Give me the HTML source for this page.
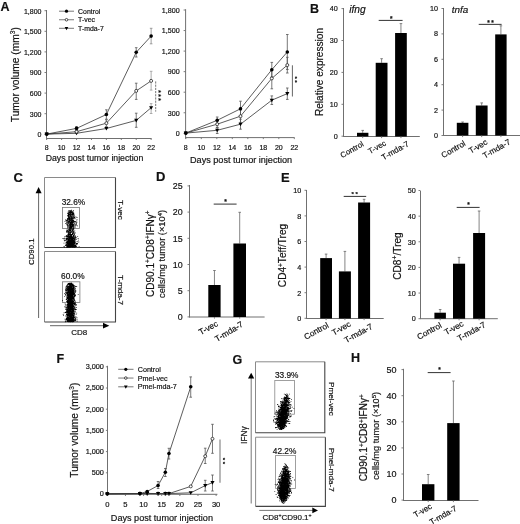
<!DOCTYPE html>
<html><head><meta charset="utf-8"><title>Figure</title>
<style>
html,body{margin:0;padding:0;background:#fff;}
svg{display:block;}
text{font-family:"Liberation Sans", Arial, Helvetica, sans-serif;fill:#111;stroke:#111;stroke-width:0.18px;}
</style></head>
<body>
<svg width="520" height="524" viewBox="0 0 520 524">
<rect width="520" height="524" fill="#fff"/>
<text x="0.50" y="11.30" font-size="12.5" font-weight="bold" fill="#000">A</text>
<line x1="46.50" y1="10.00" x2="46.50" y2="139.50" stroke="#707070" stroke-width="1.0"/>
<line x1="46.00" y1="138.50" x2="151.60" y2="138.50" stroke="#707070" stroke-width="1.0"/>
<line x1="44.50" y1="134.30" x2="46.50" y2="134.30" stroke="#707070" stroke-width="0.9"/>
<text x="41.50" y="137.17" font-size="7.0" text-anchor="end">0</text>
<line x1="44.50" y1="113.70" x2="46.50" y2="113.70" stroke="#707070" stroke-width="0.9"/>
<text x="41.50" y="116.57" font-size="7.0" text-anchor="end">300</text>
<line x1="44.50" y1="93.10" x2="46.50" y2="93.10" stroke="#707070" stroke-width="0.9"/>
<text x="41.50" y="95.97" font-size="7.0" text-anchor="end">600</text>
<line x1="44.50" y1="72.50" x2="46.50" y2="72.50" stroke="#707070" stroke-width="0.9"/>
<text x="41.50" y="75.37" font-size="7.0" text-anchor="end">900</text>
<line x1="44.50" y1="51.90" x2="46.50" y2="51.90" stroke="#707070" stroke-width="0.9"/>
<text x="41.50" y="54.77" font-size="7.0" text-anchor="end">1,200</text>
<line x1="44.50" y1="31.30" x2="46.50" y2="31.30" stroke="#707070" stroke-width="0.9"/>
<text x="41.50" y="34.17" font-size="7.0" text-anchor="end">1,500</text>
<line x1="44.50" y1="10.70" x2="46.50" y2="10.70" stroke="#707070" stroke-width="0.9"/>
<text x="41.50" y="13.57" font-size="7.0" text-anchor="end">1,800</text>
<line x1="46.70" y1="138.50" x2="46.70" y2="140.00" stroke="#707070" stroke-width="0.9"/>
<text x="46.70" y="150.30" font-size="6.9" text-anchor="middle">8</text>
<line x1="61.62" y1="138.50" x2="61.62" y2="140.00" stroke="#707070" stroke-width="0.9"/>
<text x="61.62" y="150.30" font-size="6.9" text-anchor="middle">10</text>
<line x1="76.54" y1="138.50" x2="76.54" y2="140.00" stroke="#707070" stroke-width="0.9"/>
<text x="76.54" y="150.30" font-size="6.9" text-anchor="middle">12</text>
<line x1="91.46" y1="138.50" x2="91.46" y2="140.00" stroke="#707070" stroke-width="0.9"/>
<text x="91.46" y="150.30" font-size="6.9" text-anchor="middle">14</text>
<line x1="106.38" y1="138.50" x2="106.38" y2="140.00" stroke="#707070" stroke-width="0.9"/>
<text x="106.38" y="150.30" font-size="6.9" text-anchor="middle">16</text>
<line x1="121.30" y1="138.50" x2="121.30" y2="140.00" stroke="#707070" stroke-width="0.9"/>
<text x="121.30" y="150.30" font-size="6.9" text-anchor="middle">18</text>
<line x1="136.22" y1="138.50" x2="136.22" y2="140.00" stroke="#707070" stroke-width="0.9"/>
<text x="136.22" y="150.30" font-size="6.9" text-anchor="middle">20</text>
<line x1="151.14" y1="138.50" x2="151.14" y2="140.00" stroke="#707070" stroke-width="0.9"/>
<text x="151.14" y="150.30" font-size="6.9" text-anchor="middle">22</text>
<text x="94.50" y="161.20" font-size="8.7" text-anchor="middle">Days post tumor injection</text>
<text transform="translate(18.70,74.70) rotate(-90)" font-size="10.2" text-anchor="middle">Tumor volume (mm<tspan dy="-3.8" font-size="6.6">3</tspan><tspan dy="3.8">)</tspan></text>
<line x1="59.00" y1="11.20" x2="74.00" y2="11.20" stroke="#555" stroke-width="0.8"/>
<circle cx="66.50" cy="11.20" r="1.6" fill="#000"/>
<text x="78.10" y="13.80" font-size="6.9">Control</text>
<line x1="59.00" y1="19.75" x2="74.00" y2="19.75" stroke="#555" stroke-width="0.8"/>
<circle cx="66.50" cy="19.75" r="1.3" fill="#fff" stroke="#222" stroke-width="0.8"/>
<text x="78.10" y="22.35" font-size="6.9">T-vec</text>
<line x1="59.00" y1="28.30" x2="74.00" y2="28.30" stroke="#555" stroke-width="0.8"/>
<path d="M64.66,26.92 L68.34,26.92 L66.50,30.14 Z" fill="#000"/>
<text x="78.10" y="30.90" font-size="6.9">T-mda-7</text>
<line x1="136.22" y1="47.70" x2="136.22" y2="57.00" stroke="#555" stroke-width="0.8"/>
<line x1="134.92" y1="47.70" x2="137.52" y2="47.70" stroke="#555" stroke-width="0.8"/>
<line x1="134.92" y1="57.00" x2="137.52" y2="57.00" stroke="#555" stroke-width="0.8"/>
<line x1="151.14" y1="28.30" x2="151.14" y2="43.80" stroke="#888" stroke-width="0.8"/>
<line x1="149.84" y1="28.30" x2="152.44" y2="28.30" stroke="#888" stroke-width="0.8"/>
<line x1="149.84" y1="43.80" x2="152.44" y2="43.80" stroke="#888" stroke-width="0.8"/>
<line x1="106.38" y1="109.80" x2="106.38" y2="119.20" stroke="#555" stroke-width="0.8"/>
<line x1="105.08" y1="109.80" x2="107.68" y2="109.80" stroke="#555" stroke-width="0.8"/>
<line x1="105.08" y1="119.20" x2="107.68" y2="119.20" stroke="#555" stroke-width="0.8"/>
<line x1="76.54" y1="126.60" x2="76.54" y2="130.20" stroke="#555" stroke-width="0.8"/>
<line x1="75.24" y1="126.60" x2="77.84" y2="126.60" stroke="#555" stroke-width="0.8"/>
<line x1="75.24" y1="130.20" x2="77.84" y2="130.20" stroke="#555" stroke-width="0.8"/>
<line x1="136.22" y1="83.20" x2="136.22" y2="99.40" stroke="#555" stroke-width="0.8"/>
<line x1="134.92" y1="83.20" x2="137.52" y2="83.20" stroke="#555" stroke-width="0.8"/>
<line x1="134.92" y1="99.40" x2="137.52" y2="99.40" stroke="#555" stroke-width="0.8"/>
<line x1="151.14" y1="71.30" x2="151.14" y2="90.10" stroke="#999" stroke-width="0.8"/>
<line x1="149.84" y1="71.30" x2="152.44" y2="71.30" stroke="#999" stroke-width="0.8"/>
<line x1="149.84" y1="90.10" x2="152.44" y2="90.10" stroke="#999" stroke-width="0.8"/>
<line x1="106.38" y1="119.80" x2="106.38" y2="126.60" stroke="#555" stroke-width="0.8"/>
<line x1="105.08" y1="119.80" x2="107.68" y2="119.80" stroke="#555" stroke-width="0.8"/>
<line x1="105.08" y1="126.60" x2="107.68" y2="126.60" stroke="#555" stroke-width="0.8"/>
<line x1="136.22" y1="113.20" x2="136.22" y2="127.30" stroke="#555" stroke-width="0.8"/>
<line x1="134.92" y1="113.20" x2="137.52" y2="113.20" stroke="#555" stroke-width="0.8"/>
<line x1="134.92" y1="127.30" x2="137.52" y2="127.30" stroke="#555" stroke-width="0.8"/>
<line x1="151.14" y1="103.60" x2="151.14" y2="113.50" stroke="#999" stroke-width="0.8"/>
<line x1="149.84" y1="103.60" x2="152.44" y2="103.60" stroke="#999" stroke-width="0.8"/>
<line x1="149.84" y1="113.50" x2="152.44" y2="113.50" stroke="#999" stroke-width="0.8"/>
<polyline points="46.70,134.10 76.54,128.40 106.38,114.50 136.22,52.30 151.14,36.10" fill="none" stroke="#333" stroke-width="0.8"/>
<polyline points="46.70,134.10 76.54,131.70 106.38,123.20 136.22,90.90 151.14,80.90" fill="none" stroke="#333" stroke-width="0.8"/>
<polyline points="46.70,134.10 76.54,133.30 106.38,128.50 136.22,120.40 151.14,107.70" fill="none" stroke="#333" stroke-width="0.8"/>
<path d="M44.63,132.55 L48.77,132.55 L46.70,136.17 Z" fill="#000"/>
<path d="M74.47,131.75 L78.61,131.75 L76.54,135.37 Z" fill="#000"/>
<path d="M104.31,126.95 L108.45,126.95 L106.38,130.57 Z" fill="#000"/>
<path d="M134.15,118.85 L138.29,118.85 L136.22,122.47 Z" fill="#000"/>
<path d="M149.07,106.15 L153.21,106.15 L151.14,109.77 Z" fill="#000"/>
<circle cx="46.70" cy="134.10" r="1.5" fill="#fff" stroke="#222" stroke-width="0.8"/>
<circle cx="76.54" cy="131.70" r="1.5" fill="#fff" stroke="#222" stroke-width="0.8"/>
<circle cx="106.38" cy="123.20" r="1.5" fill="#fff" stroke="#222" stroke-width="0.8"/>
<circle cx="136.22" cy="90.90" r="1.5" fill="#fff" stroke="#222" stroke-width="0.8"/>
<circle cx="151.14" cy="80.90" r="1.5" fill="#fff" stroke="#222" stroke-width="0.8"/>
<circle cx="46.70" cy="134.10" r="1.8" fill="#000"/>
<circle cx="76.54" cy="128.40" r="1.8" fill="#000"/>
<circle cx="106.38" cy="114.50" r="1.8" fill="#000"/>
<circle cx="136.22" cy="52.30" r="1.8" fill="#000"/>
<circle cx="151.14" cy="36.10" r="1.8" fill="#000"/>
<line x1="155.70" y1="81.40" x2="155.70" y2="111.60" stroke="#777" stroke-width="1.0" stroke-dasharray="2.2,1"/>
<text transform="translate(156.34,96.22) rotate(90)" font-size="6.3" text-anchor="middle" fill="#000" font-weight="bold" letter-spacing="1.55">***</text>
<line x1="185.60" y1="9.20" x2="185.60" y2="138.60" stroke="#707070" stroke-width="1.0"/>
<line x1="185.10" y1="137.60" x2="294.60" y2="137.60" stroke="#707070" stroke-width="1.0"/>
<line x1="183.60" y1="133.30" x2="185.60" y2="133.30" stroke="#707070" stroke-width="0.9"/>
<text x="179.60" y="136.14" font-size="7.1" text-anchor="end">0</text>
<line x1="183.60" y1="112.75" x2="185.60" y2="112.75" stroke="#707070" stroke-width="0.9"/>
<text x="179.60" y="115.59" font-size="7.1" text-anchor="end">300</text>
<line x1="183.60" y1="92.20" x2="185.60" y2="92.20" stroke="#707070" stroke-width="0.9"/>
<text x="179.60" y="95.04" font-size="7.1" text-anchor="end">600</text>
<line x1="183.60" y1="71.65" x2="185.60" y2="71.65" stroke="#707070" stroke-width="0.9"/>
<text x="179.60" y="74.49" font-size="7.1" text-anchor="end">900</text>
<line x1="183.60" y1="51.10" x2="185.60" y2="51.10" stroke="#707070" stroke-width="0.9"/>
<text x="179.60" y="53.94" font-size="7.1" text-anchor="end">1,200</text>
<line x1="183.60" y1="30.55" x2="185.60" y2="30.55" stroke="#707070" stroke-width="0.9"/>
<text x="179.60" y="33.39" font-size="7.1" text-anchor="end">1,500</text>
<line x1="183.60" y1="10.00" x2="185.60" y2="10.00" stroke="#707070" stroke-width="0.9"/>
<text x="179.60" y="12.84" font-size="7.1" text-anchor="end">1,800</text>
<line x1="185.80" y1="137.60" x2="185.80" y2="139.10" stroke="#707070" stroke-width="0.9"/>
<text x="185.80" y="149.60" font-size="7.0" text-anchor="middle">8</text>
<line x1="201.30" y1="137.60" x2="201.30" y2="139.10" stroke="#707070" stroke-width="0.9"/>
<text x="201.30" y="149.60" font-size="7.0" text-anchor="middle">10</text>
<line x1="216.80" y1="137.60" x2="216.80" y2="139.10" stroke="#707070" stroke-width="0.9"/>
<text x="216.80" y="149.60" font-size="7.0" text-anchor="middle">12</text>
<line x1="232.30" y1="137.60" x2="232.30" y2="139.10" stroke="#707070" stroke-width="0.9"/>
<text x="232.30" y="149.60" font-size="7.0" text-anchor="middle">14</text>
<line x1="247.80" y1="137.60" x2="247.80" y2="139.10" stroke="#707070" stroke-width="0.9"/>
<text x="247.80" y="149.60" font-size="7.0" text-anchor="middle">16</text>
<line x1="263.30" y1="137.60" x2="263.30" y2="139.10" stroke="#707070" stroke-width="0.9"/>
<text x="263.30" y="149.60" font-size="7.0" text-anchor="middle">18</text>
<line x1="278.80" y1="137.60" x2="278.80" y2="139.10" stroke="#707070" stroke-width="0.9"/>
<text x="278.80" y="149.60" font-size="7.0" text-anchor="middle">20</text>
<line x1="294.30" y1="137.60" x2="294.30" y2="139.10" stroke="#707070" stroke-width="0.9"/>
<text x="294.30" y="149.60" font-size="7.0" text-anchor="middle">22</text>
<text x="241.10" y="163.30" font-size="9.1" text-anchor="middle">Days post tumor injection</text>
<line x1="287.30" y1="34.50" x2="287.30" y2="69.50" stroke="#555" stroke-width="0.8"/>
<line x1="286.00" y1="34.50" x2="288.60" y2="34.50" stroke="#555" stroke-width="0.8"/>
<line x1="286.00" y1="69.50" x2="288.60" y2="69.50" stroke="#555" stroke-width="0.8"/>
<line x1="271.80" y1="62.40" x2="271.80" y2="77.00" stroke="#555" stroke-width="0.8"/>
<line x1="270.50" y1="62.40" x2="273.10" y2="62.40" stroke="#555" stroke-width="0.8"/>
<line x1="270.50" y1="77.00" x2="273.10" y2="77.00" stroke="#555" stroke-width="0.8"/>
<line x1="240.50" y1="101.20" x2="240.50" y2="116.40" stroke="#555" stroke-width="0.8"/>
<line x1="239.20" y1="101.20" x2="241.80" y2="101.20" stroke="#555" stroke-width="0.8"/>
<line x1="239.20" y1="116.40" x2="241.80" y2="116.40" stroke="#555" stroke-width="0.8"/>
<line x1="217.20" y1="117.00" x2="217.20" y2="123.60" stroke="#555" stroke-width="0.8"/>
<line x1="215.90" y1="117.00" x2="218.50" y2="117.00" stroke="#555" stroke-width="0.8"/>
<line x1="215.90" y1="123.60" x2="218.50" y2="123.60" stroke="#555" stroke-width="0.8"/>
<line x1="287.30" y1="57.30" x2="287.30" y2="73.00" stroke="#555" stroke-width="0.8"/>
<line x1="286.00" y1="57.30" x2="288.60" y2="57.30" stroke="#555" stroke-width="0.8"/>
<line x1="286.00" y1="73.00" x2="288.60" y2="73.00" stroke="#555" stroke-width="0.8"/>
<line x1="271.80" y1="70.00" x2="271.80" y2="88.80" stroke="#555" stroke-width="0.8"/>
<line x1="270.50" y1="70.00" x2="273.10" y2="70.00" stroke="#555" stroke-width="0.8"/>
<line x1="270.50" y1="88.80" x2="273.10" y2="88.80" stroke="#555" stroke-width="0.8"/>
<line x1="240.50" y1="110.00" x2="240.50" y2="122.40" stroke="#555" stroke-width="0.8"/>
<line x1="239.20" y1="110.00" x2="241.80" y2="110.00" stroke="#555" stroke-width="0.8"/>
<line x1="239.20" y1="122.40" x2="241.80" y2="122.40" stroke="#555" stroke-width="0.8"/>
<line x1="217.20" y1="121.00" x2="217.20" y2="127.40" stroke="#555" stroke-width="0.8"/>
<line x1="215.90" y1="121.00" x2="218.50" y2="121.00" stroke="#555" stroke-width="0.8"/>
<line x1="215.90" y1="127.40" x2="218.50" y2="127.40" stroke="#555" stroke-width="0.8"/>
<line x1="287.30" y1="88.00" x2="287.30" y2="99.40" stroke="#555" stroke-width="0.8"/>
<line x1="286.00" y1="88.00" x2="288.60" y2="88.00" stroke="#555" stroke-width="0.8"/>
<line x1="286.00" y1="99.40" x2="288.60" y2="99.40" stroke="#555" stroke-width="0.8"/>
<line x1="271.80" y1="95.90" x2="271.80" y2="104.50" stroke="#555" stroke-width="0.8"/>
<line x1="270.50" y1="95.90" x2="273.10" y2="95.90" stroke="#555" stroke-width="0.8"/>
<line x1="270.50" y1="104.50" x2="273.10" y2="104.50" stroke="#555" stroke-width="0.8"/>
<line x1="240.50" y1="119.20" x2="240.50" y2="129.20" stroke="#555" stroke-width="0.8"/>
<line x1="239.20" y1="119.20" x2="241.80" y2="119.20" stroke="#555" stroke-width="0.8"/>
<line x1="239.20" y1="129.20" x2="241.80" y2="129.20" stroke="#555" stroke-width="0.8"/>
<line x1="217.20" y1="127.60" x2="217.20" y2="133.50" stroke="#555" stroke-width="0.8"/>
<line x1="215.90" y1="127.60" x2="218.50" y2="127.60" stroke="#555" stroke-width="0.8"/>
<line x1="215.90" y1="133.50" x2="218.50" y2="133.50" stroke="#555" stroke-width="0.8"/>
<polyline points="185.80,133.10 217.20,120.30 240.50,108.80 271.80,69.70 287.30,52.00" fill="none" stroke="#333" stroke-width="0.8"/>
<polyline points="185.80,133.10 217.20,124.20 240.50,116.20 271.80,78.40 287.30,65.10" fill="none" stroke="#333" stroke-width="0.8"/>
<polyline points="185.80,133.10 217.20,130.30 240.50,124.20 271.80,100.20 287.30,93.60" fill="none" stroke="#333" stroke-width="0.8"/>
<path d="M183.73,131.55 L187.87,131.55 L185.80,135.17 Z" fill="#000"/>
<path d="M215.13,128.75 L219.27,128.75 L217.20,132.37 Z" fill="#000"/>
<path d="M238.43,122.65 L242.57,122.65 L240.50,126.27 Z" fill="#000"/>
<path d="M269.73,98.65 L273.87,98.65 L271.80,102.27 Z" fill="#000"/>
<path d="M285.23,92.05 L289.37,92.05 L287.30,95.67 Z" fill="#000"/>
<circle cx="185.80" cy="133.10" r="1.5" fill="#fff" stroke="#222" stroke-width="0.8"/>
<circle cx="217.20" cy="124.20" r="1.5" fill="#fff" stroke="#222" stroke-width="0.8"/>
<circle cx="240.50" cy="116.20" r="1.5" fill="#fff" stroke="#222" stroke-width="0.8"/>
<circle cx="271.80" cy="78.40" r="1.5" fill="#fff" stroke="#222" stroke-width="0.8"/>
<circle cx="287.30" cy="65.10" r="1.5" fill="#fff" stroke="#222" stroke-width="0.8"/>
<circle cx="185.80" cy="133.10" r="1.8" fill="#000"/>
<circle cx="217.20" cy="120.30" r="1.8" fill="#000"/>
<circle cx="240.50" cy="108.80" r="1.8" fill="#000"/>
<circle cx="271.80" cy="69.70" r="1.8" fill="#000"/>
<circle cx="287.30" cy="52.00" r="1.8" fill="#000"/>
<line x1="292.40" y1="65.30" x2="292.40" y2="96.50" stroke="#555" stroke-width="0.9"/>
<text transform="translate(292.99,80.23) rotate(90)" font-size="6.0" text-anchor="middle" fill="#000" font-weight="bold" letter-spacing="1.47">**</text>
<text x="310.00" y="12.60" font-size="12.5" font-weight="bold" fill="#000">B</text>
<line x1="343.50" y1="8.00" x2="343.50" y2="136.60" stroke="#707070" stroke-width="1.0"/>
<line x1="343.00" y1="136.50" x2="419.80" y2="136.50" stroke="#707070" stroke-width="1.0"/>
<line x1="341.50" y1="136.20" x2="343.50" y2="136.20" stroke="#707070" stroke-width="0.9"/>
<text x="337.70" y="138.86" font-size="7.2" text-anchor="end">0</text>
<line x1="341.50" y1="104.30" x2="343.50" y2="104.30" stroke="#707070" stroke-width="0.9"/>
<text x="337.70" y="106.96" font-size="7.2" text-anchor="end">10</text>
<line x1="341.50" y1="72.40" x2="343.50" y2="72.40" stroke="#707070" stroke-width="0.9"/>
<text x="337.70" y="75.06" font-size="7.2" text-anchor="end">20</text>
<line x1="341.50" y1="40.50" x2="343.50" y2="40.50" stroke="#707070" stroke-width="0.9"/>
<text x="337.70" y="43.16" font-size="7.2" text-anchor="end">30</text>
<line x1="341.50" y1="8.60" x2="343.50" y2="8.60" stroke="#707070" stroke-width="0.9"/>
<text x="337.70" y="11.26" font-size="7.2" text-anchor="end">40</text>
<text transform="translate(323.00,72.00) rotate(-90)" font-size="10.1" text-anchor="middle">Relative expression</text>
<text x="349.20" y="13.20" font-size="10.2" font-style="italic">ifng</text>
<line x1="362.70" y1="132.80" x2="362.70" y2="130.40" stroke="#666" stroke-width="0.8"/>
<line x1="361.40" y1="130.40" x2="364.00" y2="130.40" stroke="#666" stroke-width="0.8"/>
<rect x="357.00" y="132.80" width="11.40" height="3.70" fill="#000"/>
<line x1="362.70" y1="136.50" x2="362.70" y2="138.10" stroke="#707070" stroke-width="0.9"/>
<line x1="381.60" y1="62.80" x2="381.60" y2="58.70" stroke="#666" stroke-width="0.8"/>
<line x1="380.30" y1="58.70" x2="382.90" y2="58.70" stroke="#666" stroke-width="0.8"/>
<rect x="375.70" y="62.80" width="11.80" height="73.70" fill="#000"/>
<line x1="381.60" y1="136.50" x2="381.60" y2="138.10" stroke="#707070" stroke-width="0.9"/>
<line x1="400.95" y1="33.00" x2="400.95" y2="23.60" stroke="#666" stroke-width="0.8"/>
<line x1="399.65" y1="23.60" x2="402.25" y2="23.60" stroke="#666" stroke-width="0.8"/>
<rect x="395.10" y="33.00" width="11.70" height="103.50" fill="#000"/>
<line x1="400.95" y1="136.50" x2="400.95" y2="138.10" stroke="#707070" stroke-width="0.9"/>
<line x1="378.70" y1="20.40" x2="402.60" y2="20.40" stroke="#333" stroke-width="1.0"/>
<text x="391.20" y="20.61" font-size="6.4" text-anchor="middle" fill="#000" font-weight="bold">*</text>
<text transform="translate(364.30,145.50) rotate(-30)" font-size="7.9" text-anchor="end">Control</text>
<text transform="translate(386.70,144.70) rotate(-30)" font-size="7.9" text-anchor="end">T-vec</text>
<text transform="translate(409.60,145.40) rotate(-30)" font-size="8.1" text-anchor="end">T-mda-7</text>
<line x1="443.50" y1="8.00" x2="443.50" y2="135.90" stroke="#707070" stroke-width="1.0"/>
<line x1="443.00" y1="135.50" x2="520.00" y2="135.50" stroke="#707070" stroke-width="1.0"/>
<line x1="441.50" y1="135.50" x2="443.50" y2="135.50" stroke="#707070" stroke-width="0.9"/>
<text x="437.90" y="137.95" font-size="7.2" text-anchor="end">0</text>
<line x1="441.50" y1="110.10" x2="443.50" y2="110.10" stroke="#707070" stroke-width="0.9"/>
<text x="437.90" y="112.55" font-size="7.2" text-anchor="end">2</text>
<line x1="441.50" y1="84.70" x2="443.50" y2="84.70" stroke="#707070" stroke-width="0.9"/>
<text x="437.90" y="87.15" font-size="7.2" text-anchor="end">4</text>
<line x1="441.50" y1="59.30" x2="443.50" y2="59.30" stroke="#707070" stroke-width="0.9"/>
<text x="437.90" y="61.75" font-size="7.2" text-anchor="end">6</text>
<line x1="441.50" y1="33.90" x2="443.50" y2="33.90" stroke="#707070" stroke-width="0.9"/>
<text x="437.90" y="36.35" font-size="7.2" text-anchor="end">8</text>
<line x1="441.50" y1="8.50" x2="443.50" y2="8.50" stroke="#707070" stroke-width="0.9"/>
<text x="437.90" y="10.95" font-size="7.2" text-anchor="end">10</text>
<text x="451.70" y="12.70" font-size="9.9" font-style="italic">tnfa</text>
<line x1="462.60" y1="122.80" x2="462.60" y2="122.00" stroke="#666" stroke-width="0.8"/>
<line x1="461.30" y1="122.00" x2="463.90" y2="122.00" stroke="#666" stroke-width="0.8"/>
<rect x="456.80" y="122.80" width="11.60" height="12.70" fill="#000"/>
<line x1="462.60" y1="135.50" x2="462.60" y2="137.10" stroke="#707070" stroke-width="0.9"/>
<line x1="481.70" y1="105.50" x2="481.70" y2="102.90" stroke="#666" stroke-width="0.8"/>
<line x1="480.40" y1="102.90" x2="483.00" y2="102.90" stroke="#666" stroke-width="0.8"/>
<rect x="475.80" y="105.50" width="11.80" height="30.00" fill="#000"/>
<line x1="481.70" y1="135.50" x2="481.70" y2="137.10" stroke="#707070" stroke-width="0.9"/>
<line x1="500.90" y1="34.40" x2="500.90" y2="25.80" stroke="#666" stroke-width="0.8"/>
<line x1="499.60" y1="25.80" x2="502.20" y2="25.80" stroke="#666" stroke-width="0.8"/>
<rect x="495.20" y="34.40" width="11.40" height="101.10" fill="#000"/>
<line x1="500.90" y1="135.50" x2="500.90" y2="137.10" stroke="#707070" stroke-width="0.9"/>
<line x1="478.70" y1="24.40" x2="501.60" y2="24.40" stroke="#444" stroke-width="1.1"/>
<text x="491.36" y="24.81" font-size="6.4" text-anchor="middle" fill="#000" font-weight="bold" letter-spacing="1.61">**</text>
<text transform="translate(466.20,145.00) rotate(-30)" font-size="8.2" text-anchor="end">Control</text>
<text transform="translate(488.10,143.80) rotate(-30)" font-size="8.2" text-anchor="end">T-vec</text>
<text transform="translate(511.10,143.50) rotate(-30)" font-size="8.2" text-anchor="end">T-mda-7</text>
<text x="13.60" y="182.00" font-size="13" font-weight="bold" fill="#000">C</text>
<path d="M44.5,247.5 L44.5,177.5 L115.5,177.5" fill="none" stroke="#8a8a8a" stroke-width="1"/>
<path d="M115.5,177.5 L115.5,247.5 L44.5,247.5" fill="none" stroke="#444" stroke-width="1.1"/>
<path d="M44.5,322.0 L44.5,251.5 L115.5,251.5" fill="none" stroke="#8a8a8a" stroke-width="1"/>
<path d="M115.5,251.5 L115.5,322.0 L44.5,322.0" fill="none" stroke="#444" stroke-width="1.1"/>
<rect x="62.5" y="207.5" width="17.0" height="21.0" fill="none" stroke="#777" stroke-width="0.8"/>
<rect x="62.5" y="281.8" width="17.4" height="20.6" fill="none" stroke="#777" stroke-width="0.8"/>
<text x="73.40" y="205.10" font-size="8.3" text-anchor="middle" fill="#222">32.6%</text>
<text x="72.80" y="279.20" font-size="8.3" text-anchor="middle" fill="#222">60.0%</text>
<path d="M74.3 237.3h0.8v0.8h-0.8zM72.0 246.1h0.8v0.8h-0.8zM69.2 217.9h0.8v0.8h-0.8zM69.3 246.1h0.8v0.8h-0.8zM71.3 225.9h0.8v0.8h-0.8zM71.2 234.2h0.8v0.8h-0.8zM76.9 243.8h0.8v0.8h-0.8zM73.9 233.3h0.8v0.8h-0.8zM67.6 238.2h0.8v0.8h-0.8zM71.0 212.0h0.8v0.8h-0.8zM67.2 242.4h0.8v0.8h-0.8zM66.4 237.9h0.8v0.8h-0.8zM71.9 227.0h0.8v0.8h-0.8zM72.1 243.1h0.8v0.8h-0.8zM68.2 225.5h0.8v0.8h-0.8zM74.3 235.6h0.8v0.8h-0.8zM68.2 217.4h0.8v0.8h-0.8zM67.8 232.8h0.8v0.8h-0.8zM72.0 220.5h0.8v0.8h-0.8zM70.9 223.4h0.8v0.8h-0.8zM70.2 242.3h0.8v0.8h-0.8zM70.3 224.3h0.8v0.8h-0.8zM71.1 236.6h0.8v0.8h-0.8zM70.3 246.7h0.8v0.8h-0.8zM70.2 246.3h0.8v0.8h-0.8zM65.7 241.8h0.8v0.8h-0.8zM67.2 238.0h0.8v0.8h-0.8zM71.8 224.1h0.8v0.8h-0.8zM68.9 218.6h0.8v0.8h-0.8zM72.1 246.5h0.8v0.8h-0.8zM73.7 237.4h0.8v0.8h-0.8zM69.7 216.6h0.8v0.8h-0.8zM71.4 239.8h0.8v0.8h-0.8zM76.0 242.9h0.8v0.8h-0.8zM72.5 239.5h0.8v0.8h-0.8zM75.4 245.5h0.8v0.8h-0.8zM73.4 212.7h0.8v0.8h-0.8zM72.6 237.7h0.8v0.8h-0.8zM70.2 235.8h0.8v0.8h-0.8zM68.7 213.9h0.8v0.8h-0.8zM67.8 240.1h0.8v0.8h-0.8zM71.9 244.3h0.8v0.8h-0.8zM71.9 239.1h0.8v0.8h-0.8zM70.1 223.3h0.8v0.8h-0.8zM72.9 244.1h0.8v0.8h-0.8zM69.1 237.3h0.8v0.8h-0.8zM73.4 237.3h0.8v0.8h-0.8zM70.8 242.4h0.8v0.8h-0.8zM70.5 218.0h0.8v0.8h-0.8zM70.6 243.7h0.8v0.8h-0.8zM70.4 241.0h0.8v0.8h-0.8zM77.1 243.1h0.8v0.8h-0.8zM66.7 220.0h0.8v0.8h-0.8zM71.1 243.3h0.8v0.8h-0.8zM73.4 220.0h0.8v0.8h-0.8zM72.0 214.9h0.8v0.8h-0.8zM69.9 244.4h0.8v0.8h-0.8zM75.2 244.5h0.8v0.8h-0.8zM67.9 244.8h0.8v0.8h-0.8zM67.4 236.2h0.8v0.8h-0.8zM71.7 224.0h0.8v0.8h-0.8zM68.1 210.4h0.8v0.8h-0.8zM64.5 240.2h0.8v0.8h-0.8zM72.9 241.7h0.8v0.8h-0.8zM72.6 244.0h0.8v0.8h-0.8zM72.0 224.4h0.8v0.8h-0.8zM69.4 221.1h0.8v0.8h-0.8zM71.1 240.1h0.8v0.8h-0.8zM68.1 243.4h0.8v0.8h-0.8zM75.2 246.3h0.8v0.8h-0.8zM72.5 218.1h0.8v0.8h-0.8zM72.3 236.5h0.8v0.8h-0.8zM65.6 245.1h0.8v0.8h-0.8zM72.1 234.2h0.8v0.8h-0.8zM74.5 239.0h0.8v0.8h-0.8zM72.6 211.8h0.8v0.8h-0.8zM72.7 240.8h0.8v0.8h-0.8zM70.6 245.5h0.8v0.8h-0.8zM69.8 243.8h0.8v0.8h-0.8zM72.2 244.9h0.8v0.8h-0.8zM71.6 240.5h0.8v0.8h-0.8zM71.0 222.5h0.8v0.8h-0.8zM69.8 242.7h0.8v0.8h-0.8zM74.4 220.9h0.8v0.8h-0.8zM67.6 243.9h0.8v0.8h-0.8zM70.4 213.9h0.8v0.8h-0.8zM69.1 243.8h0.8v0.8h-0.8zM73.0 218.8h0.8v0.8h-0.8zM73.2 230.7h0.8v0.8h-0.8zM73.0 226.2h0.8v0.8h-0.8zM72.6 241.2h0.8v0.8h-0.8zM67.2 219.4h0.8v0.8h-0.8zM74.6 232.3h0.8v0.8h-0.8zM71.0 210.3h0.8v0.8h-0.8zM70.2 223.4h0.8v0.8h-0.8zM70.4 234.1h0.8v0.8h-0.8zM69.7 216.1h0.8v0.8h-0.8zM71.8 240.0h0.8v0.8h-0.8zM70.9 231.1h0.8v0.8h-0.8zM69.7 241.8h0.8v0.8h-0.8zM64.0 240.4h0.8v0.8h-0.8zM70.3 234.7h0.8v0.8h-0.8zM71.9 244.6h0.8v0.8h-0.8zM72.0 239.9h0.8v0.8h-0.8zM70.3 243.5h0.8v0.8h-0.8zM71.2 227.8h0.8v0.8h-0.8zM73.3 238.1h0.8v0.8h-0.8zM69.4 220.2h0.8v0.8h-0.8zM74.5 246.9h0.8v0.8h-0.8zM66.1 222.4h0.8v0.8h-0.8zM67.6 223.1h0.8v0.8h-0.8zM68.5 214.5h0.8v0.8h-0.8zM65.0 223.2h0.8v0.8h-0.8zM68.1 242.6h0.8v0.8h-0.8zM73.9 241.3h0.8v0.8h-0.8zM73.4 217.2h0.8v0.8h-0.8zM70.5 230.8h0.8v0.8h-0.8zM74.0 234.1h0.8v0.8h-0.8zM71.3 240.6h0.8v0.8h-0.8zM69.3 235.7h0.8v0.8h-0.8zM71.3 239.0h0.8v0.8h-0.8zM70.3 244.1h0.8v0.8h-0.8zM72.6 241.9h0.8v0.8h-0.8zM67.3 229.8h0.8v0.8h-0.8zM72.7 235.4h0.8v0.8h-0.8zM69.3 230.0h0.8v0.8h-0.8zM72.4 216.3h0.8v0.8h-0.8zM66.9 220.5h0.8v0.8h-0.8zM69.5 224.5h0.8v0.8h-0.8zM70.6 226.1h0.8v0.8h-0.8zM72.3 226.0h0.8v0.8h-0.8zM67.5 238.8h0.8v0.8h-0.8zM75.0 246.5h0.8v0.8h-0.8zM71.9 242.8h0.8v0.8h-0.8zM69.3 243.1h0.8v0.8h-0.8zM73.8 242.5h0.8v0.8h-0.8zM70.9 239.2h0.8v0.8h-0.8zM73.7 245.5h0.8v0.8h-0.8zM76.7 241.1h0.8v0.8h-0.8zM72.5 237.0h0.8v0.8h-0.8zM69.3 214.7h0.8v0.8h-0.8zM69.5 236.7h0.8v0.8h-0.8zM71.8 221.0h0.8v0.8h-0.8zM71.2 217.4h0.8v0.8h-0.8zM68.5 237.2h0.8v0.8h-0.8zM68.9 243.0h0.8v0.8h-0.8zM71.9 225.1h0.8v0.8h-0.8zM76.7 242.7h0.8v0.8h-0.8zM63.9 237.7h0.8v0.8h-0.8zM72.3 218.1h0.8v0.8h-0.8zM70.1 246.4h0.8v0.8h-0.8zM71.9 232.7h0.8v0.8h-0.8zM72.3 225.1h0.8v0.8h-0.8zM70.8 244.2h0.8v0.8h-0.8zM68.1 217.0h0.8v0.8h-0.8zM67.0 242.0h0.8v0.8h-0.8zM66.1 219.8h0.8v0.8h-0.8zM72.8 232.1h0.8v0.8h-0.8zM70.0 221.9h0.8v0.8h-0.8zM69.2 244.1h0.8v0.8h-0.8zM69.7 231.9h0.8v0.8h-0.8zM67.2 246.5h0.8v0.8h-0.8zM71.4 239.8h0.8v0.8h-0.8zM74.1 241.2h0.8v0.8h-0.8zM73.5 237.6h0.8v0.8h-0.8zM67.1 225.8h0.8v0.8h-0.8zM73.1 232.3h0.8v0.8h-0.8zM68.7 245.9h0.8v0.8h-0.8zM66.1 220.4h0.8v0.8h-0.8zM67.5 246.8h0.8v0.8h-0.8zM68.1 242.5h0.8v0.8h-0.8zM70.2 229.3h0.8v0.8h-0.8zM68.0 240.1h0.8v0.8h-0.8zM67.2 231.1h0.8v0.8h-0.8zM69.7 231.2h0.8v0.8h-0.8zM75.4 237.1h0.8v0.8h-0.8zM69.1 211.3h0.8v0.8h-0.8zM71.7 236.9h0.8v0.8h-0.8zM70.9 246.5h0.8v0.8h-0.8zM76.2 224.6h0.8v0.8h-0.8zM65.7 242.3h0.8v0.8h-0.8zM72.9 235.2h0.8v0.8h-0.8zM67.5 220.8h0.8v0.8h-0.8zM69.1 245.3h0.8v0.8h-0.8zM70.2 211.3h0.8v0.8h-0.8zM77.2 225.5h0.8v0.8h-0.8zM68.7 247.0h0.8v0.8h-0.8zM66.3 223.4h0.8v0.8h-0.8zM74.0 244.2h0.8v0.8h-0.8zM68.5 239.4h0.8v0.8h-0.8zM70.0 243.4h0.8v0.8h-0.8zM70.6 239.9h0.8v0.8h-0.8zM70.4 229.6h0.8v0.8h-0.8zM70.2 242.5h0.8v0.8h-0.8zM70.9 211.9h0.8v0.8h-0.8zM71.3 235.4h0.8v0.8h-0.8zM72.0 230.4h0.8v0.8h-0.8zM69.5 236.4h0.8v0.8h-0.8zM68.8 217.1h0.8v0.8h-0.8zM68.1 221.4h0.8v0.8h-0.8zM72.2 238.5h0.8v0.8h-0.8zM70.2 231.7h0.8v0.8h-0.8zM72.1 243.1h0.8v0.8h-0.8zM72.0 239.4h0.8v0.8h-0.8zM75.0 244.5h0.8v0.8h-0.8zM71.2 242.0h0.8v0.8h-0.8zM72.6 239.3h0.8v0.8h-0.8zM67.8 224.7h0.8v0.8h-0.8zM67.8 243.0h0.8v0.8h-0.8zM69.8 222.8h0.8v0.8h-0.8zM67.8 214.6h0.8v0.8h-0.8zM72.4 246.3h0.8v0.8h-0.8zM67.2 238.0h0.8v0.8h-0.8zM70.8 242.8h0.8v0.8h-0.8zM64.3 237.7h0.8v0.8h-0.8zM67.8 239.5h0.8v0.8h-0.8zM69.7 212.3h0.8v0.8h-0.8zM69.9 219.8h0.8v0.8h-0.8zM66.0 240.8h0.8v0.8h-0.8zM70.9 238.6h0.8v0.8h-0.8zM72.9 218.5h0.8v0.8h-0.8zM72.3 246.1h0.8v0.8h-0.8zM69.0 218.3h0.8v0.8h-0.8zM69.1 237.3h0.8v0.8h-0.8zM67.7 217.9h0.8v0.8h-0.8zM72.3 241.7h0.8v0.8h-0.8zM73.6 224.1h0.8v0.8h-0.8zM69.3 217.4h0.8v0.8h-0.8zM67.0 213.0h0.8v0.8h-0.8zM71.0 219.2h0.8v0.8h-0.8zM72.2 220.0h0.8v0.8h-0.8zM63.6 237.9h0.8v0.8h-0.8zM70.8 235.5h0.8v0.8h-0.8zM76.3 246.2h0.8v0.8h-0.8zM72.8 246.2h0.8v0.8h-0.8zM72.1 243.2h0.8v0.8h-0.8zM71.7 240.8h0.8v0.8h-0.8zM73.4 244.2h0.8v0.8h-0.8zM68.2 245.9h0.8v0.8h-0.8zM68.8 211.7h0.8v0.8h-0.8zM71.4 216.7h0.8v0.8h-0.8zM68.9 229.4h0.8v0.8h-0.8zM71.0 215.5h0.8v0.8h-0.8zM65.7 239.3h0.8v0.8h-0.8zM72.1 223.3h0.8v0.8h-0.8zM72.3 223.5h0.8v0.8h-0.8zM70.5 224.7h0.8v0.8h-0.8zM70.8 215.7h0.8v0.8h-0.8zM74.9 242.2h0.8v0.8h-0.8zM67.8 240.3h0.8v0.8h-0.8zM68.3 239.4h0.8v0.8h-0.8zM68.2 212.4h0.8v0.8h-0.8zM69.4 234.6h0.8v0.8h-0.8zM68.0 241.0h0.8v0.8h-0.8zM70.6 218.4h0.8v0.8h-0.8zM68.9 231.5h0.8v0.8h-0.8zM67.8 211.5h0.8v0.8h-0.8zM67.1 214.9h0.8v0.8h-0.8zM73.3 221.1h0.8v0.8h-0.8zM70.1 233.7h0.8v0.8h-0.8zM69.9 236.0h0.8v0.8h-0.8zM70.7 244.9h0.8v0.8h-0.8zM70.2 226.2h0.8v0.8h-0.8zM71.7 211.6h0.8v0.8h-0.8zM72.1 243.8h0.8v0.8h-0.8zM69.2 213.9h0.8v0.8h-0.8zM68.7 215.5h0.8v0.8h-0.8zM67.8 246.3h0.8v0.8h-0.8zM67.4 242.4h0.8v0.8h-0.8zM73.2 227.5h0.8v0.8h-0.8zM68.4 217.3h0.8v0.8h-0.8zM66.1 231.6h0.8v0.8h-0.8zM68.6 227.6h0.8v0.8h-0.8zM68.6 244.7h0.8v0.8h-0.8zM71.0 234.0h0.8v0.8h-0.8zM68.5 214.9h0.8v0.8h-0.8zM72.0 245.7h0.8v0.8h-0.8zM71.7 239.7h0.8v0.8h-0.8zM73.4 216.6h0.8v0.8h-0.8zM75.5 216.5h0.8v0.8h-0.8zM77.3 236.0h0.8v0.8h-0.8zM73.4 215.4h0.8v0.8h-0.8zM67.6 239.9h0.8v0.8h-0.8zM69.6 239.6h0.8v0.8h-0.8zM70.8 212.2h0.8v0.8h-0.8zM76.0 243.4h0.8v0.8h-0.8zM72.4 243.0h0.8v0.8h-0.8zM73.8 245.5h0.8v0.8h-0.8zM70.2 240.7h0.8v0.8h-0.8zM72.2 241.2h0.8v0.8h-0.8zM72.3 218.7h0.8v0.8h-0.8zM69.5 211.7h0.8v0.8h-0.8zM72.0 214.1h0.8v0.8h-0.8zM73.4 246.4h0.8v0.8h-0.8zM70.2 240.2h0.8v0.8h-0.8zM73.3 246.0h0.8v0.8h-0.8zM73.6 228.4h0.8v0.8h-0.8zM70.8 242.4h0.8v0.8h-0.8zM70.4 214.1h0.8v0.8h-0.8zM69.8 218.8h0.8v0.8h-0.8zM69.1 224.1h0.8v0.8h-0.8zM71.1 238.2h0.8v0.8h-0.8zM69.6 238.4h0.8v0.8h-0.8zM69.8 237.0h0.8v0.8h-0.8zM68.6 234.3h0.8v0.8h-0.8zM66.7 238.8h0.8v0.8h-0.8zM68.2 246.4h0.8v0.8h-0.8zM71.2 235.8h0.8v0.8h-0.8zM67.6 244.0h0.8v0.8h-0.8zM69.1 213.6h0.8v0.8h-0.8zM73.7 231.5h0.8v0.8h-0.8zM73.6 238.4h0.8v0.8h-0.8zM68.8 239.7h0.8v0.8h-0.8zM71.8 222.8h0.8v0.8h-0.8zM68.9 232.6h0.8v0.8h-0.8zM74.9 246.0h0.8v0.8h-0.8zM69.1 240.3h0.8v0.8h-0.8zM70.9 238.9h0.8v0.8h-0.8zM73.3 214.1h0.8v0.8h-0.8zM68.7 213.4h0.8v0.8h-0.8zM73.5 220.9h0.8v0.8h-0.8zM68.6 217.6h0.8v0.8h-0.8zM71.3 246.7h0.8v0.8h-0.8zM69.9 209.9h0.8v0.8h-0.8zM70.1 229.9h0.8v0.8h-0.8zM70.7 213.7h0.8v0.8h-0.8zM70.5 240.1h0.8v0.8h-0.8zM68.4 213.1h0.8v0.8h-0.8zM72.2 214.2h0.8v0.8h-0.8zM72.0 214.8h0.8v0.8h-0.8zM73.3 223.9h0.8v0.8h-0.8zM74.2 238.8h0.8v0.8h-0.8zM67.2 243.4h0.8v0.8h-0.8zM73.3 223.6h0.8v0.8h-0.8zM73.3 224.4h0.8v0.8h-0.8zM69.3 243.8h0.8v0.8h-0.8zM73.3 242.2h0.8v0.8h-0.8zM74.0 217.1h0.8v0.8h-0.8zM69.2 243.4h0.8v0.8h-0.8zM67.1 243.9h0.8v0.8h-0.8zM69.7 219.4h0.8v0.8h-0.8zM77.9 239.8h0.8v0.8h-0.8zM71.1 220.2h0.8v0.8h-0.8zM67.7 222.4h0.8v0.8h-0.8zM69.9 236.9h0.8v0.8h-0.8zM68.1 237.6h0.8v0.8h-0.8zM69.5 236.4h0.8v0.8h-0.8zM70.9 238.0h0.8v0.8h-0.8zM64.6 221.0h0.8v0.8h-0.8zM71.6 242.9h0.8v0.8h-0.8zM73.5 224.2h0.8v0.8h-0.8zM70.1 245.4h0.8v0.8h-0.8zM69.6 237.4h0.8v0.8h-0.8zM72.7 225.5h0.8v0.8h-0.8zM67.5 219.2h0.8v0.8h-0.8zM67.5 236.6h0.8v0.8h-0.8zM67.4 230.8h0.8v0.8h-0.8zM70.2 239.8h0.8v0.8h-0.8zM71.5 237.0h0.8v0.8h-0.8zM70.2 212.5h0.8v0.8h-0.8zM72.1 243.9h0.8v0.8h-0.8zM72.1 213.3h0.8v0.8h-0.8zM71.9 243.8h0.8v0.8h-0.8zM68.5 243.5h0.8v0.8h-0.8zM70.0 245.6h0.8v0.8h-0.8zM73.9 240.6h0.8v0.8h-0.8zM68.0 218.6h0.8v0.8h-0.8zM69.8 235.2h0.8v0.8h-0.8zM69.4 235.1h0.8v0.8h-0.8zM70.2 239.9h0.8v0.8h-0.8zM68.1 231.2h0.8v0.8h-0.8zM67.1 240.8h0.8v0.8h-0.8zM76.4 220.6h0.8v0.8h-0.8zM72.1 228.7h0.8v0.8h-0.8zM68.8 238.0h0.8v0.8h-0.8zM70.2 234.5h0.8v0.8h-0.8zM72.1 216.9h0.8v0.8h-0.8zM69.8 246.4h0.8v0.8h-0.8zM72.3 241.2h0.8v0.8h-0.8zM69.1 243.9h0.8v0.8h-0.8zM69.5 229.1h0.8v0.8h-0.8zM70.4 246.0h0.8v0.8h-0.8zM69.5 243.5h0.8v0.8h-0.8zM64.3 246.6h0.8v0.8h-0.8zM70.6 220.3h0.8v0.8h-0.8zM71.1 236.4h0.8v0.8h-0.8zM71.3 231.5h0.8v0.8h-0.8zM68.1 239.6h0.8v0.8h-0.8zM71.2 222.8h0.8v0.8h-0.8zM71.0 215.9h0.8v0.8h-0.8zM66.2 236.4h0.8v0.8h-0.8zM64.9 240.1h0.8v0.8h-0.8zM71.3 231.4h0.8v0.8h-0.8zM68.2 246.8h0.8v0.8h-0.8zM72.4 233.1h0.8v0.8h-0.8zM75.0 225.3h0.8v0.8h-0.8zM69.1 243.6h0.8v0.8h-0.8zM68.8 236.1h0.8v0.8h-0.8zM70.4 223.9h0.8v0.8h-0.8zM71.9 224.6h0.8v0.8h-0.8zM67.7 246.1h0.8v0.8h-0.8zM73.9 246.3h0.8v0.8h-0.8zM73.2 240.2h0.8v0.8h-0.8zM71.9 224.2h0.8v0.8h-0.8zM69.2 241.6h0.8v0.8h-0.8zM72.6 221.2h0.8v0.8h-0.8zM72.2 226.5h0.8v0.8h-0.8zM67.5 238.0h0.8v0.8h-0.8zM74.7 232.7h0.8v0.8h-0.8zM69.7 228.5h0.8v0.8h-0.8zM71.6 246.5h0.8v0.8h-0.8zM69.3 219.0h0.8v0.8h-0.8zM71.7 239.6h0.8v0.8h-0.8zM72.6 212.6h0.8v0.8h-0.8zM68.7 215.4h0.8v0.8h-0.8zM66.7 220.8h0.8v0.8h-0.8zM69.5 246.9h0.8v0.8h-0.8zM67.3 241.9h0.8v0.8h-0.8zM68.7 244.6h0.8v0.8h-0.8zM70.1 213.2h0.8v0.8h-0.8zM70.5 241.0h0.8v0.8h-0.8zM73.3 235.1h0.8v0.8h-0.8zM68.1 233.8h0.8v0.8h-0.8zM71.6 241.5h0.8v0.8h-0.8zM69.3 225.8h0.8v0.8h-0.8zM74.0 237.4h0.8v0.8h-0.8zM76.1 223.3h0.8v0.8h-0.8zM70.9 232.0h0.8v0.8h-0.8zM75.0 237.8h0.8v0.8h-0.8zM69.3 218.5h0.8v0.8h-0.8zM66.9 224.1h0.8v0.8h-0.8zM67.6 234.1h0.8v0.8h-0.8zM66.7 236.3h0.8v0.8h-0.8zM68.2 243.3h0.8v0.8h-0.8zM70.0 240.2h0.8v0.8h-0.8zM73.6 238.5h0.8v0.8h-0.8zM72.5 244.6h0.8v0.8h-0.8zM71.6 220.3h0.8v0.8h-0.8zM69.5 216.0h0.8v0.8h-0.8zM68.8 232.1h0.8v0.8h-0.8zM70.6 217.6h0.8v0.8h-0.8zM71.0 238.3h0.8v0.8h-0.8zM71.3 238.7h0.8v0.8h-0.8zM71.4 217.3h0.8v0.8h-0.8zM70.3 241.7h0.8v0.8h-0.8zM65.6 238.3h0.8v0.8h-0.8zM67.9 234.2h0.8v0.8h-0.8zM68.5 245.5h0.8v0.8h-0.8zM75.1 244.4h0.8v0.8h-0.8zM69.5 221.4h0.8v0.8h-0.8zM72.1 218.9h0.8v0.8h-0.8zM74.5 245.5h0.8v0.8h-0.8zM71.3 218.4h0.8v0.8h-0.8zM69.6 242.5h0.8v0.8h-0.8zM69.8 226.0h0.8v0.8h-0.8zM68.2 229.4h0.8v0.8h-0.8zM71.4 238.3h0.8v0.8h-0.8zM73.6 245.7h0.8v0.8h-0.8zM71.0 209.8h0.8v0.8h-0.8zM72.4 218.7h0.8v0.8h-0.8zM72.5 241.7h0.8v0.8h-0.8zM74.5 232.2h0.8v0.8h-0.8zM69.1 224.7h0.8v0.8h-0.8zM71.1 246.3h0.8v0.8h-0.8zM72.0 223.5h0.8v0.8h-0.8zM73.9 241.6h0.8v0.8h-0.8zM64.3 246.4h0.8v0.8h-0.8zM69.3 242.6h0.8v0.8h-0.8zM70.1 241.5h0.8v0.8h-0.8zM68.0 241.8h0.8v0.8h-0.8zM72.9 243.4h0.8v0.8h-0.8zM70.9 223.8h0.8v0.8h-0.8zM69.6 239.8h0.8v0.8h-0.8zM66.4 243.4h0.8v0.8h-0.8zM67.2 245.0h0.8v0.8h-0.8zM68.1 245.3h0.8v0.8h-0.8zM71.8 245.3h0.8v0.8h-0.8zM67.8 215.7h0.8v0.8h-0.8zM66.1 230.8h0.8v0.8h-0.8zM67.0 235.7h0.8v0.8h-0.8zM69.1 245.0h0.8v0.8h-0.8zM73.9 234.0h0.8v0.8h-0.8zM76.0 223.5h0.8v0.8h-0.8zM69.5 211.5h0.8v0.8h-0.8zM72.5 224.7h0.8v0.8h-0.8zM74.3 242.9h0.8v0.8h-0.8zM72.6 211.5h0.8v0.8h-0.8zM70.3 218.8h0.8v0.8h-0.8zM67.6 225.9h0.8v0.8h-0.8zM69.4 237.8h0.8v0.8h-0.8zM66.6 229.6h0.8v0.8h-0.8zM71.3 244.9h0.8v0.8h-0.8zM72.3 220.7h0.8v0.8h-0.8zM65.7 238.4h0.8v0.8h-0.8zM70.5 242.9h0.8v0.8h-0.8zM71.4 245.7h0.8v0.8h-0.8zM73.9 244.7h0.8v0.8h-0.8zM73.8 217.5h0.8v0.8h-0.8zM72.7 243.1h0.8v0.8h-0.8zM68.9 240.8h0.8v0.8h-0.8zM69.5 234.1h0.8v0.8h-0.8zM72.6 211.8h0.8v0.8h-0.8zM69.1 218.9h0.8v0.8h-0.8zM70.5 242.3h0.8v0.8h-0.8zM73.8 215.0h0.8v0.8h-0.8zM70.7 226.0h0.8v0.8h-0.8zM67.4 223.0h0.8v0.8h-0.8zM69.9 242.3h0.8v0.8h-0.8zM71.5 229.3h0.8v0.8h-0.8zM70.0 215.2h0.8v0.8h-0.8zM72.6 230.3h0.8v0.8h-0.8zM73.0 226.8h0.8v0.8h-0.8zM69.0 241.7h0.8v0.8h-0.8zM69.3 226.4h0.8v0.8h-0.8zM70.4 241.2h0.8v0.8h-0.8zM67.5 237.9h0.8v0.8h-0.8zM71.6 245.0h0.8v0.8h-0.8zM70.2 242.0h0.8v0.8h-0.8zM72.0 233.2h0.8v0.8h-0.8zM69.1 236.6h0.8v0.8h-0.8zM68.4 236.2h0.8v0.8h-0.8zM75.4 244.7h0.8v0.8h-0.8zM68.4 217.6h0.8v0.8h-0.8zM69.0 234.3h0.8v0.8h-0.8zM68.7 237.9h0.8v0.8h-0.8zM69.7 234.9h0.8v0.8h-0.8zM68.3 239.2h0.8v0.8h-0.8zM70.5 237.0h0.8v0.8h-0.8zM68.8 233.6h0.8v0.8h-0.8zM69.6 241.1h0.8v0.8h-0.8zM71.1 227.0h0.8v0.8h-0.8zM72.5 239.4h0.8v0.8h-0.8zM71.9 241.9h0.8v0.8h-0.8zM68.8 217.3h0.8v0.8h-0.8zM71.2 226.8h0.8v0.8h-0.8zM70.3 246.0h0.8v0.8h-0.8zM70.4 246.4h0.8v0.8h-0.8zM66.2 246.9h0.8v0.8h-0.8zM71.7 212.8h0.8v0.8h-0.8zM70.3 243.8h0.8v0.8h-0.8zM75.1 245.8h0.8v0.8h-0.8zM72.3 245.2h0.8v0.8h-0.8zM67.7 241.6h0.8v0.8h-0.8zM67.1 240.8h0.8v0.8h-0.8zM73.6 241.7h0.8v0.8h-0.8zM68.4 238.7h0.8v0.8h-0.8zM72.4 243.1h0.8v0.8h-0.8zM69.8 237.1h0.8v0.8h-0.8zM75.3 221.6h0.8v0.8h-0.8zM70.6 215.6h0.8v0.8h-0.8zM74.6 245.3h0.8v0.8h-0.8zM74.1 242.4h0.8v0.8h-0.8zM69.4 219.3h0.8v0.8h-0.8zM69.8 243.7h0.8v0.8h-0.8zM73.6 225.3h0.8v0.8h-0.8zM70.7 240.0h0.8v0.8h-0.8zM68.6 229.0h0.8v0.8h-0.8zM73.3 221.0h0.8v0.8h-0.8zM76.6 219.3h0.8v0.8h-0.8zM70.4 214.4h0.8v0.8h-0.8zM73.4 214.6h0.8v0.8h-0.8zM70.1 214.3h0.8v0.8h-0.8zM73.5 215.3h0.8v0.8h-0.8zM70.1 244.0h0.8v0.8h-0.8zM74.1 237.5h0.8v0.8h-0.8zM71.9 217.2h0.8v0.8h-0.8zM70.2 237.6h0.8v0.8h-0.8zM71.4 238.0h0.8v0.8h-0.8zM69.3 236.9h0.8v0.8h-0.8zM68.0 220.7h0.8v0.8h-0.8zM68.1 234.8h0.8v0.8h-0.8zM70.6 244.6h0.8v0.8h-0.8zM68.2 231.4h0.8v0.8h-0.8zM71.8 237.1h0.8v0.8h-0.8zM72.2 245.7h0.8v0.8h-0.8zM71.7 221.9h0.8v0.8h-0.8zM69.5 241.8h0.8v0.8h-0.8zM70.8 236.6h0.8v0.8h-0.8zM70.7 243.1h0.8v0.8h-0.8zM73.0 229.3h0.8v0.8h-0.8zM68.7 238.0h0.8v0.8h-0.8zM69.6 230.1h0.8v0.8h-0.8zM70.2 244.6h0.8v0.8h-0.8zM70.5 245.5h0.8v0.8h-0.8zM68.9 239.9h0.8v0.8h-0.8zM69.2 246.7h0.8v0.8h-0.8zM73.5 242.0h0.8v0.8h-0.8zM69.2 243.9h0.8v0.8h-0.8zM73.2 245.1h0.8v0.8h-0.8zM75.1 223.9h0.8v0.8h-0.8zM74.2 246.8h0.8v0.8h-0.8zM66.7 231.9h0.8v0.8h-0.8zM72.7 237.0h0.8v0.8h-0.8zM71.8 219.5h0.8v0.8h-0.8zM72.3 243.7h0.8v0.8h-0.8zM67.2 227.5h0.8v0.8h-0.8zM72.8 241.1h0.8v0.8h-0.8zM68.2 221.2h0.8v0.8h-0.8zM73.0 228.5h0.8v0.8h-0.8zM72.6 231.4h0.8v0.8h-0.8zM76.4 222.1h0.8v0.8h-0.8zM69.7 212.4h0.8v0.8h-0.8zM66.9 242.7h0.8v0.8h-0.8zM73.5 246.1h0.8v0.8h-0.8zM72.6 221.6h0.8v0.8h-0.8zM69.8 218.7h0.8v0.8h-0.8zM73.1 228.2h0.8v0.8h-0.8zM72.1 215.0h0.8v0.8h-0.8zM67.5 240.3h0.8v0.8h-0.8zM69.7 230.1h0.8v0.8h-0.8zM69.7 238.5h0.8v0.8h-0.8zM70.5 245.3h0.8v0.8h-0.8zM71.3 244.5h0.8v0.8h-0.8zM69.0 245.6h0.8v0.8h-0.8zM70.3 245.8h0.8v0.8h-0.8zM72.3 239.1h0.8v0.8h-0.8zM70.5 237.1h0.8v0.8h-0.8zM70.0 212.6h0.8v0.8h-0.8zM69.9 216.0h0.8v0.8h-0.8zM70.5 237.6h0.8v0.8h-0.8zM65.8 244.4h0.8v0.8h-0.8zM70.9 234.7h0.8v0.8h-0.8zM68.9 210.0h0.8v0.8h-0.8zM70.9 221.0h0.8v0.8h-0.8zM67.0 242.5h0.8v0.8h-0.8zM72.9 218.5h0.8v0.8h-0.8zM71.2 220.4h0.8v0.8h-0.8zM67.6 224.6h0.8v0.8h-0.8zM71.4 239.5h0.8v0.8h-0.8zM68.8 244.0h0.8v0.8h-0.8zM74.8 221.3h0.8v0.8h-0.8zM72.1 239.3h0.8v0.8h-0.8zM68.7 237.8h0.8v0.8h-0.8zM71.1 235.3h0.8v0.8h-0.8zM70.7 238.9h0.8v0.8h-0.8zM73.9 243.6h0.8v0.8h-0.8zM71.5 221.2h0.8v0.8h-0.8zM72.0 237.0h0.8v0.8h-0.8zM68.1 215.7h0.8v0.8h-0.8zM72.8 237.4h0.8v0.8h-0.8zM76.3 243.1h0.8v0.8h-0.8zM72.5 247.0h0.8v0.8h-0.8zM70.6 236.3h0.8v0.8h-0.8zM70.9 225.1h0.8v0.8h-0.8zM68.3 238.8h0.8v0.8h-0.8zM70.8 230.4h0.8v0.8h-0.8zM68.1 216.6h0.8v0.8h-0.8zM70.9 237.6h0.8v0.8h-0.8zM69.8 243.3h0.8v0.8h-0.8zM68.7 245.0h0.8v0.8h-0.8zM72.3 246.6h0.8v0.8h-0.8zM67.4 230.0h0.8v0.8h-0.8zM70.5 222.8h0.8v0.8h-0.8zM67.6 216.4h0.8v0.8h-0.8zM74.7 234.9h0.8v0.8h-0.8zM76.0 243.4h0.8v0.8h-0.8zM72.5 222.0h0.8v0.8h-0.8zM75.8 244.2h0.8v0.8h-0.8zM72.4 241.6h0.8v0.8h-0.8zM71.9 220.4h0.8v0.8h-0.8zM69.7 239.9h0.8v0.8h-0.8zM68.5 243.7h0.8v0.8h-0.8zM71.2 245.8h0.8v0.8h-0.8zM69.4 218.7h0.8v0.8h-0.8zM69.7 243.7h0.8v0.8h-0.8zM72.7 242.8h0.8v0.8h-0.8zM70.3 222.5h0.8v0.8h-0.8zM67.2 225.0h0.8v0.8h-0.8zM70.3 246.2h0.8v0.8h-0.8zM68.9 229.5h0.8v0.8h-0.8zM69.9 224.7h0.8v0.8h-0.8zM68.0 241.7h0.8v0.8h-0.8zM73.5 217.4h0.8v0.8h-0.8zM75.3 236.6h0.8v0.8h-0.8zM68.2 229.2h0.8v0.8h-0.8zM72.5 238.1h0.8v0.8h-0.8zM72.4 239.3h0.8v0.8h-0.8zM68.0 240.1h0.8v0.8h-0.8zM70.7 234.7h0.8v0.8h-0.8zM74.5 244.9h0.8v0.8h-0.8zM73.0 244.0h0.8v0.8h-0.8zM75.0 245.8h0.8v0.8h-0.8zM67.9 235.3h0.8v0.8h-0.8zM68.9 241.9h0.8v0.8h-0.8zM71.1 234.6h0.8v0.8h-0.8zM71.3 224.2h0.8v0.8h-0.8zM70.9 240.4h0.8v0.8h-0.8zM69.8 246.0h0.8v0.8h-0.8zM69.7 243.4h0.8v0.8h-0.8zM69.2 224.5h0.8v0.8h-0.8zM71.6 221.7h0.8v0.8h-0.8zM63.6 242.8h0.8v0.8h-0.8zM74.9 241.4h0.8v0.8h-0.8zM69.4 244.5h0.8v0.8h-0.8zM67.2 218.0h0.8v0.8h-0.8zM72.2 244.5h0.8v0.8h-0.8zM67.3 234.7h0.8v0.8h-0.8zM71.4 223.9h0.8v0.8h-0.8zM69.6 227.9h0.8v0.8h-0.8zM72.3 246.9h0.8v0.8h-0.8zM72.8 246.2h0.8v0.8h-0.8zM73.4 215.0h0.8v0.8h-0.8zM69.4 226.1h0.8v0.8h-0.8zM70.0 241.7h0.8v0.8h-0.8zM70.4 212.4h0.8v0.8h-0.8zM67.7 212.5h0.8v0.8h-0.8zM71.6 213.0h0.8v0.8h-0.8zM71.1 244.6h0.8v0.8h-0.8zM67.7 227.2h0.8v0.8h-0.8zM73.0 226.3h0.8v0.8h-0.8zM74.3 243.2h0.8v0.8h-0.8zM67.7 226.3h0.8v0.8h-0.8zM72.2 242.1h0.8v0.8h-0.8zM72.8 230.2h0.8v0.8h-0.8zM72.3 225.2h0.8v0.8h-0.8zM68.3 231.6h0.8v0.8h-0.8zM67.3 218.9h0.8v0.8h-0.8zM70.3 214.6h0.8v0.8h-0.8zM69.4 244.7h0.8v0.8h-0.8zM70.7 244.6h0.8v0.8h-0.8zM70.3 235.9h0.8v0.8h-0.8zM72.1 241.1h0.8v0.8h-0.8zM69.3 244.5h0.8v0.8h-0.8zM70.0 231.9h0.8v0.8h-0.8zM78.4 241.6h0.8v0.8h-0.8zM70.4 242.4h0.8v0.8h-0.8zM72.1 214.7h0.8v0.8h-0.8zM71.3 217.6h0.8v0.8h-0.8zM71.3 242.3h0.8v0.8h-0.8zM68.4 241.4h0.8v0.8h-0.8zM71.8 219.7h0.8v0.8h-0.8zM70.6 243.8h0.8v0.8h-0.8zM72.8 243.3h0.8v0.8h-0.8zM74.6 227.2h0.8v0.8h-0.8zM70.7 227.7h0.8v0.8h-0.8zM72.3 216.3h0.8v0.8h-0.8zM68.1 235.3h0.8v0.8h-0.8zM70.8 216.3h0.8v0.8h-0.8zM74.7 238.1h0.8v0.8h-0.8zM70.6 239.8h0.8v0.8h-0.8zM69.1 238.9h0.8v0.8h-0.8zM70.9 214.4h0.8v0.8h-0.8zM70.2 239.7h0.8v0.8h-0.8zM70.1 242.4h0.8v0.8h-0.8zM69.7 217.8h0.8v0.8h-0.8zM75.9 239.2h0.8v0.8h-0.8zM68.4 243.7h0.8v0.8h-0.8zM69.6 220.1h0.8v0.8h-0.8zM69.2 245.4h0.8v0.8h-0.8zM73.9 246.5h0.8v0.8h-0.8zM70.0 241.6h0.8v0.8h-0.8zM74.1 244.7h0.8v0.8h-0.8zM70.9 223.9h0.8v0.8h-0.8zM70.6 240.6h0.8v0.8h-0.8zM66.9 245.7h0.8v0.8h-0.8zM72.8 213.0h0.8v0.8h-0.8zM72.1 243.7h0.8v0.8h-0.8zM71.4 222.1h0.8v0.8h-0.8zM70.4 243.3h0.8v0.8h-0.8zM69.6 240.2h0.8v0.8h-0.8zM67.4 243.3h0.8v0.8h-0.8zM72.3 232.7h0.8v0.8h-0.8zM71.1 235.5h0.8v0.8h-0.8zM69.8 245.6h0.8v0.8h-0.8zM69.1 214.4h0.8v0.8h-0.8zM70.9 218.4h0.8v0.8h-0.8zM70.5 246.5h0.8v0.8h-0.8zM75.0 245.4h0.8v0.8h-0.8zM72.5 218.0h0.8v0.8h-0.8zM69.2 246.5h0.8v0.8h-0.8zM68.1 223.5h0.8v0.8h-0.8zM70.1 245.0h0.8v0.8h-0.8zM68.3 245.3h0.8v0.8h-0.8zM70.5 211.7h0.8v0.8h-0.8zM71.0 210.7h0.8v0.8h-0.8zM71.7 226.8h0.8v0.8h-0.8zM71.8 245.8h0.8v0.8h-0.8zM70.2 243.1h0.8v0.8h-0.8zM71.6 231.6h0.8v0.8h-0.8zM68.4 244.4h0.8v0.8h-0.8zM70.3 225.7h0.8v0.8h-0.8zM72.0 228.2h0.8v0.8h-0.8zM71.3 219.9h0.8v0.8h-0.8zM67.4 246.3h0.8v0.8h-0.8zM67.7 243.4h0.8v0.8h-0.8zM66.7 235.9h0.8v0.8h-0.8zM74.5 223.5h0.8v0.8h-0.8zM66.7 246.4h0.8v0.8h-0.8zM70.1 232.4h0.8v0.8h-0.8zM74.8 220.9h0.8v0.8h-0.8zM72.8 234.3h0.8v0.8h-0.8zM74.2 241.7h0.8v0.8h-0.8zM69.4 242.7h0.8v0.8h-0.8zM72.2 216.3h0.8v0.8h-0.8zM78.7 246.0h0.8v0.8h-0.8zM70.6 240.8h0.8v0.8h-0.8zM71.3 213.9h0.8v0.8h-0.8zM69.9 244.0h0.8v0.8h-0.8zM70.7 246.5h0.8v0.8h-0.8zM71.7 244.0h0.8v0.8h-0.8zM72.5 210.7h0.8v0.8h-0.8zM68.4 236.3h0.8v0.8h-0.8zM67.0 239.0h0.8v0.8h-0.8zM70.8 245.0h0.8v0.8h-0.8zM71.2 237.1h0.8v0.8h-0.8zM73.5 214.7h0.8v0.8h-0.8zM72.6 245.8h0.8v0.8h-0.8zM69.1 246.1h0.8v0.8h-0.8zM72.0 236.7h0.8v0.8h-0.8zM72.7 213.4h0.8v0.8h-0.8zM71.5 244.0h0.8v0.8h-0.8zM69.9 242.2h0.8v0.8h-0.8zM72.5 246.5h0.8v0.8h-0.8zM69.8 210.4h0.8v0.8h-0.8zM66.2 234.9h0.8v0.8h-0.8zM73.4 224.5h0.8v0.8h-0.8zM67.7 216.2h0.8v0.8h-0.8zM69.9 242.0h0.8v0.8h-0.8zM69.7 227.8h0.8v0.8h-0.8zM69.8 212.6h0.8v0.8h-0.8zM69.9 217.4h0.8v0.8h-0.8zM67.0 243.4h0.8v0.8h-0.8zM72.1 239.4h0.8v0.8h-0.8zM70.6 221.1h0.8v0.8h-0.8zM70.8 241.3h0.8v0.8h-0.8zM73.1 217.3h0.8v0.8h-0.8zM73.6 240.8h0.8v0.8h-0.8zM74.2 240.4h0.8v0.8h-0.8zM73.0 210.2h0.8v0.8h-0.8zM71.8 237.3h0.8v0.8h-0.8zM66.7 241.9h0.8v0.8h-0.8zM71.3 242.5h0.8v0.8h-0.8zM70.8 241.4h0.8v0.8h-0.8zM70.9 244.9h0.8v0.8h-0.8zM69.2 242.5h0.8v0.8h-0.8zM68.4 245.6h0.8v0.8h-0.8zM72.1 233.7h0.8v0.8h-0.8zM72.3 212.4h0.8v0.8h-0.8zM68.0 219.5h0.8v0.8h-0.8zM71.7 224.7h0.8v0.8h-0.8zM70.1 212.8h0.8v0.8h-0.8zM69.7 216.2h0.8v0.8h-0.8zM72.4 237.5h0.8v0.8h-0.8zM70.4 222.9h0.8v0.8h-0.8zM69.3 224.6h0.8v0.8h-0.8zM70.9 242.2h0.8v0.8h-0.8zM65.5 244.3h0.8v0.8h-0.8zM69.2 244.5h0.8v0.8h-0.8zM69.4 230.3h0.8v0.8h-0.8zM67.1 241.5h0.8v0.8h-0.8zM71.2 244.3h0.8v0.8h-0.8zM71.2 218.2h0.8v0.8h-0.8zM69.2 220.4h0.8v0.8h-0.8zM70.3 240.3h0.8v0.8h-0.8zM72.0 223.5h0.8v0.8h-0.8zM73.0 220.0h0.8v0.8h-0.8zM68.8 230.0h0.8v0.8h-0.8zM70.9 211.2h0.8v0.8h-0.8zM72.8 235.0h0.8v0.8h-0.8zM70.4 213.1h0.8v0.8h-0.8zM68.8 222.5h0.8v0.8h-0.8zM68.8 221.2h0.8v0.8h-0.8zM69.7 227.0h0.8v0.8h-0.8zM68.1 217.0h0.8v0.8h-0.8zM75.3 236.2h0.8v0.8h-0.8zM69.2 241.1h0.8v0.8h-0.8zM71.1 227.6h0.8v0.8h-0.8zM71.1 245.7h0.8v0.8h-0.8zM72.3 244.4h0.8v0.8h-0.8zM69.6 225.6h0.8v0.8h-0.8zM67.8 212.6h0.8v0.8h-0.8zM74.9 242.7h0.8v0.8h-0.8zM70.3 222.3h0.8v0.8h-0.8zM70.6 227.1h0.8v0.8h-0.8zM71.2 238.8h0.8v0.8h-0.8zM73.9 247.0h0.8v0.8h-0.8zM72.1 225.3h0.8v0.8h-0.8zM73.3 236.1h0.8v0.8h-0.8zM72.8 239.8h0.8v0.8h-0.8zM71.0 241.0h0.8v0.8h-0.8zM71.1 220.9h0.8v0.8h-0.8zM68.7 239.2h0.8v0.8h-0.8zM65.6 238.1h0.8v0.8h-0.8zM70.0 240.5h0.8v0.8h-0.8zM68.0 216.5h0.8v0.8h-0.8zM76.6 217.1h0.8v0.8h-0.8zM74.7 246.6h0.8v0.8h-0.8zM73.7 243.7h0.8v0.8h-0.8zM69.2 243.8h0.8v0.8h-0.8zM76.0 245.8h0.8v0.8h-0.8zM66.2 246.3h0.8v0.8h-0.8zM67.8 232.1h0.8v0.8h-0.8zM68.6 242.4h0.8v0.8h-0.8zM68.2 240.1h0.8v0.8h-0.8zM71.0 238.4h0.8v0.8h-0.8zM71.2 240.9h0.8v0.8h-0.8zM74.4 226.4h0.8v0.8h-0.8zM73.2 244.5h0.8v0.8h-0.8zM72.9 233.1h0.8v0.8h-0.8zM71.6 218.0h0.8v0.8h-0.8zM70.1 210.8h0.8v0.8h-0.8zM68.9 240.1h0.8v0.8h-0.8zM67.1 221.9h0.8v0.8h-0.8zM68.4 246.2h0.8v0.8h-0.8zM69.6 220.1h0.8v0.8h-0.8zM72.0 226.2h0.8v0.8h-0.8zM66.3 246.7h0.8v0.8h-0.8zM67.1 237.5h0.8v0.8h-0.8zM71.2 245.6h0.8v0.8h-0.8zM67.9 242.9h0.8v0.8h-0.8zM71.3 216.7h0.8v0.8h-0.8zM69.5 221.1h0.8v0.8h-0.8zM68.7 231.6h0.8v0.8h-0.8zM67.2 244.8h0.8v0.8h-0.8zM70.1 227.3h0.8v0.8h-0.8zM68.7 235.9h0.8v0.8h-0.8zM69.0 236.5h0.8v0.8h-0.8zM69.0 226.7h0.8v0.8h-0.8zM71.1 243.0h0.8v0.8h-0.8zM70.7 213.5h0.8v0.8h-0.8zM66.6 221.6h0.8v0.8h-0.8zM70.2 243.8h0.8v0.8h-0.8zM71.7 239.6h0.8v0.8h-0.8zM73.2 237.3h0.8v0.8h-0.8zM71.8 230.2h0.8v0.8h-0.8zM71.0 217.2h0.8v0.8h-0.8zM67.8 235.7h0.8v0.8h-0.8zM68.6 246.8h0.8v0.8h-0.8zM73.0 239.2h0.8v0.8h-0.8zM68.8 238.8h0.8v0.8h-0.8zM73.3 246.8h0.8v0.8h-0.8zM74.0 244.9h0.8v0.8h-0.8zM67.9 247.0h0.8v0.8h-0.8zM71.8 246.2h0.8v0.8h-0.8zM70.4 240.7h0.8v0.8h-0.8zM74.7 225.6h0.8v0.8h-0.8zM72.8 239.9h0.8v0.8h-0.8zM69.3 228.3h0.8v0.8h-0.8zM71.7 243.5h0.8v0.8h-0.8zM68.4 217.6h0.8v0.8h-0.8zM70.1 235.9h0.8v0.8h-0.8zM71.2 244.1h0.8v0.8h-0.8zM70.8 235.6h0.8v0.8h-0.8zM71.4 239.3h0.8v0.8h-0.8zM68.5 215.8h0.8v0.8h-0.8zM66.4 224.5h0.8v0.8h-0.8zM69.7 246.2h0.8v0.8h-0.8zM68.3 240.5h0.8v0.8h-0.8zM68.9 229.8h0.8v0.8h-0.8zM76.0 237.4h0.8v0.8h-0.8zM73.7 242.8h0.8v0.8h-0.8zM70.2 243.1h0.8v0.8h-0.8zM66.9 243.8h0.8v0.8h-0.8zM67.6 224.8h0.8v0.8h-0.8zM71.3 222.2h0.8v0.8h-0.8zM73.4 240.1h0.8v0.8h-0.8zM69.9 237.7h0.8v0.8h-0.8zM71.0 238.5h0.8v0.8h-0.8zM71.1 221.1h0.8v0.8h-0.8zM72.6 226.3h0.8v0.8h-0.8zM65.8 242.4h0.8v0.8h-0.8zM70.6 229.2h0.8v0.8h-0.8zM71.7 242.5h0.8v0.8h-0.8zM72.3 213.1h0.8v0.8h-0.8zM71.7 246.1h0.8v0.8h-0.8zM68.0 220.8h0.8v0.8h-0.8zM69.1 236.4h0.8v0.8h-0.8zM66.7 245.6h0.8v0.8h-0.8zM70.9 222.9h0.8v0.8h-0.8zM70.9 221.7h0.8v0.8h-0.8zM72.0 246.7h0.8v0.8h-0.8zM68.1 245.3h0.8v0.8h-0.8zM67.7 237.8h0.8v0.8h-0.8zM73.6 213.9h0.8v0.8h-0.8zM71.1 239.4h0.8v0.8h-0.8zM74.4 222.8h0.8v0.8h-0.8zM71.5 221.0h0.8v0.8h-0.8zM66.9 245.8h0.8v0.8h-0.8zM72.7 239.7h0.8v0.8h-0.8zM73.2 235.2h0.8v0.8h-0.8zM69.5 213.9h0.8v0.8h-0.8zM66.4 230.4h0.8v0.8h-0.8zM72.4 244.5h0.8v0.8h-0.8zM70.1 225.5h0.8v0.8h-0.8zM71.0 226.6h0.8v0.8h-0.8zM63.7 239.4h0.8v0.8h-0.8zM71.5 222.9h0.8v0.8h-0.8zM63.5 238.3h0.8v0.8h-0.8zM68.4 242.7h0.8v0.8h-0.8zM72.3 224.6h0.8v0.8h-0.8zM66.1 236.3h0.8v0.8h-0.8zM65.8 238.8h0.8v0.8h-0.8zM69.4 229.6h0.8v0.8h-0.8zM74.2 221.5h0.8v0.8h-0.8zM74.2 216.5h0.8v0.8h-0.8zM69.1 238.5h0.8v0.8h-0.8zM73.2 245.9h0.8v0.8h-0.8zM71.3 211.4h0.8v0.8h-0.8zM71.3 244.5h0.8v0.8h-0.8zM71.6 246.3h0.8v0.8h-0.8zM68.8 238.0h0.8v0.8h-0.8zM72.7 246.4h0.8v0.8h-0.8zM73.4 241.4h0.8v0.8h-0.8zM77.7 238.1h0.8v0.8h-0.8zM72.6 236.0h0.8v0.8h-0.8zM64.6 236.1h0.8v0.8h-0.8zM67.5 241.0h0.8v0.8h-0.8zM71.2 222.0h0.8v0.8h-0.8zM70.8 241.6h0.8v0.8h-0.8zM65.9 236.8h0.8v0.8h-0.8zM70.3 240.8h0.8v0.8h-0.8zM69.7 245.9h0.8v0.8h-0.8zM70.4 222.0h0.8v0.8h-0.8zM70.0 232.9h0.8v0.8h-0.8zM72.4 224.0h0.8v0.8h-0.8zM73.4 213.4h0.8v0.8h-0.8zM72.4 239.7h0.8v0.8h-0.8zM67.8 239.9h0.8v0.8h-0.8zM68.4 247.0h0.8v0.8h-0.8zM68.9 239.3h0.8v0.8h-0.8zM70.2 232.3h0.8v0.8h-0.8zM69.5 245.2h0.8v0.8h-0.8zM69.7 211.2h0.8v0.8h-0.8zM68.4 225.5h0.8v0.8h-0.8zM73.1 242.4h0.8v0.8h-0.8zM72.6 218.6h0.8v0.8h-0.8zM72.1 229.5h0.8v0.8h-0.8zM70.4 244.2h0.8v0.8h-0.8zM71.2 228.0h0.8v0.8h-0.8zM68.4 222.4h0.8v0.8h-0.8zM68.0 245.0h0.8v0.8h-0.8zM69.3 214.7h0.8v0.8h-0.8zM72.2 244.4h0.8v0.8h-0.8zM70.1 226.1h0.8v0.8h-0.8zM67.8 220.7h0.8v0.8h-0.8zM70.8 236.7h0.8v0.8h-0.8zM71.6 236.6h0.8v0.8h-0.8zM71.1 246.4h0.8v0.8h-0.8zM68.9 242.4h0.8v0.8h-0.8zM70.6 235.8h0.8v0.8h-0.8zM69.5 238.4h0.8v0.8h-0.8zM69.7 226.3h0.8v0.8h-0.8zM70.4 246.7h0.8v0.8h-0.8zM71.8 231.5h0.8v0.8h-0.8zM75.4 244.9h0.8v0.8h-0.8zM74.7 240.4h0.8v0.8h-0.8zM72.3 245.5h0.8v0.8h-0.8zM69.5 228.8h0.8v0.8h-0.8zM69.6 233.8h0.8v0.8h-0.8zM69.7 230.2h0.8v0.8h-0.8zM73.6 243.8h0.8v0.8h-0.8zM63.5 246.2h0.8v0.8h-0.8zM71.3 243.8h0.8v0.8h-0.8zM65.8 235.5h0.8v0.8h-0.8zM70.6 243.9h0.8v0.8h-0.8zM74.1 241.9h0.8v0.8h-0.8zM68.3 237.5h0.8v0.8h-0.8zM65.1 219.6h0.8v0.8h-0.8zM73.4 222.2h0.8v0.8h-0.8zM74.6 241.4h0.8v0.8h-0.8zM71.7 220.3h0.8v0.8h-0.8zM73.9 238.4h0.8v0.8h-0.8zM68.6 243.4h0.8v0.8h-0.8zM73.7 240.4h0.8v0.8h-0.8zM75.1 239.5h0.8v0.8h-0.8zM71.9 223.1h0.8v0.8h-0.8zM71.2 216.8h0.8v0.8h-0.8zM72.8 212.3h0.8v0.8h-0.8zM72.6 213.1h0.8v0.8h-0.8zM68.8 221.9h0.8v0.8h-0.8zM74.2 238.4h0.8v0.8h-0.8zM72.0 234.3h0.8v0.8h-0.8zM70.9 220.6h0.8v0.8h-0.8zM73.2 225.5h0.8v0.8h-0.8zM72.7 235.9h0.8v0.8h-0.8zM72.6 243.3h0.8v0.8h-0.8zM69.3 240.4h0.8v0.8h-0.8zM72.0 212.7h0.8v0.8h-0.8zM67.8 236.5h0.8v0.8h-0.8zM70.2 219.7h0.8v0.8h-0.8zM66.2 244.3h0.8v0.8h-0.8zM66.2 244.9h0.8v0.8h-0.8zM71.8 238.3h0.8v0.8h-0.8zM70.4 242.1h0.8v0.8h-0.8zM70.9 241.1h0.8v0.8h-0.8zM72.2 243.6h0.8v0.8h-0.8zM71.2 224.2h0.8v0.8h-0.8zM68.5 221.8h0.8v0.8h-0.8zM70.8 242.3h0.8v0.8h-0.8zM70.5 246.3h0.8v0.8h-0.8zM69.3 221.8h0.8v0.8h-0.8zM70.3 238.6h0.8v0.8h-0.8zM69.7 238.1h0.8v0.8h-0.8zM69.0 230.5h0.8v0.8h-0.8zM69.8 242.3h0.8v0.8h-0.8zM71.1 217.3h0.8v0.8h-0.8zM74.4 230.4h0.8v0.8h-0.8zM68.5 234.7h0.8v0.8h-0.8zM72.0 246.2h0.8v0.8h-0.8zM66.9 241.0h0.8v0.8h-0.8zM74.8 241.6h0.8v0.8h-0.8zM69.8 247.0h0.8v0.8h-0.8zM70.8 221.6h0.8v0.8h-0.8zM74.0 239.3h0.8v0.8h-0.8zM72.7 216.2h0.8v0.8h-0.8zM67.0 218.7h0.8v0.8h-0.8zM72.1 241.3h0.8v0.8h-0.8zM70.1 243.8h0.8v0.8h-0.8zM72.3 240.0h0.8v0.8h-0.8zM71.0 238.8h0.8v0.8h-0.8zM72.6 243.1h0.8v0.8h-0.8zM71.4 246.2h0.8v0.8h-0.8zM70.3 245.7h0.8v0.8h-0.8zM73.7 243.5h0.8v0.8h-0.8zM66.9 234.7h0.8v0.8h-0.8zM69.5 242.7h0.8v0.8h-0.8zM68.3 222.0h0.8v0.8h-0.8zM70.3 245.3h0.8v0.8h-0.8zM69.5 224.3h0.8v0.8h-0.8zM70.3 246.7h0.8v0.8h-0.8zM69.4 225.4h0.8v0.8h-0.8zM69.4 223.5h0.8v0.8h-0.8zM67.0 227.4h0.8v0.8h-0.8zM70.4 236.6h0.8v0.8h-0.8zM71.2 220.4h0.8v0.8h-0.8zM69.1 223.4h0.8v0.8h-0.8zM68.9 244.9h0.8v0.8h-0.8zM69.0 245.8h0.8v0.8h-0.8zM74.6 218.4h0.8v0.8h-0.8zM70.8 235.1h0.8v0.8h-0.8zM71.1 234.0h0.8v0.8h-0.8zM69.9 243.8h0.8v0.8h-0.8zM69.4 240.5h0.8v0.8h-0.8zM68.4 233.2h0.8v0.8h-0.8zM74.7 243.1h0.8v0.8h-0.8zM66.2 239.4h0.8v0.8h-0.8zM71.2 220.8h0.8v0.8h-0.8zM70.6 243.2h0.8v0.8h-0.8zM69.9 236.0h0.8v0.8h-0.8zM66.6 244.9h0.8v0.8h-0.8zM67.4 240.6h0.8v0.8h-0.8zM72.9 218.2h0.8v0.8h-0.8zM68.8 242.5h0.8v0.8h-0.8zM72.9 238.9h0.8v0.8h-0.8zM72.4 238.0h0.8v0.8h-0.8zM71.6 234.0h0.8v0.8h-0.8zM72.6 240.6h0.8v0.8h-0.8zM67.9 214.0h0.8v0.8h-0.8zM69.4 237.1h0.8v0.8h-0.8zM72.4 245.8h0.8v0.8h-0.8zM67.6 220.6h0.8v0.8h-0.8zM74.5 217.6h0.8v0.8h-0.8zM69.1 233.4h0.8v0.8h-0.8zM70.4 237.5h0.8v0.8h-0.8zM68.2 230.8h0.8v0.8h-0.8zM71.4 236.6h0.8v0.8h-0.8zM68.7 240.8h0.8v0.8h-0.8zM70.0 243.2h0.8v0.8h-0.8zM68.1 213.3h0.8v0.8h-0.8zM72.7 231.2h0.8v0.8h-0.8zM66.4 239.7h0.8v0.8h-0.8zM71.1 211.5h0.8v0.8h-0.8zM71.3 246.1h0.8v0.8h-0.8zM71.8 240.1h0.8v0.8h-0.8zM68.0 236.6h0.8v0.8h-0.8zM72.8 235.4h0.8v0.8h-0.8zM72.9 218.0h0.8v0.8h-0.8zM70.8 214.1h0.8v0.8h-0.8zM71.5 240.9h0.8v0.8h-0.8zM70.2 245.6h0.8v0.8h-0.8zM72.3 243.2h0.8v0.8h-0.8zM68.9 211.6h0.8v0.8h-0.8zM71.5 212.6h0.8v0.8h-0.8zM71.6 237.3h0.8v0.8h-0.8zM67.0 238.7h0.8v0.8h-0.8zM63.8 239.4h0.8v0.8h-0.8zM70.3 244.7h0.8v0.8h-0.8zM70.2 245.1h0.8v0.8h-0.8zM73.8 246.8h0.8v0.8h-0.8zM70.5 227.2h0.8v0.8h-0.8zM69.3 236.1h0.8v0.8h-0.8zM67.1 246.9h0.8v0.8h-0.8zM70.4 241.3h0.8v0.8h-0.8zM69.2 213.7h0.8v0.8h-0.8zM67.8 245.4h0.8v0.8h-0.8zM70.3 239.6h0.8v0.8h-0.8zM73.0 220.1h0.8v0.8h-0.8zM70.5 228.2h0.8v0.8h-0.8zM67.9 238.8h0.8v0.8h-0.8zM71.5 240.4h0.8v0.8h-0.8zM67.9 233.4h0.8v0.8h-0.8zM66.5 242.2h0.8v0.8h-0.8zM71.9 237.8h0.8v0.8h-0.8zM69.2 246.5h0.8v0.8h-0.8zM73.5 244.3h0.8v0.8h-0.8zM71.3 218.1h0.8v0.8h-0.8zM68.7 216.0h0.8v0.8h-0.8zM71.2 244.3h0.8v0.8h-0.8zM74.0 239.4h0.8v0.8h-0.8zM70.2 246.6h0.8v0.8h-0.8zM68.0 234.9h0.8v0.8h-0.8zM69.0 219.4h0.8v0.8h-0.8zM68.8 212.5h0.8v0.8h-0.8zM67.6 242.7h0.8v0.8h-0.8zM67.7 215.0h0.8v0.8h-0.8zM71.7 240.2h0.8v0.8h-0.8zM73.5 238.5h0.8v0.8h-0.8zM69.7 242.1h0.8v0.8h-0.8zM72.7 246.0h0.8v0.8h-0.8zM72.5 222.1h0.8v0.8h-0.8zM74.6 236.5h0.8v0.8h-0.8zM70.2 242.4h0.8v0.8h-0.8zM69.7 220.5h0.8v0.8h-0.8zM71.4 215.4h0.8v0.8h-0.8zM70.8 217.6h0.8v0.8h-0.8zM71.4 245.8h0.8v0.8h-0.8zM74.0 243.1h0.8v0.8h-0.8zM69.5 220.4h0.8v0.8h-0.8zM70.7 211.2h0.8v0.8h-0.8zM68.1 240.1h0.8v0.8h-0.8zM70.0 226.5h0.8v0.8h-0.8zM68.9 221.7h0.8v0.8h-0.8zM68.7 220.4h0.8v0.8h-0.8zM70.0 236.2h0.8v0.8h-0.8zM69.4 227.8h0.8v0.8h-0.8zM71.6 245.9h0.8v0.8h-0.8zM72.7 238.5h0.8v0.8h-0.8zM66.8 245.2h0.8v0.8h-0.8zM73.3 245.6h0.8v0.8h-0.8zM64.9 245.2h0.8v0.8h-0.8zM71.2 237.0h0.8v0.8h-0.8zM72.5 238.9h0.8v0.8h-0.8zM69.0 237.9h0.8v0.8h-0.8zM69.9 211.5h0.8v0.8h-0.8zM68.6 246.0h0.8v0.8h-0.8zM72.7 218.2h0.8v0.8h-0.8zM62.4 238.3h0.8v0.8h-0.8zM68.1 241.0h0.8v0.8h-0.8zM65.6 243.0h0.8v0.8h-0.8zM71.1 238.0h0.8v0.8h-0.8zM74.0 240.1h0.8v0.8h-0.8zM73.7 243.8h0.8v0.8h-0.8zM72.4 240.2h0.8v0.8h-0.8zM71.3 240.7h0.8v0.8h-0.8zM68.7 244.3h0.8v0.8h-0.8zM73.0 214.5h0.8v0.8h-0.8zM72.2 237.5h0.8v0.8h-0.8zM68.8 211.9h0.8v0.8h-0.8zM67.5 218.2h0.8v0.8h-0.8zM69.1 212.0h0.8v0.8h-0.8z" fill="#000"/>
<path d="M69.6 294.4h0.8v0.8h-0.8zM71.6 295.8h0.8v0.8h-0.8zM65.4 315.4h0.8v0.8h-0.8zM71.0 287.6h0.8v0.8h-0.8zM69.7 307.5h0.8v0.8h-0.8zM65.3 312.3h0.8v0.8h-0.8zM71.7 291.4h0.8v0.8h-0.8zM68.3 286.0h0.8v0.8h-0.8zM71.8 294.9h0.8v0.8h-0.8zM73.2 309.7h0.8v0.8h-0.8zM67.5 306.1h0.8v0.8h-0.8zM67.7 289.9h0.8v0.8h-0.8zM70.1 301.1h0.8v0.8h-0.8zM66.3 310.1h0.8v0.8h-0.8zM71.7 300.7h0.8v0.8h-0.8zM70.6 308.8h0.8v0.8h-0.8zM72.3 320.5h0.8v0.8h-0.8zM66.2 310.6h0.8v0.8h-0.8zM70.6 299.5h0.8v0.8h-0.8zM71.1 291.4h0.8v0.8h-0.8zM66.4 297.7h0.8v0.8h-0.8zM72.1 304.1h0.8v0.8h-0.8zM67.1 318.0h0.8v0.8h-0.8zM70.6 314.0h0.8v0.8h-0.8zM67.4 296.6h0.8v0.8h-0.8zM71.9 319.1h0.8v0.8h-0.8zM73.8 302.5h0.8v0.8h-0.8zM70.3 311.0h0.8v0.8h-0.8zM70.2 288.2h0.8v0.8h-0.8zM72.8 288.1h0.8v0.8h-0.8zM69.3 292.0h0.8v0.8h-0.8zM70.3 317.8h0.8v0.8h-0.8zM72.0 310.5h0.8v0.8h-0.8zM71.1 316.6h0.8v0.8h-0.8zM73.7 309.2h0.8v0.8h-0.8zM72.8 300.1h0.8v0.8h-0.8zM74.4 304.3h0.8v0.8h-0.8zM70.2 307.2h0.8v0.8h-0.8zM72.7 317.0h0.8v0.8h-0.8zM68.5 301.3h0.8v0.8h-0.8zM72.3 318.0h0.8v0.8h-0.8zM74.1 308.0h0.8v0.8h-0.8zM75.5 315.9h0.8v0.8h-0.8zM67.6 303.6h0.8v0.8h-0.8zM69.9 311.0h0.8v0.8h-0.8zM71.8 297.4h0.8v0.8h-0.8zM68.4 304.5h0.8v0.8h-0.8zM71.5 292.6h0.8v0.8h-0.8zM71.4 287.9h0.8v0.8h-0.8zM69.4 285.3h0.8v0.8h-0.8zM69.2 311.3h0.8v0.8h-0.8zM68.4 302.0h0.8v0.8h-0.8zM71.0 318.2h0.8v0.8h-0.8zM73.2 316.1h0.8v0.8h-0.8zM71.0 299.2h0.8v0.8h-0.8zM76.6 320.7h0.8v0.8h-0.8zM67.1 307.2h0.8v0.8h-0.8zM69.1 313.7h0.8v0.8h-0.8zM71.8 300.1h0.8v0.8h-0.8zM68.0 291.8h0.8v0.8h-0.8zM71.0 290.8h0.8v0.8h-0.8zM72.0 291.2h0.8v0.8h-0.8zM70.8 307.6h0.8v0.8h-0.8zM69.9 288.4h0.8v0.8h-0.8zM71.6 284.3h0.8v0.8h-0.8zM71.3 316.0h0.8v0.8h-0.8zM71.8 287.9h0.8v0.8h-0.8zM71.5 301.8h0.8v0.8h-0.8zM68.9 303.2h0.8v0.8h-0.8zM67.9 308.3h0.8v0.8h-0.8zM69.5 303.8h0.8v0.8h-0.8zM70.7 319.5h0.8v0.8h-0.8zM69.9 313.1h0.8v0.8h-0.8zM72.4 306.5h0.8v0.8h-0.8zM70.9 308.2h0.8v0.8h-0.8zM72.5 303.9h0.8v0.8h-0.8zM70.6 320.4h0.8v0.8h-0.8zM68.8 293.0h0.8v0.8h-0.8zM72.2 310.9h0.8v0.8h-0.8zM71.4 305.8h0.8v0.8h-0.8zM68.7 285.5h0.8v0.8h-0.8zM69.5 295.7h0.8v0.8h-0.8zM76.6 319.2h0.8v0.8h-0.8zM62.8 314.3h0.8v0.8h-0.8zM71.7 283.8h0.8v0.8h-0.8zM70.4 295.8h0.8v0.8h-0.8zM70.0 283.5h0.8v0.8h-0.8zM69.6 315.8h0.8v0.8h-0.8zM69.2 288.3h0.8v0.8h-0.8zM75.0 286.1h0.8v0.8h-0.8zM69.2 320.9h0.8v0.8h-0.8zM69.6 301.6h0.8v0.8h-0.8zM72.0 296.6h0.8v0.8h-0.8zM71.0 285.8h0.8v0.8h-0.8zM69.9 299.4h0.8v0.8h-0.8zM69.7 298.5h0.8v0.8h-0.8zM67.4 304.6h0.8v0.8h-0.8zM71.4 283.3h0.8v0.8h-0.8zM68.0 289.8h0.8v0.8h-0.8zM65.1 292.3h0.8v0.8h-0.8zM72.5 301.4h0.8v0.8h-0.8zM71.9 296.0h0.8v0.8h-0.8zM71.0 308.0h0.8v0.8h-0.8zM69.1 295.3h0.8v0.8h-0.8zM72.9 318.6h0.8v0.8h-0.8zM67.7 320.3h0.8v0.8h-0.8zM65.7 286.2h0.8v0.8h-0.8zM70.5 292.3h0.8v0.8h-0.8zM72.0 306.1h0.8v0.8h-0.8zM71.6 313.8h0.8v0.8h-0.8zM74.4 286.4h0.8v0.8h-0.8zM71.9 291.3h0.8v0.8h-0.8zM69.7 302.0h0.8v0.8h-0.8zM69.8 310.1h0.8v0.8h-0.8zM72.2 318.4h0.8v0.8h-0.8zM70.0 317.2h0.8v0.8h-0.8zM69.9 314.7h0.8v0.8h-0.8zM66.6 285.9h0.8v0.8h-0.8zM69.5 320.8h0.8v0.8h-0.8zM67.3 308.1h0.8v0.8h-0.8zM70.6 287.3h0.8v0.8h-0.8zM70.5 294.1h0.8v0.8h-0.8zM71.8 308.3h0.8v0.8h-0.8zM74.1 299.2h0.8v0.8h-0.8zM69.8 301.6h0.8v0.8h-0.8zM73.4 315.0h0.8v0.8h-0.8zM67.6 315.7h0.8v0.8h-0.8zM70.5 305.5h0.8v0.8h-0.8zM72.3 314.6h0.8v0.8h-0.8zM74.5 300.0h0.8v0.8h-0.8zM67.6 320.7h0.8v0.8h-0.8zM69.6 307.7h0.8v0.8h-0.8zM70.5 320.5h0.8v0.8h-0.8zM69.9 285.6h0.8v0.8h-0.8zM68.0 317.7h0.8v0.8h-0.8zM66.6 305.9h0.8v0.8h-0.8zM67.4 311.8h0.8v0.8h-0.8zM70.0 291.6h0.8v0.8h-0.8zM67.2 305.5h0.8v0.8h-0.8zM74.0 295.5h0.8v0.8h-0.8zM72.7 288.1h0.8v0.8h-0.8zM67.8 282.9h0.8v0.8h-0.8zM69.0 318.5h0.8v0.8h-0.8zM73.2 310.2h0.8v0.8h-0.8zM73.3 292.1h0.8v0.8h-0.8zM72.6 294.2h0.8v0.8h-0.8zM67.0 302.3h0.8v0.8h-0.8zM69.3 315.5h0.8v0.8h-0.8zM72.8 288.6h0.8v0.8h-0.8zM70.4 320.5h0.8v0.8h-0.8zM69.1 319.7h0.8v0.8h-0.8zM71.3 293.7h0.8v0.8h-0.8zM72.4 309.0h0.8v0.8h-0.8zM70.5 298.2h0.8v0.8h-0.8zM70.7 311.2h0.8v0.8h-0.8zM72.4 287.4h0.8v0.8h-0.8zM68.9 302.5h0.8v0.8h-0.8zM68.2 307.1h0.8v0.8h-0.8zM71.9 308.5h0.8v0.8h-0.8zM67.5 311.0h0.8v0.8h-0.8zM71.3 318.0h0.8v0.8h-0.8zM68.6 293.6h0.8v0.8h-0.8zM71.9 290.1h0.8v0.8h-0.8zM67.6 299.4h0.8v0.8h-0.8zM72.7 306.3h0.8v0.8h-0.8zM70.8 320.2h0.8v0.8h-0.8zM69.5 311.7h0.8v0.8h-0.8zM68.2 312.7h0.8v0.8h-0.8zM69.8 320.6h0.8v0.8h-0.8zM68.2 294.6h0.8v0.8h-0.8zM67.6 294.3h0.8v0.8h-0.8zM72.5 300.7h0.8v0.8h-0.8zM71.5 295.7h0.8v0.8h-0.8zM72.9 309.4h0.8v0.8h-0.8zM67.0 320.0h0.8v0.8h-0.8zM66.0 290.1h0.8v0.8h-0.8zM66.7 304.4h0.8v0.8h-0.8zM71.6 310.4h0.8v0.8h-0.8zM72.0 303.4h0.8v0.8h-0.8zM65.9 318.7h0.8v0.8h-0.8zM72.5 312.6h0.8v0.8h-0.8zM69.1 317.7h0.8v0.8h-0.8zM67.6 288.4h0.8v0.8h-0.8zM70.0 291.8h0.8v0.8h-0.8zM71.3 286.5h0.8v0.8h-0.8zM69.6 315.9h0.8v0.8h-0.8zM69.7 320.3h0.8v0.8h-0.8zM68.8 283.9h0.8v0.8h-0.8zM66.9 314.5h0.8v0.8h-0.8zM69.3 312.3h0.8v0.8h-0.8zM66.4 318.5h0.8v0.8h-0.8zM71.4 294.7h0.8v0.8h-0.8zM68.2 311.8h0.8v0.8h-0.8zM73.0 293.4h0.8v0.8h-0.8zM66.8 286.9h0.8v0.8h-0.8zM73.3 312.9h0.8v0.8h-0.8zM68.4 285.5h0.8v0.8h-0.8zM68.1 311.3h0.8v0.8h-0.8zM70.8 295.2h0.8v0.8h-0.8zM72.1 303.2h0.8v0.8h-0.8zM70.0 318.0h0.8v0.8h-0.8zM69.4 293.7h0.8v0.8h-0.8zM74.5 302.4h0.8v0.8h-0.8zM71.3 298.0h0.8v0.8h-0.8zM67.6 291.5h0.8v0.8h-0.8zM69.6 302.6h0.8v0.8h-0.8zM73.7 291.2h0.8v0.8h-0.8zM70.9 314.8h0.8v0.8h-0.8zM72.0 308.1h0.8v0.8h-0.8zM74.6 295.2h0.8v0.8h-0.8zM68.7 320.6h0.8v0.8h-0.8zM71.0 297.7h0.8v0.8h-0.8zM68.6 310.2h0.8v0.8h-0.8zM70.1 312.5h0.8v0.8h-0.8zM71.3 294.5h0.8v0.8h-0.8zM68.2 283.7h0.8v0.8h-0.8zM70.4 318.0h0.8v0.8h-0.8zM70.4 320.1h0.8v0.8h-0.8zM72.4 290.7h0.8v0.8h-0.8zM68.9 290.1h0.8v0.8h-0.8zM67.3 301.1h0.8v0.8h-0.8zM71.0 307.4h0.8v0.8h-0.8zM67.5 321.2h0.8v0.8h-0.8zM70.5 320.3h0.8v0.8h-0.8zM71.4 321.1h0.8v0.8h-0.8zM68.2 293.7h0.8v0.8h-0.8zM69.9 307.5h0.8v0.8h-0.8zM67.9 301.2h0.8v0.8h-0.8zM64.0 293.2h0.8v0.8h-0.8zM67.1 286.5h0.8v0.8h-0.8zM65.7 290.7h0.8v0.8h-0.8zM70.2 298.2h0.8v0.8h-0.8zM67.9 287.4h0.8v0.8h-0.8zM69.8 290.0h0.8v0.8h-0.8zM70.0 285.6h0.8v0.8h-0.8zM72.5 308.4h0.8v0.8h-0.8zM69.3 303.4h0.8v0.8h-0.8zM69.2 293.7h0.8v0.8h-0.8zM71.2 304.7h0.8v0.8h-0.8zM73.7 300.7h0.8v0.8h-0.8zM69.9 309.7h0.8v0.8h-0.8zM70.9 319.3h0.8v0.8h-0.8zM69.7 298.0h0.8v0.8h-0.8zM68.5 309.2h0.8v0.8h-0.8zM66.8 292.7h0.8v0.8h-0.8zM69.9 319.6h0.8v0.8h-0.8zM69.5 308.2h0.8v0.8h-0.8zM69.6 290.3h0.8v0.8h-0.8zM74.4 294.2h0.8v0.8h-0.8zM69.4 290.3h0.8v0.8h-0.8zM70.8 291.1h0.8v0.8h-0.8zM69.4 296.2h0.8v0.8h-0.8zM72.8 315.7h0.8v0.8h-0.8zM69.5 302.0h0.8v0.8h-0.8zM74.2 295.0h0.8v0.8h-0.8zM69.5 300.5h0.8v0.8h-0.8zM71.8 294.6h0.8v0.8h-0.8zM72.4 312.5h0.8v0.8h-0.8zM69.6 286.2h0.8v0.8h-0.8zM72.0 295.5h0.8v0.8h-0.8zM70.3 296.8h0.8v0.8h-0.8zM68.5 291.2h0.8v0.8h-0.8zM68.6 312.7h0.8v0.8h-0.8zM70.8 291.1h0.8v0.8h-0.8zM74.0 295.9h0.8v0.8h-0.8zM69.1 286.1h0.8v0.8h-0.8zM71.4 313.3h0.8v0.8h-0.8zM68.4 298.4h0.8v0.8h-0.8zM70.7 309.6h0.8v0.8h-0.8zM67.3 292.6h0.8v0.8h-0.8zM68.8 284.4h0.8v0.8h-0.8zM70.1 296.8h0.8v0.8h-0.8zM68.4 314.1h0.8v0.8h-0.8zM69.5 316.2h0.8v0.8h-0.8zM72.3 297.8h0.8v0.8h-0.8zM69.8 316.5h0.8v0.8h-0.8zM68.6 285.8h0.8v0.8h-0.8zM67.4 304.5h0.8v0.8h-0.8zM69.0 294.2h0.8v0.8h-0.8zM72.7 301.3h0.8v0.8h-0.8zM70.0 292.8h0.8v0.8h-0.8zM69.8 318.1h0.8v0.8h-0.8zM71.7 296.0h0.8v0.8h-0.8zM72.0 319.8h0.8v0.8h-0.8zM72.2 288.3h0.8v0.8h-0.8zM69.3 301.0h0.8v0.8h-0.8zM68.1 301.5h0.8v0.8h-0.8zM66.4 311.6h0.8v0.8h-0.8zM68.6 297.7h0.8v0.8h-0.8zM69.3 303.4h0.8v0.8h-0.8zM71.6 286.7h0.8v0.8h-0.8zM70.8 296.3h0.8v0.8h-0.8zM68.8 312.2h0.8v0.8h-0.8zM71.9 288.1h0.8v0.8h-0.8zM67.4 302.2h0.8v0.8h-0.8zM67.9 293.4h0.8v0.8h-0.8zM67.6 290.5h0.8v0.8h-0.8zM67.8 288.8h0.8v0.8h-0.8zM69.5 315.4h0.8v0.8h-0.8zM68.2 310.8h0.8v0.8h-0.8zM68.5 299.0h0.8v0.8h-0.8zM73.1 299.5h0.8v0.8h-0.8zM66.8 312.3h0.8v0.8h-0.8zM67.8 307.6h0.8v0.8h-0.8zM69.5 318.8h0.8v0.8h-0.8zM71.1 318.9h0.8v0.8h-0.8zM71.2 303.0h0.8v0.8h-0.8zM69.5 309.7h0.8v0.8h-0.8zM69.3 305.4h0.8v0.8h-0.8zM69.5 296.3h0.8v0.8h-0.8zM71.8 301.9h0.8v0.8h-0.8zM68.0 312.1h0.8v0.8h-0.8zM64.9 305.7h0.8v0.8h-0.8zM70.5 308.7h0.8v0.8h-0.8zM67.5 303.2h0.8v0.8h-0.8zM69.9 320.0h0.8v0.8h-0.8zM73.3 314.0h0.8v0.8h-0.8zM70.3 289.1h0.8v0.8h-0.8zM74.3 315.4h0.8v0.8h-0.8zM66.4 318.8h0.8v0.8h-0.8zM70.6 315.4h0.8v0.8h-0.8zM71.0 297.6h0.8v0.8h-0.8zM71.9 298.5h0.8v0.8h-0.8zM68.6 293.7h0.8v0.8h-0.8zM70.4 286.1h0.8v0.8h-0.8zM70.4 302.6h0.8v0.8h-0.8zM70.3 316.6h0.8v0.8h-0.8zM67.0 313.8h0.8v0.8h-0.8zM66.3 309.9h0.8v0.8h-0.8zM71.3 316.5h0.8v0.8h-0.8zM70.9 309.7h0.8v0.8h-0.8zM70.2 292.9h0.8v0.8h-0.8zM71.6 315.0h0.8v0.8h-0.8zM72.5 298.5h0.8v0.8h-0.8zM67.4 317.9h0.8v0.8h-0.8zM71.8 296.9h0.8v0.8h-0.8zM73.2 287.6h0.8v0.8h-0.8zM72.5 312.4h0.8v0.8h-0.8zM71.4 288.2h0.8v0.8h-0.8zM71.7 317.3h0.8v0.8h-0.8zM67.0 300.3h0.8v0.8h-0.8zM69.0 314.2h0.8v0.8h-0.8zM72.2 285.9h0.8v0.8h-0.8zM73.5 305.3h0.8v0.8h-0.8zM71.2 310.4h0.8v0.8h-0.8zM69.2 289.1h0.8v0.8h-0.8zM69.9 307.8h0.8v0.8h-0.8zM72.0 289.6h0.8v0.8h-0.8zM74.6 296.0h0.8v0.8h-0.8zM71.9 298.4h0.8v0.8h-0.8zM69.1 308.2h0.8v0.8h-0.8zM71.5 289.1h0.8v0.8h-0.8zM71.1 291.3h0.8v0.8h-0.8zM75.7 314.2h0.8v0.8h-0.8zM71.6 311.9h0.8v0.8h-0.8zM70.3 301.9h0.8v0.8h-0.8zM70.1 295.2h0.8v0.8h-0.8zM67.5 311.0h0.8v0.8h-0.8zM67.9 302.4h0.8v0.8h-0.8zM69.2 296.3h0.8v0.8h-0.8zM68.4 317.4h0.8v0.8h-0.8zM70.6 292.0h0.8v0.8h-0.8zM70.5 315.0h0.8v0.8h-0.8zM72.4 308.2h0.8v0.8h-0.8zM73.7 309.2h0.8v0.8h-0.8zM70.6 310.6h0.8v0.8h-0.8zM69.8 313.0h0.8v0.8h-0.8zM66.0 317.6h0.8v0.8h-0.8zM71.1 318.9h0.8v0.8h-0.8zM71.7 294.1h0.8v0.8h-0.8zM68.6 290.5h0.8v0.8h-0.8zM69.3 318.1h0.8v0.8h-0.8zM68.7 292.1h0.8v0.8h-0.8zM72.5 292.8h0.8v0.8h-0.8zM71.6 315.1h0.8v0.8h-0.8zM73.0 320.4h0.8v0.8h-0.8zM67.5 316.4h0.8v0.8h-0.8zM76.1 304.3h0.8v0.8h-0.8zM68.4 298.8h0.8v0.8h-0.8zM67.8 321.1h0.8v0.8h-0.8zM70.7 312.6h0.8v0.8h-0.8zM69.0 308.6h0.8v0.8h-0.8zM72.6 283.7h0.8v0.8h-0.8zM69.3 291.7h0.8v0.8h-0.8zM69.1 283.8h0.8v0.8h-0.8zM72.4 318.5h0.8v0.8h-0.8zM72.8 293.4h0.8v0.8h-0.8zM68.4 290.8h0.8v0.8h-0.8zM69.2 306.8h0.8v0.8h-0.8zM69.4 292.1h0.8v0.8h-0.8zM69.9 305.5h0.8v0.8h-0.8zM74.1 319.9h0.8v0.8h-0.8zM73.1 317.1h0.8v0.8h-0.8zM72.5 293.7h0.8v0.8h-0.8zM73.1 318.8h0.8v0.8h-0.8zM70.2 299.8h0.8v0.8h-0.8zM72.1 304.6h0.8v0.8h-0.8zM70.0 296.9h0.8v0.8h-0.8zM68.4 321.5h0.8v0.8h-0.8zM73.8 296.2h0.8v0.8h-0.8zM66.2 312.6h0.8v0.8h-0.8zM70.2 308.3h0.8v0.8h-0.8zM68.9 310.9h0.8v0.8h-0.8zM66.7 288.1h0.8v0.8h-0.8zM69.3 305.1h0.8v0.8h-0.8zM70.3 321.4h0.8v0.8h-0.8zM71.2 306.1h0.8v0.8h-0.8zM68.4 291.8h0.8v0.8h-0.8zM71.7 285.9h0.8v0.8h-0.8zM70.8 297.1h0.8v0.8h-0.8zM72.0 312.9h0.8v0.8h-0.8zM66.9 284.6h0.8v0.8h-0.8zM69.2 285.8h0.8v0.8h-0.8zM68.8 309.7h0.8v0.8h-0.8zM71.4 317.7h0.8v0.8h-0.8zM68.5 301.3h0.8v0.8h-0.8zM69.0 308.4h0.8v0.8h-0.8zM67.7 294.2h0.8v0.8h-0.8zM67.6 294.8h0.8v0.8h-0.8zM68.1 302.7h0.8v0.8h-0.8zM72.2 292.7h0.8v0.8h-0.8zM67.8 301.9h0.8v0.8h-0.8zM65.0 289.9h0.8v0.8h-0.8zM70.8 319.1h0.8v0.8h-0.8zM69.1 309.3h0.8v0.8h-0.8zM71.2 287.7h0.8v0.8h-0.8zM71.2 291.7h0.8v0.8h-0.8zM69.4 315.9h0.8v0.8h-0.8zM69.2 298.7h0.8v0.8h-0.8zM68.9 294.3h0.8v0.8h-0.8zM70.0 284.5h0.8v0.8h-0.8zM68.4 310.3h0.8v0.8h-0.8zM70.5 306.4h0.8v0.8h-0.8zM73.2 316.3h0.8v0.8h-0.8zM68.7 290.7h0.8v0.8h-0.8zM68.7 313.2h0.8v0.8h-0.8zM68.6 315.8h0.8v0.8h-0.8zM71.5 315.7h0.8v0.8h-0.8zM71.6 313.0h0.8v0.8h-0.8zM73.3 301.4h0.8v0.8h-0.8zM71.5 285.7h0.8v0.8h-0.8zM70.4 309.2h0.8v0.8h-0.8zM70.8 284.6h0.8v0.8h-0.8zM67.4 287.3h0.8v0.8h-0.8zM71.4 300.2h0.8v0.8h-0.8zM70.5 288.7h0.8v0.8h-0.8zM74.7 301.8h0.8v0.8h-0.8zM73.2 316.6h0.8v0.8h-0.8zM68.4 290.9h0.8v0.8h-0.8zM68.8 314.8h0.8v0.8h-0.8zM72.1 321.4h0.8v0.8h-0.8zM66.3 285.2h0.8v0.8h-0.8zM68.1 300.7h0.8v0.8h-0.8zM71.0 311.6h0.8v0.8h-0.8zM71.6 312.4h0.8v0.8h-0.8zM70.5 295.1h0.8v0.8h-0.8zM72.8 315.2h0.8v0.8h-0.8zM69.6 298.7h0.8v0.8h-0.8zM70.3 292.0h0.8v0.8h-0.8zM69.7 304.4h0.8v0.8h-0.8zM67.7 308.0h0.8v0.8h-0.8zM70.2 316.2h0.8v0.8h-0.8zM68.9 309.9h0.8v0.8h-0.8zM70.3 287.2h0.8v0.8h-0.8zM64.3 306.5h0.8v0.8h-0.8zM70.4 297.6h0.8v0.8h-0.8zM68.9 311.5h0.8v0.8h-0.8zM68.9 285.6h0.8v0.8h-0.8zM70.2 309.7h0.8v0.8h-0.8zM69.1 314.6h0.8v0.8h-0.8zM71.8 285.4h0.8v0.8h-0.8zM71.9 284.0h0.8v0.8h-0.8zM72.1 318.0h0.8v0.8h-0.8zM72.3 318.1h0.8v0.8h-0.8zM70.9 291.0h0.8v0.8h-0.8zM70.2 319.0h0.8v0.8h-0.8zM67.3 300.1h0.8v0.8h-0.8zM69.3 304.4h0.8v0.8h-0.8zM72.8 302.5h0.8v0.8h-0.8zM71.8 297.3h0.8v0.8h-0.8zM69.0 317.7h0.8v0.8h-0.8zM70.4 307.9h0.8v0.8h-0.8zM72.5 319.3h0.8v0.8h-0.8zM69.8 308.3h0.8v0.8h-0.8zM73.8 319.1h0.8v0.8h-0.8zM68.5 304.2h0.8v0.8h-0.8zM71.9 302.7h0.8v0.8h-0.8zM71.7 306.4h0.8v0.8h-0.8zM70.2 283.2h0.8v0.8h-0.8zM70.8 313.7h0.8v0.8h-0.8zM71.3 289.5h0.8v0.8h-0.8zM64.9 319.7h0.8v0.8h-0.8zM71.0 285.6h0.8v0.8h-0.8zM72.7 311.6h0.8v0.8h-0.8zM71.0 313.8h0.8v0.8h-0.8zM72.7 305.3h0.8v0.8h-0.8zM67.7 287.7h0.8v0.8h-0.8zM70.0 315.3h0.8v0.8h-0.8zM70.9 296.7h0.8v0.8h-0.8zM69.6 295.4h0.8v0.8h-0.8zM72.8 311.0h0.8v0.8h-0.8zM71.2 320.6h0.8v0.8h-0.8zM69.1 287.7h0.8v0.8h-0.8zM72.0 301.2h0.8v0.8h-0.8zM72.0 310.3h0.8v0.8h-0.8zM69.2 295.0h0.8v0.8h-0.8zM71.6 319.1h0.8v0.8h-0.8zM71.0 307.6h0.8v0.8h-0.8zM70.8 286.9h0.8v0.8h-0.8zM67.5 290.1h0.8v0.8h-0.8zM72.8 289.6h0.8v0.8h-0.8zM71.6 302.0h0.8v0.8h-0.8zM70.1 318.6h0.8v0.8h-0.8zM70.8 288.4h0.8v0.8h-0.8zM70.8 290.0h0.8v0.8h-0.8zM69.5 292.4h0.8v0.8h-0.8zM68.9 306.5h0.8v0.8h-0.8zM70.4 301.0h0.8v0.8h-0.8zM68.9 300.5h0.8v0.8h-0.8zM69.1 289.7h0.8v0.8h-0.8zM67.5 315.7h0.8v0.8h-0.8zM69.5 302.9h0.8v0.8h-0.8zM72.4 317.1h0.8v0.8h-0.8zM70.4 284.9h0.8v0.8h-0.8zM70.3 302.0h0.8v0.8h-0.8zM69.5 298.6h0.8v0.8h-0.8zM69.2 316.3h0.8v0.8h-0.8zM66.8 311.0h0.8v0.8h-0.8zM73.8 304.5h0.8v0.8h-0.8zM68.6 290.4h0.8v0.8h-0.8zM66.8 310.6h0.8v0.8h-0.8zM71.0 318.1h0.8v0.8h-0.8zM70.7 314.0h0.8v0.8h-0.8zM68.9 320.5h0.8v0.8h-0.8zM66.9 307.2h0.8v0.8h-0.8zM67.2 296.4h0.8v0.8h-0.8zM73.5 292.8h0.8v0.8h-0.8zM69.9 314.8h0.8v0.8h-0.8zM68.6 315.3h0.8v0.8h-0.8zM74.3 308.8h0.8v0.8h-0.8zM68.9 314.2h0.8v0.8h-0.8zM68.1 303.1h0.8v0.8h-0.8zM71.4 316.6h0.8v0.8h-0.8zM71.0 311.1h0.8v0.8h-0.8zM73.5 293.6h0.8v0.8h-0.8zM66.7 307.0h0.8v0.8h-0.8zM70.8 309.6h0.8v0.8h-0.8zM66.5 292.0h0.8v0.8h-0.8zM71.2 319.4h0.8v0.8h-0.8zM68.6 315.1h0.8v0.8h-0.8zM69.1 289.7h0.8v0.8h-0.8zM68.6 292.7h0.8v0.8h-0.8zM70.9 282.7h0.8v0.8h-0.8zM73.8 319.6h0.8v0.8h-0.8zM69.9 290.9h0.8v0.8h-0.8zM69.5 316.0h0.8v0.8h-0.8zM69.0 304.1h0.8v0.8h-0.8zM71.2 286.1h0.8v0.8h-0.8zM67.9 292.4h0.8v0.8h-0.8zM77.8 294.2h0.8v0.8h-0.8zM69.6 313.6h0.8v0.8h-0.8zM73.9 298.5h0.8v0.8h-0.8zM70.4 289.6h0.8v0.8h-0.8zM66.9 319.8h0.8v0.8h-0.8zM66.7 304.2h0.8v0.8h-0.8zM69.2 286.5h0.8v0.8h-0.8zM68.4 320.6h0.8v0.8h-0.8zM69.6 310.4h0.8v0.8h-0.8zM67.6 301.4h0.8v0.8h-0.8zM75.0 289.7h0.8v0.8h-0.8zM74.9 311.0h0.8v0.8h-0.8zM66.3 287.8h0.8v0.8h-0.8zM71.2 319.6h0.8v0.8h-0.8zM72.8 313.2h0.8v0.8h-0.8zM69.4 311.8h0.8v0.8h-0.8zM69.6 313.8h0.8v0.8h-0.8zM72.6 317.1h0.8v0.8h-0.8zM71.3 302.5h0.8v0.8h-0.8zM67.3 315.3h0.8v0.8h-0.8zM72.6 288.3h0.8v0.8h-0.8zM69.0 311.3h0.8v0.8h-0.8zM74.3 313.1h0.8v0.8h-0.8zM68.0 292.4h0.8v0.8h-0.8zM65.3 288.4h0.8v0.8h-0.8zM70.3 318.8h0.8v0.8h-0.8zM72.9 318.0h0.8v0.8h-0.8zM71.1 288.3h0.8v0.8h-0.8zM70.4 307.1h0.8v0.8h-0.8zM68.1 291.2h0.8v0.8h-0.8zM72.0 292.1h0.8v0.8h-0.8zM65.8 319.2h0.8v0.8h-0.8zM71.9 309.9h0.8v0.8h-0.8zM67.3 313.4h0.8v0.8h-0.8zM68.8 295.2h0.8v0.8h-0.8zM67.0 314.0h0.8v0.8h-0.8zM68.0 310.1h0.8v0.8h-0.8zM73.3 297.7h0.8v0.8h-0.8zM67.4 303.5h0.8v0.8h-0.8zM70.5 293.9h0.8v0.8h-0.8zM68.2 307.3h0.8v0.8h-0.8zM72.2 291.4h0.8v0.8h-0.8zM67.0 301.7h0.8v0.8h-0.8zM70.0 316.8h0.8v0.8h-0.8zM72.1 309.7h0.8v0.8h-0.8zM75.1 307.6h0.8v0.8h-0.8zM67.5 288.4h0.8v0.8h-0.8zM68.0 315.6h0.8v0.8h-0.8zM69.9 308.2h0.8v0.8h-0.8zM73.4 319.9h0.8v0.8h-0.8zM67.6 319.4h0.8v0.8h-0.8zM71.9 319.3h0.8v0.8h-0.8zM68.6 305.0h0.8v0.8h-0.8zM67.6 313.8h0.8v0.8h-0.8zM66.6 288.0h0.8v0.8h-0.8zM70.2 285.6h0.8v0.8h-0.8zM72.2 314.4h0.8v0.8h-0.8zM69.8 310.3h0.8v0.8h-0.8zM65.0 319.8h0.8v0.8h-0.8zM68.8 296.1h0.8v0.8h-0.8zM72.2 303.5h0.8v0.8h-0.8zM72.0 314.4h0.8v0.8h-0.8zM70.6 307.8h0.8v0.8h-0.8zM73.4 316.5h0.8v0.8h-0.8zM67.2 299.6h0.8v0.8h-0.8zM67.1 316.4h0.8v0.8h-0.8zM75.5 317.0h0.8v0.8h-0.8zM71.5 318.4h0.8v0.8h-0.8zM69.5 299.7h0.8v0.8h-0.8zM68.8 318.5h0.8v0.8h-0.8zM64.3 296.2h0.8v0.8h-0.8zM71.9 307.3h0.8v0.8h-0.8zM65.1 320.9h0.8v0.8h-0.8zM65.5 309.2h0.8v0.8h-0.8zM69.9 307.2h0.8v0.8h-0.8zM73.3 298.3h0.8v0.8h-0.8zM69.1 304.2h0.8v0.8h-0.8zM70.8 303.3h0.8v0.8h-0.8zM69.0 310.4h0.8v0.8h-0.8zM70.9 305.2h0.8v0.8h-0.8zM66.3 296.6h0.8v0.8h-0.8zM74.5 291.6h0.8v0.8h-0.8zM67.7 321.1h0.8v0.8h-0.8zM71.3 308.2h0.8v0.8h-0.8zM65.6 290.9h0.8v0.8h-0.8zM73.9 297.4h0.8v0.8h-0.8zM71.0 309.4h0.8v0.8h-0.8zM74.4 293.5h0.8v0.8h-0.8zM68.4 318.1h0.8v0.8h-0.8zM72.3 305.2h0.8v0.8h-0.8zM69.6 310.6h0.8v0.8h-0.8zM69.9 309.9h0.8v0.8h-0.8zM72.8 290.4h0.8v0.8h-0.8zM67.8 319.3h0.8v0.8h-0.8zM71.7 316.4h0.8v0.8h-0.8zM74.1 289.8h0.8v0.8h-0.8zM74.0 306.3h0.8v0.8h-0.8zM72.4 304.7h0.8v0.8h-0.8zM70.8 296.3h0.8v0.8h-0.8zM67.9 298.8h0.8v0.8h-0.8zM73.2 294.3h0.8v0.8h-0.8zM68.5 308.7h0.8v0.8h-0.8zM72.7 300.9h0.8v0.8h-0.8zM69.3 287.9h0.8v0.8h-0.8zM70.1 293.0h0.8v0.8h-0.8zM70.0 290.0h0.8v0.8h-0.8zM71.4 308.6h0.8v0.8h-0.8zM69.1 305.7h0.8v0.8h-0.8zM70.4 299.5h0.8v0.8h-0.8zM68.9 305.5h0.8v0.8h-0.8zM71.3 308.6h0.8v0.8h-0.8zM70.7 292.6h0.8v0.8h-0.8zM70.9 286.1h0.8v0.8h-0.8zM68.0 320.3h0.8v0.8h-0.8zM70.7 291.4h0.8v0.8h-0.8zM70.1 293.6h0.8v0.8h-0.8zM71.4 311.4h0.8v0.8h-0.8zM70.1 321.1h0.8v0.8h-0.8zM68.0 288.9h0.8v0.8h-0.8zM71.7 299.9h0.8v0.8h-0.8zM68.5 316.8h0.8v0.8h-0.8zM70.6 287.3h0.8v0.8h-0.8zM65.5 293.9h0.8v0.8h-0.8zM71.2 308.0h0.8v0.8h-0.8zM71.5 315.9h0.8v0.8h-0.8zM68.1 288.0h0.8v0.8h-0.8zM71.3 300.4h0.8v0.8h-0.8zM69.2 307.2h0.8v0.8h-0.8zM73.2 305.5h0.8v0.8h-0.8zM71.5 305.0h0.8v0.8h-0.8zM67.1 321.3h0.8v0.8h-0.8zM69.5 321.0h0.8v0.8h-0.8zM66.2 292.3h0.8v0.8h-0.8zM69.3 294.1h0.8v0.8h-0.8zM71.3 299.8h0.8v0.8h-0.8zM71.8 287.9h0.8v0.8h-0.8zM69.8 289.8h0.8v0.8h-0.8zM69.5 306.2h0.8v0.8h-0.8zM70.4 321.1h0.8v0.8h-0.8zM68.7 295.6h0.8v0.8h-0.8zM70.7 291.9h0.8v0.8h-0.8zM72.6 308.1h0.8v0.8h-0.8zM70.5 295.8h0.8v0.8h-0.8zM71.2 283.8h0.8v0.8h-0.8zM68.4 287.6h0.8v0.8h-0.8zM68.9 317.5h0.8v0.8h-0.8zM70.8 288.2h0.8v0.8h-0.8zM74.7 309.1h0.8v0.8h-0.8zM72.3 300.5h0.8v0.8h-0.8zM74.0 313.8h0.8v0.8h-0.8zM70.2 304.0h0.8v0.8h-0.8zM72.8 293.2h0.8v0.8h-0.8zM66.4 292.4h0.8v0.8h-0.8zM71.2 293.3h0.8v0.8h-0.8zM65.6 293.3h0.8v0.8h-0.8zM72.8 294.0h0.8v0.8h-0.8zM71.2 295.9h0.8v0.8h-0.8zM72.8 307.4h0.8v0.8h-0.8zM71.0 304.7h0.8v0.8h-0.8zM69.0 286.6h0.8v0.8h-0.8zM68.5 300.6h0.8v0.8h-0.8zM70.5 319.3h0.8v0.8h-0.8zM73.6 319.6h0.8v0.8h-0.8zM71.5 296.7h0.8v0.8h-0.8zM69.0 290.1h0.8v0.8h-0.8zM68.9 295.6h0.8v0.8h-0.8zM68.6 289.2h0.8v0.8h-0.8zM69.7 294.3h0.8v0.8h-0.8zM69.9 319.1h0.8v0.8h-0.8zM69.0 317.5h0.8v0.8h-0.8zM70.2 301.8h0.8v0.8h-0.8zM66.6 305.6h0.8v0.8h-0.8zM73.7 311.3h0.8v0.8h-0.8zM70.7 311.3h0.8v0.8h-0.8zM73.6 311.0h0.8v0.8h-0.8zM70.8 312.6h0.8v0.8h-0.8zM69.7 307.2h0.8v0.8h-0.8zM70.3 289.2h0.8v0.8h-0.8zM70.7 310.8h0.8v0.8h-0.8zM68.7 310.1h0.8v0.8h-0.8zM69.3 290.4h0.8v0.8h-0.8zM74.3 291.7h0.8v0.8h-0.8zM72.3 308.9h0.8v0.8h-0.8zM69.0 299.2h0.8v0.8h-0.8zM71.4 315.2h0.8v0.8h-0.8zM68.4 295.0h0.8v0.8h-0.8zM73.4 310.0h0.8v0.8h-0.8zM67.9 308.1h0.8v0.8h-0.8zM72.0 288.3h0.8v0.8h-0.8zM70.3 295.0h0.8v0.8h-0.8zM70.3 298.0h0.8v0.8h-0.8zM68.4 296.0h0.8v0.8h-0.8zM69.6 287.5h0.8v0.8h-0.8zM68.5 293.3h0.8v0.8h-0.8zM68.3 305.1h0.8v0.8h-0.8zM71.2 293.0h0.8v0.8h-0.8zM75.9 308.9h0.8v0.8h-0.8zM69.4 300.4h0.8v0.8h-0.8zM72.4 302.0h0.8v0.8h-0.8zM70.2 292.2h0.8v0.8h-0.8zM68.5 314.4h0.8v0.8h-0.8zM73.0 287.0h0.8v0.8h-0.8zM71.6 319.7h0.8v0.8h-0.8zM72.8 307.1h0.8v0.8h-0.8zM70.4 319.7h0.8v0.8h-0.8zM70.5 305.6h0.8v0.8h-0.8zM68.4 297.9h0.8v0.8h-0.8zM69.6 298.6h0.8v0.8h-0.8zM74.1 319.2h0.8v0.8h-0.8zM65.1 304.5h0.8v0.8h-0.8zM71.1 299.6h0.8v0.8h-0.8zM73.3 290.2h0.8v0.8h-0.8zM71.9 290.0h0.8v0.8h-0.8zM72.2 300.4h0.8v0.8h-0.8zM69.6 301.8h0.8v0.8h-0.8zM72.8 315.0h0.8v0.8h-0.8zM72.6 288.8h0.8v0.8h-0.8zM70.1 301.9h0.8v0.8h-0.8zM73.7 289.2h0.8v0.8h-0.8zM69.2 294.1h0.8v0.8h-0.8zM64.7 303.4h0.8v0.8h-0.8zM70.2 317.5h0.8v0.8h-0.8zM70.0 289.2h0.8v0.8h-0.8zM68.4 290.9h0.8v0.8h-0.8zM69.2 311.5h0.8v0.8h-0.8zM69.0 304.7h0.8v0.8h-0.8zM66.4 287.4h0.8v0.8h-0.8zM73.0 310.6h0.8v0.8h-0.8zM70.2 320.2h0.8v0.8h-0.8zM76.3 312.7h0.8v0.8h-0.8zM70.1 321.4h0.8v0.8h-0.8zM71.1 312.8h0.8v0.8h-0.8zM66.9 297.0h0.8v0.8h-0.8zM72.5 314.9h0.8v0.8h-0.8zM67.8 306.3h0.8v0.8h-0.8zM71.3 287.5h0.8v0.8h-0.8zM72.3 298.3h0.8v0.8h-0.8zM72.0 319.8h0.8v0.8h-0.8zM68.3 309.6h0.8v0.8h-0.8zM68.5 298.6h0.8v0.8h-0.8zM71.9 311.6h0.8v0.8h-0.8zM72.9 310.6h0.8v0.8h-0.8zM73.3 290.3h0.8v0.8h-0.8zM70.2 302.2h0.8v0.8h-0.8zM70.0 315.1h0.8v0.8h-0.8zM73.9 288.6h0.8v0.8h-0.8zM68.9 305.5h0.8v0.8h-0.8zM71.8 288.7h0.8v0.8h-0.8zM69.5 294.9h0.8v0.8h-0.8zM67.0 313.7h0.8v0.8h-0.8zM67.8 298.2h0.8v0.8h-0.8zM71.2 315.6h0.8v0.8h-0.8zM70.7 312.2h0.8v0.8h-0.8zM71.3 308.9h0.8v0.8h-0.8zM69.4 289.9h0.8v0.8h-0.8zM69.1 301.8h0.8v0.8h-0.8zM70.8 317.5h0.8v0.8h-0.8zM69.8 308.7h0.8v0.8h-0.8zM66.8 286.6h0.8v0.8h-0.8zM69.2 303.7h0.8v0.8h-0.8zM74.0 302.4h0.8v0.8h-0.8zM68.5 303.2h0.8v0.8h-0.8zM71.4 300.4h0.8v0.8h-0.8zM70.0 315.3h0.8v0.8h-0.8zM71.8 304.9h0.8v0.8h-0.8zM68.2 316.9h0.8v0.8h-0.8zM67.2 320.0h0.8v0.8h-0.8zM71.2 318.1h0.8v0.8h-0.8zM68.6 313.8h0.8v0.8h-0.8zM70.0 284.4h0.8v0.8h-0.8zM69.7 282.7h0.8v0.8h-0.8zM72.2 290.8h0.8v0.8h-0.8zM70.7 304.3h0.8v0.8h-0.8zM70.5 295.9h0.8v0.8h-0.8zM68.1 289.2h0.8v0.8h-0.8zM66.5 319.1h0.8v0.8h-0.8zM68.3 301.0h0.8v0.8h-0.8zM71.9 291.9h0.8v0.8h-0.8zM71.7 304.1h0.8v0.8h-0.8zM71.5 320.9h0.8v0.8h-0.8zM69.2 312.1h0.8v0.8h-0.8zM67.8 319.1h0.8v0.8h-0.8zM72.5 288.5h0.8v0.8h-0.8zM70.6 312.8h0.8v0.8h-0.8zM71.3 297.4h0.8v0.8h-0.8zM68.1 298.2h0.8v0.8h-0.8zM68.7 302.0h0.8v0.8h-0.8zM71.6 302.2h0.8v0.8h-0.8zM71.8 314.6h0.8v0.8h-0.8zM68.0 295.7h0.8v0.8h-0.8zM70.8 302.2h0.8v0.8h-0.8zM67.6 301.1h0.8v0.8h-0.8zM72.9 308.4h0.8v0.8h-0.8zM71.6 305.9h0.8v0.8h-0.8zM74.6 285.7h0.8v0.8h-0.8zM73.6 316.7h0.8v0.8h-0.8zM68.7 309.1h0.8v0.8h-0.8zM70.5 290.0h0.8v0.8h-0.8zM69.1 303.5h0.8v0.8h-0.8zM70.4 318.3h0.8v0.8h-0.8zM71.9 317.7h0.8v0.8h-0.8zM70.1 299.9h0.8v0.8h-0.8zM70.3 293.5h0.8v0.8h-0.8zM67.0 320.0h0.8v0.8h-0.8zM71.4 312.6h0.8v0.8h-0.8zM70.1 309.9h0.8v0.8h-0.8zM71.5 300.1h0.8v0.8h-0.8zM72.5 317.1h0.8v0.8h-0.8zM70.2 291.6h0.8v0.8h-0.8zM71.7 315.8h0.8v0.8h-0.8zM68.8 314.9h0.8v0.8h-0.8zM72.2 304.5h0.8v0.8h-0.8zM70.1 298.4h0.8v0.8h-0.8zM68.8 310.8h0.8v0.8h-0.8zM69.6 299.3h0.8v0.8h-0.8zM67.0 300.3h0.8v0.8h-0.8zM68.7 294.7h0.8v0.8h-0.8zM69.2 314.3h0.8v0.8h-0.8zM70.2 290.1h0.8v0.8h-0.8zM70.0 303.5h0.8v0.8h-0.8zM68.7 301.4h0.8v0.8h-0.8zM69.7 321.1h0.8v0.8h-0.8zM65.7 288.3h0.8v0.8h-0.8zM70.3 306.2h0.8v0.8h-0.8zM71.3 292.8h0.8v0.8h-0.8zM71.9 319.9h0.8v0.8h-0.8zM72.4 288.9h0.8v0.8h-0.8zM69.6 318.8h0.8v0.8h-0.8zM69.9 309.2h0.8v0.8h-0.8zM69.1 291.6h0.8v0.8h-0.8zM69.1 300.4h0.8v0.8h-0.8zM70.4 294.9h0.8v0.8h-0.8zM73.1 302.8h0.8v0.8h-0.8zM66.3 315.7h0.8v0.8h-0.8zM69.0 302.9h0.8v0.8h-0.8zM70.7 321.0h0.8v0.8h-0.8zM67.8 318.7h0.8v0.8h-0.8zM71.0 292.6h0.8v0.8h-0.8zM67.2 289.2h0.8v0.8h-0.8zM69.3 310.7h0.8v0.8h-0.8zM66.5 298.2h0.8v0.8h-0.8zM70.7 294.5h0.8v0.8h-0.8zM68.3 319.1h0.8v0.8h-0.8zM71.5 306.7h0.8v0.8h-0.8zM69.5 294.7h0.8v0.8h-0.8zM68.0 306.1h0.8v0.8h-0.8zM69.2 305.6h0.8v0.8h-0.8zM70.4 314.8h0.8v0.8h-0.8zM70.1 300.3h0.8v0.8h-0.8zM69.5 303.8h0.8v0.8h-0.8zM69.3 290.0h0.8v0.8h-0.8zM70.1 316.5h0.8v0.8h-0.8zM72.0 318.9h0.8v0.8h-0.8zM69.3 282.7h0.8v0.8h-0.8zM71.0 313.3h0.8v0.8h-0.8zM67.0 320.6h0.8v0.8h-0.8zM72.1 316.9h0.8v0.8h-0.8zM70.9 314.9h0.8v0.8h-0.8zM69.3 292.5h0.8v0.8h-0.8zM69.3 321.2h0.8v0.8h-0.8zM66.4 298.8h0.8v0.8h-0.8zM70.3 316.9h0.8v0.8h-0.8zM69.5 314.1h0.8v0.8h-0.8zM67.0 307.8h0.8v0.8h-0.8zM69.0 320.4h0.8v0.8h-0.8zM71.3 320.1h0.8v0.8h-0.8zM70.5 301.5h0.8v0.8h-0.8zM70.7 302.6h0.8v0.8h-0.8zM68.8 318.4h0.8v0.8h-0.8zM71.9 301.8h0.8v0.8h-0.8zM70.0 317.2h0.8v0.8h-0.8zM71.9 293.0h0.8v0.8h-0.8zM74.8 294.0h0.8v0.8h-0.8zM65.8 299.3h0.8v0.8h-0.8zM69.0 296.2h0.8v0.8h-0.8zM70.1 301.9h0.8v0.8h-0.8zM68.5 292.8h0.8v0.8h-0.8zM72.2 290.5h0.8v0.8h-0.8zM69.3 299.0h0.8v0.8h-0.8zM73.6 291.0h0.8v0.8h-0.8zM71.7 297.6h0.8v0.8h-0.8zM71.0 299.7h0.8v0.8h-0.8zM70.0 319.6h0.8v0.8h-0.8zM72.0 300.5h0.8v0.8h-0.8zM71.2 307.1h0.8v0.8h-0.8zM73.4 319.1h0.8v0.8h-0.8zM71.0 301.5h0.8v0.8h-0.8zM72.3 294.9h0.8v0.8h-0.8zM71.0 306.2h0.8v0.8h-0.8zM70.9 315.7h0.8v0.8h-0.8zM66.8 295.3h0.8v0.8h-0.8zM70.2 312.6h0.8v0.8h-0.8zM71.0 302.9h0.8v0.8h-0.8zM67.6 304.7h0.8v0.8h-0.8zM67.1 309.2h0.8v0.8h-0.8zM69.5 302.4h0.8v0.8h-0.8zM70.7 291.4h0.8v0.8h-0.8zM66.5 293.2h0.8v0.8h-0.8zM70.7 285.8h0.8v0.8h-0.8zM72.3 317.7h0.8v0.8h-0.8zM69.6 309.5h0.8v0.8h-0.8zM70.7 319.5h0.8v0.8h-0.8zM71.2 296.6h0.8v0.8h-0.8zM68.7 305.9h0.8v0.8h-0.8zM71.5 306.4h0.8v0.8h-0.8zM71.1 289.5h0.8v0.8h-0.8zM67.4 305.8h0.8v0.8h-0.8zM71.3 307.7h0.8v0.8h-0.8zM72.1 301.0h0.8v0.8h-0.8zM67.8 297.8h0.8v0.8h-0.8zM72.0 293.4h0.8v0.8h-0.8zM69.6 286.9h0.8v0.8h-0.8zM67.2 307.4h0.8v0.8h-0.8zM68.0 291.8h0.8v0.8h-0.8zM68.3 287.1h0.8v0.8h-0.8zM71.3 321.0h0.8v0.8h-0.8zM69.0 317.9h0.8v0.8h-0.8zM69.3 298.3h0.8v0.8h-0.8zM67.4 302.5h0.8v0.8h-0.8zM70.2 292.1h0.8v0.8h-0.8zM67.3 321.1h0.8v0.8h-0.8zM68.7 295.9h0.8v0.8h-0.8zM71.5 316.1h0.8v0.8h-0.8zM71.6 313.0h0.8v0.8h-0.8zM69.3 284.1h0.8v0.8h-0.8zM70.0 285.3h0.8v0.8h-0.8zM71.3 301.4h0.8v0.8h-0.8zM70.1 284.9h0.8v0.8h-0.8zM72.9 318.9h0.8v0.8h-0.8zM73.2 320.6h0.8v0.8h-0.8zM70.0 308.0h0.8v0.8h-0.8zM67.5 296.1h0.8v0.8h-0.8zM69.8 292.5h0.8v0.8h-0.8zM72.9 289.4h0.8v0.8h-0.8zM72.6 306.2h0.8v0.8h-0.8zM72.6 290.2h0.8v0.8h-0.8zM72.5 292.7h0.8v0.8h-0.8zM69.0 312.0h0.8v0.8h-0.8zM70.8 317.2h0.8v0.8h-0.8zM72.6 308.8h0.8v0.8h-0.8zM70.7 320.1h0.8v0.8h-0.8zM72.1 315.5h0.8v0.8h-0.8zM68.0 301.1h0.8v0.8h-0.8zM67.5 298.2h0.8v0.8h-0.8zM74.4 291.8h0.8v0.8h-0.8zM71.9 314.9h0.8v0.8h-0.8zM71.5 303.9h0.8v0.8h-0.8zM73.5 317.5h0.8v0.8h-0.8zM75.1 303.4h0.8v0.8h-0.8zM76.7 317.4h0.8v0.8h-0.8zM64.8 312.1h0.8v0.8h-0.8zM71.0 306.3h0.8v0.8h-0.8zM72.5 312.7h0.8v0.8h-0.8zM65.9 312.6h0.8v0.8h-0.8zM66.6 285.7h0.8v0.8h-0.8zM69.8 315.2h0.8v0.8h-0.8zM74.1 288.2h0.8v0.8h-0.8zM72.3 305.2h0.8v0.8h-0.8zM74.9 303.1h0.8v0.8h-0.8zM70.8 313.5h0.8v0.8h-0.8zM72.5 292.7h0.8v0.8h-0.8zM73.6 311.2h0.8v0.8h-0.8zM71.2 314.5h0.8v0.8h-0.8zM70.1 297.6h0.8v0.8h-0.8zM70.5 306.7h0.8v0.8h-0.8zM62.1 300.3h0.8v0.8h-0.8zM70.9 313.3h0.8v0.8h-0.8zM65.9 317.7h0.8v0.8h-0.8zM68.4 304.0h0.8v0.8h-0.8zM71.0 283.7h0.8v0.8h-0.8zM71.0 318.9h0.8v0.8h-0.8zM65.7 307.0h0.8v0.8h-0.8zM71.3 291.1h0.8v0.8h-0.8zM71.9 312.5h0.8v0.8h-0.8zM70.6 301.8h0.8v0.8h-0.8zM71.6 290.9h0.8v0.8h-0.8zM71.4 297.5h0.8v0.8h-0.8zM66.3 307.8h0.8v0.8h-0.8zM69.7 297.2h0.8v0.8h-0.8zM69.5 289.5h0.8v0.8h-0.8zM67.6 286.1h0.8v0.8h-0.8zM70.0 299.2h0.8v0.8h-0.8zM68.3 312.4h0.8v0.8h-0.8zM70.0 297.7h0.8v0.8h-0.8zM68.2 300.2h0.8v0.8h-0.8zM72.5 315.0h0.8v0.8h-0.8zM75.1 309.0h0.8v0.8h-0.8zM68.8 321.0h0.8v0.8h-0.8zM70.2 316.0h0.8v0.8h-0.8zM70.2 319.6h0.8v0.8h-0.8zM71.1 304.0h0.8v0.8h-0.8zM69.7 313.9h0.8v0.8h-0.8zM64.9 321.5h0.8v0.8h-0.8zM70.5 283.7h0.8v0.8h-0.8zM69.8 302.5h0.8v0.8h-0.8zM67.7 312.9h0.8v0.8h-0.8zM69.7 293.2h0.8v0.8h-0.8zM69.0 286.7h0.8v0.8h-0.8zM70.6 303.8h0.8v0.8h-0.8zM69.4 286.5h0.8v0.8h-0.8zM69.5 290.2h0.8v0.8h-0.8zM70.3 285.8h0.8v0.8h-0.8zM70.6 312.4h0.8v0.8h-0.8zM70.1 285.8h0.8v0.8h-0.8zM72.8 318.9h0.8v0.8h-0.8zM70.6 305.9h0.8v0.8h-0.8zM68.4 299.9h0.8v0.8h-0.8zM73.7 289.8h0.8v0.8h-0.8zM70.4 299.5h0.8v0.8h-0.8zM73.5 294.1h0.8v0.8h-0.8zM67.6 317.1h0.8v0.8h-0.8zM71.4 304.0h0.8v0.8h-0.8zM72.7 284.2h0.8v0.8h-0.8zM73.0 319.5h0.8v0.8h-0.8zM70.3 321.1h0.8v0.8h-0.8zM68.7 321.3h0.8v0.8h-0.8zM68.8 294.8h0.8v0.8h-0.8zM69.7 303.7h0.8v0.8h-0.8zM67.9 311.8h0.8v0.8h-0.8zM68.5 288.3h0.8v0.8h-0.8zM67.9 300.9h0.8v0.8h-0.8zM67.9 296.7h0.8v0.8h-0.8zM70.6 317.0h0.8v0.8h-0.8zM67.1 284.7h0.8v0.8h-0.8zM70.4 319.1h0.8v0.8h-0.8zM71.1 284.3h0.8v0.8h-0.8zM67.9 319.1h0.8v0.8h-0.8zM68.1 301.9h0.8v0.8h-0.8zM70.1 291.3h0.8v0.8h-0.8zM70.0 296.4h0.8v0.8h-0.8zM72.2 319.5h0.8v0.8h-0.8zM65.8 291.5h0.8v0.8h-0.8zM69.9 315.4h0.8v0.8h-0.8zM73.3 317.9h0.8v0.8h-0.8zM70.3 295.8h0.8v0.8h-0.8zM74.1 306.9h0.8v0.8h-0.8zM74.9 304.4h0.8v0.8h-0.8zM68.8 319.4h0.8v0.8h-0.8zM73.3 291.4h0.8v0.8h-0.8zM71.2 298.8h0.8v0.8h-0.8zM70.1 310.0h0.8v0.8h-0.8zM69.5 289.6h0.8v0.8h-0.8zM69.6 294.3h0.8v0.8h-0.8zM68.0 313.8h0.8v0.8h-0.8zM69.7 309.2h0.8v0.8h-0.8zM72.2 306.1h0.8v0.8h-0.8zM73.0 317.2h0.8v0.8h-0.8zM69.3 293.6h0.8v0.8h-0.8zM71.3 318.8h0.8v0.8h-0.8zM71.2 296.9h0.8v0.8h-0.8zM64.6 318.8h0.8v0.8h-0.8zM71.7 312.3h0.8v0.8h-0.8zM67.3 312.1h0.8v0.8h-0.8zM67.5 307.9h0.8v0.8h-0.8zM72.0 314.0h0.8v0.8h-0.8zM73.8 296.4h0.8v0.8h-0.8zM67.6 312.5h0.8v0.8h-0.8zM68.2 288.6h0.8v0.8h-0.8zM68.0 309.5h0.8v0.8h-0.8zM68.8 320.6h0.8v0.8h-0.8zM69.2 320.3h0.8v0.8h-0.8zM68.3 293.7h0.8v0.8h-0.8zM66.3 318.3h0.8v0.8h-0.8zM74.1 307.4h0.8v0.8h-0.8zM69.0 301.3h0.8v0.8h-0.8zM68.4 299.1h0.8v0.8h-0.8zM72.1 301.8h0.8v0.8h-0.8zM69.3 301.8h0.8v0.8h-0.8zM72.5 319.9h0.8v0.8h-0.8zM71.9 313.5h0.8v0.8h-0.8zM72.2 290.4h0.8v0.8h-0.8zM69.2 314.2h0.8v0.8h-0.8zM71.5 307.5h0.8v0.8h-0.8zM66.5 321.2h0.8v0.8h-0.8zM67.1 295.4h0.8v0.8h-0.8zM70.2 312.8h0.8v0.8h-0.8zM69.4 304.4h0.8v0.8h-0.8zM73.0 292.9h0.8v0.8h-0.8zM69.5 288.7h0.8v0.8h-0.8zM66.0 318.2h0.8v0.8h-0.8zM70.1 284.1h0.8v0.8h-0.8zM69.5 294.0h0.8v0.8h-0.8zM70.5 302.6h0.8v0.8h-0.8zM67.6 295.5h0.8v0.8h-0.8zM68.4 305.7h0.8v0.8h-0.8zM70.2 291.0h0.8v0.8h-0.8zM71.8 314.1h0.8v0.8h-0.8zM71.0 306.9h0.8v0.8h-0.8zM71.8 309.2h0.8v0.8h-0.8zM66.7 320.7h0.8v0.8h-0.8zM69.6 290.7h0.8v0.8h-0.8zM70.6 302.4h0.8v0.8h-0.8zM72.1 290.2h0.8v0.8h-0.8zM70.7 295.9h0.8v0.8h-0.8zM69.6 303.8h0.8v0.8h-0.8zM69.8 313.4h0.8v0.8h-0.8zM69.9 291.3h0.8v0.8h-0.8zM66.9 315.3h0.8v0.8h-0.8zM70.2 312.3h0.8v0.8h-0.8zM71.9 302.7h0.8v0.8h-0.8zM71.7 317.4h0.8v0.8h-0.8zM66.0 300.8h0.8v0.8h-0.8zM70.1 320.9h0.8v0.8h-0.8zM66.6 320.4h0.8v0.8h-0.8zM72.5 300.5h0.8v0.8h-0.8zM71.3 320.1h0.8v0.8h-0.8zM71.7 313.8h0.8v0.8h-0.8zM68.7 304.8h0.8v0.8h-0.8zM65.8 308.0h0.8v0.8h-0.8zM67.7 314.9h0.8v0.8h-0.8zM69.3 320.2h0.8v0.8h-0.8zM66.7 318.5h0.8v0.8h-0.8zM67.8 320.1h0.8v0.8h-0.8zM74.0 299.9h0.8v0.8h-0.8zM68.3 283.4h0.8v0.8h-0.8zM71.3 289.4h0.8v0.8h-0.8zM66.1 299.1h0.8v0.8h-0.8zM70.6 287.7h0.8v0.8h-0.8zM72.0 305.4h0.8v0.8h-0.8zM71.0 288.7h0.8v0.8h-0.8zM72.8 296.1h0.8v0.8h-0.8zM74.0 296.1h0.8v0.8h-0.8zM66.9 318.6h0.8v0.8h-0.8zM70.7 302.4h0.8v0.8h-0.8zM71.2 288.5h0.8v0.8h-0.8zM71.1 313.3h0.8v0.8h-0.8zM73.8 319.5h0.8v0.8h-0.8zM70.8 311.8h0.8v0.8h-0.8zM71.5 283.1h0.8v0.8h-0.8zM72.8 316.4h0.8v0.8h-0.8zM70.5 292.5h0.8v0.8h-0.8zM71.4 315.6h0.8v0.8h-0.8zM68.4 315.6h0.8v0.8h-0.8zM70.9 310.7h0.8v0.8h-0.8zM70.6 286.9h0.8v0.8h-0.8zM69.9 298.6h0.8v0.8h-0.8zM69.2 289.0h0.8v0.8h-0.8zM72.4 314.2h0.8v0.8h-0.8zM69.9 286.6h0.8v0.8h-0.8zM75.2 301.5h0.8v0.8h-0.8zM73.2 312.9h0.8v0.8h-0.8zM71.9 315.7h0.8v0.8h-0.8zM69.0 300.8h0.8v0.8h-0.8zM72.1 287.2h0.8v0.8h-0.8zM70.5 317.6h0.8v0.8h-0.8zM70.4 295.8h0.8v0.8h-0.8zM67.8 303.4h0.8v0.8h-0.8zM70.7 282.8h0.8v0.8h-0.8zM70.8 296.0h0.8v0.8h-0.8zM69.2 319.6h0.8v0.8h-0.8zM68.7 312.4h0.8v0.8h-0.8zM69.6 311.9h0.8v0.8h-0.8zM67.3 306.2h0.8v0.8h-0.8zM69.1 289.4h0.8v0.8h-0.8zM73.2 292.9h0.8v0.8h-0.8zM68.7 320.0h0.8v0.8h-0.8zM75.0 288.3h0.8v0.8h-0.8zM67.3 310.0h0.8v0.8h-0.8zM72.7 298.8h0.8v0.8h-0.8zM72.7 312.4h0.8v0.8h-0.8zM72.7 289.7h0.8v0.8h-0.8zM71.4 288.1h0.8v0.8h-0.8zM66.7 305.4h0.8v0.8h-0.8zM72.7 294.2h0.8v0.8h-0.8zM72.7 314.4h0.8v0.8h-0.8zM70.3 321.5h0.8v0.8h-0.8zM65.3 289.4h0.8v0.8h-0.8zM72.6 293.9h0.8v0.8h-0.8zM68.3 290.9h0.8v0.8h-0.8zM69.7 299.4h0.8v0.8h-0.8zM72.9 293.3h0.8v0.8h-0.8zM73.2 307.9h0.8v0.8h-0.8zM71.1 298.9h0.8v0.8h-0.8zM69.0 304.5h0.8v0.8h-0.8zM74.1 317.0h0.8v0.8h-0.8zM72.9 317.0h0.8v0.8h-0.8zM69.9 291.0h0.8v0.8h-0.8zM68.2 294.4h0.8v0.8h-0.8zM70.9 306.3h0.8v0.8h-0.8zM67.3 302.6h0.8v0.8h-0.8zM73.3 285.1h0.8v0.8h-0.8zM71.4 312.6h0.8v0.8h-0.8zM69.4 314.6h0.8v0.8h-0.8zM71.1 301.1h0.8v0.8h-0.8zM66.7 288.8h0.8v0.8h-0.8zM70.1 311.2h0.8v0.8h-0.8zM68.9 286.4h0.8v0.8h-0.8zM66.9 286.4h0.8v0.8h-0.8zM68.8 306.5h0.8v0.8h-0.8zM71.0 301.2h0.8v0.8h-0.8zM66.9 321.1h0.8v0.8h-0.8zM69.8 294.0h0.8v0.8h-0.8zM67.1 291.2h0.8v0.8h-0.8zM70.6 296.8h0.8v0.8h-0.8zM66.1 317.4h0.8v0.8h-0.8zM71.8 311.1h0.8v0.8h-0.8zM70.8 283.0h0.8v0.8h-0.8zM71.9 289.1h0.8v0.8h-0.8zM74.3 319.9h0.8v0.8h-0.8zM70.6 306.3h0.8v0.8h-0.8zM70.4 300.4h0.8v0.8h-0.8zM71.4 286.9h0.8v0.8h-0.8zM69.2 292.9h0.8v0.8h-0.8zM67.1 284.2h0.8v0.8h-0.8zM67.3 316.6h0.8v0.8h-0.8zM67.3 319.3h0.8v0.8h-0.8zM70.6 305.0h0.8v0.8h-0.8zM68.7 314.6h0.8v0.8h-0.8zM69.3 289.4h0.8v0.8h-0.8zM71.4 295.0h0.8v0.8h-0.8zM70.6 308.1h0.8v0.8h-0.8zM74.7 310.6h0.8v0.8h-0.8zM70.0 307.6h0.8v0.8h-0.8zM68.2 287.5h0.8v0.8h-0.8zM73.0 319.3h0.8v0.8h-0.8zM69.3 293.9h0.8v0.8h-0.8zM70.0 310.7h0.8v0.8h-0.8zM72.4 317.0h0.8v0.8h-0.8zM70.5 289.2h0.8v0.8h-0.8zM71.7 302.1h0.8v0.8h-0.8zM68.8 308.2h0.8v0.8h-0.8zM69.4 321.2h0.8v0.8h-0.8zM71.6 311.5h0.8v0.8h-0.8zM69.0 301.0h0.8v0.8h-0.8zM69.3 311.1h0.8v0.8h-0.8zM70.1 304.2h0.8v0.8h-0.8zM73.5 288.3h0.8v0.8h-0.8zM73.4 292.7h0.8v0.8h-0.8zM70.8 308.4h0.8v0.8h-0.8zM70.4 310.4h0.8v0.8h-0.8zM68.7 301.3h0.8v0.8h-0.8zM73.1 294.3h0.8v0.8h-0.8zM71.1 286.1h0.8v0.8h-0.8zM72.4 313.0h0.8v0.8h-0.8zM67.3 291.9h0.8v0.8h-0.8zM72.1 311.8h0.8v0.8h-0.8zM70.6 319.6h0.8v0.8h-0.8zM72.0 315.7h0.8v0.8h-0.8zM72.6 307.2h0.8v0.8h-0.8zM70.3 286.0h0.8v0.8h-0.8zM69.5 311.5h0.8v0.8h-0.8zM71.9 320.9h0.8v0.8h-0.8zM67.7 296.1h0.8v0.8h-0.8zM73.6 316.2h0.8v0.8h-0.8zM71.1 305.2h0.8v0.8h-0.8zM67.8 314.2h0.8v0.8h-0.8zM73.3 312.3h0.8v0.8h-0.8zM72.4 296.0h0.8v0.8h-0.8zM73.8 303.0h0.8v0.8h-0.8zM72.4 287.7h0.8v0.8h-0.8zM71.4 288.7h0.8v0.8h-0.8zM70.3 295.4h0.8v0.8h-0.8zM68.0 311.8h0.8v0.8h-0.8zM72.0 299.5h0.8v0.8h-0.8zM71.7 317.1h0.8v0.8h-0.8zM69.5 309.8h0.8v0.8h-0.8zM71.7 318.9h0.8v0.8h-0.8zM68.4 314.5h0.8v0.8h-0.8zM72.7 301.3h0.8v0.8h-0.8zM70.7 288.1h0.8v0.8h-0.8zM71.0 303.3h0.8v0.8h-0.8zM68.8 304.2h0.8v0.8h-0.8zM72.3 288.3h0.8v0.8h-0.8zM70.7 289.9h0.8v0.8h-0.8zM69.0 320.9h0.8v0.8h-0.8zM71.3 315.8h0.8v0.8h-0.8zM69.9 298.2h0.8v0.8h-0.8zM72.0 284.8h0.8v0.8h-0.8zM67.1 294.6h0.8v0.8h-0.8zM67.8 305.6h0.8v0.8h-0.8zM75.0 320.5h0.8v0.8h-0.8zM69.4 284.5h0.8v0.8h-0.8zM71.5 312.0h0.8v0.8h-0.8zM69.4 320.2h0.8v0.8h-0.8zM70.8 320.4h0.8v0.8h-0.8zM76.2 307.3h0.8v0.8h-0.8zM65.9 314.4h0.8v0.8h-0.8zM71.6 310.6h0.8v0.8h-0.8zM70.3 284.2h0.8v0.8h-0.8zM70.4 294.9h0.8v0.8h-0.8zM68.5 319.6h0.8v0.8h-0.8zM68.3 287.9h0.8v0.8h-0.8zM73.2 290.3h0.8v0.8h-0.8zM71.5 308.2h0.8v0.8h-0.8zM67.6 318.1h0.8v0.8h-0.8zM70.4 298.6h0.8v0.8h-0.8zM67.4 307.5h0.8v0.8h-0.8zM76.9 320.8h0.8v0.8h-0.8zM71.2 316.2h0.8v0.8h-0.8zM67.6 283.8h0.8v0.8h-0.8zM72.4 310.4h0.8v0.8h-0.8zM71.6 288.2h0.8v0.8h-0.8zM71.0 320.1h0.8v0.8h-0.8zM70.7 312.0h0.8v0.8h-0.8zM69.0 318.4h0.8v0.8h-0.8zM69.9 303.3h0.8v0.8h-0.8zM66.1 286.2h0.8v0.8h-0.8zM73.1 292.3h0.8v0.8h-0.8zM74.4 287.2h0.8v0.8h-0.8zM71.4 313.3h0.8v0.8h-0.8zM71.7 317.5h0.8v0.8h-0.8zM67.3 301.9h0.8v0.8h-0.8zM69.3 316.2h0.8v0.8h-0.8zM67.3 292.6h0.8v0.8h-0.8zM67.4 301.3h0.8v0.8h-0.8zM71.5 300.6h0.8v0.8h-0.8zM73.5 303.3h0.8v0.8h-0.8zM70.1 284.9h0.8v0.8h-0.8zM75.5 290.7h0.8v0.8h-0.8zM72.0 288.1h0.8v0.8h-0.8zM65.2 309.3h0.8v0.8h-0.8zM69.4 302.8h0.8v0.8h-0.8zM73.3 321.3h0.8v0.8h-0.8zM70.7 308.9h0.8v0.8h-0.8zM72.5 292.1h0.8v0.8h-0.8zM66.7 288.1h0.8v0.8h-0.8zM73.2 310.7h0.8v0.8h-0.8zM67.6 315.6h0.8v0.8h-0.8zM71.0 289.3h0.8v0.8h-0.8zM75.0 304.3h0.8v0.8h-0.8zM70.4 320.2h0.8v0.8h-0.8zM69.7 318.4h0.8v0.8h-0.8zM71.8 288.5h0.8v0.8h-0.8zM68.4 303.4h0.8v0.8h-0.8zM68.1 317.4h0.8v0.8h-0.8zM72.5 307.7h0.8v0.8h-0.8zM67.8 284.3h0.8v0.8h-0.8zM67.6 297.8h0.8v0.8h-0.8zM74.1 295.2h0.8v0.8h-0.8zM67.5 297.4h0.8v0.8h-0.8zM71.3 320.8h0.8v0.8h-0.8zM72.8 315.5h0.8v0.8h-0.8zM70.1 321.4h0.8v0.8h-0.8zM67.8 314.7h0.8v0.8h-0.8zM72.1 320.5h0.8v0.8h-0.8zM68.2 300.4h0.8v0.8h-0.8zM75.1 319.5h0.8v0.8h-0.8zM75.2 305.4h0.8v0.8h-0.8zM67.9 315.3h0.8v0.8h-0.8zM71.5 292.0h0.8v0.8h-0.8zM68.6 317.5h0.8v0.8h-0.8zM71.1 299.7h0.8v0.8h-0.8zM69.6 319.6h0.8v0.8h-0.8zM68.1 296.1h0.8v0.8h-0.8zM71.4 299.6h0.8v0.8h-0.8zM66.6 304.1h0.8v0.8h-0.8zM70.9 317.7h0.8v0.8h-0.8zM69.9 312.5h0.8v0.8h-0.8zM68.5 294.4h0.8v0.8h-0.8zM72.2 303.6h0.8v0.8h-0.8zM70.3 316.6h0.8v0.8h-0.8zM69.4 317.9h0.8v0.8h-0.8zM69.8 312.9h0.8v0.8h-0.8zM69.7 297.0h0.8v0.8h-0.8zM72.3 319.0h0.8v0.8h-0.8zM69.6 299.2h0.8v0.8h-0.8zM63.6 312.4h0.8v0.8h-0.8zM63.1 315.0h0.8v0.8h-0.8zM67.8 310.8h0.8v0.8h-0.8zM67.6 286.0h0.8v0.8h-0.8zM69.6 292.4h0.8v0.8h-0.8zM67.1 314.2h0.8v0.8h-0.8zM68.4 309.5h0.8v0.8h-0.8zM73.2 316.4h0.8v0.8h-0.8zM67.2 311.4h0.8v0.8h-0.8zM72.1 310.8h0.8v0.8h-0.8zM69.9 317.6h0.8v0.8h-0.8zM73.2 319.2h0.8v0.8h-0.8zM72.2 295.4h0.8v0.8h-0.8zM70.3 316.0h0.8v0.8h-0.8zM72.7 320.4h0.8v0.8h-0.8zM70.7 288.7h0.8v0.8h-0.8zM67.8 301.4h0.8v0.8h-0.8zM71.4 305.3h0.8v0.8h-0.8zM71.4 306.1h0.8v0.8h-0.8zM70.0 317.2h0.8v0.8h-0.8zM70.4 283.4h0.8v0.8h-0.8zM69.3 286.5h0.8v0.8h-0.8zM71.0 314.2h0.8v0.8h-0.8zM69.7 294.9h0.8v0.8h-0.8zM66.9 302.2h0.8v0.8h-0.8zM69.7 289.7h0.8v0.8h-0.8zM73.9 320.2h0.8v0.8h-0.8zM72.1 303.4h0.8v0.8h-0.8zM73.4 286.6h0.8v0.8h-0.8zM70.3 318.5h0.8v0.8h-0.8zM69.4 307.1h0.8v0.8h-0.8zM68.0 294.1h0.8v0.8h-0.8zM70.6 287.6h0.8v0.8h-0.8zM72.0 284.9h0.8v0.8h-0.8zM72.2 317.2h0.8v0.8h-0.8zM71.8 288.8h0.8v0.8h-0.8zM69.2 292.7h0.8v0.8h-0.8zM70.5 305.8h0.8v0.8h-0.8zM68.6 286.5h0.8v0.8h-0.8zM72.2 312.1h0.8v0.8h-0.8zM71.7 309.2h0.8v0.8h-0.8zM68.9 309.4h0.8v0.8h-0.8zM70.6 298.1h0.8v0.8h-0.8zM65.4 295.3h0.8v0.8h-0.8zM71.9 313.9h0.8v0.8h-0.8zM68.4 320.9h0.8v0.8h-0.8zM69.5 307.3h0.8v0.8h-0.8zM71.6 318.7h0.8v0.8h-0.8zM71.7 290.2h0.8v0.8h-0.8zM68.7 313.5h0.8v0.8h-0.8zM73.7 293.3h0.8v0.8h-0.8zM74.7 295.0h0.8v0.8h-0.8zM72.7 284.9h0.8v0.8h-0.8zM73.3 319.5h0.8v0.8h-0.8zM70.4 290.0h0.8v0.8h-0.8zM73.3 293.1h0.8v0.8h-0.8zM68.4 297.7h0.8v0.8h-0.8zM67.8 301.0h0.8v0.8h-0.8zM70.6 315.4h0.8v0.8h-0.8zM70.8 287.1h0.8v0.8h-0.8zM68.4 286.8h0.8v0.8h-0.8zM74.1 292.7h0.8v0.8h-0.8zM66.9 317.6h0.8v0.8h-0.8zM65.5 315.8h0.8v0.8h-0.8zM69.3 318.2h0.8v0.8h-0.8zM73.9 304.0h0.8v0.8h-0.8zM71.0 283.2h0.8v0.8h-0.8zM71.0 307.8h0.8v0.8h-0.8zM70.6 295.1h0.8v0.8h-0.8zM71.4 289.2h0.8v0.8h-0.8zM71.0 295.9h0.8v0.8h-0.8zM70.5 312.2h0.8v0.8h-0.8zM70.0 307.1h0.8v0.8h-0.8zM66.6 312.7h0.8v0.8h-0.8zM72.4 308.4h0.8v0.8h-0.8zM69.3 307.0h0.8v0.8h-0.8zM71.1 305.7h0.8v0.8h-0.8zM71.4 314.0h0.8v0.8h-0.8zM72.6 310.7h0.8v0.8h-0.8zM68.5 310.1h0.8v0.8h-0.8zM72.0 297.6h0.8v0.8h-0.8zM72.0 292.5h0.8v0.8h-0.8zM70.0 314.1h0.8v0.8h-0.8zM70.1 308.8h0.8v0.8h-0.8zM70.6 313.5h0.8v0.8h-0.8zM68.0 296.6h0.8v0.8h-0.8zM69.4 284.1h0.8v0.8h-0.8zM67.6 314.2h0.8v0.8h-0.8zM72.7 290.7h0.8v0.8h-0.8zM68.4 313.2h0.8v0.8h-0.8zM68.0 286.0h0.8v0.8h-0.8zM70.5 287.7h0.8v0.8h-0.8zM71.3 288.6h0.8v0.8h-0.8zM69.4 289.6h0.8v0.8h-0.8zM68.0 315.3h0.8v0.8h-0.8zM70.8 284.6h0.8v0.8h-0.8zM72.1 296.1h0.8v0.8h-0.8zM66.6 305.5h0.8v0.8h-0.8zM72.2 305.0h0.8v0.8h-0.8zM66.2 310.5h0.8v0.8h-0.8zM71.7 305.1h0.8v0.8h-0.8zM69.3 289.4h0.8v0.8h-0.8zM69.6 287.0h0.8v0.8h-0.8zM71.8 314.1h0.8v0.8h-0.8zM73.3 295.3h0.8v0.8h-0.8zM74.6 289.9h0.8v0.8h-0.8zM73.2 295.4h0.8v0.8h-0.8zM71.6 288.9h0.8v0.8h-0.8zM67.2 313.6h0.8v0.8h-0.8zM69.3 292.4h0.8v0.8h-0.8zM70.5 306.9h0.8v0.8h-0.8zM68.9 300.3h0.8v0.8h-0.8zM71.5 306.7h0.8v0.8h-0.8zM69.6 319.2h0.8v0.8h-0.8zM74.2 303.2h0.8v0.8h-0.8zM69.8 289.3h0.8v0.8h-0.8zM67.3 310.9h0.8v0.8h-0.8zM69.1 296.1h0.8v0.8h-0.8zM68.7 294.4h0.8v0.8h-0.8zM71.8 315.6h0.8v0.8h-0.8zM73.2 293.2h0.8v0.8h-0.8zM72.4 295.7h0.8v0.8h-0.8zM72.5 301.2h0.8v0.8h-0.8zM68.6 314.0h0.8v0.8h-0.8zM67.7 313.9h0.8v0.8h-0.8zM68.5 299.5h0.8v0.8h-0.8zM70.1 283.4h0.8v0.8h-0.8zM69.6 283.0h0.8v0.8h-0.8zM70.8 288.5h0.8v0.8h-0.8zM72.6 321.4h0.8v0.8h-0.8zM70.4 301.4h0.8v0.8h-0.8zM74.0 303.6h0.8v0.8h-0.8zM68.5 311.2h0.8v0.8h-0.8zM71.6 303.3h0.8v0.8h-0.8zM70.1 290.4h0.8v0.8h-0.8zM72.5 311.7h0.8v0.8h-0.8zM70.2 291.1h0.8v0.8h-0.8zM69.1 297.5h0.8v0.8h-0.8zM69.9 284.5h0.8v0.8h-0.8zM68.3 308.9h0.8v0.8h-0.8zM67.7 315.1h0.8v0.8h-0.8zM72.0 297.2h0.8v0.8h-0.8zM68.9 286.0h0.8v0.8h-0.8zM72.9 297.8h0.8v0.8h-0.8zM75.5 290.5h0.8v0.8h-0.8zM69.4 292.4h0.8v0.8h-0.8zM72.2 309.9h0.8v0.8h-0.8zM70.1 308.3h0.8v0.8h-0.8zM66.0 307.7h0.8v0.8h-0.8zM70.0 300.7h0.8v0.8h-0.8zM73.5 307.4h0.8v0.8h-0.8zM67.5 302.2h0.8v0.8h-0.8zM69.9 299.0h0.8v0.8h-0.8zM69.8 287.2h0.8v0.8h-0.8zM66.9 317.3h0.8v0.8h-0.8zM70.9 298.8h0.8v0.8h-0.8zM69.8 316.3h0.8v0.8h-0.8zM71.5 317.8h0.8v0.8h-0.8zM70.3 299.8h0.8v0.8h-0.8zM67.0 309.6h0.8v0.8h-0.8zM70.5 304.5h0.8v0.8h-0.8zM71.6 315.0h0.8v0.8h-0.8zM69.6 321.1h0.8v0.8h-0.8zM70.7 282.8h0.8v0.8h-0.8zM71.4 317.2h0.8v0.8h-0.8zM65.5 293.3h0.8v0.8h-0.8zM71.5 292.3h0.8v0.8h-0.8zM65.6 311.5h0.8v0.8h-0.8zM67.4 293.5h0.8v0.8h-0.8zM69.8 303.5h0.8v0.8h-0.8zM68.0 289.2h0.8v0.8h-0.8zM68.9 283.8h0.8v0.8h-0.8zM72.6 303.0h0.8v0.8h-0.8zM67.8 290.2h0.8v0.8h-0.8zM72.8 318.6h0.8v0.8h-0.8zM73.1 284.8h0.8v0.8h-0.8zM73.0 288.5h0.8v0.8h-0.8zM67.5 319.4h0.8v0.8h-0.8zM66.8 294.0h0.8v0.8h-0.8zM70.2 308.2h0.8v0.8h-0.8zM73.9 285.2h0.8v0.8h-0.8zM69.6 311.0h0.8v0.8h-0.8zM68.8 304.2h0.8v0.8h-0.8zM69.8 315.5h0.8v0.8h-0.8zM71.8 311.2h0.8v0.8h-0.8zM72.8 309.9h0.8v0.8h-0.8zM70.1 302.9h0.8v0.8h-0.8zM69.8 306.4h0.8v0.8h-0.8zM71.2 313.8h0.8v0.8h-0.8zM70.2 298.5h0.8v0.8h-0.8zM69.1 310.1h0.8v0.8h-0.8zM66.3 289.1h0.8v0.8h-0.8zM70.3 317.1h0.8v0.8h-0.8zM68.7 307.9h0.8v0.8h-0.8zM69.6 290.0h0.8v0.8h-0.8zM69.4 293.0h0.8v0.8h-0.8zM68.1 297.2h0.8v0.8h-0.8zM71.2 286.8h0.8v0.8h-0.8zM72.4 303.1h0.8v0.8h-0.8zM71.2 304.5h0.8v0.8h-0.8zM68.6 305.7h0.8v0.8h-0.8zM70.5 300.0h0.8v0.8h-0.8zM71.6 291.8h0.8v0.8h-0.8zM69.8 312.8h0.8v0.8h-0.8zM71.6 301.3h0.8v0.8h-0.8zM68.2 283.2h0.8v0.8h-0.8zM69.6 313.1h0.8v0.8h-0.8zM72.7 285.4h0.8v0.8h-0.8zM72.3 307.9h0.8v0.8h-0.8zM69.8 305.3h0.8v0.8h-0.8zM70.3 318.8h0.8v0.8h-0.8zM75.0 318.5h0.8v0.8h-0.8zM72.5 298.0h0.8v0.8h-0.8zM68.5 306.6h0.8v0.8h-0.8zM70.7 289.0h0.8v0.8h-0.8zM69.1 304.8h0.8v0.8h-0.8zM68.8 295.9h0.8v0.8h-0.8zM67.5 300.4h0.8v0.8h-0.8zM71.7 298.9h0.8v0.8h-0.8zM75.2 318.6h0.8v0.8h-0.8zM72.0 306.4h0.8v0.8h-0.8zM67.1 316.3h0.8v0.8h-0.8zM71.3 301.3h0.8v0.8h-0.8zM66.9 297.5h0.8v0.8h-0.8zM70.6 320.1h0.8v0.8h-0.8zM72.4 296.6h0.8v0.8h-0.8zM73.0 285.8h0.8v0.8h-0.8zM70.4 292.8h0.8v0.8h-0.8zM70.9 312.7h0.8v0.8h-0.8zM70.2 301.1h0.8v0.8h-0.8zM69.7 314.1h0.8v0.8h-0.8zM73.7 310.8h0.8v0.8h-0.8zM67.9 318.3h0.8v0.8h-0.8zM66.8 290.2h0.8v0.8h-0.8zM74.1 317.7h0.8v0.8h-0.8zM74.9 291.5h0.8v0.8h-0.8zM66.6 301.1h0.8v0.8h-0.8zM72.3 319.5h0.8v0.8h-0.8zM71.9 297.1h0.8v0.8h-0.8zM69.2 306.6h0.8v0.8h-0.8zM68.1 298.2h0.8v0.8h-0.8zM70.4 288.4h0.8v0.8h-0.8zM69.4 304.1h0.8v0.8h-0.8zM71.8 286.3h0.8v0.8h-0.8zM68.8 285.8h0.8v0.8h-0.8zM72.8 301.4h0.8v0.8h-0.8zM68.8 297.0h0.8v0.8h-0.8zM73.8 315.7h0.8v0.8h-0.8zM72.1 302.8h0.8v0.8h-0.8zM72.6 297.5h0.8v0.8h-0.8zM69.3 294.2h0.8v0.8h-0.8zM69.6 317.9h0.8v0.8h-0.8zM69.9 314.5h0.8v0.8h-0.8zM72.8 306.3h0.8v0.8h-0.8zM68.7 289.1h0.8v0.8h-0.8zM68.4 305.3h0.8v0.8h-0.8zM69.6 286.2h0.8v0.8h-0.8zM70.9 288.8h0.8v0.8h-0.8zM70.0 298.9h0.8v0.8h-0.8zM70.0 286.4h0.8v0.8h-0.8zM67.4 286.4h0.8v0.8h-0.8zM68.8 305.3h0.8v0.8h-0.8zM67.7 314.8h0.8v0.8h-0.8zM72.4 293.4h0.8v0.8h-0.8zM70.0 316.1h0.8v0.8h-0.8zM71.5 289.7h0.8v0.8h-0.8zM67.3 300.8h0.8v0.8h-0.8zM70.1 298.3h0.8v0.8h-0.8zM71.0 314.0h0.8v0.8h-0.8zM67.8 305.7h0.8v0.8h-0.8zM68.7 306.0h0.8v0.8h-0.8zM69.0 287.0h0.8v0.8h-0.8zM70.4 291.1h0.8v0.8h-0.8zM70.8 294.3h0.8v0.8h-0.8zM66.9 311.1h0.8v0.8h-0.8zM70.9 316.9h0.8v0.8h-0.8zM70.6 318.9h0.8v0.8h-0.8zM70.8 316.3h0.8v0.8h-0.8zM68.1 315.5h0.8v0.8h-0.8zM70.0 316.0h0.8v0.8h-0.8zM73.0 309.2h0.8v0.8h-0.8zM72.4 285.9h0.8v0.8h-0.8zM68.8 288.2h0.8v0.8h-0.8zM73.4 286.3h0.8v0.8h-0.8zM69.2 311.4h0.8v0.8h-0.8zM68.1 310.8h0.8v0.8h-0.8zM72.5 290.0h0.8v0.8h-0.8zM70.8 294.8h0.8v0.8h-0.8zM74.9 289.6h0.8v0.8h-0.8zM69.6 316.3h0.8v0.8h-0.8zM70.4 314.0h0.8v0.8h-0.8zM71.8 310.8h0.8v0.8h-0.8zM70.7 307.6h0.8v0.8h-0.8zM69.3 303.4h0.8v0.8h-0.8zM70.1 301.5h0.8v0.8h-0.8zM70.1 289.2h0.8v0.8h-0.8zM70.1 303.8h0.8v0.8h-0.8zM70.1 306.4h0.8v0.8h-0.8zM66.7 309.0h0.8v0.8h-0.8zM71.9 287.2h0.8v0.8h-0.8zM68.7 318.8h0.8v0.8h-0.8zM69.6 310.9h0.8v0.8h-0.8zM68.4 309.8h0.8v0.8h-0.8zM69.7 293.8h0.8v0.8h-0.8zM72.3 303.5h0.8v0.8h-0.8zM73.0 308.4h0.8v0.8h-0.8zM70.8 291.8h0.8v0.8h-0.8zM70.5 309.7h0.8v0.8h-0.8zM69.0 307.0h0.8v0.8h-0.8zM69.5 314.0h0.8v0.8h-0.8zM70.7 305.1h0.8v0.8h-0.8zM69.8 310.6h0.8v0.8h-0.8zM67.8 319.8h0.8v0.8h-0.8zM70.3 309.4h0.8v0.8h-0.8zM68.8 283.0h0.8v0.8h-0.8zM74.4 286.4h0.8v0.8h-0.8zM70.8 299.4h0.8v0.8h-0.8zM68.9 301.3h0.8v0.8h-0.8zM71.2 307.8h0.8v0.8h-0.8zM68.5 300.4h0.8v0.8h-0.8zM69.6 300.6h0.8v0.8h-0.8zM73.3 286.4h0.8v0.8h-0.8zM73.1 315.8h0.8v0.8h-0.8zM67.5 303.7h0.8v0.8h-0.8zM67.5 319.4h0.8v0.8h-0.8zM68.9 318.5h0.8v0.8h-0.8zM75.3 320.2h0.8v0.8h-0.8zM70.3 309.3h0.8v0.8h-0.8zM70.6 286.1h0.8v0.8h-0.8zM69.0 300.0h0.8v0.8h-0.8zM73.1 303.8h0.8v0.8h-0.8zM72.2 293.5h0.8v0.8h-0.8zM66.9 285.2h0.8v0.8h-0.8zM68.2 312.6h0.8v0.8h-0.8zM66.0 314.1h0.8v0.8h-0.8zM67.7 291.1h0.8v0.8h-0.8zM68.9 283.6h0.8v0.8h-0.8zM67.1 312.1h0.8v0.8h-0.8zM68.7 310.3h0.8v0.8h-0.8zM71.6 289.4h0.8v0.8h-0.8zM72.5 291.1h0.8v0.8h-0.8zM70.4 293.1h0.8v0.8h-0.8zM71.8 309.3h0.8v0.8h-0.8zM67.0 316.9h0.8v0.8h-0.8zM73.5 315.7h0.8v0.8h-0.8zM75.0 291.2h0.8v0.8h-0.8zM69.8 296.9h0.8v0.8h-0.8zM71.4 304.8h0.8v0.8h-0.8zM70.9 308.4h0.8v0.8h-0.8zM65.5 293.3h0.8v0.8h-0.8zM72.4 297.8h0.8v0.8h-0.8zM71.2 307.5h0.8v0.8h-0.8zM66.5 308.9h0.8v0.8h-0.8zM69.2 313.0h0.8v0.8h-0.8zM72.7 305.3h0.8v0.8h-0.8zM71.0 284.6h0.8v0.8h-0.8zM67.2 293.0h0.8v0.8h-0.8zM68.9 305.5h0.8v0.8h-0.8zM68.7 296.0h0.8v0.8h-0.8zM70.4 321.0h0.8v0.8h-0.8zM68.6 294.0h0.8v0.8h-0.8zM70.2 317.1h0.8v0.8h-0.8zM69.8 292.1h0.8v0.8h-0.8zM66.8 313.8h0.8v0.8h-0.8zM71.1 311.2h0.8v0.8h-0.8zM70.7 321.3h0.8v0.8h-0.8zM68.6 310.0h0.8v0.8h-0.8zM71.8 319.1h0.8v0.8h-0.8zM75.4 317.6h0.8v0.8h-0.8zM66.7 298.3h0.8v0.8h-0.8zM70.6 305.5h0.8v0.8h-0.8zM71.8 287.9h0.8v0.8h-0.8zM70.2 292.3h0.8v0.8h-0.8zM68.8 317.7h0.8v0.8h-0.8zM74.8 292.1h0.8v0.8h-0.8zM69.0 297.0h0.8v0.8h-0.8zM69.8 291.6h0.8v0.8h-0.8zM68.6 315.4h0.8v0.8h-0.8zM72.7 290.1h0.8v0.8h-0.8zM65.3 307.5h0.8v0.8h-0.8zM68.2 290.5h0.8v0.8h-0.8zM69.1 316.4h0.8v0.8h-0.8zM70.8 289.8h0.8v0.8h-0.8zM70.9 307.8h0.8v0.8h-0.8zM72.4 320.2h0.8v0.8h-0.8zM69.9 310.4h0.8v0.8h-0.8zM68.5 306.2h0.8v0.8h-0.8zM70.0 312.7h0.8v0.8h-0.8zM68.2 300.6h0.8v0.8h-0.8zM69.0 288.2h0.8v0.8h-0.8zM69.0 312.0h0.8v0.8h-0.8zM70.8 317.5h0.8v0.8h-0.8zM71.9 293.9h0.8v0.8h-0.8zM67.7 302.3h0.8v0.8h-0.8zM68.8 316.0h0.8v0.8h-0.8zM70.1 294.6h0.8v0.8h-0.8zM70.2 296.8h0.8v0.8h-0.8zM69.6 297.3h0.8v0.8h-0.8zM71.3 289.8h0.8v0.8h-0.8zM69.6 318.4h0.8v0.8h-0.8zM66.2 309.2h0.8v0.8h-0.8zM73.1 310.1h0.8v0.8h-0.8zM67.3 313.6h0.8v0.8h-0.8zM73.8 317.1h0.8v0.8h-0.8zM70.7 304.4h0.8v0.8h-0.8zM70.8 320.5h0.8v0.8h-0.8zM68.2 283.1h0.8v0.8h-0.8zM70.7 293.5h0.8v0.8h-0.8zM69.7 291.1h0.8v0.8h-0.8zM68.3 307.2h0.8v0.8h-0.8zM71.4 313.1h0.8v0.8h-0.8zM71.8 316.1h0.8v0.8h-0.8zM72.8 321.0h0.8v0.8h-0.8zM67.3 319.2h0.8v0.8h-0.8zM68.4 302.5h0.8v0.8h-0.8zM73.2 303.6h0.8v0.8h-0.8zM71.3 304.6h0.8v0.8h-0.8zM70.9 282.6h0.8v0.8h-0.8zM69.0 302.4h0.8v0.8h-0.8zM70.9 311.6h0.8v0.8h-0.8zM71.8 286.2h0.8v0.8h-0.8zM67.5 295.3h0.8v0.8h-0.8zM68.7 289.6h0.8v0.8h-0.8zM70.6 287.8h0.8v0.8h-0.8zM73.1 297.0h0.8v0.8h-0.8zM69.2 301.5h0.8v0.8h-0.8zM71.5 288.6h0.8v0.8h-0.8zM68.3 309.4h0.8v0.8h-0.8zM67.5 309.7h0.8v0.8h-0.8zM71.6 321.4h0.8v0.8h-0.8zM67.9 311.7h0.8v0.8h-0.8zM70.1 284.3h0.8v0.8h-0.8zM69.0 289.2h0.8v0.8h-0.8zM71.3 318.9h0.8v0.8h-0.8zM67.5 290.1h0.8v0.8h-0.8zM67.2 292.3h0.8v0.8h-0.8zM67.1 302.2h0.8v0.8h-0.8zM69.7 314.9h0.8v0.8h-0.8zM73.0 302.5h0.8v0.8h-0.8zM71.4 284.4h0.8v0.8h-0.8zM70.6 298.4h0.8v0.8h-0.8zM69.8 320.2h0.8v0.8h-0.8zM72.7 293.0h0.8v0.8h-0.8zM69.9 310.8h0.8v0.8h-0.8zM72.4 295.9h0.8v0.8h-0.8zM72.8 285.9h0.8v0.8h-0.8zM71.6 297.9h0.8v0.8h-0.8zM71.0 303.0h0.8v0.8h-0.8zM71.0 317.0h0.8v0.8h-0.8zM70.0 291.2h0.8v0.8h-0.8zM70.8 317.5h0.8v0.8h-0.8zM68.3 289.3h0.8v0.8h-0.8zM68.4 296.7h0.8v0.8h-0.8zM73.5 301.0h0.8v0.8h-0.8zM69.8 320.2h0.8v0.8h-0.8zM66.5 298.8h0.8v0.8h-0.8zM73.1 297.2h0.8v0.8h-0.8zM72.5 285.2h0.8v0.8h-0.8zM71.1 293.4h0.8v0.8h-0.8zM67.4 308.9h0.8v0.8h-0.8zM74.5 312.1h0.8v0.8h-0.8zM72.5 300.9h0.8v0.8h-0.8zM72.9 319.4h0.8v0.8h-0.8zM69.6 285.1h0.8v0.8h-0.8zM71.1 309.0h0.8v0.8h-0.8zM69.6 299.0h0.8v0.8h-0.8zM69.6 304.1h0.8v0.8h-0.8zM67.6 296.9h0.8v0.8h-0.8zM68.5 289.3h0.8v0.8h-0.8zM69.1 289.9h0.8v0.8h-0.8zM70.2 287.7h0.8v0.8h-0.8zM72.3 306.2h0.8v0.8h-0.8zM71.4 321.0h0.8v0.8h-0.8zM66.4 289.2h0.8v0.8h-0.8zM72.4 317.5h0.8v0.8h-0.8zM66.8 310.0h0.8v0.8h-0.8zM71.2 295.3h0.8v0.8h-0.8zM69.7 289.9h0.8v0.8h-0.8zM70.2 291.4h0.8v0.8h-0.8zM69.0 320.6h0.8v0.8h-0.8zM67.8 306.8h0.8v0.8h-0.8zM73.8 321.2h0.8v0.8h-0.8zM64.9 294.3h0.8v0.8h-0.8zM68.3 289.2h0.8v0.8h-0.8zM73.0 305.5h0.8v0.8h-0.8zM70.0 287.3h0.8v0.8h-0.8zM70.1 302.5h0.8v0.8h-0.8zM68.2 304.3h0.8v0.8h-0.8zM67.5 319.9h0.8v0.8h-0.8zM71.4 311.4h0.8v0.8h-0.8zM69.8 283.3h0.8v0.8h-0.8zM70.7 285.3h0.8v0.8h-0.8zM70.9 283.2h0.8v0.8h-0.8zM66.3 305.5h0.8v0.8h-0.8zM67.8 306.5h0.8v0.8h-0.8zM68.6 306.0h0.8v0.8h-0.8zM70.6 317.6h0.8v0.8h-0.8zM71.6 292.3h0.8v0.8h-0.8zM67.8 304.8h0.8v0.8h-0.8zM69.6 317.1h0.8v0.8h-0.8zM69.8 311.3h0.8v0.8h-0.8zM69.9 298.6h0.8v0.8h-0.8zM73.2 286.4h0.8v0.8h-0.8zM68.5 287.2h0.8v0.8h-0.8zM70.4 320.3h0.8v0.8h-0.8zM65.3 289.3h0.8v0.8h-0.8zM69.8 285.3h0.8v0.8h-0.8zM70.3 314.5h0.8v0.8h-0.8zM71.6 305.9h0.8v0.8h-0.8zM69.0 301.7h0.8v0.8h-0.8zM68.8 309.6h0.8v0.8h-0.8zM67.5 293.5h0.8v0.8h-0.8zM69.0 298.8h0.8v0.8h-0.8zM75.2 295.0h0.8v0.8h-0.8zM66.5 290.2h0.8v0.8h-0.8zM66.3 310.7h0.8v0.8h-0.8zM70.3 299.0h0.8v0.8h-0.8zM68.0 299.4h0.8v0.8h-0.8zM72.8 306.6h0.8v0.8h-0.8zM66.7 309.4h0.8v0.8h-0.8zM73.8 314.1h0.8v0.8h-0.8zM69.1 310.9h0.8v0.8h-0.8zM66.5 295.5h0.8v0.8h-0.8zM65.5 287.0h0.8v0.8h-0.8zM68.1 307.7h0.8v0.8h-0.8zM68.7 291.9h0.8v0.8h-0.8zM70.9 299.8h0.8v0.8h-0.8zM67.1 317.4h0.8v0.8h-0.8zM76.3 286.1h0.8v0.8h-0.8zM71.9 298.5h0.8v0.8h-0.8zM69.7 292.4h0.8v0.8h-0.8zM68.9 303.4h0.8v0.8h-0.8zM76.1 304.6h0.8v0.8h-0.8zM68.5 294.1h0.8v0.8h-0.8zM71.8 319.6h0.8v0.8h-0.8zM73.4 306.2h0.8v0.8h-0.8zM68.1 289.1h0.8v0.8h-0.8zM71.4 314.5h0.8v0.8h-0.8zM69.0 310.0h0.8v0.8h-0.8zM73.2 299.2h0.8v0.8h-0.8zM73.4 313.7h0.8v0.8h-0.8zM71.4 313.4h0.8v0.8h-0.8zM70.5 297.4h0.8v0.8h-0.8zM67.3 318.6h0.8v0.8h-0.8zM75.6 309.3h0.8v0.8h-0.8zM73.2 286.1h0.8v0.8h-0.8zM71.7 291.3h0.8v0.8h-0.8zM72.4 284.2h0.8v0.8h-0.8zM70.2 309.0h0.8v0.8h-0.8zM67.8 288.5h0.8v0.8h-0.8zM72.2 302.2h0.8v0.8h-0.8zM68.0 303.4h0.8v0.8h-0.8zM69.0 286.1h0.8v0.8h-0.8zM71.8 321.3h0.8v0.8h-0.8zM66.5 319.6h0.8v0.8h-0.8zM70.2 321.3h0.8v0.8h-0.8zM69.5 297.9h0.8v0.8h-0.8zM67.6 295.3h0.8v0.8h-0.8zM67.6 289.5h0.8v0.8h-0.8zM69.6 321.4h0.8v0.8h-0.8zM69.5 314.0h0.8v0.8h-0.8zM70.5 289.2h0.8v0.8h-0.8zM68.2 283.0h0.8v0.8h-0.8zM70.3 315.7h0.8v0.8h-0.8zM67.4 294.7h0.8v0.8h-0.8zM68.4 298.5h0.8v0.8h-0.8zM72.3 314.1h0.8v0.8h-0.8zM68.6 314.9h0.8v0.8h-0.8zM69.1 304.9h0.8v0.8h-0.8zM68.3 316.9h0.8v0.8h-0.8zM70.1 302.3h0.8v0.8h-0.8zM72.0 300.8h0.8v0.8h-0.8zM69.4 308.2h0.8v0.8h-0.8zM71.6 304.6h0.8v0.8h-0.8zM67.3 294.6h0.8v0.8h-0.8zM71.2 312.8h0.8v0.8h-0.8zM69.9 310.4h0.8v0.8h-0.8zM70.3 290.3h0.8v0.8h-0.8zM68.1 306.2h0.8v0.8h-0.8zM68.8 304.3h0.8v0.8h-0.8zM70.8 305.7h0.8v0.8h-0.8zM67.5 305.9h0.8v0.8h-0.8zM71.9 310.8h0.8v0.8h-0.8zM69.2 301.6h0.8v0.8h-0.8zM71.2 304.4h0.8v0.8h-0.8z" fill="#000"/>
<line x1="38.60" y1="318.00" x2="38.60" y2="192.00" stroke="#666" stroke-width="1.0"/>
<path d="M35.6,193.2 L41.6,193.2 L38.6,187.0 Z" fill="#000"/>
<line x1="50.00" y1="325.70" x2="104.00" y2="325.70" stroke="#666" stroke-width="1.0"/>
<path d="M103.0,322.8 L103.0,328.6 L109.3,325.7 Z" fill="#000"/>
<text transform="translate(34.00,251.70) rotate(-90)" font-size="7.8" text-anchor="middle">CD90.1</text>
<text x="79.20" y="335.40" font-size="8.0" text-anchor="middle">CD8</text>
<text transform="translate(118.00,210.00) rotate(90)" font-size="8.1" text-anchor="middle">T-vec</text>
<text transform="translate(118.30,290.00) rotate(90)" font-size="8.1" text-anchor="middle">T-mda-7</text>
<text x="155.90" y="181.30" font-size="13" font-weight="bold" fill="#000">D</text>
<line x1="189.50" y1="185.00" x2="189.50" y2="317.40" stroke="#707070" stroke-width="1.0"/>
<line x1="189.00" y1="317.00" x2="264.60" y2="317.00" stroke="#707070" stroke-width="1.0"/>
<line x1="187.50" y1="316.90" x2="189.50" y2="316.90" stroke="#707070" stroke-width="0.9"/>
<text x="182.70" y="320.10" font-size="8.9" text-anchor="end">0</text>
<line x1="187.50" y1="290.70" x2="189.50" y2="290.70" stroke="#707070" stroke-width="0.9"/>
<text x="182.70" y="293.90" font-size="8.9" text-anchor="end">5</text>
<line x1="187.50" y1="264.50" x2="189.50" y2="264.50" stroke="#707070" stroke-width="0.9"/>
<text x="182.70" y="267.70" font-size="8.9" text-anchor="end">10</text>
<line x1="187.50" y1="238.30" x2="189.50" y2="238.30" stroke="#707070" stroke-width="0.9"/>
<text x="182.70" y="241.50" font-size="8.9" text-anchor="end">15</text>
<line x1="187.50" y1="212.10" x2="189.50" y2="212.10" stroke="#707070" stroke-width="0.9"/>
<text x="182.70" y="215.30" font-size="8.9" text-anchor="end">20</text>
<line x1="187.50" y1="185.90" x2="189.50" y2="185.90" stroke="#707070" stroke-width="0.9"/>
<text x="182.70" y="189.10" font-size="8.9" text-anchor="end">25</text>
<text transform="translate(153.80,253.65) rotate(-90)" font-size="10.03" text-anchor="middle">CD90.1<tspan dy="-3.7" font-size="6.5">+</tspan><tspan dy="3.7">CD8</tspan><tspan dy="-3.7" font-size="6.5">+</tspan><tspan dy="3.7">IFN</tspan>&#947;<tspan dy="-3.7" font-size="6.5">+</tspan></text>
<text transform="translate(165.20,253.95) rotate(-90)" font-size="9.27" text-anchor="middle">cells/mg tumor (&#215;10<tspan dy="-3.6" font-size="6.0">4</tspan><tspan dy="3.6">)</tspan></text>
<line x1="214.45" y1="285.00" x2="214.45" y2="270.50" stroke="#666" stroke-width="0.8"/>
<line x1="213.15" y1="270.50" x2="215.75" y2="270.50" stroke="#666" stroke-width="0.8"/>
<rect x="208.30" y="285.00" width="12.30" height="32.00" fill="#000"/>
<line x1="214.45" y1="317.00" x2="214.45" y2="318.60" stroke="#707070" stroke-width="0.9"/>
<line x1="239.70" y1="243.50" x2="239.70" y2="212.30" stroke="#666" stroke-width="0.8"/>
<line x1="238.40" y1="212.30" x2="241.00" y2="212.30" stroke="#666" stroke-width="0.8"/>
<rect x="233.40" y="243.50" width="12.60" height="73.50" fill="#000"/>
<line x1="239.70" y1="317.00" x2="239.70" y2="318.60" stroke="#707070" stroke-width="0.9"/>
<line x1="213.70" y1="204.10" x2="236.60" y2="204.10" stroke="#333" stroke-width="1.0"/>
<text x="225.60" y="203.51" font-size="6.6" text-anchor="middle" fill="#000" font-weight="bold">*</text>
<text transform="translate(218.60,325.40) rotate(-29)" font-size="8.4" text-anchor="end">T-vec</text>
<text transform="translate(243.80,325.90) rotate(-31)" font-size="8.4" text-anchor="end">T-mda-7</text>
<text x="281.00" y="181.80" font-size="13" font-weight="bold" fill="#000">E</text>
<line x1="306.50" y1="190.00" x2="306.50" y2="318.70" stroke="#707070" stroke-width="1.0"/>
<line x1="306.00" y1="318.50" x2="383.70" y2="318.50" stroke="#707070" stroke-width="1.0"/>
<line x1="304.50" y1="318.30" x2="306.50" y2="318.30" stroke="#707070" stroke-width="0.9"/>
<text x="301.30" y="321.25" font-size="7.2" text-anchor="end">0</text>
<line x1="304.50" y1="292.70" x2="306.50" y2="292.70" stroke="#707070" stroke-width="0.9"/>
<text x="301.30" y="295.65" font-size="7.2" text-anchor="end">2</text>
<line x1="304.50" y1="267.10" x2="306.50" y2="267.10" stroke="#707070" stroke-width="0.9"/>
<text x="301.30" y="270.05" font-size="7.2" text-anchor="end">4</text>
<line x1="304.50" y1="241.50" x2="306.50" y2="241.50" stroke="#707070" stroke-width="0.9"/>
<text x="301.30" y="244.45" font-size="7.2" text-anchor="end">6</text>
<line x1="304.50" y1="215.90" x2="306.50" y2="215.90" stroke="#707070" stroke-width="0.9"/>
<text x="301.30" y="218.85" font-size="7.2" text-anchor="end">8</text>
<line x1="304.50" y1="190.30" x2="306.50" y2="190.30" stroke="#707070" stroke-width="0.9"/>
<text x="301.30" y="193.25" font-size="7.2" text-anchor="end">10</text>
<text transform="translate(286.40,255.50) rotate(-90)" font-size="10.1" text-anchor="middle">CD4<tspan dy="-3.8" font-size="6.5">+</tspan><tspan dy="3.8">Teff/Treg</tspan></text>
<line x1="326.10" y1="258.10" x2="326.10" y2="254.10" stroke="#666" stroke-width="0.8"/>
<line x1="324.80" y1="254.10" x2="327.40" y2="254.10" stroke="#666" stroke-width="0.8"/>
<rect x="320.20" y="258.10" width="11.80" height="60.40" fill="#000"/>
<line x1="326.10" y1="318.50" x2="326.10" y2="320.10" stroke="#707070" stroke-width="0.9"/>
<line x1="344.90" y1="271.40" x2="344.90" y2="251.40" stroke="#666" stroke-width="0.8"/>
<line x1="343.60" y1="251.40" x2="346.20" y2="251.40" stroke="#666" stroke-width="0.8"/>
<rect x="338.90" y="271.40" width="12.00" height="47.10" fill="#000"/>
<line x1="344.90" y1="318.50" x2="344.90" y2="320.10" stroke="#707070" stroke-width="0.9"/>
<line x1="364.10" y1="202.50" x2="364.10" y2="199.30" stroke="#666" stroke-width="0.8"/>
<line x1="362.80" y1="199.30" x2="365.40" y2="199.30" stroke="#666" stroke-width="0.8"/>
<rect x="358.10" y="202.50" width="12.00" height="116.00" fill="#000"/>
<line x1="364.10" y1="318.50" x2="364.10" y2="320.10" stroke="#707070" stroke-width="0.9"/>
<line x1="343.70" y1="196.40" x2="366.20" y2="196.40" stroke="#333" stroke-width="1.0"/>
<text x="355.63" y="196.11" font-size="6.0" text-anchor="middle" fill="#000" font-weight="bold" letter-spacing="1.77">**</text>
<text transform="translate(329.30,327.00) rotate(-29)" font-size="8.3" text-anchor="end">Control</text>
<text transform="translate(351.40,325.80) rotate(-29)" font-size="8.3" text-anchor="end">T-vec</text>
<text transform="translate(373.20,328.20) rotate(-29)" font-size="8.3" text-anchor="end">T-mda-7</text>
<line x1="420.50" y1="191.00" x2="420.50" y2="319.00" stroke="#707070" stroke-width="1.0"/>
<line x1="420.00" y1="318.70" x2="497.80" y2="318.70" stroke="#707070" stroke-width="1.0"/>
<line x1="418.50" y1="318.70" x2="420.50" y2="318.70" stroke="#707070" stroke-width="0.9"/>
<text x="415.70" y="321.44" font-size="7.2" text-anchor="end">0</text>
<line x1="418.50" y1="293.06" x2="420.50" y2="293.06" stroke="#707070" stroke-width="0.9"/>
<text x="415.70" y="295.80" font-size="7.2" text-anchor="end">10</text>
<line x1="418.50" y1="267.42" x2="420.50" y2="267.42" stroke="#707070" stroke-width="0.9"/>
<text x="415.70" y="270.16" font-size="7.2" text-anchor="end">20</text>
<line x1="418.50" y1="241.78" x2="420.50" y2="241.78" stroke="#707070" stroke-width="0.9"/>
<text x="415.70" y="244.52" font-size="7.2" text-anchor="end">30</text>
<line x1="418.50" y1="216.14" x2="420.50" y2="216.14" stroke="#707070" stroke-width="0.9"/>
<text x="415.70" y="218.88" font-size="7.2" text-anchor="end">40</text>
<line x1="418.50" y1="190.50" x2="420.50" y2="190.50" stroke="#707070" stroke-width="0.9"/>
<text x="415.70" y="193.24" font-size="7.2" text-anchor="end">50</text>
<text transform="translate(401.00,256.00) rotate(-90)" font-size="10.1" text-anchor="middle">CD8<tspan dy="-3.8" font-size="7">+</tspan><tspan dy="3.8">/Treg</tspan></text>
<line x1="440.15" y1="312.70" x2="440.15" y2="309.50" stroke="#666" stroke-width="0.8"/>
<line x1="438.85" y1="309.50" x2="441.45" y2="309.50" stroke="#666" stroke-width="0.8"/>
<rect x="434.40" y="312.70" width="11.50" height="6.00" fill="#000"/>
<line x1="440.15" y1="318.70" x2="440.15" y2="320.30" stroke="#707070" stroke-width="0.9"/>
<line x1="459.05" y1="263.70" x2="459.05" y2="257.40" stroke="#666" stroke-width="0.8"/>
<line x1="457.75" y1="257.40" x2="460.35" y2="257.40" stroke="#666" stroke-width="0.8"/>
<rect x="453.00" y="263.70" width="12.10" height="55.00" fill="#000"/>
<line x1="459.05" y1="318.70" x2="459.05" y2="320.30" stroke="#707070" stroke-width="0.9"/>
<line x1="479.10" y1="233.00" x2="479.10" y2="211.00" stroke="#666" stroke-width="0.8"/>
<line x1="477.80" y1="211.00" x2="480.40" y2="211.00" stroke="#666" stroke-width="0.8"/>
<rect x="473.10" y="233.00" width="12.00" height="85.70" fill="#000"/>
<line x1="479.10" y1="318.70" x2="479.10" y2="320.30" stroke="#707070" stroke-width="0.9"/>
<line x1="456.70" y1="207.40" x2="479.60" y2="207.40" stroke="#333" stroke-width="1.0"/>
<text x="468.50" y="206.91" font-size="6.4" text-anchor="middle" fill="#000" font-weight="bold">*</text>
<text transform="translate(442.30,327.00) rotate(-29)" font-size="8.3" text-anchor="end">Control</text>
<text transform="translate(464.10,325.40) rotate(-29)" font-size="8.3" text-anchor="end">T-vec</text>
<text transform="translate(486.30,326.40) rotate(-29)" font-size="8.3" text-anchor="end">T-mda-7</text>
<text x="56.60" y="362.60" font-size="12.5" font-weight="bold" fill="#000">F</text>
<line x1="107.50" y1="365.80" x2="107.50" y2="494.60" stroke="#707070" stroke-width="1.0"/>
<line x1="107.00" y1="494.40" x2="217.40" y2="494.40" stroke="#888" stroke-width="1.3"/>
<line x1="105.90" y1="494.00" x2="107.50" y2="494.00" stroke="#707070" stroke-width="0.9"/>
<text x="103.90" y="496.41" font-size="7.3" text-anchor="end">0</text>
<line x1="105.90" y1="472.80" x2="107.50" y2="472.80" stroke="#707070" stroke-width="0.9"/>
<text x="103.90" y="475.21" font-size="7.3" text-anchor="end">500</text>
<line x1="105.90" y1="451.60" x2="107.50" y2="451.60" stroke="#707070" stroke-width="0.9"/>
<text x="103.90" y="454.01" font-size="7.3" text-anchor="end">1,000</text>
<line x1="105.90" y1="430.40" x2="107.50" y2="430.40" stroke="#707070" stroke-width="0.9"/>
<text x="103.90" y="432.81" font-size="7.3" text-anchor="end">1,500</text>
<line x1="105.90" y1="409.20" x2="107.50" y2="409.20" stroke="#707070" stroke-width="0.9"/>
<text x="103.90" y="411.61" font-size="7.3" text-anchor="end">2,000</text>
<line x1="105.90" y1="388.00" x2="107.50" y2="388.00" stroke="#707070" stroke-width="0.9"/>
<text x="103.90" y="390.41" font-size="7.3" text-anchor="end">2,500</text>
<line x1="105.90" y1="366.80" x2="107.50" y2="366.80" stroke="#707070" stroke-width="0.9"/>
<text x="103.90" y="369.21" font-size="7.3" text-anchor="end">3,000</text>
<line x1="107.30" y1="494.40" x2="107.30" y2="496.00" stroke="#707070" stroke-width="0.9"/>
<text x="107.30" y="506.90" font-size="7.6" text-anchor="middle">0</text>
<line x1="125.44" y1="494.40" x2="125.44" y2="496.00" stroke="#707070" stroke-width="0.9"/>
<text x="125.44" y="506.90" font-size="7.6" text-anchor="middle">5</text>
<line x1="143.57" y1="494.40" x2="143.57" y2="496.00" stroke="#707070" stroke-width="0.9"/>
<text x="143.57" y="506.90" font-size="7.6" text-anchor="middle">10</text>
<line x1="161.70" y1="494.40" x2="161.70" y2="496.00" stroke="#707070" stroke-width="0.9"/>
<text x="161.70" y="506.90" font-size="7.6" text-anchor="middle">15</text>
<line x1="179.84" y1="494.40" x2="179.84" y2="496.00" stroke="#707070" stroke-width="0.9"/>
<text x="179.84" y="506.90" font-size="7.6" text-anchor="middle">20</text>
<line x1="197.97" y1="494.40" x2="197.97" y2="496.00" stroke="#707070" stroke-width="0.9"/>
<text x="197.97" y="506.90" font-size="7.6" text-anchor="middle">25</text>
<line x1="216.11" y1="494.40" x2="216.11" y2="496.00" stroke="#707070" stroke-width="0.9"/>
<text x="216.11" y="506.90" font-size="7.6" text-anchor="middle">30</text>
<text x="161.90" y="520.50" font-size="9.1" text-anchor="middle">Days post tumor injection</text>
<text transform="translate(78.00,430.20) rotate(-90)" font-size="10.2" text-anchor="middle">Tumor volume (mm<tspan dy="-3.7" font-size="6.6">3</tspan><tspan dy="3.7">)</tspan></text>
<line x1="118.20" y1="369.30" x2="133.50" y2="369.30" stroke="#555" stroke-width="0.8"/>
<circle cx="125.80" cy="369.30" r="1.6" fill="#000"/>
<text x="137.70" y="371.90" font-size="7.2">Control</text>
<line x1="118.20" y1="378.05" x2="133.50" y2="378.05" stroke="#555" stroke-width="0.8"/>
<circle cx="125.80" cy="378.05" r="1.3" fill="#fff" stroke="#222" stroke-width="0.8"/>
<text x="137.70" y="380.65" font-size="7.2">Pmel-vec</text>
<line x1="118.20" y1="386.80" x2="133.50" y2="386.80" stroke="#555" stroke-width="0.8"/>
<path d="M123.96,385.42 L127.64,385.42 L125.80,388.64 Z" fill="#000"/>
<text x="137.70" y="389.40" font-size="7.2">Pmel-mda-7</text>
<line x1="190.72" y1="376.90" x2="190.72" y2="397.20" stroke="#555" stroke-width="0.8"/>
<line x1="189.42" y1="376.90" x2="192.02" y2="376.90" stroke="#555" stroke-width="0.8"/>
<line x1="189.42" y1="397.20" x2="192.02" y2="397.20" stroke="#555" stroke-width="0.8"/>
<line x1="168.96" y1="448.30" x2="168.96" y2="459.00" stroke="#555" stroke-width="0.8"/>
<line x1="167.66" y1="448.30" x2="170.26" y2="448.30" stroke="#555" stroke-width="0.8"/>
<line x1="167.66" y1="459.00" x2="170.26" y2="459.00" stroke="#555" stroke-width="0.8"/>
<line x1="165.33" y1="468.50" x2="165.33" y2="476.50" stroke="#555" stroke-width="0.8"/>
<line x1="164.03" y1="468.50" x2="166.63" y2="468.50" stroke="#555" stroke-width="0.8"/>
<line x1="164.03" y1="476.50" x2="166.63" y2="476.50" stroke="#555" stroke-width="0.8"/>
<line x1="158.08" y1="481.50" x2="158.08" y2="488.50" stroke="#555" stroke-width="0.8"/>
<line x1="156.78" y1="481.50" x2="159.38" y2="481.50" stroke="#555" stroke-width="0.8"/>
<line x1="156.78" y1="488.50" x2="159.38" y2="488.50" stroke="#555" stroke-width="0.8"/>
<line x1="205.23" y1="448.20" x2="205.23" y2="463.50" stroke="#555" stroke-width="0.8"/>
<line x1="203.93" y1="448.20" x2="206.53" y2="448.20" stroke="#555" stroke-width="0.8"/>
<line x1="203.93" y1="463.50" x2="206.53" y2="463.50" stroke="#555" stroke-width="0.8"/>
<line x1="212.48" y1="424.30" x2="212.48" y2="453.30" stroke="#555" stroke-width="0.8"/>
<line x1="211.18" y1="424.30" x2="213.78" y2="424.30" stroke="#555" stroke-width="0.8"/>
<line x1="211.18" y1="453.30" x2="213.78" y2="453.30" stroke="#555" stroke-width="0.8"/>
<line x1="205.23" y1="480.30" x2="205.23" y2="491.00" stroke="#555" stroke-width="0.8"/>
<line x1="203.93" y1="480.30" x2="206.53" y2="480.30" stroke="#555" stroke-width="0.8"/>
<line x1="203.93" y1="491.00" x2="206.53" y2="491.00" stroke="#555" stroke-width="0.8"/>
<line x1="212.48" y1="475.00" x2="212.48" y2="491.00" stroke="#555" stroke-width="0.8"/>
<line x1="211.18" y1="475.00" x2="213.78" y2="475.00" stroke="#555" stroke-width="0.8"/>
<line x1="211.18" y1="491.00" x2="213.78" y2="491.00" stroke="#555" stroke-width="0.8"/>
<polyline points="107.30,493.80 139.94,493.60 147.20,491.50 158.08,485.50 165.33,472.30 168.96,453.50 190.72,386.80" fill="none" stroke="#333" stroke-width="0.8"/>
<polyline points="107.30,493.80 139.94,493.60 147.20,493.40 158.08,493.60 165.33,493.60 168.96,493.60 190.72,486.40 205.23,456.20 212.48,438.80" fill="none" stroke="#333" stroke-width="0.8"/>
<polyline points="107.30,493.80 139.94,493.60 147.20,493.60 158.08,493.60 165.33,493.60 168.96,493.60 190.72,492.80 205.23,485.60 212.48,482.60" fill="none" stroke="#333" stroke-width="0.8"/>
<circle cx="107.30" cy="493.80" r="1.5" fill="#fff" stroke="#222" stroke-width="0.8"/>
<circle cx="139.94" cy="493.60" r="1.5" fill="#fff" stroke="#222" stroke-width="0.8"/>
<circle cx="147.20" cy="493.40" r="1.5" fill="#fff" stroke="#222" stroke-width="0.8"/>
<circle cx="158.08" cy="493.60" r="1.5" fill="#fff" stroke="#222" stroke-width="0.8"/>
<circle cx="165.33" cy="493.60" r="1.5" fill="#fff" stroke="#222" stroke-width="0.8"/>
<circle cx="168.96" cy="493.60" r="1.5" fill="#fff" stroke="#222" stroke-width="0.8"/>
<circle cx="190.72" cy="486.40" r="1.5" fill="#fff" stroke="#222" stroke-width="0.8"/>
<circle cx="205.23" cy="456.20" r="1.5" fill="#fff" stroke="#222" stroke-width="0.8"/>
<circle cx="212.48" cy="438.80" r="1.5" fill="#fff" stroke="#222" stroke-width="0.8"/>
<path d="M105.23,492.25 L109.37,492.25 L107.30,495.87 Z" fill="#000"/>
<path d="M137.87,492.05 L142.01,492.05 L139.94,495.67 Z" fill="#000"/>
<path d="M145.13,492.05 L149.27,492.05 L147.20,495.67 Z" fill="#000"/>
<path d="M156.01,492.05 L160.15,492.05 L158.08,495.67 Z" fill="#000"/>
<path d="M163.26,492.05 L167.40,492.05 L165.33,495.67 Z" fill="#000"/>
<path d="M166.89,492.05 L171.03,492.05 L168.96,495.67 Z" fill="#000"/>
<path d="M188.65,491.25 L192.79,491.25 L190.72,494.87 Z" fill="#000"/>
<path d="M203.16,484.05 L207.30,484.05 L205.23,487.67 Z" fill="#000"/>
<path d="M210.41,481.05 L214.55,481.05 L212.48,484.67 Z" fill="#000"/>
<circle cx="107.30" cy="493.80" r="1.8" fill="#000"/>
<circle cx="139.94" cy="493.60" r="1.8" fill="#000"/>
<circle cx="147.20" cy="491.50" r="1.8" fill="#000"/>
<circle cx="158.08" cy="485.50" r="1.8" fill="#000"/>
<circle cx="165.33" cy="472.30" r="1.8" fill="#000"/>
<circle cx="168.96" cy="453.50" r="1.8" fill="#000"/>
<circle cx="190.72" cy="386.80" r="1.8" fill="#000"/>
<line x1="220.00" y1="439.40" x2="220.00" y2="482.70" stroke="#888" stroke-width="1.2"/>
<text transform="translate(221.19,461.63) rotate(90)" font-size="6.0" text-anchor="middle" fill="#000" font-weight="bold" letter-spacing="1.57">**</text>
<text x="232.40" y="364.00" font-size="12.5" font-weight="bold" fill="#000">G</text>
<path d="M255.5,432.8 L255.5,361.8 L324.8,361.8" fill="none" stroke="#8a8a8a" stroke-width="1"/>
<path d="M324.8,361.8 L324.8,432.8 L255.5,432.8" fill="none" stroke="#444" stroke-width="1.1"/>
<path d="M255.6,506.4 L255.6,437.2 L325.4,437.2" fill="none" stroke="#8a8a8a" stroke-width="1"/>
<path d="M325.4,437.2 L325.4,506.4 L255.6,506.4" fill="none" stroke="#444" stroke-width="1.1"/>
<rect x="274.8" y="380.4" width="19.6" height="33.8" fill="none" stroke="#888" stroke-width="0.8"/>
<rect x="275.6" y="455.4" width="19.8" height="33.0" fill="none" stroke="#888" stroke-width="0.8"/>
<text x="286.70" y="378.40" font-size="8.3" text-anchor="middle" fill="#222">33.9%</text>
<text x="284.60" y="454.20" font-size="8.3" text-anchor="middle" fill="#222">42.2%</text>
<path d="M282.3 404.4h0.8v0.8h-0.8zM278.0 415.0h0.8v0.8h-0.8zM285.0 417.3h0.8v0.8h-0.8zM285.4 398.1h0.8v0.8h-0.8zM284.9 405.1h0.8v0.8h-0.8zM279.7 425.5h0.8v0.8h-0.8zM281.1 401.4h0.8v0.8h-0.8zM281.4 404.4h0.8v0.8h-0.8zM283.7 426.2h0.8v0.8h-0.8zM279.6 417.8h0.8v0.8h-0.8zM281.7 411.9h0.8v0.8h-0.8zM278.0 415.3h0.8v0.8h-0.8zM280.3 418.7h0.8v0.8h-0.8zM282.4 409.4h0.8v0.8h-0.8zM283.8 404.7h0.8v0.8h-0.8zM281.1 421.6h0.8v0.8h-0.8zM279.9 418.8h0.8v0.8h-0.8zM280.6 415.3h0.8v0.8h-0.8zM281.2 422.3h0.8v0.8h-0.8zM283.2 416.1h0.8v0.8h-0.8zM280.3 427.8h0.8v0.8h-0.8zM288.2 407.2h0.8v0.8h-0.8zM282.8 416.3h0.8v0.8h-0.8zM282.9 414.6h0.8v0.8h-0.8zM281.1 411.5h0.8v0.8h-0.8zM285.1 417.1h0.8v0.8h-0.8zM280.9 408.2h0.8v0.8h-0.8zM276.8 422.0h0.8v0.8h-0.8zM278.4 423.6h0.8v0.8h-0.8zM285.8 404.4h0.8v0.8h-0.8zM279.1 414.3h0.8v0.8h-0.8zM286.8 409.4h0.8v0.8h-0.8zM284.8 402.2h0.8v0.8h-0.8zM277.1 424.4h0.8v0.8h-0.8zM281.9 413.4h0.8v0.8h-0.8zM288.5 405.1h0.8v0.8h-0.8zM279.2 418.9h0.8v0.8h-0.8zM280.5 407.1h0.8v0.8h-0.8zM282.1 424.6h0.8v0.8h-0.8zM287.0 407.6h0.8v0.8h-0.8zM287.2 398.5h0.8v0.8h-0.8zM283.0 407.1h0.8v0.8h-0.8zM283.5 411.3h0.8v0.8h-0.8zM283.4 414.3h0.8v0.8h-0.8zM283.7 424.7h0.8v0.8h-0.8zM288.0 419.4h0.8v0.8h-0.8zM282.7 411.1h0.8v0.8h-0.8zM287.7 396.7h0.8v0.8h-0.8zM283.3 405.6h0.8v0.8h-0.8zM281.4 429.1h0.8v0.8h-0.8zM279.8 414.1h0.8v0.8h-0.8zM279.5 419.3h0.8v0.8h-0.8zM286.0 400.4h0.8v0.8h-0.8zM284.1 398.6h0.8v0.8h-0.8zM283.4 423.1h0.8v0.8h-0.8zM280.4 417.0h0.8v0.8h-0.8zM283.4 410.3h0.8v0.8h-0.8zM282.9 410.5h0.8v0.8h-0.8zM284.1 402.5h0.8v0.8h-0.8zM284.3 406.1h0.8v0.8h-0.8zM287.3 397.6h0.8v0.8h-0.8zM289.4 422.9h0.8v0.8h-0.8zM279.0 414.2h0.8v0.8h-0.8zM285.1 404.3h0.8v0.8h-0.8zM281.0 420.4h0.8v0.8h-0.8zM281.6 406.9h0.8v0.8h-0.8zM285.7 400.9h0.8v0.8h-0.8zM279.4 417.2h0.8v0.8h-0.8zM280.7 424.4h0.8v0.8h-0.8zM287.6 397.9h0.8v0.8h-0.8zM275.7 422.0h0.8v0.8h-0.8zM284.5 406.7h0.8v0.8h-0.8zM285.7 402.7h0.8v0.8h-0.8zM284.3 396.8h0.8v0.8h-0.8zM284.7 409.9h0.8v0.8h-0.8zM282.6 420.1h0.8v0.8h-0.8zM281.4 414.9h0.8v0.8h-0.8zM284.2 423.3h0.8v0.8h-0.8zM280.4 407.6h0.8v0.8h-0.8zM284.9 410.5h0.8v0.8h-0.8zM282.8 408.9h0.8v0.8h-0.8zM278.6 427.7h0.8v0.8h-0.8zM280.3 425.9h0.8v0.8h-0.8zM282.0 411.2h0.8v0.8h-0.8zM285.0 413.5h0.8v0.8h-0.8zM279.0 410.5h0.8v0.8h-0.8zM280.9 420.6h0.8v0.8h-0.8zM284.7 399.2h0.8v0.8h-0.8zM288.1 401.2h0.8v0.8h-0.8zM279.5 412.7h0.8v0.8h-0.8zM286.3 408.5h0.8v0.8h-0.8zM276.4 423.1h0.8v0.8h-0.8zM282.5 420.5h0.8v0.8h-0.8zM281.8 416.1h0.8v0.8h-0.8zM282.9 418.6h0.8v0.8h-0.8zM279.6 419.3h0.8v0.8h-0.8zM275.9 421.4h0.8v0.8h-0.8zM277.2 425.4h0.8v0.8h-0.8zM287.3 405.2h0.8v0.8h-0.8zM282.6 417.9h0.8v0.8h-0.8zM282.2 405.0h0.8v0.8h-0.8zM285.1 413.7h0.8v0.8h-0.8zM279.2 421.6h0.8v0.8h-0.8zM279.0 424.4h0.8v0.8h-0.8zM278.0 420.9h0.8v0.8h-0.8zM287.5 398.7h0.8v0.8h-0.8zM288.4 411.6h0.8v0.8h-0.8zM281.7 405.7h0.8v0.8h-0.8zM280.8 429.3h0.8v0.8h-0.8zM286.5 405.0h0.8v0.8h-0.8zM289.0 408.5h0.8v0.8h-0.8zM276.0 411.6h0.8v0.8h-0.8zM285.4 400.8h0.8v0.8h-0.8zM282.6 423.7h0.8v0.8h-0.8zM277.4 418.1h0.8v0.8h-0.8zM285.0 405.6h0.8v0.8h-0.8zM282.9 415.0h0.8v0.8h-0.8zM286.3 401.9h0.8v0.8h-0.8zM280.2 417.5h0.8v0.8h-0.8zM284.6 408.1h0.8v0.8h-0.8zM284.4 399.0h0.8v0.8h-0.8zM285.8 403.8h0.8v0.8h-0.8zM282.6 416.3h0.8v0.8h-0.8zM280.7 418.1h0.8v0.8h-0.8zM279.1 410.7h0.8v0.8h-0.8zM286.8 418.2h0.8v0.8h-0.8zM286.0 411.5h0.8v0.8h-0.8zM286.3 404.4h0.8v0.8h-0.8zM281.2 410.5h0.8v0.8h-0.8zM281.6 412.5h0.8v0.8h-0.8zM284.8 425.0h0.8v0.8h-0.8zM286.1 403.8h0.8v0.8h-0.8zM283.0 402.3h0.8v0.8h-0.8zM282.2 416.4h0.8v0.8h-0.8zM280.9 426.9h0.8v0.8h-0.8zM280.3 424.8h0.8v0.8h-0.8zM278.9 419.5h0.8v0.8h-0.8zM287.5 401.2h0.8v0.8h-0.8zM282.8 422.1h0.8v0.8h-0.8zM281.1 419.1h0.8v0.8h-0.8zM280.5 405.0h0.8v0.8h-0.8zM280.7 414.2h0.8v0.8h-0.8zM285.3 399.9h0.8v0.8h-0.8zM283.6 421.9h0.8v0.8h-0.8zM280.5 419.9h0.8v0.8h-0.8zM284.2 422.0h0.8v0.8h-0.8zM281.8 420.9h0.8v0.8h-0.8zM281.4 409.1h0.8v0.8h-0.8zM273.6 421.6h0.8v0.8h-0.8zM280.4 408.6h0.8v0.8h-0.8zM280.8 404.7h0.8v0.8h-0.8zM282.3 412.4h0.8v0.8h-0.8zM283.3 415.0h0.8v0.8h-0.8zM287.0 409.7h0.8v0.8h-0.8zM282.0 417.4h0.8v0.8h-0.8zM278.5 417.3h0.8v0.8h-0.8zM289.7 408.3h0.8v0.8h-0.8zM282.9 417.8h0.8v0.8h-0.8zM282.1 411.6h0.8v0.8h-0.8zM280.8 420.3h0.8v0.8h-0.8zM279.6 409.8h0.8v0.8h-0.8zM283.0 421.9h0.8v0.8h-0.8zM283.7 413.0h0.8v0.8h-0.8zM286.9 416.2h0.8v0.8h-0.8zM285.0 418.9h0.8v0.8h-0.8zM284.9 415.4h0.8v0.8h-0.8zM286.8 408.9h0.8v0.8h-0.8zM280.0 427.7h0.8v0.8h-0.8zM283.8 402.9h0.8v0.8h-0.8zM282.9 410.8h0.8v0.8h-0.8zM278.5 416.1h0.8v0.8h-0.8zM285.4 398.1h0.8v0.8h-0.8zM283.4 405.4h0.8v0.8h-0.8zM283.1 421.9h0.8v0.8h-0.8zM281.3 421.5h0.8v0.8h-0.8zM276.2 418.1h0.8v0.8h-0.8zM281.0 424.6h0.8v0.8h-0.8zM285.5 420.8h0.8v0.8h-0.8zM278.2 410.0h0.8v0.8h-0.8zM279.7 418.3h0.8v0.8h-0.8zM283.1 411.1h0.8v0.8h-0.8zM277.8 420.7h0.8v0.8h-0.8zM281.2 412.3h0.8v0.8h-0.8zM284.3 405.4h0.8v0.8h-0.8zM277.5 423.9h0.8v0.8h-0.8zM282.6 419.3h0.8v0.8h-0.8zM282.7 420.5h0.8v0.8h-0.8zM278.5 416.4h0.8v0.8h-0.8zM281.5 421.5h0.8v0.8h-0.8zM285.7 413.8h0.8v0.8h-0.8zM281.7 416.5h0.8v0.8h-0.8zM286.0 400.9h0.8v0.8h-0.8zM284.2 416.3h0.8v0.8h-0.8zM280.6 422.3h0.8v0.8h-0.8zM284.6 419.6h0.8v0.8h-0.8zM282.4 422.0h0.8v0.8h-0.8zM279.5 414.9h0.8v0.8h-0.8zM282.3 424.0h0.8v0.8h-0.8zM286.5 403.5h0.8v0.8h-0.8zM283.1 423.9h0.8v0.8h-0.8zM281.1 411.9h0.8v0.8h-0.8zM285.8 402.6h0.8v0.8h-0.8zM286.2 417.7h0.8v0.8h-0.8zM283.3 414.0h0.8v0.8h-0.8zM286.1 413.3h0.8v0.8h-0.8zM284.6 423.2h0.8v0.8h-0.8zM284.3 404.7h0.8v0.8h-0.8zM284.1 417.7h0.8v0.8h-0.8zM281.9 413.0h0.8v0.8h-0.8zM285.5 415.7h0.8v0.8h-0.8zM282.2 415.0h0.8v0.8h-0.8zM283.1 404.6h0.8v0.8h-0.8zM282.4 415.3h0.8v0.8h-0.8zM280.9 423.5h0.8v0.8h-0.8zM285.1 406.0h0.8v0.8h-0.8zM286.6 395.9h0.8v0.8h-0.8zM282.9 401.2h0.8v0.8h-0.8zM280.7 414.1h0.8v0.8h-0.8zM281.4 427.5h0.8v0.8h-0.8zM286.3 399.5h0.8v0.8h-0.8zM280.7 428.6h0.8v0.8h-0.8zM290.2 415.9h0.8v0.8h-0.8zM287.1 404.0h0.8v0.8h-0.8zM282.6 413.1h0.8v0.8h-0.8zM285.7 407.3h0.8v0.8h-0.8zM285.6 419.8h0.8v0.8h-0.8zM283.5 416.0h0.8v0.8h-0.8zM278.7 409.7h0.8v0.8h-0.8zM283.9 408.8h0.8v0.8h-0.8zM281.3 423.6h0.8v0.8h-0.8zM287.6 421.1h0.8v0.8h-0.8zM277.4 413.5h0.8v0.8h-0.8zM287.3 412.8h0.8v0.8h-0.8zM281.3 420.4h0.8v0.8h-0.8zM282.6 427.3h0.8v0.8h-0.8zM284.5 402.0h0.8v0.8h-0.8zM284.7 405.6h0.8v0.8h-0.8zM286.3 411.7h0.8v0.8h-0.8zM282.8 415.2h0.8v0.8h-0.8zM287.2 401.5h0.8v0.8h-0.8zM285.3 400.3h0.8v0.8h-0.8zM282.8 407.7h0.8v0.8h-0.8zM282.3 412.3h0.8v0.8h-0.8zM280.3 420.4h0.8v0.8h-0.8zM281.9 417.5h0.8v0.8h-0.8zM287.9 398.1h0.8v0.8h-0.8zM283.5 399.6h0.8v0.8h-0.8zM277.9 413.9h0.8v0.8h-0.8zM281.1 423.8h0.8v0.8h-0.8zM285.1 425.0h0.8v0.8h-0.8zM286.1 411.8h0.8v0.8h-0.8zM284.5 424.2h0.8v0.8h-0.8zM283.9 425.5h0.8v0.8h-0.8zM280.8 412.8h0.8v0.8h-0.8zM282.1 420.6h0.8v0.8h-0.8zM275.5 411.8h0.8v0.8h-0.8zM282.9 405.4h0.8v0.8h-0.8zM284.2 416.7h0.8v0.8h-0.8zM281.8 402.4h0.8v0.8h-0.8zM276.0 418.7h0.8v0.8h-0.8zM277.9 422.1h0.8v0.8h-0.8zM281.6 425.0h0.8v0.8h-0.8zM286.2 413.8h0.8v0.8h-0.8zM290.5 403.9h0.8v0.8h-0.8zM284.6 424.6h0.8v0.8h-0.8zM277.3 423.7h0.8v0.8h-0.8zM276.2 427.1h0.8v0.8h-0.8zM282.8 417.1h0.8v0.8h-0.8zM285.2 418.9h0.8v0.8h-0.8zM278.5 412.0h0.8v0.8h-0.8zM282.9 406.5h0.8v0.8h-0.8zM282.3 409.8h0.8v0.8h-0.8zM282.0 420.0h0.8v0.8h-0.8zM282.9 410.8h0.8v0.8h-0.8zM283.6 419.3h0.8v0.8h-0.8zM285.8 415.1h0.8v0.8h-0.8zM283.1 413.8h0.8v0.8h-0.8zM282.4 427.1h0.8v0.8h-0.8zM289.2 405.8h0.8v0.8h-0.8zM279.8 414.7h0.8v0.8h-0.8zM281.9 405.6h0.8v0.8h-0.8zM282.2 425.8h0.8v0.8h-0.8zM288.2 414.8h0.8v0.8h-0.8zM283.9 410.9h0.8v0.8h-0.8zM287.0 405.9h0.8v0.8h-0.8zM281.5 417.2h0.8v0.8h-0.8zM285.7 412.6h0.8v0.8h-0.8zM283.3 404.3h0.8v0.8h-0.8zM286.9 398.4h0.8v0.8h-0.8zM284.3 412.4h0.8v0.8h-0.8zM283.7 416.9h0.8v0.8h-0.8zM286.8 415.5h0.8v0.8h-0.8zM283.9 424.6h0.8v0.8h-0.8zM279.8 424.9h0.8v0.8h-0.8zM283.1 425.8h0.8v0.8h-0.8zM277.0 421.9h0.8v0.8h-0.8zM285.8 414.5h0.8v0.8h-0.8zM290.9 415.6h0.8v0.8h-0.8zM284.7 412.6h0.8v0.8h-0.8zM284.6 412.6h0.8v0.8h-0.8zM285.9 399.3h0.8v0.8h-0.8zM284.0 421.9h0.8v0.8h-0.8zM282.8 408.5h0.8v0.8h-0.8zM287.0 398.1h0.8v0.8h-0.8zM282.2 414.2h0.8v0.8h-0.8zM280.9 419.9h0.8v0.8h-0.8zM283.5 413.5h0.8v0.8h-0.8zM283.2 411.8h0.8v0.8h-0.8zM277.2 418.6h0.8v0.8h-0.8zM289.6 405.7h0.8v0.8h-0.8zM286.3 395.9h0.8v0.8h-0.8zM277.6 417.1h0.8v0.8h-0.8zM286.0 415.7h0.8v0.8h-0.8zM281.4 423.6h0.8v0.8h-0.8zM283.8 413.0h0.8v0.8h-0.8zM283.8 421.5h0.8v0.8h-0.8zM284.7 396.8h0.8v0.8h-0.8zM281.3 397.9h0.8v0.8h-0.8zM282.3 417.3h0.8v0.8h-0.8zM284.8 407.9h0.8v0.8h-0.8zM287.4 401.2h0.8v0.8h-0.8zM283.1 404.3h0.8v0.8h-0.8zM282.6 412.0h0.8v0.8h-0.8zM284.7 411.1h0.8v0.8h-0.8zM281.8 416.5h0.8v0.8h-0.8zM280.8 424.2h0.8v0.8h-0.8zM284.1 411.8h0.8v0.8h-0.8zM281.9 406.5h0.8v0.8h-0.8zM287.4 416.8h0.8v0.8h-0.8zM285.2 394.1h0.8v0.8h-0.8zM283.4 412.3h0.8v0.8h-0.8zM282.7 410.5h0.8v0.8h-0.8zM281.3 412.3h0.8v0.8h-0.8zM286.7 400.1h0.8v0.8h-0.8zM285.8 416.3h0.8v0.8h-0.8zM286.9 417.8h0.8v0.8h-0.8zM283.7 420.7h0.8v0.8h-0.8zM280.1 426.6h0.8v0.8h-0.8zM285.9 411.5h0.8v0.8h-0.8zM278.1 418.5h0.8v0.8h-0.8zM283.3 413.7h0.8v0.8h-0.8zM285.5 407.5h0.8v0.8h-0.8zM282.8 424.2h0.8v0.8h-0.8zM278.8 420.6h0.8v0.8h-0.8zM277.8 426.0h0.8v0.8h-0.8zM286.2 422.4h0.8v0.8h-0.8zM280.0 425.1h0.8v0.8h-0.8zM281.0 404.3h0.8v0.8h-0.8zM284.2 396.5h0.8v0.8h-0.8zM284.3 407.0h0.8v0.8h-0.8zM286.6 412.9h0.8v0.8h-0.8zM282.2 419.2h0.8v0.8h-0.8zM286.6 413.6h0.8v0.8h-0.8zM283.5 415.3h0.8v0.8h-0.8zM283.2 420.9h0.8v0.8h-0.8zM287.3 401.4h0.8v0.8h-0.8zM281.2 419.0h0.8v0.8h-0.8zM286.2 399.9h0.8v0.8h-0.8zM282.9 408.6h0.8v0.8h-0.8zM280.2 420.0h0.8v0.8h-0.8zM284.1 419.1h0.8v0.8h-0.8zM280.8 412.8h0.8v0.8h-0.8zM283.9 409.9h0.8v0.8h-0.8zM279.4 422.6h0.8v0.8h-0.8zM283.5 409.4h0.8v0.8h-0.8zM285.0 398.3h0.8v0.8h-0.8zM286.8 408.6h0.8v0.8h-0.8zM286.1 397.2h0.8v0.8h-0.8zM281.8 422.2h0.8v0.8h-0.8zM288.5 404.1h0.8v0.8h-0.8zM275.3 427.4h0.8v0.8h-0.8zM281.2 407.5h0.8v0.8h-0.8zM276.0 410.2h0.8v0.8h-0.8zM282.5 417.0h0.8v0.8h-0.8zM284.7 410.3h0.8v0.8h-0.8zM285.0 412.1h0.8v0.8h-0.8zM285.5 403.3h0.8v0.8h-0.8zM280.6 412.4h0.8v0.8h-0.8zM288.6 397.7h0.8v0.8h-0.8zM284.7 407.8h0.8v0.8h-0.8zM280.5 424.9h0.8v0.8h-0.8zM280.6 409.5h0.8v0.8h-0.8zM284.8 409.3h0.8v0.8h-0.8zM280.6 419.0h0.8v0.8h-0.8zM280.0 424.1h0.8v0.8h-0.8zM284.1 410.0h0.8v0.8h-0.8zM283.7 412.1h0.8v0.8h-0.8zM279.6 419.8h0.8v0.8h-0.8zM285.0 421.7h0.8v0.8h-0.8zM279.3 417.6h0.8v0.8h-0.8zM281.5 406.3h0.8v0.8h-0.8zM285.0 406.4h0.8v0.8h-0.8zM282.1 420.9h0.8v0.8h-0.8zM282.1 419.7h0.8v0.8h-0.8zM280.1 424.5h0.8v0.8h-0.8zM281.7 421.4h0.8v0.8h-0.8zM281.3 413.2h0.8v0.8h-0.8zM280.7 404.6h0.8v0.8h-0.8zM283.0 424.3h0.8v0.8h-0.8zM279.0 419.4h0.8v0.8h-0.8zM281.7 416.8h0.8v0.8h-0.8zM284.2 419.1h0.8v0.8h-0.8zM283.1 412.3h0.8v0.8h-0.8zM290.9 411.2h0.8v0.8h-0.8zM278.2 416.7h0.8v0.8h-0.8zM280.5 414.6h0.8v0.8h-0.8zM282.2 419.7h0.8v0.8h-0.8zM284.0 425.8h0.8v0.8h-0.8zM280.6 423.1h0.8v0.8h-0.8zM278.9 412.3h0.8v0.8h-0.8zM286.3 412.0h0.8v0.8h-0.8zM278.8 425.4h0.8v0.8h-0.8zM282.4 412.5h0.8v0.8h-0.8zM283.9 421.9h0.8v0.8h-0.8zM283.5 402.7h0.8v0.8h-0.8zM281.5 413.9h0.8v0.8h-0.8zM284.0 415.4h0.8v0.8h-0.8zM280.9 422.1h0.8v0.8h-0.8zM281.9 423.9h0.8v0.8h-0.8zM282.1 405.3h0.8v0.8h-0.8zM281.9 417.7h0.8v0.8h-0.8zM278.9 417.9h0.8v0.8h-0.8zM280.6 405.3h0.8v0.8h-0.8zM286.1 422.8h0.8v0.8h-0.8zM283.8 416.2h0.8v0.8h-0.8zM282.7 426.8h0.8v0.8h-0.8zM281.7 406.6h0.8v0.8h-0.8zM282.4 415.6h0.8v0.8h-0.8zM282.7 410.7h0.8v0.8h-0.8zM277.9 418.2h0.8v0.8h-0.8zM283.9 417.5h0.8v0.8h-0.8zM280.4 415.3h0.8v0.8h-0.8zM282.7 410.7h0.8v0.8h-0.8zM278.1 415.1h0.8v0.8h-0.8zM285.9 412.0h0.8v0.8h-0.8zM283.0 424.3h0.8v0.8h-0.8zM283.9 414.1h0.8v0.8h-0.8zM280.0 414.4h0.8v0.8h-0.8zM282.2 408.9h0.8v0.8h-0.8zM286.9 408.7h0.8v0.8h-0.8zM280.3 426.5h0.8v0.8h-0.8zM284.1 410.5h0.8v0.8h-0.8zM281.5 423.7h0.8v0.8h-0.8zM278.9 417.2h0.8v0.8h-0.8zM283.5 427.8h0.8v0.8h-0.8zM279.4 405.8h0.8v0.8h-0.8zM281.4 426.0h0.8v0.8h-0.8zM281.4 421.2h0.8v0.8h-0.8zM277.5 416.6h0.8v0.8h-0.8zM282.8 419.7h0.8v0.8h-0.8zM283.3 420.0h0.8v0.8h-0.8zM282.9 413.8h0.8v0.8h-0.8zM279.7 418.0h0.8v0.8h-0.8zM285.0 408.0h0.8v0.8h-0.8zM287.5 397.3h0.8v0.8h-0.8zM282.6 419.0h0.8v0.8h-0.8zM287.7 414.4h0.8v0.8h-0.8zM283.1 424.7h0.8v0.8h-0.8zM285.6 409.1h0.8v0.8h-0.8zM285.2 422.4h0.8v0.8h-0.8zM279.5 428.2h0.8v0.8h-0.8zM279.8 424.5h0.8v0.8h-0.8zM281.8 426.9h0.8v0.8h-0.8zM285.6 405.6h0.8v0.8h-0.8zM287.9 405.8h0.8v0.8h-0.8zM286.8 408.0h0.8v0.8h-0.8zM283.6 411.7h0.8v0.8h-0.8zM285.2 403.8h0.8v0.8h-0.8zM283.7 405.3h0.8v0.8h-0.8zM285.3 396.9h0.8v0.8h-0.8zM279.9 425.7h0.8v0.8h-0.8zM285.7 411.7h0.8v0.8h-0.8zM280.8 417.9h0.8v0.8h-0.8zM281.7 414.0h0.8v0.8h-0.8zM282.2 420.5h0.8v0.8h-0.8zM280.1 422.1h0.8v0.8h-0.8zM282.4 412.2h0.8v0.8h-0.8zM276.1 415.8h0.8v0.8h-0.8zM285.7 402.9h0.8v0.8h-0.8zM282.7 409.7h0.8v0.8h-0.8zM284.4 407.8h0.8v0.8h-0.8zM284.4 410.3h0.8v0.8h-0.8zM278.2 410.7h0.8v0.8h-0.8zM289.6 416.7h0.8v0.8h-0.8zM283.8 411.0h0.8v0.8h-0.8zM283.9 410.8h0.8v0.8h-0.8zM276.7 422.7h0.8v0.8h-0.8zM286.9 396.0h0.8v0.8h-0.8zM286.7 394.8h0.8v0.8h-0.8zM284.9 400.5h0.8v0.8h-0.8zM282.1 423.6h0.8v0.8h-0.8zM286.3 418.0h0.8v0.8h-0.8zM281.1 420.1h0.8v0.8h-0.8zM279.2 426.6h0.8v0.8h-0.8zM287.6 407.6h0.8v0.8h-0.8zM281.9 425.2h0.8v0.8h-0.8zM283.6 408.4h0.8v0.8h-0.8zM289.7 415.5h0.8v0.8h-0.8zM282.9 419.1h0.8v0.8h-0.8zM281.4 421.8h0.8v0.8h-0.8zM284.8 408.6h0.8v0.8h-0.8zM281.9 414.5h0.8v0.8h-0.8zM286.2 399.6h0.8v0.8h-0.8zM284.3 409.7h0.8v0.8h-0.8zM279.7 427.8h0.8v0.8h-0.8zM280.7 424.7h0.8v0.8h-0.8zM283.7 416.9h0.8v0.8h-0.8zM283.0 421.6h0.8v0.8h-0.8zM282.8 424.6h0.8v0.8h-0.8zM285.8 410.9h0.8v0.8h-0.8zM281.4 427.8h0.8v0.8h-0.8zM284.6 413.8h0.8v0.8h-0.8zM283.7 405.6h0.8v0.8h-0.8zM282.1 415.7h0.8v0.8h-0.8zM285.8 417.1h0.8v0.8h-0.8zM276.5 419.3h0.8v0.8h-0.8zM283.5 418.8h0.8v0.8h-0.8zM291.2 399.3h0.8v0.8h-0.8zM276.9 418.1h0.8v0.8h-0.8zM284.8 425.2h0.8v0.8h-0.8zM277.1 418.8h0.8v0.8h-0.8zM281.6 427.5h0.8v0.8h-0.8zM287.6 415.3h0.8v0.8h-0.8zM285.7 422.2h0.8v0.8h-0.8zM282.5 404.8h0.8v0.8h-0.8zM278.0 424.4h0.8v0.8h-0.8zM278.8 413.5h0.8v0.8h-0.8zM283.2 423.9h0.8v0.8h-0.8zM282.4 410.6h0.8v0.8h-0.8zM282.4 417.8h0.8v0.8h-0.8zM282.1 423.1h0.8v0.8h-0.8zM283.2 419.8h0.8v0.8h-0.8zM284.0 417.7h0.8v0.8h-0.8zM281.1 427.3h0.8v0.8h-0.8zM281.8 402.4h0.8v0.8h-0.8zM288.0 403.2h0.8v0.8h-0.8zM274.4 416.2h0.8v0.8h-0.8zM283.5 426.5h0.8v0.8h-0.8zM280.3 419.2h0.8v0.8h-0.8zM282.9 410.3h0.8v0.8h-0.8zM283.7 403.4h0.8v0.8h-0.8zM281.8 413.8h0.8v0.8h-0.8zM282.7 414.6h0.8v0.8h-0.8zM282.0 414.3h0.8v0.8h-0.8zM279.0 417.7h0.8v0.8h-0.8zM285.9 409.3h0.8v0.8h-0.8zM279.7 424.0h0.8v0.8h-0.8zM287.2 409.8h0.8v0.8h-0.8zM284.5 403.4h0.8v0.8h-0.8zM281.2 411.4h0.8v0.8h-0.8zM282.0 425.7h0.8v0.8h-0.8zM286.5 405.6h0.8v0.8h-0.8zM281.1 409.4h0.8v0.8h-0.8zM280.4 425.4h0.8v0.8h-0.8zM287.3 411.4h0.8v0.8h-0.8zM278.7 423.0h0.8v0.8h-0.8zM284.1 399.6h0.8v0.8h-0.8zM281.6 424.2h0.8v0.8h-0.8zM280.7 408.2h0.8v0.8h-0.8zM278.1 406.4h0.8v0.8h-0.8zM277.1 420.5h0.8v0.8h-0.8zM281.3 428.4h0.8v0.8h-0.8zM282.2 426.7h0.8v0.8h-0.8zM283.5 420.7h0.8v0.8h-0.8zM282.0 425.0h0.8v0.8h-0.8zM278.5 428.3h0.8v0.8h-0.8zM284.5 416.2h0.8v0.8h-0.8zM287.2 405.0h0.8v0.8h-0.8zM279.5 423.2h0.8v0.8h-0.8zM285.7 412.5h0.8v0.8h-0.8zM282.4 410.4h0.8v0.8h-0.8zM283.2 415.0h0.8v0.8h-0.8zM286.3 398.7h0.8v0.8h-0.8zM283.7 396.9h0.8v0.8h-0.8zM287.6 409.1h0.8v0.8h-0.8zM279.8 417.2h0.8v0.8h-0.8zM281.5 420.7h0.8v0.8h-0.8zM279.9 426.6h0.8v0.8h-0.8zM282.7 422.4h0.8v0.8h-0.8zM281.9 425.9h0.8v0.8h-0.8zM282.3 418.1h0.8v0.8h-0.8zM285.9 420.3h0.8v0.8h-0.8zM283.3 417.0h0.8v0.8h-0.8zM284.3 402.1h0.8v0.8h-0.8zM280.0 400.9h0.8v0.8h-0.8zM281.0 420.9h0.8v0.8h-0.8zM283.3 407.1h0.8v0.8h-0.8zM279.2 421.6h0.8v0.8h-0.8zM280.3 414.2h0.8v0.8h-0.8zM286.9 395.2h0.8v0.8h-0.8zM285.6 416.4h0.8v0.8h-0.8zM288.4 413.7h0.8v0.8h-0.8zM287.5 401.6h0.8v0.8h-0.8zM281.8 409.0h0.8v0.8h-0.8zM284.2 410.3h0.8v0.8h-0.8zM279.4 411.3h0.8v0.8h-0.8zM284.1 419.7h0.8v0.8h-0.8zM285.2 405.9h0.8v0.8h-0.8zM281.1 413.7h0.8v0.8h-0.8zM282.0 417.4h0.8v0.8h-0.8zM280.4 426.1h0.8v0.8h-0.8zM283.3 403.8h0.8v0.8h-0.8zM287.8 402.0h0.8v0.8h-0.8zM291.9 406.8h0.8v0.8h-0.8zM286.1 407.7h0.8v0.8h-0.8zM286.9 405.7h0.8v0.8h-0.8zM285.5 401.8h0.8v0.8h-0.8zM283.1 407.4h0.8v0.8h-0.8zM289.6 407.8h0.8v0.8h-0.8zM281.7 414.5h0.8v0.8h-0.8zM283.4 418.3h0.8v0.8h-0.8zM282.8 411.8h0.8v0.8h-0.8zM285.8 405.9h0.8v0.8h-0.8zM284.9 402.8h0.8v0.8h-0.8zM285.3 409.0h0.8v0.8h-0.8zM281.2 406.0h0.8v0.8h-0.8zM282.5 414.6h0.8v0.8h-0.8zM284.8 423.7h0.8v0.8h-0.8zM279.0 419.9h0.8v0.8h-0.8zM282.4 407.1h0.8v0.8h-0.8zM288.0 398.8h0.8v0.8h-0.8zM286.1 401.3h0.8v0.8h-0.8zM286.0 413.5h0.8v0.8h-0.8zM276.8 411.7h0.8v0.8h-0.8zM282.5 419.1h0.8v0.8h-0.8zM282.5 402.2h0.8v0.8h-0.8zM280.1 408.8h0.8v0.8h-0.8zM283.3 419.2h0.8v0.8h-0.8zM286.0 416.6h0.8v0.8h-0.8zM278.2 415.4h0.8v0.8h-0.8zM278.4 424.6h0.8v0.8h-0.8zM283.5 403.7h0.8v0.8h-0.8zM283.8 406.9h0.8v0.8h-0.8zM278.5 416.5h0.8v0.8h-0.8zM289.2 416.5h0.8v0.8h-0.8zM281.9 427.8h0.8v0.8h-0.8zM280.1 427.6h0.8v0.8h-0.8zM280.8 417.0h0.8v0.8h-0.8zM288.3 420.9h0.8v0.8h-0.8zM288.5 419.4h0.8v0.8h-0.8zM283.4 404.5h0.8v0.8h-0.8zM283.4 417.3h0.8v0.8h-0.8zM286.9 410.2h0.8v0.8h-0.8zM279.8 411.6h0.8v0.8h-0.8zM283.0 405.5h0.8v0.8h-0.8zM287.9 395.4h0.8v0.8h-0.8zM279.5 423.3h0.8v0.8h-0.8zM280.7 419.9h0.8v0.8h-0.8zM277.9 420.7h0.8v0.8h-0.8zM281.5 409.7h0.8v0.8h-0.8zM284.9 413.1h0.8v0.8h-0.8zM282.2 406.2h0.8v0.8h-0.8zM278.4 417.3h0.8v0.8h-0.8zM279.7 422.9h0.8v0.8h-0.8zM286.6 421.4h0.8v0.8h-0.8zM281.4 425.7h0.8v0.8h-0.8zM282.2 408.9h0.8v0.8h-0.8zM282.4 419.5h0.8v0.8h-0.8zM285.6 404.3h0.8v0.8h-0.8zM282.9 415.9h0.8v0.8h-0.8zM280.8 403.5h0.8v0.8h-0.8zM283.4 415.9h0.8v0.8h-0.8zM281.8 416.0h0.8v0.8h-0.8zM285.6 411.3h0.8v0.8h-0.8zM279.3 411.4h0.8v0.8h-0.8zM284.9 419.8h0.8v0.8h-0.8zM281.2 414.6h0.8v0.8h-0.8zM278.0 412.8h0.8v0.8h-0.8zM287.7 403.7h0.8v0.8h-0.8zM282.1 409.6h0.8v0.8h-0.8zM282.3 423.1h0.8v0.8h-0.8zM280.4 427.3h0.8v0.8h-0.8zM286.2 412.0h0.8v0.8h-0.8zM284.1 423.7h0.8v0.8h-0.8zM284.1 423.8h0.8v0.8h-0.8zM285.7 407.6h0.8v0.8h-0.8zM279.2 409.3h0.8v0.8h-0.8zM277.0 419.4h0.8v0.8h-0.8zM283.9 410.2h0.8v0.8h-0.8zM278.8 426.5h0.8v0.8h-0.8zM284.4 411.8h0.8v0.8h-0.8zM282.2 420.2h0.8v0.8h-0.8zM277.7 419.7h0.8v0.8h-0.8zM281.2 407.5h0.8v0.8h-0.8zM278.2 423.6h0.8v0.8h-0.8zM280.7 410.9h0.8v0.8h-0.8zM284.3 403.5h0.8v0.8h-0.8zM286.7 400.0h0.8v0.8h-0.8zM286.7 413.9h0.8v0.8h-0.8zM279.2 418.0h0.8v0.8h-0.8zM282.0 409.3h0.8v0.8h-0.8zM285.5 423.0h0.8v0.8h-0.8zM286.0 409.2h0.8v0.8h-0.8zM281.9 423.1h0.8v0.8h-0.8zM281.8 398.5h0.8v0.8h-0.8zM280.9 409.0h0.8v0.8h-0.8zM284.7 405.6h0.8v0.8h-0.8zM281.0 413.8h0.8v0.8h-0.8zM288.8 411.4h0.8v0.8h-0.8zM283.2 412.5h0.8v0.8h-0.8zM282.0 423.2h0.8v0.8h-0.8zM279.0 416.8h0.8v0.8h-0.8zM279.1 417.4h0.8v0.8h-0.8zM281.0 412.4h0.8v0.8h-0.8zM279.7 422.1h0.8v0.8h-0.8zM281.9 415.1h0.8v0.8h-0.8zM282.8 420.6h0.8v0.8h-0.8zM281.6 425.0h0.8v0.8h-0.8zM285.2 417.5h0.8v0.8h-0.8zM278.8 413.5h0.8v0.8h-0.8zM284.1 409.0h0.8v0.8h-0.8zM281.6 424.9h0.8v0.8h-0.8zM286.1 421.0h0.8v0.8h-0.8zM280.9 421.9h0.8v0.8h-0.8zM284.7 407.7h0.8v0.8h-0.8zM280.4 413.5h0.8v0.8h-0.8zM282.2 424.1h0.8v0.8h-0.8zM284.7 408.5h0.8v0.8h-0.8zM279.7 422.2h0.8v0.8h-0.8zM281.1 415.9h0.8v0.8h-0.8zM283.8 407.7h0.8v0.8h-0.8zM284.7 412.0h0.8v0.8h-0.8zM282.8 401.8h0.8v0.8h-0.8zM284.6 418.9h0.8v0.8h-0.8zM280.8 420.1h0.8v0.8h-0.8zM288.8 398.1h0.8v0.8h-0.8zM287.4 410.1h0.8v0.8h-0.8zM280.5 421.1h0.8v0.8h-0.8zM282.4 407.0h0.8v0.8h-0.8zM289.8 415.9h0.8v0.8h-0.8zM283.2 422.0h0.8v0.8h-0.8zM284.0 416.6h0.8v0.8h-0.8zM283.6 404.1h0.8v0.8h-0.8zM280.7 424.8h0.8v0.8h-0.8zM284.0 420.6h0.8v0.8h-0.8zM284.2 416.5h0.8v0.8h-0.8zM280.9 411.0h0.8v0.8h-0.8zM286.1 416.9h0.8v0.8h-0.8zM283.8 412.4h0.8v0.8h-0.8zM282.5 403.9h0.8v0.8h-0.8zM286.9 404.1h0.8v0.8h-0.8zM285.2 399.6h0.8v0.8h-0.8zM286.1 406.0h0.8v0.8h-0.8zM282.2 408.5h0.8v0.8h-0.8zM283.2 418.1h0.8v0.8h-0.8zM277.4 416.8h0.8v0.8h-0.8zM283.4 417.1h0.8v0.8h-0.8zM277.2 422.5h0.8v0.8h-0.8zM285.2 402.8h0.8v0.8h-0.8zM275.6 412.4h0.8v0.8h-0.8zM284.9 402.0h0.8v0.8h-0.8zM284.9 413.1h0.8v0.8h-0.8zM286.1 401.9h0.8v0.8h-0.8zM287.5 401.2h0.8v0.8h-0.8zM282.4 403.3h0.8v0.8h-0.8zM287.5 412.4h0.8v0.8h-0.8zM286.2 421.0h0.8v0.8h-0.8zM280.2 409.6h0.8v0.8h-0.8zM279.4 420.5h0.8v0.8h-0.8zM282.3 408.1h0.8v0.8h-0.8zM283.4 409.7h0.8v0.8h-0.8zM283.2 414.4h0.8v0.8h-0.8zM280.2 401.7h0.8v0.8h-0.8zM284.5 413.8h0.8v0.8h-0.8zM281.5 416.9h0.8v0.8h-0.8zM278.6 422.5h0.8v0.8h-0.8zM287.1 400.5h0.8v0.8h-0.8zM280.5 421.9h0.8v0.8h-0.8zM285.8 416.6h0.8v0.8h-0.8zM283.9 416.8h0.8v0.8h-0.8zM284.9 400.1h0.8v0.8h-0.8zM284.2 424.0h0.8v0.8h-0.8zM285.7 409.4h0.8v0.8h-0.8zM280.9 416.1h0.8v0.8h-0.8zM277.6 415.9h0.8v0.8h-0.8zM279.7 424.9h0.8v0.8h-0.8zM284.1 417.3h0.8v0.8h-0.8zM280.2 428.6h0.8v0.8h-0.8zM288.4 408.1h0.8v0.8h-0.8zM282.8 418.6h0.8v0.8h-0.8zM282.9 416.8h0.8v0.8h-0.8zM283.7 415.3h0.8v0.8h-0.8zM279.5 417.9h0.8v0.8h-0.8zM282.0 416.2h0.8v0.8h-0.8zM281.3 411.1h0.8v0.8h-0.8zM275.0 418.2h0.8v0.8h-0.8zM281.4 402.2h0.8v0.8h-0.8zM284.8 414.5h0.8v0.8h-0.8zM281.4 413.9h0.8v0.8h-0.8zM283.6 407.5h0.8v0.8h-0.8zM277.9 416.6h0.8v0.8h-0.8zM280.2 418.8h0.8v0.8h-0.8zM286.4 404.2h0.8v0.8h-0.8zM283.7 410.0h0.8v0.8h-0.8zM284.3 400.9h0.8v0.8h-0.8zM286.9 417.2h0.8v0.8h-0.8zM284.9 402.1h0.8v0.8h-0.8zM282.9 408.0h0.8v0.8h-0.8zM286.1 413.8h0.8v0.8h-0.8zM277.6 413.9h0.8v0.8h-0.8zM286.6 398.5h0.8v0.8h-0.8zM278.4 426.2h0.8v0.8h-0.8zM281.7 408.0h0.8v0.8h-0.8zM280.1 417.5h0.8v0.8h-0.8zM284.2 407.8h0.8v0.8h-0.8zM282.6 417.2h0.8v0.8h-0.8zM284.0 411.5h0.8v0.8h-0.8zM283.8 410.6h0.8v0.8h-0.8zM286.8 414.4h0.8v0.8h-0.8zM287.4 417.0h0.8v0.8h-0.8zM284.4 417.2h0.8v0.8h-0.8zM284.2 419.2h0.8v0.8h-0.8zM282.5 409.2h0.8v0.8h-0.8zM282.6 402.6h0.8v0.8h-0.8zM285.2 408.7h0.8v0.8h-0.8zM283.3 410.8h0.8v0.8h-0.8zM284.8 417.4h0.8v0.8h-0.8zM277.5 413.0h0.8v0.8h-0.8zM290.7 410.4h0.8v0.8h-0.8zM282.1 403.0h0.8v0.8h-0.8zM282.4 417.2h0.8v0.8h-0.8zM286.9 403.5h0.8v0.8h-0.8zM278.4 415.4h0.8v0.8h-0.8zM280.3 419.2h0.8v0.8h-0.8zM276.0 417.8h0.8v0.8h-0.8zM280.8 405.6h0.8v0.8h-0.8zM277.6 411.6h0.8v0.8h-0.8zM281.1 425.9h0.8v0.8h-0.8zM285.5 402.6h0.8v0.8h-0.8zM281.0 419.0h0.8v0.8h-0.8zM286.5 413.5h0.8v0.8h-0.8zM286.4 417.6h0.8v0.8h-0.8zM282.9 412.5h0.8v0.8h-0.8zM284.1 404.2h0.8v0.8h-0.8zM281.5 416.4h0.8v0.8h-0.8zM285.5 395.0h0.8v0.8h-0.8zM284.6 423.6h0.8v0.8h-0.8zM282.1 421.9h0.8v0.8h-0.8zM282.0 412.0h0.8v0.8h-0.8zM281.8 415.9h0.8v0.8h-0.8zM284.1 415.7h0.8v0.8h-0.8zM279.9 427.8h0.8v0.8h-0.8zM286.1 399.5h0.8v0.8h-0.8zM283.3 410.0h0.8v0.8h-0.8zM286.8 412.8h0.8v0.8h-0.8zM284.8 421.6h0.8v0.8h-0.8zM277.7 420.2h0.8v0.8h-0.8zM282.4 413.2h0.8v0.8h-0.8zM287.0 396.0h0.8v0.8h-0.8zM280.7 418.3h0.8v0.8h-0.8zM285.2 412.8h0.8v0.8h-0.8zM285.4 403.8h0.8v0.8h-0.8zM284.0 418.0h0.8v0.8h-0.8zM282.6 413.7h0.8v0.8h-0.8zM284.2 410.3h0.8v0.8h-0.8zM285.0 409.2h0.8v0.8h-0.8zM278.1 415.5h0.8v0.8h-0.8zM281.3 408.6h0.8v0.8h-0.8zM280.0 412.5h0.8v0.8h-0.8zM284.6 426.0h0.8v0.8h-0.8zM283.5 414.5h0.8v0.8h-0.8zM284.6 408.7h0.8v0.8h-0.8zM283.0 415.5h0.8v0.8h-0.8zM279.7 425.1h0.8v0.8h-0.8zM279.2 423.6h0.8v0.8h-0.8zM284.5 419.0h0.8v0.8h-0.8zM280.1 424.5h0.8v0.8h-0.8zM286.1 420.8h0.8v0.8h-0.8zM282.6 419.0h0.8v0.8h-0.8zM283.1 413.3h0.8v0.8h-0.8zM283.8 405.2h0.8v0.8h-0.8zM281.6 420.2h0.8v0.8h-0.8zM282.3 418.0h0.8v0.8h-0.8zM283.8 427.1h0.8v0.8h-0.8zM289.8 410.6h0.8v0.8h-0.8zM278.1 423.9h0.8v0.8h-0.8zM284.5 407.7h0.8v0.8h-0.8zM282.4 426.1h0.8v0.8h-0.8zM279.1 429.0h0.8v0.8h-0.8zM284.4 399.8h0.8v0.8h-0.8zM282.0 410.7h0.8v0.8h-0.8zM276.7 429.3h0.8v0.8h-0.8zM282.1 427.1h0.8v0.8h-0.8zM281.9 418.8h0.8v0.8h-0.8zM284.3 404.6h0.8v0.8h-0.8zM286.2 395.1h0.8v0.8h-0.8zM284.4 408.6h0.8v0.8h-0.8zM286.0 426.1h0.8v0.8h-0.8zM282.0 422.0h0.8v0.8h-0.8zM285.3 413.3h0.8v0.8h-0.8zM280.2 420.9h0.8v0.8h-0.8zM281.9 424.6h0.8v0.8h-0.8zM282.6 410.1h0.8v0.8h-0.8zM280.8 423.8h0.8v0.8h-0.8zM281.2 409.2h0.8v0.8h-0.8zM281.0 410.9h0.8v0.8h-0.8zM286.4 399.6h0.8v0.8h-0.8zM286.1 405.6h0.8v0.8h-0.8zM283.8 416.2h0.8v0.8h-0.8zM284.8 397.6h0.8v0.8h-0.8zM283.4 416.1h0.8v0.8h-0.8zM278.0 406.0h0.8v0.8h-0.8zM284.4 420.6h0.8v0.8h-0.8zM284.5 404.3h0.8v0.8h-0.8zM284.7 407.3h0.8v0.8h-0.8zM286.7 409.2h0.8v0.8h-0.8zM281.1 416.9h0.8v0.8h-0.8zM284.1 422.1h0.8v0.8h-0.8zM280.5 420.7h0.8v0.8h-0.8zM283.3 420.5h0.8v0.8h-0.8zM280.8 419.1h0.8v0.8h-0.8zM283.4 416.0h0.8v0.8h-0.8zM287.3 411.2h0.8v0.8h-0.8zM282.6 406.3h0.8v0.8h-0.8zM279.6 423.5h0.8v0.8h-0.8zM282.0 412.9h0.8v0.8h-0.8zM283.1 418.4h0.8v0.8h-0.8zM290.6 401.3h0.8v0.8h-0.8zM281.5 411.7h0.8v0.8h-0.8zM280.5 403.1h0.8v0.8h-0.8zM281.3 411.5h0.8v0.8h-0.8zM277.3 420.3h0.8v0.8h-0.8zM281.7 411.2h0.8v0.8h-0.8zM282.1 419.1h0.8v0.8h-0.8zM282.5 404.1h0.8v0.8h-0.8zM281.1 412.3h0.8v0.8h-0.8zM277.6 412.9h0.8v0.8h-0.8zM283.2 415.2h0.8v0.8h-0.8zM281.9 408.0h0.8v0.8h-0.8zM285.2 419.5h0.8v0.8h-0.8zM283.9 424.1h0.8v0.8h-0.8zM279.1 422.2h0.8v0.8h-0.8zM285.1 398.3h0.8v0.8h-0.8zM282.9 414.7h0.8v0.8h-0.8zM285.4 411.3h0.8v0.8h-0.8zM277.4 416.7h0.8v0.8h-0.8zM284.9 402.2h0.8v0.8h-0.8zM287.2 420.2h0.8v0.8h-0.8zM282.7 413.1h0.8v0.8h-0.8zM281.4 426.1h0.8v0.8h-0.8zM285.9 397.0h0.8v0.8h-0.8zM279.5 413.1h0.8v0.8h-0.8zM285.5 414.7h0.8v0.8h-0.8zM282.2 422.7h0.8v0.8h-0.8zM282.2 420.8h0.8v0.8h-0.8zM286.0 406.4h0.8v0.8h-0.8zM285.6 410.3h0.8v0.8h-0.8zM276.4 420.3h0.8v0.8h-0.8zM284.4 413.1h0.8v0.8h-0.8zM282.2 409.0h0.8v0.8h-0.8zM281.4 425.6h0.8v0.8h-0.8zM279.5 423.0h0.8v0.8h-0.8zM280.8 411.5h0.8v0.8h-0.8zM285.4 416.2h0.8v0.8h-0.8zM281.0 425.5h0.8v0.8h-0.8zM283.3 407.6h0.8v0.8h-0.8zM280.4 424.8h0.8v0.8h-0.8zM281.4 424.1h0.8v0.8h-0.8zM281.9 420.1h0.8v0.8h-0.8zM275.1 419.2h0.8v0.8h-0.8zM279.5 419.2h0.8v0.8h-0.8zM281.9 416.0h0.8v0.8h-0.8zM284.7 416.9h0.8v0.8h-0.8zM287.6 406.9h0.8v0.8h-0.8zM279.8 416.5h0.8v0.8h-0.8zM287.9 418.9h0.8v0.8h-0.8zM283.1 414.7h0.8v0.8h-0.8zM283.6 419.0h0.8v0.8h-0.8zM281.3 414.0h0.8v0.8h-0.8zM280.0 422.0h0.8v0.8h-0.8zM286.1 420.0h0.8v0.8h-0.8zM284.6 402.5h0.8v0.8h-0.8zM281.5 421.1h0.8v0.8h-0.8zM286.8 409.7h0.8v0.8h-0.8zM288.7 402.1h0.8v0.8h-0.8zM281.4 404.0h0.8v0.8h-0.8zM282.9 410.7h0.8v0.8h-0.8zM282.7 415.6h0.8v0.8h-0.8zM288.5 410.9h0.8v0.8h-0.8zM290.4 407.2h0.8v0.8h-0.8zM281.7 421.1h0.8v0.8h-0.8zM284.3 412.0h0.8v0.8h-0.8zM283.6 423.8h0.8v0.8h-0.8zM287.0 408.5h0.8v0.8h-0.8zM281.3 419.3h0.8v0.8h-0.8zM285.8 411.6h0.8v0.8h-0.8zM279.6 423.2h0.8v0.8h-0.8zM274.4 418.3h0.8v0.8h-0.8zM278.2 419.0h0.8v0.8h-0.8zM285.6 402.7h0.8v0.8h-0.8zM284.2 420.7h0.8v0.8h-0.8zM277.0 411.5h0.8v0.8h-0.8zM276.9 420.4h0.8v0.8h-0.8zM281.5 423.1h0.8v0.8h-0.8zM277.2 404.1h0.8v0.8h-0.8zM286.9 396.5h0.8v0.8h-0.8zM284.9 420.9h0.8v0.8h-0.8zM275.0 427.1h0.8v0.8h-0.8zM283.2 424.6h0.8v0.8h-0.8zM282.6 413.5h0.8v0.8h-0.8zM285.4 422.8h0.8v0.8h-0.8zM286.4 397.5h0.8v0.8h-0.8zM285.1 400.6h0.8v0.8h-0.8zM283.0 416.9h0.8v0.8h-0.8zM285.6 415.7h0.8v0.8h-0.8zM282.2 422.5h0.8v0.8h-0.8zM284.2 408.1h0.8v0.8h-0.8zM278.9 414.2h0.8v0.8h-0.8zM281.7 428.4h0.8v0.8h-0.8zM283.8 410.2h0.8v0.8h-0.8zM288.6 412.8h0.8v0.8h-0.8zM282.6 417.4h0.8v0.8h-0.8zM280.6 428.9h0.8v0.8h-0.8zM282.9 406.4h0.8v0.8h-0.8zM284.5 419.3h0.8v0.8h-0.8zM282.7 413.0h0.8v0.8h-0.8zM281.3 412.7h0.8v0.8h-0.8zM288.2 408.8h0.8v0.8h-0.8zM288.3 414.2h0.8v0.8h-0.8zM281.4 416.7h0.8v0.8h-0.8zM280.4 412.5h0.8v0.8h-0.8zM286.3 415.2h0.8v0.8h-0.8zM280.1 418.1h0.8v0.8h-0.8zM289.1 423.2h0.8v0.8h-0.8zM282.4 416.4h0.8v0.8h-0.8zM286.2 412.2h0.8v0.8h-0.8zM278.4 426.8h0.8v0.8h-0.8zM284.5 406.1h0.8v0.8h-0.8zM287.7 399.6h0.8v0.8h-0.8zM282.5 424.8h0.8v0.8h-0.8zM282.5 409.1h0.8v0.8h-0.8zM290.6 405.3h0.8v0.8h-0.8zM285.5 412.3h0.8v0.8h-0.8zM282.9 411.2h0.8v0.8h-0.8zM281.8 411.5h0.8v0.8h-0.8zM280.9 423.2h0.8v0.8h-0.8zM287.5 409.8h0.8v0.8h-0.8zM283.1 404.5h0.8v0.8h-0.8zM284.4 407.6h0.8v0.8h-0.8zM279.4 426.3h0.8v0.8h-0.8zM286.9 413.3h0.8v0.8h-0.8zM283.0 411.7h0.8v0.8h-0.8zM284.4 421.3h0.8v0.8h-0.8zM282.5 425.7h0.8v0.8h-0.8zM281.3 415.3h0.8v0.8h-0.8zM283.7 422.3h0.8v0.8h-0.8zM286.5 409.1h0.8v0.8h-0.8zM280.3 411.4h0.8v0.8h-0.8zM284.9 416.8h0.8v0.8h-0.8zM293.5 408.2h0.8v0.8h-0.8zM283.1 409.4h0.8v0.8h-0.8zM286.1 406.6h0.8v0.8h-0.8zM280.5 409.0h0.8v0.8h-0.8zM282.9 422.9h0.8v0.8h-0.8zM280.3 421.8h0.8v0.8h-0.8zM286.7 403.7h0.8v0.8h-0.8zM283.4 411.4h0.8v0.8h-0.8zM278.8 420.0h0.8v0.8h-0.8zM284.5 423.4h0.8v0.8h-0.8zM282.2 416.4h0.8v0.8h-0.8zM279.3 420.1h0.8v0.8h-0.8zM284.3 408.2h0.8v0.8h-0.8zM279.3 421.4h0.8v0.8h-0.8zM282.9 422.4h0.8v0.8h-0.8zM283.1 412.8h0.8v0.8h-0.8zM283.2 408.2h0.8v0.8h-0.8zM287.0 398.5h0.8v0.8h-0.8zM278.8 417.9h0.8v0.8h-0.8zM285.6 418.0h0.8v0.8h-0.8zM283.9 393.8h0.8v0.8h-0.8zM287.7 415.5h0.8v0.8h-0.8zM281.7 425.8h0.8v0.8h-0.8zM285.5 398.1h0.8v0.8h-0.8zM283.1 404.7h0.8v0.8h-0.8zM286.7 400.6h0.8v0.8h-0.8zM282.8 413.5h0.8v0.8h-0.8zM282.9 412.3h0.8v0.8h-0.8zM284.3 423.7h0.8v0.8h-0.8zM284.7 401.2h0.8v0.8h-0.8zM283.8 407.1h0.8v0.8h-0.8zM282.2 425.8h0.8v0.8h-0.8zM287.7 397.0h0.8v0.8h-0.8zM283.6 408.9h0.8v0.8h-0.8zM283.8 412.5h0.8v0.8h-0.8zM286.5 393.6h0.8v0.8h-0.8zM285.9 409.7h0.8v0.8h-0.8zM287.2 417.3h0.8v0.8h-0.8zM279.8 417.6h0.8v0.8h-0.8zM282.3 417.5h0.8v0.8h-0.8zM282.4 418.4h0.8v0.8h-0.8zM284.5 417.6h0.8v0.8h-0.8zM288.4 398.7h0.8v0.8h-0.8zM282.5 418.5h0.8v0.8h-0.8zM283.4 416.9h0.8v0.8h-0.8zM287.2 407.6h0.8v0.8h-0.8zM279.7 413.1h0.8v0.8h-0.8zM282.1 408.3h0.8v0.8h-0.8zM280.4 423.7h0.8v0.8h-0.8zM283.9 409.5h0.8v0.8h-0.8zM285.2 405.7h0.8v0.8h-0.8zM280.5 421.8h0.8v0.8h-0.8zM287.1 420.9h0.8v0.8h-0.8zM279.7 423.2h0.8v0.8h-0.8zM281.8 419.0h0.8v0.8h-0.8zM286.5 413.1h0.8v0.8h-0.8zM285.4 414.5h0.8v0.8h-0.8zM282.8 416.3h0.8v0.8h-0.8zM283.9 417.2h0.8v0.8h-0.8zM283.0 426.1h0.8v0.8h-0.8zM283.9 409.1h0.8v0.8h-0.8zM283.9 421.1h0.8v0.8h-0.8zM284.7 396.7h0.8v0.8h-0.8zM284.6 406.7h0.8v0.8h-0.8zM277.5 426.1h0.8v0.8h-0.8zM281.7 408.7h0.8v0.8h-0.8zM279.6 415.3h0.8v0.8h-0.8zM284.4 425.1h0.8v0.8h-0.8zM281.1 418.5h0.8v0.8h-0.8zM283.9 414.8h0.8v0.8h-0.8zM279.6 419.5h0.8v0.8h-0.8zM280.6 427.7h0.8v0.8h-0.8zM280.6 425.9h0.8v0.8h-0.8zM282.3 406.4h0.8v0.8h-0.8zM286.8 404.8h0.8v0.8h-0.8zM279.3 409.7h0.8v0.8h-0.8zM286.2 405.0h0.8v0.8h-0.8zM289.6 421.0h0.8v0.8h-0.8zM279.4 422.8h0.8v0.8h-0.8zM284.8 404.9h0.8v0.8h-0.8zM282.3 401.6h0.8v0.8h-0.8zM283.5 410.7h0.8v0.8h-0.8zM277.1 419.2h0.8v0.8h-0.8zM283.7 421.2h0.8v0.8h-0.8zM281.6 414.1h0.8v0.8h-0.8zM276.8 418.1h0.8v0.8h-0.8zM278.1 425.1h0.8v0.8h-0.8zM277.2 424.0h0.8v0.8h-0.8zM284.2 403.9h0.8v0.8h-0.8zM284.6 419.8h0.8v0.8h-0.8zM280.7 421.3h0.8v0.8h-0.8zM278.3 424.8h0.8v0.8h-0.8zM280.6 413.1h0.8v0.8h-0.8zM284.8 405.5h0.8v0.8h-0.8zM275.7 414.4h0.8v0.8h-0.8zM284.9 411.9h0.8v0.8h-0.8zM284.3 412.5h0.8v0.8h-0.8zM274.8 422.0h0.8v0.8h-0.8zM285.9 418.4h0.8v0.8h-0.8zM277.3 419.0h0.8v0.8h-0.8zM281.6 418.4h0.8v0.8h-0.8zM287.4 404.9h0.8v0.8h-0.8zM282.4 400.6h0.8v0.8h-0.8zM277.7 412.5h0.8v0.8h-0.8zM278.4 423.2h0.8v0.8h-0.8zM278.9 418.3h0.8v0.8h-0.8zM281.2 421.7h0.8v0.8h-0.8zM280.7 417.8h0.8v0.8h-0.8zM280.3 421.5h0.8v0.8h-0.8zM279.8 429.0h0.8v0.8h-0.8zM281.4 419.8h0.8v0.8h-0.8zM279.0 423.5h0.8v0.8h-0.8zM281.5 427.4h0.8v0.8h-0.8zM281.8 420.4h0.8v0.8h-0.8zM278.7 422.2h0.8v0.8h-0.8zM288.9 401.9h0.8v0.8h-0.8zM283.5 398.8h0.8v0.8h-0.8zM282.8 425.3h0.8v0.8h-0.8zM281.9 408.3h0.8v0.8h-0.8zM284.5 410.2h0.8v0.8h-0.8zM285.8 404.6h0.8v0.8h-0.8zM284.9 418.0h0.8v0.8h-0.8zM288.1 398.2h0.8v0.8h-0.8zM279.2 421.9h0.8v0.8h-0.8zM291.5 410.0h0.8v0.8h-0.8zM283.0 420.5h0.8v0.8h-0.8zM279.1 424.9h0.8v0.8h-0.8zM278.0 419.3h0.8v0.8h-0.8zM289.9 413.2h0.8v0.8h-0.8zM287.4 417.8h0.8v0.8h-0.8zM281.3 423.3h0.8v0.8h-0.8zM284.3 419.8h0.8v0.8h-0.8zM287.4 408.7h0.8v0.8h-0.8zM286.3 395.3h0.8v0.8h-0.8zM280.2 424.0h0.8v0.8h-0.8zM282.3 417.8h0.8v0.8h-0.8zM287.0 401.0h0.8v0.8h-0.8zM282.7 416.2h0.8v0.8h-0.8zM278.8 417.0h0.8v0.8h-0.8zM285.7 409.9h0.8v0.8h-0.8zM276.8 424.2h0.8v0.8h-0.8zM281.9 408.3h0.8v0.8h-0.8zM287.6 405.0h0.8v0.8h-0.8zM284.2 410.3h0.8v0.8h-0.8zM284.1 411.1h0.8v0.8h-0.8zM281.6 424.1h0.8v0.8h-0.8zM285.4 418.5h0.8v0.8h-0.8zM284.7 404.1h0.8v0.8h-0.8zM277.4 412.5h0.8v0.8h-0.8zM285.5 403.2h0.8v0.8h-0.8zM273.0 419.6h0.8v0.8h-0.8zM275.9 423.3h0.8v0.8h-0.8zM288.5 402.7h0.8v0.8h-0.8zM285.9 415.0h0.8v0.8h-0.8zM282.7 408.5h0.8v0.8h-0.8zM283.5 409.7h0.8v0.8h-0.8zM282.2 420.6h0.8v0.8h-0.8zM282.8 427.6h0.8v0.8h-0.8zM281.6 409.5h0.8v0.8h-0.8zM280.0 416.0h0.8v0.8h-0.8zM281.8 410.4h0.8v0.8h-0.8zM285.7 400.9h0.8v0.8h-0.8zM283.3 417.3h0.8v0.8h-0.8zM283.5 405.4h0.8v0.8h-0.8zM284.4 419.2h0.8v0.8h-0.8zM278.9 420.6h0.8v0.8h-0.8zM284.4 404.9h0.8v0.8h-0.8zM280.4 417.2h0.8v0.8h-0.8zM281.5 407.3h0.8v0.8h-0.8zM285.3 421.0h0.8v0.8h-0.8zM282.8 409.7h0.8v0.8h-0.8zM279.1 419.3h0.8v0.8h-0.8zM282.4 418.3h0.8v0.8h-0.8zM279.5 416.7h0.8v0.8h-0.8zM285.6 407.6h0.8v0.8h-0.8zM283.8 422.8h0.8v0.8h-0.8zM286.3 411.5h0.8v0.8h-0.8zM278.8 421.2h0.8v0.8h-0.8zM282.4 414.4h0.8v0.8h-0.8zM288.4 413.8h0.8v0.8h-0.8zM281.4 419.8h0.8v0.8h-0.8zM287.0 411.2h0.8v0.8h-0.8zM286.2 421.0h0.8v0.8h-0.8zM278.9 413.7h0.8v0.8h-0.8zM285.5 420.4h0.8v0.8h-0.8zM284.4 419.4h0.8v0.8h-0.8zM283.0 426.1h0.8v0.8h-0.8zM288.1 412.9h0.8v0.8h-0.8zM284.7 411.4h0.8v0.8h-0.8zM280.8 428.9h0.8v0.8h-0.8zM284.6 415.4h0.8v0.8h-0.8zM282.0 413.1h0.8v0.8h-0.8zM283.6 419.5h0.8v0.8h-0.8zM278.5 408.6h0.8v0.8h-0.8zM284.7 426.6h0.8v0.8h-0.8zM280.3 420.8h0.8v0.8h-0.8zM284.0 418.4h0.8v0.8h-0.8zM284.5 409.8h0.8v0.8h-0.8zM281.9 422.1h0.8v0.8h-0.8zM281.4 425.2h0.8v0.8h-0.8zM281.9 421.7h0.8v0.8h-0.8zM277.1 424.9h0.8v0.8h-0.8zM283.9 402.7h0.8v0.8h-0.8zM285.4 420.5h0.8v0.8h-0.8zM278.6 423.6h0.8v0.8h-0.8zM279.7 414.5h0.8v0.8h-0.8zM289.5 402.0h0.8v0.8h-0.8zM286.3 416.0h0.8v0.8h-0.8zM288.1 408.4h0.8v0.8h-0.8zM285.8 398.5h0.8v0.8h-0.8zM281.7 425.7h0.8v0.8h-0.8zM283.6 422.7h0.8v0.8h-0.8zM284.1 418.0h0.8v0.8h-0.8zM281.6 420.6h0.8v0.8h-0.8zM277.8 418.9h0.8v0.8h-0.8zM280.7 414.2h0.8v0.8h-0.8zM281.3 404.0h0.8v0.8h-0.8zM288.0 409.8h0.8v0.8h-0.8zM281.5 415.2h0.8v0.8h-0.8zM281.9 416.9h0.8v0.8h-0.8zM284.3 410.1h0.8v0.8h-0.8zM284.7 404.3h0.8v0.8h-0.8zM284.8 411.2h0.8v0.8h-0.8zM282.7 406.5h0.8v0.8h-0.8zM277.5 425.6h0.8v0.8h-0.8zM288.6 407.7h0.8v0.8h-0.8zM281.0 412.5h0.8v0.8h-0.8zM281.2 416.0h0.8v0.8h-0.8zM281.7 408.7h0.8v0.8h-0.8zM281.1 414.9h0.8v0.8h-0.8zM282.6 416.2h0.8v0.8h-0.8zM286.9 399.9h0.8v0.8h-0.8zM278.6 426.2h0.8v0.8h-0.8zM283.4 415.9h0.8v0.8h-0.8zM282.9 405.1h0.8v0.8h-0.8zM283.0 427.9h0.8v0.8h-0.8zM281.3 405.9h0.8v0.8h-0.8zM282.2 420.1h0.8v0.8h-0.8zM284.9 414.6h0.8v0.8h-0.8zM280.1 408.9h0.8v0.8h-0.8zM283.4 412.1h0.8v0.8h-0.8zM283.2 414.6h0.8v0.8h-0.8zM280.8 411.9h0.8v0.8h-0.8zM283.2 408.5h0.8v0.8h-0.8zM285.8 413.0h0.8v0.8h-0.8zM283.6 413.5h0.8v0.8h-0.8zM280.8 419.2h0.8v0.8h-0.8zM283.6 407.0h0.8v0.8h-0.8zM286.4 399.6h0.8v0.8h-0.8zM284.8 422.8h0.8v0.8h-0.8zM286.8 401.4h0.8v0.8h-0.8zM284.5 418.0h0.8v0.8h-0.8zM287.2 416.1h0.8v0.8h-0.8zM277.8 427.5h0.8v0.8h-0.8zM280.5 406.7h0.8v0.8h-0.8zM275.3 424.2h0.8v0.8h-0.8zM286.5 404.4h0.8v0.8h-0.8zM278.6 406.0h0.8v0.8h-0.8zM282.0 418.5h0.8v0.8h-0.8zM286.1 405.8h0.8v0.8h-0.8zM278.1 417.0h0.8v0.8h-0.8zM280.1 418.9h0.8v0.8h-0.8zM284.0 404.2h0.8v0.8h-0.8zM283.6 421.7h0.8v0.8h-0.8zM278.4 413.2h0.8v0.8h-0.8zM281.4 427.1h0.8v0.8h-0.8zM287.0 395.9h0.8v0.8h-0.8zM285.4 401.9h0.8v0.8h-0.8zM282.7 417.7h0.8v0.8h-0.8zM287.0 408.8h0.8v0.8h-0.8zM283.6 412.7h0.8v0.8h-0.8zM281.0 424.8h0.8v0.8h-0.8zM282.2 411.2h0.8v0.8h-0.8zM286.7 400.1h0.8v0.8h-0.8zM283.7 405.0h0.8v0.8h-0.8zM284.4 416.3h0.8v0.8h-0.8zM281.9 421.3h0.8v0.8h-0.8zM284.9 420.9h0.8v0.8h-0.8zM280.4 414.4h0.8v0.8h-0.8zM283.9 408.3h0.8v0.8h-0.8zM285.4 404.4h0.8v0.8h-0.8zM284.9 407.8h0.8v0.8h-0.8zM286.9 407.0h0.8v0.8h-0.8zM282.0 424.8h0.8v0.8h-0.8zM285.5 412.8h0.8v0.8h-0.8zM289.1 403.8h0.8v0.8h-0.8zM284.7 418.1h0.8v0.8h-0.8zM279.6 414.0h0.8v0.8h-0.8zM283.4 398.1h0.8v0.8h-0.8zM282.0 427.8h0.8v0.8h-0.8zM280.0 426.1h0.8v0.8h-0.8zM284.4 409.0h0.8v0.8h-0.8zM280.9 422.7h0.8v0.8h-0.8zM286.6 414.0h0.8v0.8h-0.8zM285.6 418.9h0.8v0.8h-0.8zM278.7 418.5h0.8v0.8h-0.8zM282.6 420.2h0.8v0.8h-0.8zM281.9 413.6h0.8v0.8h-0.8zM281.3 405.1h0.8v0.8h-0.8zM283.2 422.0h0.8v0.8h-0.8zM282.4 413.6h0.8v0.8h-0.8zM284.1 413.7h0.8v0.8h-0.8zM288.6 420.9h0.8v0.8h-0.8zM285.9 419.2h0.8v0.8h-0.8zM282.6 428.4h0.8v0.8h-0.8zM281.8 412.4h0.8v0.8h-0.8zM278.6 418.0h0.8v0.8h-0.8zM287.6 402.2h0.8v0.8h-0.8zM284.0 403.7h0.8v0.8h-0.8zM283.8 408.8h0.8v0.8h-0.8zM282.5 409.5h0.8v0.8h-0.8zM283.0 413.8h0.8v0.8h-0.8zM290.0 408.0h0.8v0.8h-0.8zM280.2 425.8h0.8v0.8h-0.8zM282.0 413.3h0.8v0.8h-0.8zM283.6 412.2h0.8v0.8h-0.8zM281.7 424.6h0.8v0.8h-0.8zM278.2 421.8h0.8v0.8h-0.8zM276.6 421.2h0.8v0.8h-0.8zM279.6 425.0h0.8v0.8h-0.8zM281.1 420.4h0.8v0.8h-0.8zM281.2 410.2h0.8v0.8h-0.8zM278.7 426.8h0.8v0.8h-0.8zM284.2 397.9h0.8v0.8h-0.8zM280.0 424.5h0.8v0.8h-0.8zM282.5 413.1h0.8v0.8h-0.8zM278.6 411.1h0.8v0.8h-0.8zM281.0 414.4h0.8v0.8h-0.8zM283.9 412.6h0.8v0.8h-0.8zM280.8 423.5h0.8v0.8h-0.8zM277.7 422.0h0.8v0.8h-0.8zM280.6 420.6h0.8v0.8h-0.8zM283.7 408.1h0.8v0.8h-0.8zM284.9 413.6h0.8v0.8h-0.8zM281.9 401.7h0.8v0.8h-0.8zM283.6 420.5h0.8v0.8h-0.8zM284.7 399.3h0.8v0.8h-0.8zM283.4 412.5h0.8v0.8h-0.8zM285.9 405.3h0.8v0.8h-0.8zM278.9 423.2h0.8v0.8h-0.8zM279.0 425.1h0.8v0.8h-0.8zM283.1 409.8h0.8v0.8h-0.8zM283.0 423.8h0.8v0.8h-0.8zM282.7 406.3h0.8v0.8h-0.8zM277.7 419.8h0.8v0.8h-0.8zM281.8 408.7h0.8v0.8h-0.8zM283.8 413.7h0.8v0.8h-0.8zM285.6 417.5h0.8v0.8h-0.8zM281.6 411.4h0.8v0.8h-0.8zM283.1 407.0h0.8v0.8h-0.8zM281.6 417.0h0.8v0.8h-0.8zM281.0 421.7h0.8v0.8h-0.8zM278.9 429.0h0.8v0.8h-0.8zM281.9 410.7h0.8v0.8h-0.8zM284.1 408.9h0.8v0.8h-0.8zM285.2 401.8h0.8v0.8h-0.8zM283.9 407.2h0.8v0.8h-0.8zM284.1 397.8h0.8v0.8h-0.8zM282.1 408.6h0.8v0.8h-0.8zM279.6 420.1h0.8v0.8h-0.8zM286.9 403.8h0.8v0.8h-0.8zM286.3 418.3h0.8v0.8h-0.8zM284.2 409.9h0.8v0.8h-0.8zM287.8 408.0h0.8v0.8h-0.8zM281.6 414.6h0.8v0.8h-0.8zM281.8 413.5h0.8v0.8h-0.8zM278.9 413.8h0.8v0.8h-0.8zM285.1 403.9h0.8v0.8h-0.8zM280.9 416.5h0.8v0.8h-0.8zM281.2 424.6h0.8v0.8h-0.8zM286.6 395.6h0.8v0.8h-0.8zM284.5 402.1h0.8v0.8h-0.8zM278.8 417.0h0.8v0.8h-0.8zM283.1 410.6h0.8v0.8h-0.8zM283.4 408.7h0.8v0.8h-0.8zM280.6 428.3h0.8v0.8h-0.8zM285.1 410.3h0.8v0.8h-0.8zM280.4 425.2h0.8v0.8h-0.8zM281.3 417.7h0.8v0.8h-0.8zM288.4 398.2h0.8v0.8h-0.8zM286.3 409.1h0.8v0.8h-0.8zM284.9 401.7h0.8v0.8h-0.8zM279.6 415.9h0.8v0.8h-0.8zM279.9 424.8h0.8v0.8h-0.8zM286.1 400.2h0.8v0.8h-0.8zM287.0 398.0h0.8v0.8h-0.8zM289.5 398.1h0.8v0.8h-0.8zM282.8 409.3h0.8v0.8h-0.8zM284.5 405.8h0.8v0.8h-0.8zM280.0 427.1h0.8v0.8h-0.8zM281.7 421.3h0.8v0.8h-0.8zM280.0 425.9h0.8v0.8h-0.8zM279.1 416.8h0.8v0.8h-0.8zM284.1 422.4h0.8v0.8h-0.8zM282.2 419.7h0.8v0.8h-0.8zM286.8 409.9h0.8v0.8h-0.8zM280.6 418.4h0.8v0.8h-0.8zM284.1 409.8h0.8v0.8h-0.8zM284.6 414.2h0.8v0.8h-0.8zM276.3 422.5h0.8v0.8h-0.8zM280.5 407.7h0.8v0.8h-0.8zM286.0 406.2h0.8v0.8h-0.8zM281.5 423.2h0.8v0.8h-0.8zM277.4 414.2h0.8v0.8h-0.8zM282.4 406.1h0.8v0.8h-0.8zM280.4 410.6h0.8v0.8h-0.8zM282.2 409.5h0.8v0.8h-0.8zM284.9 424.5h0.8v0.8h-0.8zM281.0 414.4h0.8v0.8h-0.8zM285.7 425.2h0.8v0.8h-0.8zM282.0 414.3h0.8v0.8h-0.8zM279.3 425.9h0.8v0.8h-0.8zM284.7 425.1h0.8v0.8h-0.8zM285.2 416.6h0.8v0.8h-0.8zM285.3 421.6h0.8v0.8h-0.8zM288.7 409.7h0.8v0.8h-0.8zM287.0 403.8h0.8v0.8h-0.8zM285.9 417.4h0.8v0.8h-0.8zM282.4 400.4h0.8v0.8h-0.8zM280.4 414.3h0.8v0.8h-0.8zM283.6 417.7h0.8v0.8h-0.8zM282.2 421.1h0.8v0.8h-0.8zM282.9 424.5h0.8v0.8h-0.8zM282.9 407.2h0.8v0.8h-0.8zM284.1 423.6h0.8v0.8h-0.8zM288.5 414.9h0.8v0.8h-0.8zM284.0 417.8h0.8v0.8h-0.8zM285.2 414.1h0.8v0.8h-0.8zM282.7 423.1h0.8v0.8h-0.8zM286.0 410.1h0.8v0.8h-0.8zM286.4 395.4h0.8v0.8h-0.8zM280.1 422.6h0.8v0.8h-0.8zM282.8 418.6h0.8v0.8h-0.8zM282.3 419.9h0.8v0.8h-0.8zM281.3 404.2h0.8v0.8h-0.8zM284.7 407.2h0.8v0.8h-0.8zM282.4 417.8h0.8v0.8h-0.8zM282.4 420.6h0.8v0.8h-0.8zM280.6 418.6h0.8v0.8h-0.8zM283.8 417.2h0.8v0.8h-0.8zM284.0 418.5h0.8v0.8h-0.8zM282.8 405.1h0.8v0.8h-0.8zM283.8 413.9h0.8v0.8h-0.8zM285.5 410.9h0.8v0.8h-0.8zM284.0 420.3h0.8v0.8h-0.8zM280.0 415.4h0.8v0.8h-0.8zM279.0 420.0h0.8v0.8h-0.8zM282.1 419.4h0.8v0.8h-0.8zM278.6 424.7h0.8v0.8h-0.8zM287.8 423.3h0.8v0.8h-0.8zM284.1 400.1h0.8v0.8h-0.8zM279.8 418.8h0.8v0.8h-0.8zM284.9 412.0h0.8v0.8h-0.8zM283.9 403.1h0.8v0.8h-0.8zM275.9 414.5h0.8v0.8h-0.8zM280.9 423.0h0.8v0.8h-0.8zM278.8 421.8h0.8v0.8h-0.8zM283.6 403.3h0.8v0.8h-0.8zM279.9 407.1h0.8v0.8h-0.8zM279.3 419.4h0.8v0.8h-0.8zM280.4 427.1h0.8v0.8h-0.8zM284.9 401.8h0.8v0.8h-0.8zM282.6 402.5h0.8v0.8h-0.8zM279.8 419.4h0.8v0.8h-0.8zM279.6 417.6h0.8v0.8h-0.8zM281.7 422.2h0.8v0.8h-0.8zM283.5 407.0h0.8v0.8h-0.8zM278.9 414.9h0.8v0.8h-0.8zM283.1 421.9h0.8v0.8h-0.8zM280.9 412.2h0.8v0.8h-0.8zM283.9 412.6h0.8v0.8h-0.8zM284.1 398.5h0.8v0.8h-0.8zM282.1 421.8h0.8v0.8h-0.8zM282.3 413.8h0.8v0.8h-0.8zM283.0 412.1h0.8v0.8h-0.8zM283.4 418.5h0.8v0.8h-0.8zM282.2 423.3h0.8v0.8h-0.8zM281.4 423.6h0.8v0.8h-0.8zM283.4 411.2h0.8v0.8h-0.8zM278.3 417.5h0.8v0.8h-0.8zM282.6 412.3h0.8v0.8h-0.8zM275.4 422.9h0.8v0.8h-0.8zM275.2 421.7h0.8v0.8h-0.8zM281.0 418.6h0.8v0.8h-0.8zM280.6 422.5h0.8v0.8h-0.8zM286.7 415.3h0.8v0.8h-0.8zM284.1 416.6h0.8v0.8h-0.8zM286.8 405.7h0.8v0.8h-0.8zM280.8 419.7h0.8v0.8h-0.8zM284.5 409.7h0.8v0.8h-0.8zM285.6 416.4h0.8v0.8h-0.8zM286.8 394.1h0.8v0.8h-0.8zM283.8 412.6h0.8v0.8h-0.8zM282.4 417.6h0.8v0.8h-0.8zM279.3 418.0h0.8v0.8h-0.8zM279.6 416.5h0.8v0.8h-0.8zM279.8 408.7h0.8v0.8h-0.8zM283.2 418.5h0.8v0.8h-0.8zM281.1 418.6h0.8v0.8h-0.8zM280.2 417.1h0.8v0.8h-0.8zM283.9 412.1h0.8v0.8h-0.8zM282.9 405.3h0.8v0.8h-0.8zM285.4 416.3h0.8v0.8h-0.8zM288.8 400.1h0.8v0.8h-0.8zM282.0 425.1h0.8v0.8h-0.8zM281.1 411.5h0.8v0.8h-0.8zM279.4 409.6h0.8v0.8h-0.8zM288.4 413.9h0.8v0.8h-0.8zM285.7 403.2h0.8v0.8h-0.8zM278.0 424.1h0.8v0.8h-0.8zM282.6 427.8h0.8v0.8h-0.8zM276.9 422.5h0.8v0.8h-0.8zM281.0 416.7h0.8v0.8h-0.8zM280.3 425.9h0.8v0.8h-0.8zM282.2 410.9h0.8v0.8h-0.8zM279.3 414.2h0.8v0.8h-0.8zM289.9 406.0h0.8v0.8h-0.8zM281.6 413.2h0.8v0.8h-0.8zM281.8 425.5h0.8v0.8h-0.8zM282.1 418.7h0.8v0.8h-0.8zM277.7 416.1h0.8v0.8h-0.8zM280.8 415.8h0.8v0.8h-0.8zM282.7 418.0h0.8v0.8h-0.8zM284.9 417.5h0.8v0.8h-0.8zM281.7 413.9h0.8v0.8h-0.8zM283.6 415.3h0.8v0.8h-0.8zM284.1 403.1h0.8v0.8h-0.8zM284.4 413.7h0.8v0.8h-0.8zM274.7 418.9h0.8v0.8h-0.8zM285.3 407.8h0.8v0.8h-0.8zM281.8 409.4h0.8v0.8h-0.8zM279.8 422.0h0.8v0.8h-0.8zM277.9 404.7h0.8v0.8h-0.8zM281.3 406.9h0.8v0.8h-0.8zM283.0 422.4h0.8v0.8h-0.8zM289.8 404.0h0.8v0.8h-0.8zM281.4 410.1h0.8v0.8h-0.8zM279.4 424.9h0.8v0.8h-0.8zM284.2 413.0h0.8v0.8h-0.8zM282.1 422.3h0.8v0.8h-0.8zM280.0 421.0h0.8v0.8h-0.8zM285.6 397.1h0.8v0.8h-0.8zM282.9 407.7h0.8v0.8h-0.8zM282.5 424.9h0.8v0.8h-0.8zM285.4 410.7h0.8v0.8h-0.8zM287.9 412.7h0.8v0.8h-0.8zM283.0 425.7h0.8v0.8h-0.8zM286.2 403.5h0.8v0.8h-0.8zM281.0 427.3h0.8v0.8h-0.8zM284.9 418.3h0.8v0.8h-0.8zM279.2 417.9h0.8v0.8h-0.8zM288.9 393.7h0.8v0.8h-0.8zM283.0 418.0h0.8v0.8h-0.8zM285.2 422.5h0.8v0.8h-0.8zM280.6 412.5h0.8v0.8h-0.8zM287.1 401.6h0.8v0.8h-0.8zM285.4 404.5h0.8v0.8h-0.8zM284.7 401.9h0.8v0.8h-0.8zM280.9 413.0h0.8v0.8h-0.8zM279.0 422.3h0.8v0.8h-0.8zM288.6 400.7h0.8v0.8h-0.8zM286.4 412.8h0.8v0.8h-0.8zM283.2 412.7h0.8v0.8h-0.8zM283.5 412.6h0.8v0.8h-0.8zM280.3 415.6h0.8v0.8h-0.8zM277.0 415.8h0.8v0.8h-0.8zM279.5 407.2h0.8v0.8h-0.8zM279.8 421.8h0.8v0.8h-0.8zM282.1 415.4h0.8v0.8h-0.8zM279.8 411.5h0.8v0.8h-0.8zM282.4 426.9h0.8v0.8h-0.8zM283.4 419.6h0.8v0.8h-0.8zM284.6 405.7h0.8v0.8h-0.8zM277.3 427.2h0.8v0.8h-0.8zM281.7 416.8h0.8v0.8h-0.8zM283.1 411.2h0.8v0.8h-0.8zM280.5 408.2h0.8v0.8h-0.8zM281.0 401.3h0.8v0.8h-0.8zM288.7 408.4h0.8v0.8h-0.8zM285.1 409.8h0.8v0.8h-0.8zM282.1 411.3h0.8v0.8h-0.8zM283.4 428.3h0.8v0.8h-0.8zM285.6 417.1h0.8v0.8h-0.8zM285.2 406.8h0.8v0.8h-0.8zM283.7 411.9h0.8v0.8h-0.8zM285.0 413.4h0.8v0.8h-0.8zM288.0 402.2h0.8v0.8h-0.8zM282.9 414.3h0.8v0.8h-0.8zM281.9 415.2h0.8v0.8h-0.8zM282.4 424.9h0.8v0.8h-0.8zM274.6 413.5h0.8v0.8h-0.8zM282.2 419.2h0.8v0.8h-0.8zM280.8 419.0h0.8v0.8h-0.8zM284.1 406.2h0.8v0.8h-0.8zM281.8 416.6h0.8v0.8h-0.8zM283.7 413.8h0.8v0.8h-0.8zM284.5 405.7h0.8v0.8h-0.8zM285.9 397.6h0.8v0.8h-0.8zM280.3 429.0h0.8v0.8h-0.8zM285.9 402.6h0.8v0.8h-0.8zM279.8 424.2h0.8v0.8h-0.8zM285.8 411.8h0.8v0.8h-0.8zM281.6 402.1h0.8v0.8h-0.8zM281.2 427.0h0.8v0.8h-0.8zM283.4 418.6h0.8v0.8h-0.8zM279.2 412.8h0.8v0.8h-0.8zM280.1 422.9h0.8v0.8h-0.8zM285.7 419.7h0.8v0.8h-0.8zM282.5 413.0h0.8v0.8h-0.8zM279.3 419.9h0.8v0.8h-0.8zM273.2 420.4h0.8v0.8h-0.8zM285.0 406.1h0.8v0.8h-0.8zM282.1 419.9h0.8v0.8h-0.8zM282.4 425.1h0.8v0.8h-0.8zM287.9 419.2h0.8v0.8h-0.8zM281.5 421.9h0.8v0.8h-0.8zM280.8 428.5h0.8v0.8h-0.8zM279.6 421.8h0.8v0.8h-0.8zM282.5 414.3h0.8v0.8h-0.8zM282.3 416.4h0.8v0.8h-0.8zM283.7 421.1h0.8v0.8h-0.8zM283.8 418.0h0.8v0.8h-0.8zM283.7 401.5h0.8v0.8h-0.8zM284.5 400.8h0.8v0.8h-0.8zM287.2 409.3h0.8v0.8h-0.8zM278.8 422.4h0.8v0.8h-0.8zM285.8 407.7h0.8v0.8h-0.8zM287.8 410.6h0.8v0.8h-0.8zM283.1 422.5h0.8v0.8h-0.8zM285.1 404.4h0.8v0.8h-0.8zM287.2 409.5h0.8v0.8h-0.8zM284.6 408.8h0.8v0.8h-0.8zM285.5 399.8h0.8v0.8h-0.8zM281.1 420.5h0.8v0.8h-0.8zM286.4 410.6h0.8v0.8h-0.8zM284.9 412.8h0.8v0.8h-0.8zM287.5 411.0h0.8v0.8h-0.8zM284.6 401.1h0.8v0.8h-0.8zM280.4 423.0h0.8v0.8h-0.8zM283.5 404.6h0.8v0.8h-0.8zM284.2 409.7h0.8v0.8h-0.8zM279.8 420.0h0.8v0.8h-0.8zM285.7 411.4h0.8v0.8h-0.8zM283.5 415.2h0.8v0.8h-0.8zM280.5 410.9h0.8v0.8h-0.8zM273.6 416.4h0.8v0.8h-0.8zM278.3 410.5h0.8v0.8h-0.8zM286.9 414.0h0.8v0.8h-0.8zM285.9 395.5h0.8v0.8h-0.8zM286.1 396.5h0.8v0.8h-0.8zM281.3 415.2h0.8v0.8h-0.8z" fill="#000"/>
<path d="M288.4 479.3h0.8v0.8h-0.8zM282.2 497.8h0.8v0.8h-0.8zM289.0 477.4h0.8v0.8h-0.8zM284.3 477.1h0.8v0.8h-0.8zM289.8 481.9h0.8v0.8h-0.8zM278.7 478.7h0.8v0.8h-0.8zM290.6 489.8h0.8v0.8h-0.8zM280.2 474.7h0.8v0.8h-0.8zM282.9 495.9h0.8v0.8h-0.8zM280.0 494.7h0.8v0.8h-0.8zM285.5 464.5h0.8v0.8h-0.8zM283.2 486.7h0.8v0.8h-0.8zM284.3 474.3h0.8v0.8h-0.8zM286.4 479.5h0.8v0.8h-0.8zM287.0 483.7h0.8v0.8h-0.8zM283.1 484.6h0.8v0.8h-0.8zM287.7 484.9h0.8v0.8h-0.8zM278.7 497.0h0.8v0.8h-0.8zM281.6 479.5h0.8v0.8h-0.8zM281.2 477.3h0.8v0.8h-0.8zM285.0 489.8h0.8v0.8h-0.8zM285.1 497.8h0.8v0.8h-0.8zM281.9 496.9h0.8v0.8h-0.8zM281.4 495.4h0.8v0.8h-0.8zM282.7 472.2h0.8v0.8h-0.8zM284.6 497.4h0.8v0.8h-0.8zM287.1 489.3h0.8v0.8h-0.8zM281.6 495.1h0.8v0.8h-0.8zM283.6 483.4h0.8v0.8h-0.8zM283.6 478.3h0.8v0.8h-0.8zM283.2 492.8h0.8v0.8h-0.8zM284.9 489.6h0.8v0.8h-0.8zM276.9 492.4h0.8v0.8h-0.8zM283.3 477.8h0.8v0.8h-0.8zM286.8 475.4h0.8v0.8h-0.8zM280.7 492.0h0.8v0.8h-0.8zM287.2 468.5h0.8v0.8h-0.8zM286.3 497.7h0.8v0.8h-0.8zM282.6 475.5h0.8v0.8h-0.8zM281.2 488.1h0.8v0.8h-0.8zM288.0 483.7h0.8v0.8h-0.8zM279.6 481.2h0.8v0.8h-0.8zM282.1 476.8h0.8v0.8h-0.8zM278.6 492.5h0.8v0.8h-0.8zM283.1 496.6h0.8v0.8h-0.8zM284.5 491.2h0.8v0.8h-0.8zM285.2 488.2h0.8v0.8h-0.8zM284.3 490.7h0.8v0.8h-0.8zM279.6 486.6h0.8v0.8h-0.8zM287.4 487.2h0.8v0.8h-0.8zM282.9 496.3h0.8v0.8h-0.8zM283.4 480.1h0.8v0.8h-0.8zM289.3 478.4h0.8v0.8h-0.8zM283.2 497.8h0.8v0.8h-0.8zM283.8 497.6h0.8v0.8h-0.8zM286.5 485.1h0.8v0.8h-0.8zM289.0 493.0h0.8v0.8h-0.8zM283.3 491.5h0.8v0.8h-0.8zM284.5 497.9h0.8v0.8h-0.8zM280.0 473.1h0.8v0.8h-0.8zM280.5 496.0h0.8v0.8h-0.8zM290.1 485.7h0.8v0.8h-0.8zM290.0 484.5h0.8v0.8h-0.8zM283.0 490.2h0.8v0.8h-0.8zM280.8 488.5h0.8v0.8h-0.8zM280.0 484.2h0.8v0.8h-0.8zM281.0 480.4h0.8v0.8h-0.8zM281.5 496.7h0.8v0.8h-0.8zM278.4 493.5h0.8v0.8h-0.8zM284.7 474.1h0.8v0.8h-0.8zM283.6 483.3h0.8v0.8h-0.8zM279.7 492.0h0.8v0.8h-0.8zM279.6 495.4h0.8v0.8h-0.8zM280.3 498.5h0.8v0.8h-0.8zM283.2 479.0h0.8v0.8h-0.8zM282.5 495.8h0.8v0.8h-0.8zM285.1 490.4h0.8v0.8h-0.8zM281.4 472.4h0.8v0.8h-0.8zM283.7 478.1h0.8v0.8h-0.8zM284.8 477.4h0.8v0.8h-0.8zM285.7 472.9h0.8v0.8h-0.8zM286.0 490.2h0.8v0.8h-0.8zM283.2 480.9h0.8v0.8h-0.8zM287.2 490.3h0.8v0.8h-0.8zM290.0 473.1h0.8v0.8h-0.8zM284.3 495.1h0.8v0.8h-0.8zM288.2 490.4h0.8v0.8h-0.8zM286.1 492.5h0.8v0.8h-0.8zM285.0 488.3h0.8v0.8h-0.8zM283.4 484.7h0.8v0.8h-0.8zM285.4 477.5h0.8v0.8h-0.8zM287.9 497.6h0.8v0.8h-0.8zM285.1 475.9h0.8v0.8h-0.8zM281.6 486.3h0.8v0.8h-0.8zM283.8 474.9h0.8v0.8h-0.8zM286.8 474.4h0.8v0.8h-0.8zM281.5 490.4h0.8v0.8h-0.8zM285.5 495.7h0.8v0.8h-0.8zM286.3 484.8h0.8v0.8h-0.8zM284.0 492.9h0.8v0.8h-0.8zM287.7 494.7h0.8v0.8h-0.8zM280.0 486.6h0.8v0.8h-0.8zM281.8 492.4h0.8v0.8h-0.8zM284.1 480.4h0.8v0.8h-0.8zM285.9 476.0h0.8v0.8h-0.8zM281.3 477.4h0.8v0.8h-0.8zM284.5 465.9h0.8v0.8h-0.8zM287.8 472.6h0.8v0.8h-0.8zM282.2 491.7h0.8v0.8h-0.8zM285.4 496.2h0.8v0.8h-0.8zM284.7 471.7h0.8v0.8h-0.8zM281.2 491.0h0.8v0.8h-0.8zM284.8 492.4h0.8v0.8h-0.8zM287.5 490.0h0.8v0.8h-0.8zM283.8 485.7h0.8v0.8h-0.8zM280.0 485.4h0.8v0.8h-0.8zM281.0 490.4h0.8v0.8h-0.8zM283.3 479.1h0.8v0.8h-0.8zM282.5 491.8h0.8v0.8h-0.8zM282.2 477.5h0.8v0.8h-0.8zM286.3 470.1h0.8v0.8h-0.8zM280.3 497.3h0.8v0.8h-0.8zM287.2 473.6h0.8v0.8h-0.8zM281.9 477.6h0.8v0.8h-0.8zM283.2 471.7h0.8v0.8h-0.8zM286.7 466.7h0.8v0.8h-0.8zM286.6 475.0h0.8v0.8h-0.8zM282.1 496.8h0.8v0.8h-0.8zM281.5 490.4h0.8v0.8h-0.8zM283.4 483.4h0.8v0.8h-0.8zM285.2 465.7h0.8v0.8h-0.8zM283.8 493.8h0.8v0.8h-0.8zM287.0 485.4h0.8v0.8h-0.8zM280.9 494.6h0.8v0.8h-0.8zM283.8 485.8h0.8v0.8h-0.8zM285.1 473.0h0.8v0.8h-0.8zM282.2 472.7h0.8v0.8h-0.8zM286.5 492.7h0.8v0.8h-0.8zM289.1 478.4h0.8v0.8h-0.8zM284.8 476.0h0.8v0.8h-0.8zM278.9 483.5h0.8v0.8h-0.8zM282.2 479.6h0.8v0.8h-0.8zM287.1 480.0h0.8v0.8h-0.8zM277.4 492.8h0.8v0.8h-0.8zM277.9 485.0h0.8v0.8h-0.8zM281.9 501.6h0.8v0.8h-0.8zM286.0 473.9h0.8v0.8h-0.8zM286.7 480.5h0.8v0.8h-0.8zM285.6 495.4h0.8v0.8h-0.8zM276.9 484.1h0.8v0.8h-0.8zM281.5 492.2h0.8v0.8h-0.8zM281.1 484.1h0.8v0.8h-0.8zM281.1 483.4h0.8v0.8h-0.8zM284.9 495.6h0.8v0.8h-0.8zM285.5 481.0h0.8v0.8h-0.8zM281.4 486.9h0.8v0.8h-0.8zM284.3 487.3h0.8v0.8h-0.8zM285.4 470.8h0.8v0.8h-0.8zM287.7 474.0h0.8v0.8h-0.8zM283.0 478.8h0.8v0.8h-0.8zM285.7 464.4h0.8v0.8h-0.8zM281.1 490.1h0.8v0.8h-0.8zM284.9 487.6h0.8v0.8h-0.8zM284.1 481.7h0.8v0.8h-0.8zM284.8 483.7h0.8v0.8h-0.8zM285.1 470.6h0.8v0.8h-0.8zM288.5 483.3h0.8v0.8h-0.8zM281.3 494.2h0.8v0.8h-0.8zM283.5 470.4h0.8v0.8h-0.8zM281.8 489.4h0.8v0.8h-0.8zM284.9 490.3h0.8v0.8h-0.8zM286.6 478.3h0.8v0.8h-0.8zM284.4 480.5h0.8v0.8h-0.8zM283.2 477.1h0.8v0.8h-0.8zM282.6 487.3h0.8v0.8h-0.8zM282.4 482.4h0.8v0.8h-0.8zM286.1 475.3h0.8v0.8h-0.8zM284.6 480.3h0.8v0.8h-0.8zM285.3 479.1h0.8v0.8h-0.8zM283.0 500.1h0.8v0.8h-0.8zM284.0 488.4h0.8v0.8h-0.8zM287.4 485.2h0.8v0.8h-0.8zM282.7 485.5h0.8v0.8h-0.8zM285.1 487.6h0.8v0.8h-0.8zM283.7 499.6h0.8v0.8h-0.8zM282.3 482.8h0.8v0.8h-0.8zM288.3 471.7h0.8v0.8h-0.8zM285.4 477.2h0.8v0.8h-0.8zM283.8 466.0h0.8v0.8h-0.8zM287.2 477.8h0.8v0.8h-0.8zM285.4 488.2h0.8v0.8h-0.8zM286.5 479.5h0.8v0.8h-0.8zM282.7 494.0h0.8v0.8h-0.8zM282.2 498.0h0.8v0.8h-0.8zM285.3 475.0h0.8v0.8h-0.8zM279.6 493.2h0.8v0.8h-0.8zM284.0 489.6h0.8v0.8h-0.8zM282.9 500.9h0.8v0.8h-0.8zM287.0 477.4h0.8v0.8h-0.8zM282.8 492.1h0.8v0.8h-0.8zM286.0 481.5h0.8v0.8h-0.8zM281.2 477.7h0.8v0.8h-0.8zM282.5 479.5h0.8v0.8h-0.8zM284.8 497.4h0.8v0.8h-0.8zM288.1 485.2h0.8v0.8h-0.8zM286.6 484.1h0.8v0.8h-0.8zM279.4 495.1h0.8v0.8h-0.8zM280.5 494.7h0.8v0.8h-0.8zM281.6 495.9h0.8v0.8h-0.8zM287.1 468.8h0.8v0.8h-0.8zM281.9 501.5h0.8v0.8h-0.8zM284.1 490.2h0.8v0.8h-0.8zM284.2 496.2h0.8v0.8h-0.8zM284.5 493.1h0.8v0.8h-0.8zM282.7 496.0h0.8v0.8h-0.8zM283.9 495.6h0.8v0.8h-0.8zM286.0 489.3h0.8v0.8h-0.8zM285.3 475.2h0.8v0.8h-0.8zM283.3 490.0h0.8v0.8h-0.8zM286.5 470.2h0.8v0.8h-0.8zM288.5 481.9h0.8v0.8h-0.8zM291.2 480.2h0.8v0.8h-0.8zM281.4 480.5h0.8v0.8h-0.8zM284.0 493.2h0.8v0.8h-0.8zM283.4 495.5h0.8v0.8h-0.8zM280.4 496.1h0.8v0.8h-0.8zM282.8 488.6h0.8v0.8h-0.8zM281.5 492.3h0.8v0.8h-0.8zM282.7 475.1h0.8v0.8h-0.8zM282.6 481.8h0.8v0.8h-0.8zM285.0 492.7h0.8v0.8h-0.8zM281.1 484.6h0.8v0.8h-0.8zM282.4 485.6h0.8v0.8h-0.8zM282.9 492.6h0.8v0.8h-0.8zM282.1 478.5h0.8v0.8h-0.8zM280.0 495.0h0.8v0.8h-0.8zM278.8 491.5h0.8v0.8h-0.8zM283.5 472.9h0.8v0.8h-0.8zM288.0 483.9h0.8v0.8h-0.8zM278.9 496.6h0.8v0.8h-0.8zM286.7 479.8h0.8v0.8h-0.8zM284.0 467.2h0.8v0.8h-0.8zM282.4 476.8h0.8v0.8h-0.8zM285.9 486.8h0.8v0.8h-0.8zM286.1 474.1h0.8v0.8h-0.8zM286.2 471.5h0.8v0.8h-0.8zM284.8 475.5h0.8v0.8h-0.8zM285.4 493.7h0.8v0.8h-0.8zM281.6 498.8h0.8v0.8h-0.8zM285.6 475.5h0.8v0.8h-0.8zM286.4 487.2h0.8v0.8h-0.8zM283.2 490.0h0.8v0.8h-0.8zM283.3 472.5h0.8v0.8h-0.8zM287.2 495.4h0.8v0.8h-0.8zM282.6 491.6h0.8v0.8h-0.8zM280.5 490.0h0.8v0.8h-0.8zM285.6 485.3h0.8v0.8h-0.8zM286.6 492.7h0.8v0.8h-0.8zM284.6 493.7h0.8v0.8h-0.8zM281.2 480.2h0.8v0.8h-0.8zM284.7 478.9h0.8v0.8h-0.8zM283.3 499.8h0.8v0.8h-0.8zM285.7 485.4h0.8v0.8h-0.8zM280.1 483.6h0.8v0.8h-0.8zM280.0 497.3h0.8v0.8h-0.8zM283.9 491.0h0.8v0.8h-0.8zM283.3 491.6h0.8v0.8h-0.8zM284.4 493.1h0.8v0.8h-0.8zM286.2 494.0h0.8v0.8h-0.8zM279.4 490.1h0.8v0.8h-0.8zM281.1 501.4h0.8v0.8h-0.8zM281.6 492.8h0.8v0.8h-0.8zM287.1 493.8h0.8v0.8h-0.8zM282.6 493.9h0.8v0.8h-0.8zM286.8 471.0h0.8v0.8h-0.8zM279.1 500.4h0.8v0.8h-0.8zM283.9 492.1h0.8v0.8h-0.8zM286.9 473.3h0.8v0.8h-0.8zM287.4 491.0h0.8v0.8h-0.8zM281.3 490.7h0.8v0.8h-0.8zM289.6 485.7h0.8v0.8h-0.8zM282.2 480.7h0.8v0.8h-0.8zM288.0 486.7h0.8v0.8h-0.8zM288.9 476.5h0.8v0.8h-0.8zM284.0 483.1h0.8v0.8h-0.8zM279.7 488.7h0.8v0.8h-0.8zM289.8 490.8h0.8v0.8h-0.8zM285.0 486.8h0.8v0.8h-0.8zM280.2 495.7h0.8v0.8h-0.8zM284.3 495.8h0.8v0.8h-0.8zM280.5 496.4h0.8v0.8h-0.8zM284.2 488.0h0.8v0.8h-0.8zM281.7 479.2h0.8v0.8h-0.8zM281.1 471.0h0.8v0.8h-0.8zM285.7 487.7h0.8v0.8h-0.8zM281.8 486.1h0.8v0.8h-0.8zM284.9 463.9h0.8v0.8h-0.8zM285.1 475.7h0.8v0.8h-0.8zM282.5 498.7h0.8v0.8h-0.8zM281.3 491.7h0.8v0.8h-0.8zM283.9 496.2h0.8v0.8h-0.8zM286.0 481.3h0.8v0.8h-0.8zM284.7 484.0h0.8v0.8h-0.8zM282.7 487.8h0.8v0.8h-0.8zM284.3 483.3h0.8v0.8h-0.8zM287.7 469.8h0.8v0.8h-0.8zM287.5 485.0h0.8v0.8h-0.8zM282.8 489.7h0.8v0.8h-0.8zM286.1 482.1h0.8v0.8h-0.8zM284.5 496.9h0.8v0.8h-0.8zM284.5 497.2h0.8v0.8h-0.8zM285.4 469.6h0.8v0.8h-0.8zM285.7 483.6h0.8v0.8h-0.8zM282.9 488.2h0.8v0.8h-0.8zM286.4 483.4h0.8v0.8h-0.8zM284.0 499.4h0.8v0.8h-0.8zM286.6 480.7h0.8v0.8h-0.8zM284.9 496.0h0.8v0.8h-0.8zM286.1 481.8h0.8v0.8h-0.8zM281.4 495.6h0.8v0.8h-0.8zM282.7 474.0h0.8v0.8h-0.8zM283.8 494.5h0.8v0.8h-0.8zM282.4 494.2h0.8v0.8h-0.8zM286.1 487.3h0.8v0.8h-0.8zM282.9 480.7h0.8v0.8h-0.8zM283.1 483.0h0.8v0.8h-0.8zM282.0 475.2h0.8v0.8h-0.8zM284.4 480.1h0.8v0.8h-0.8zM282.9 486.1h0.8v0.8h-0.8zM287.4 486.3h0.8v0.8h-0.8zM284.4 485.0h0.8v0.8h-0.8zM286.8 495.2h0.8v0.8h-0.8zM282.9 478.2h0.8v0.8h-0.8zM279.1 492.6h0.8v0.8h-0.8zM286.1 494.8h0.8v0.8h-0.8zM285.9 482.1h0.8v0.8h-0.8zM288.2 471.7h0.8v0.8h-0.8zM281.7 493.6h0.8v0.8h-0.8zM278.7 491.2h0.8v0.8h-0.8zM288.7 485.4h0.8v0.8h-0.8zM284.0 497.0h0.8v0.8h-0.8zM283.3 479.5h0.8v0.8h-0.8zM289.9 491.1h0.8v0.8h-0.8zM284.1 489.3h0.8v0.8h-0.8zM282.3 482.9h0.8v0.8h-0.8zM284.8 492.4h0.8v0.8h-0.8zM284.2 474.3h0.8v0.8h-0.8zM282.6 480.8h0.8v0.8h-0.8zM285.6 485.6h0.8v0.8h-0.8zM283.3 498.6h0.8v0.8h-0.8zM283.3 492.0h0.8v0.8h-0.8zM285.2 471.7h0.8v0.8h-0.8zM280.1 488.8h0.8v0.8h-0.8zM286.9 475.6h0.8v0.8h-0.8zM290.0 483.0h0.8v0.8h-0.8zM283.8 498.5h0.8v0.8h-0.8zM288.5 479.9h0.8v0.8h-0.8zM289.7 474.2h0.8v0.8h-0.8zM282.9 497.0h0.8v0.8h-0.8zM283.4 478.2h0.8v0.8h-0.8zM281.4 487.9h0.8v0.8h-0.8zM283.7 479.6h0.8v0.8h-0.8zM285.1 497.7h0.8v0.8h-0.8zM283.4 491.7h0.8v0.8h-0.8zM286.9 493.0h0.8v0.8h-0.8zM284.0 474.1h0.8v0.8h-0.8zM289.3 482.2h0.8v0.8h-0.8zM282.8 494.6h0.8v0.8h-0.8zM284.7 480.5h0.8v0.8h-0.8zM285.5 474.3h0.8v0.8h-0.8zM283.0 494.6h0.8v0.8h-0.8zM284.6 479.8h0.8v0.8h-0.8zM285.9 487.9h0.8v0.8h-0.8zM284.8 477.4h0.8v0.8h-0.8zM286.3 474.9h0.8v0.8h-0.8zM282.1 485.6h0.8v0.8h-0.8zM281.7 489.1h0.8v0.8h-0.8zM279.8 492.2h0.8v0.8h-0.8zM285.0 497.2h0.8v0.8h-0.8zM281.9 486.2h0.8v0.8h-0.8zM285.1 490.2h0.8v0.8h-0.8zM285.1 480.9h0.8v0.8h-0.8zM283.7 495.8h0.8v0.8h-0.8zM284.1 481.8h0.8v0.8h-0.8zM286.4 470.3h0.8v0.8h-0.8zM286.3 478.1h0.8v0.8h-0.8zM289.0 475.8h0.8v0.8h-0.8zM283.3 489.1h0.8v0.8h-0.8zM284.3 476.4h0.8v0.8h-0.8zM281.0 484.6h0.8v0.8h-0.8zM290.8 481.4h0.8v0.8h-0.8zM281.8 492.9h0.8v0.8h-0.8zM287.1 480.4h0.8v0.8h-0.8zM287.0 478.9h0.8v0.8h-0.8zM281.6 480.3h0.8v0.8h-0.8zM283.5 477.4h0.8v0.8h-0.8zM286.1 489.5h0.8v0.8h-0.8zM284.2 486.3h0.8v0.8h-0.8zM280.1 490.4h0.8v0.8h-0.8zM285.5 474.7h0.8v0.8h-0.8zM287.7 493.1h0.8v0.8h-0.8zM285.1 486.8h0.8v0.8h-0.8zM284.1 499.1h0.8v0.8h-0.8zM285.0 500.3h0.8v0.8h-0.8zM288.3 467.6h0.8v0.8h-0.8zM284.1 488.2h0.8v0.8h-0.8zM283.2 479.4h0.8v0.8h-0.8zM283.6 490.3h0.8v0.8h-0.8zM284.0 475.5h0.8v0.8h-0.8zM280.1 487.4h0.8v0.8h-0.8zM283.2 492.0h0.8v0.8h-0.8zM281.2 487.4h0.8v0.8h-0.8zM288.1 480.7h0.8v0.8h-0.8zM283.3 491.6h0.8v0.8h-0.8zM277.1 497.3h0.8v0.8h-0.8zM281.9 480.0h0.8v0.8h-0.8zM285.9 474.4h0.8v0.8h-0.8zM282.7 483.1h0.8v0.8h-0.8zM281.9 483.4h0.8v0.8h-0.8zM282.7 483.0h0.8v0.8h-0.8zM281.1 497.8h0.8v0.8h-0.8zM286.2 479.0h0.8v0.8h-0.8zM284.2 471.7h0.8v0.8h-0.8zM284.0 467.6h0.8v0.8h-0.8zM286.3 485.3h0.8v0.8h-0.8zM281.3 479.8h0.8v0.8h-0.8zM284.5 485.5h0.8v0.8h-0.8zM280.4 490.3h0.8v0.8h-0.8zM283.1 481.2h0.8v0.8h-0.8zM283.7 475.2h0.8v0.8h-0.8zM280.2 496.5h0.8v0.8h-0.8zM283.2 477.3h0.8v0.8h-0.8zM288.3 480.9h0.8v0.8h-0.8zM283.5 468.8h0.8v0.8h-0.8zM289.3 488.4h0.8v0.8h-0.8zM286.6 478.9h0.8v0.8h-0.8zM287.7 491.6h0.8v0.8h-0.8zM282.6 484.0h0.8v0.8h-0.8zM286.0 493.8h0.8v0.8h-0.8zM284.8 481.5h0.8v0.8h-0.8zM288.8 492.5h0.8v0.8h-0.8zM284.1 472.6h0.8v0.8h-0.8zM287.7 482.0h0.8v0.8h-0.8zM282.6 481.2h0.8v0.8h-0.8zM288.0 483.4h0.8v0.8h-0.8zM283.6 478.3h0.8v0.8h-0.8zM281.3 480.4h0.8v0.8h-0.8zM280.1 499.0h0.8v0.8h-0.8zM283.7 473.1h0.8v0.8h-0.8zM288.2 485.6h0.8v0.8h-0.8zM279.7 496.2h0.8v0.8h-0.8zM281.6 484.8h0.8v0.8h-0.8zM283.6 484.4h0.8v0.8h-0.8zM283.8 486.3h0.8v0.8h-0.8zM285.3 475.4h0.8v0.8h-0.8zM288.6 477.7h0.8v0.8h-0.8zM282.6 490.5h0.8v0.8h-0.8zM279.2 488.1h0.8v0.8h-0.8zM286.4 478.6h0.8v0.8h-0.8zM282.6 485.3h0.8v0.8h-0.8zM282.3 500.0h0.8v0.8h-0.8zM284.9 477.9h0.8v0.8h-0.8zM287.5 493.0h0.8v0.8h-0.8zM285.8 497.4h0.8v0.8h-0.8zM283.8 486.7h0.8v0.8h-0.8zM283.9 476.4h0.8v0.8h-0.8zM285.2 485.1h0.8v0.8h-0.8zM281.1 492.6h0.8v0.8h-0.8zM278.1 489.6h0.8v0.8h-0.8zM281.3 494.2h0.8v0.8h-0.8zM286.6 485.8h0.8v0.8h-0.8zM284.3 465.8h0.8v0.8h-0.8zM284.3 469.9h0.8v0.8h-0.8zM287.2 493.0h0.8v0.8h-0.8zM288.0 486.6h0.8v0.8h-0.8zM286.6 496.4h0.8v0.8h-0.8zM281.1 494.3h0.8v0.8h-0.8zM285.0 489.1h0.8v0.8h-0.8zM287.6 488.0h0.8v0.8h-0.8zM286.1 492.4h0.8v0.8h-0.8zM283.8 476.8h0.8v0.8h-0.8zM283.6 482.4h0.8v0.8h-0.8zM281.3 489.1h0.8v0.8h-0.8zM282.3 486.3h0.8v0.8h-0.8zM285.7 476.6h0.8v0.8h-0.8zM285.4 481.3h0.8v0.8h-0.8zM282.8 475.5h0.8v0.8h-0.8zM284.9 494.0h0.8v0.8h-0.8zM285.2 477.1h0.8v0.8h-0.8zM287.4 489.3h0.8v0.8h-0.8zM283.4 476.7h0.8v0.8h-0.8zM285.4 475.2h0.8v0.8h-0.8zM281.2 470.7h0.8v0.8h-0.8zM286.4 482.2h0.8v0.8h-0.8zM284.7 494.1h0.8v0.8h-0.8zM285.1 496.4h0.8v0.8h-0.8zM283.9 486.7h0.8v0.8h-0.8zM283.2 494.9h0.8v0.8h-0.8zM283.3 489.4h0.8v0.8h-0.8zM285.6 498.3h0.8v0.8h-0.8zM282.2 478.0h0.8v0.8h-0.8zM284.3 479.4h0.8v0.8h-0.8zM286.2 479.8h0.8v0.8h-0.8zM282.3 493.6h0.8v0.8h-0.8zM280.8 497.3h0.8v0.8h-0.8zM282.5 492.3h0.8v0.8h-0.8zM283.6 498.4h0.8v0.8h-0.8zM287.1 465.9h0.8v0.8h-0.8zM283.6 476.5h0.8v0.8h-0.8zM279.7 476.1h0.8v0.8h-0.8zM287.3 481.4h0.8v0.8h-0.8zM284.3 482.4h0.8v0.8h-0.8zM285.9 483.3h0.8v0.8h-0.8zM284.6 476.3h0.8v0.8h-0.8zM283.8 486.3h0.8v0.8h-0.8zM277.8 489.5h0.8v0.8h-0.8zM284.8 493.4h0.8v0.8h-0.8zM282.2 476.1h0.8v0.8h-0.8zM283.9 499.9h0.8v0.8h-0.8zM279.4 479.5h0.8v0.8h-0.8zM287.4 483.7h0.8v0.8h-0.8zM282.6 496.1h0.8v0.8h-0.8zM279.3 476.0h0.8v0.8h-0.8zM284.3 483.8h0.8v0.8h-0.8zM284.5 482.0h0.8v0.8h-0.8zM285.2 473.5h0.8v0.8h-0.8zM283.1 470.9h0.8v0.8h-0.8zM290.3 478.0h0.8v0.8h-0.8zM282.3 486.1h0.8v0.8h-0.8zM286.8 471.0h0.8v0.8h-0.8zM278.3 477.7h0.8v0.8h-0.8zM284.3 497.6h0.8v0.8h-0.8zM285.2 485.4h0.8v0.8h-0.8zM284.3 479.9h0.8v0.8h-0.8zM285.0 499.5h0.8v0.8h-0.8zM281.5 490.8h0.8v0.8h-0.8zM285.4 481.8h0.8v0.8h-0.8zM282.9 494.3h0.8v0.8h-0.8zM285.5 470.3h0.8v0.8h-0.8zM281.5 481.1h0.8v0.8h-0.8zM284.2 498.0h0.8v0.8h-0.8zM285.3 486.4h0.8v0.8h-0.8zM285.6 473.8h0.8v0.8h-0.8zM285.6 473.4h0.8v0.8h-0.8zM282.0 497.6h0.8v0.8h-0.8zM282.4 482.7h0.8v0.8h-0.8zM282.4 495.6h0.8v0.8h-0.8zM285.5 479.4h0.8v0.8h-0.8zM280.0 487.8h0.8v0.8h-0.8zM284.3 478.9h0.8v0.8h-0.8zM287.1 494.4h0.8v0.8h-0.8zM285.2 492.8h0.8v0.8h-0.8zM281.0 499.0h0.8v0.8h-0.8zM287.4 485.5h0.8v0.8h-0.8zM278.6 492.0h0.8v0.8h-0.8zM284.6 473.6h0.8v0.8h-0.8zM286.9 488.4h0.8v0.8h-0.8zM285.2 491.5h0.8v0.8h-0.8zM284.3 491.6h0.8v0.8h-0.8zM281.7 480.0h0.8v0.8h-0.8zM282.9 468.0h0.8v0.8h-0.8zM285.1 488.5h0.8v0.8h-0.8zM284.1 491.9h0.8v0.8h-0.8zM288.6 486.6h0.8v0.8h-0.8zM283.3 477.1h0.8v0.8h-0.8zM281.0 483.4h0.8v0.8h-0.8zM283.1 478.5h0.8v0.8h-0.8zM278.4 495.3h0.8v0.8h-0.8zM282.3 490.0h0.8v0.8h-0.8zM283.3 488.4h0.8v0.8h-0.8zM282.7 491.0h0.8v0.8h-0.8zM285.8 499.8h0.8v0.8h-0.8zM286.7 498.4h0.8v0.8h-0.8zM284.7 467.4h0.8v0.8h-0.8zM284.0 471.0h0.8v0.8h-0.8zM284.4 501.4h0.8v0.8h-0.8zM287.1 482.5h0.8v0.8h-0.8zM279.7 491.3h0.8v0.8h-0.8zM282.0 482.7h0.8v0.8h-0.8zM281.0 492.9h0.8v0.8h-0.8zM279.6 491.7h0.8v0.8h-0.8zM282.8 480.5h0.8v0.8h-0.8zM279.6 491.1h0.8v0.8h-0.8zM286.3 469.0h0.8v0.8h-0.8zM285.9 471.0h0.8v0.8h-0.8zM278.8 486.0h0.8v0.8h-0.8zM281.4 496.7h0.8v0.8h-0.8zM281.8 501.4h0.8v0.8h-0.8zM287.6 471.1h0.8v0.8h-0.8zM282.5 481.4h0.8v0.8h-0.8zM286.8 475.4h0.8v0.8h-0.8zM287.1 495.6h0.8v0.8h-0.8zM281.6 483.2h0.8v0.8h-0.8zM285.8 481.1h0.8v0.8h-0.8zM284.3 484.2h0.8v0.8h-0.8zM286.7 482.8h0.8v0.8h-0.8zM279.8 486.4h0.8v0.8h-0.8zM284.2 473.1h0.8v0.8h-0.8zM281.4 473.8h0.8v0.8h-0.8zM286.5 479.7h0.8v0.8h-0.8zM280.4 475.0h0.8v0.8h-0.8zM283.0 498.7h0.8v0.8h-0.8zM281.0 476.2h0.8v0.8h-0.8zM281.2 495.8h0.8v0.8h-0.8zM282.1 480.6h0.8v0.8h-0.8zM282.8 500.9h0.8v0.8h-0.8zM286.1 476.0h0.8v0.8h-0.8zM287.1 487.6h0.8v0.8h-0.8zM287.5 490.6h0.8v0.8h-0.8zM285.3 469.3h0.8v0.8h-0.8zM280.6 486.9h0.8v0.8h-0.8zM287.5 485.7h0.8v0.8h-0.8zM279.9 493.1h0.8v0.8h-0.8zM284.3 482.4h0.8v0.8h-0.8zM281.9 485.6h0.8v0.8h-0.8zM284.2 469.2h0.8v0.8h-0.8zM284.0 490.3h0.8v0.8h-0.8zM280.6 498.7h0.8v0.8h-0.8zM283.0 492.5h0.8v0.8h-0.8zM283.0 493.0h0.8v0.8h-0.8zM286.4 491.8h0.8v0.8h-0.8zM287.6 478.7h0.8v0.8h-0.8zM284.8 497.5h0.8v0.8h-0.8zM285.2 473.2h0.8v0.8h-0.8zM289.0 485.1h0.8v0.8h-0.8zM285.9 493.6h0.8v0.8h-0.8zM279.8 491.2h0.8v0.8h-0.8zM285.5 479.1h0.8v0.8h-0.8zM285.8 480.5h0.8v0.8h-0.8zM281.4 486.7h0.8v0.8h-0.8zM285.0 482.7h0.8v0.8h-0.8zM284.1 475.8h0.8v0.8h-0.8zM282.1 479.9h0.8v0.8h-0.8zM283.6 491.5h0.8v0.8h-0.8zM282.3 484.7h0.8v0.8h-0.8zM280.4 486.0h0.8v0.8h-0.8zM285.0 474.8h0.8v0.8h-0.8zM282.3 469.1h0.8v0.8h-0.8zM285.9 496.4h0.8v0.8h-0.8zM282.3 494.3h0.8v0.8h-0.8zM284.3 485.5h0.8v0.8h-0.8zM286.5 489.4h0.8v0.8h-0.8zM286.4 489.8h0.8v0.8h-0.8zM283.3 484.5h0.8v0.8h-0.8zM285.8 474.0h0.8v0.8h-0.8zM286.8 468.9h0.8v0.8h-0.8zM287.5 491.6h0.8v0.8h-0.8zM281.1 493.6h0.8v0.8h-0.8zM285.7 472.2h0.8v0.8h-0.8zM280.3 493.4h0.8v0.8h-0.8zM283.9 468.4h0.8v0.8h-0.8zM282.9 495.4h0.8v0.8h-0.8zM283.3 485.8h0.8v0.8h-0.8zM280.8 485.6h0.8v0.8h-0.8zM281.5 501.5h0.8v0.8h-0.8zM283.1 491.5h0.8v0.8h-0.8zM279.6 486.5h0.8v0.8h-0.8zM283.5 494.4h0.8v0.8h-0.8zM280.5 484.5h0.8v0.8h-0.8zM288.4 480.2h0.8v0.8h-0.8zM283.7 493.1h0.8v0.8h-0.8zM285.2 493.6h0.8v0.8h-0.8zM282.4 488.5h0.8v0.8h-0.8zM287.5 479.9h0.8v0.8h-0.8zM283.7 499.8h0.8v0.8h-0.8zM285.2 493.3h0.8v0.8h-0.8zM285.0 476.7h0.8v0.8h-0.8zM285.3 489.4h0.8v0.8h-0.8zM283.3 487.7h0.8v0.8h-0.8zM286.2 470.8h0.8v0.8h-0.8zM282.5 490.0h0.8v0.8h-0.8zM284.3 473.2h0.8v0.8h-0.8zM283.9 489.9h0.8v0.8h-0.8zM283.8 489.1h0.8v0.8h-0.8zM282.9 495.5h0.8v0.8h-0.8zM282.3 480.3h0.8v0.8h-0.8zM282.9 487.6h0.8v0.8h-0.8zM286.1 491.2h0.8v0.8h-0.8zM285.3 471.1h0.8v0.8h-0.8zM285.5 477.6h0.8v0.8h-0.8zM282.1 488.2h0.8v0.8h-0.8zM286.7 494.7h0.8v0.8h-0.8zM283.5 483.9h0.8v0.8h-0.8zM284.1 498.2h0.8v0.8h-0.8zM282.7 501.4h0.8v0.8h-0.8zM287.6 483.1h0.8v0.8h-0.8zM279.7 482.3h0.8v0.8h-0.8zM277.2 489.4h0.8v0.8h-0.8zM282.4 489.3h0.8v0.8h-0.8zM276.8 496.5h0.8v0.8h-0.8zM282.6 477.7h0.8v0.8h-0.8zM281.1 496.8h0.8v0.8h-0.8zM283.1 485.1h0.8v0.8h-0.8zM286.1 480.6h0.8v0.8h-0.8zM280.2 482.9h0.8v0.8h-0.8zM285.9 478.2h0.8v0.8h-0.8zM287.8 480.4h0.8v0.8h-0.8zM287.8 492.1h0.8v0.8h-0.8zM281.0 482.2h0.8v0.8h-0.8zM282.1 495.7h0.8v0.8h-0.8zM289.2 489.7h0.8v0.8h-0.8zM281.2 483.3h0.8v0.8h-0.8zM287.4 483.2h0.8v0.8h-0.8zM284.8 487.7h0.8v0.8h-0.8zM285.3 488.2h0.8v0.8h-0.8zM279.7 480.8h0.8v0.8h-0.8zM283.0 468.7h0.8v0.8h-0.8zM281.1 487.4h0.8v0.8h-0.8zM286.1 481.2h0.8v0.8h-0.8zM285.5 492.4h0.8v0.8h-0.8zM281.0 495.6h0.8v0.8h-0.8zM285.1 481.8h0.8v0.8h-0.8zM284.6 482.2h0.8v0.8h-0.8zM281.2 500.1h0.8v0.8h-0.8zM280.2 492.7h0.8v0.8h-0.8zM277.7 492.6h0.8v0.8h-0.8zM281.4 479.0h0.8v0.8h-0.8zM280.9 496.9h0.8v0.8h-0.8zM287.1 487.9h0.8v0.8h-0.8zM286.2 485.0h0.8v0.8h-0.8zM283.9 479.0h0.8v0.8h-0.8zM284.1 490.4h0.8v0.8h-0.8zM280.7 492.8h0.8v0.8h-0.8zM277.1 483.6h0.8v0.8h-0.8zM283.8 492.0h0.8v0.8h-0.8zM284.8 490.3h0.8v0.8h-0.8zM282.0 480.0h0.8v0.8h-0.8zM286.8 490.1h0.8v0.8h-0.8zM287.1 474.6h0.8v0.8h-0.8zM286.0 485.8h0.8v0.8h-0.8zM278.0 486.0h0.8v0.8h-0.8zM283.2 491.6h0.8v0.8h-0.8zM284.8 491.9h0.8v0.8h-0.8zM280.8 487.6h0.8v0.8h-0.8zM284.3 468.1h0.8v0.8h-0.8zM286.7 475.3h0.8v0.8h-0.8zM289.5 488.6h0.8v0.8h-0.8zM285.0 495.1h0.8v0.8h-0.8zM285.4 472.0h0.8v0.8h-0.8zM281.6 493.0h0.8v0.8h-0.8zM280.5 485.8h0.8v0.8h-0.8zM280.6 489.9h0.8v0.8h-0.8zM285.7 469.2h0.8v0.8h-0.8zM282.5 483.3h0.8v0.8h-0.8zM286.0 497.2h0.8v0.8h-0.8zM281.5 475.8h0.8v0.8h-0.8zM281.5 478.0h0.8v0.8h-0.8zM283.9 483.1h0.8v0.8h-0.8zM284.4 485.3h0.8v0.8h-0.8zM285.3 470.9h0.8v0.8h-0.8zM282.7 472.9h0.8v0.8h-0.8zM281.4 488.1h0.8v0.8h-0.8zM286.1 464.9h0.8v0.8h-0.8zM283.5 479.0h0.8v0.8h-0.8zM283.2 479.7h0.8v0.8h-0.8zM286.3 479.1h0.8v0.8h-0.8zM284.0 496.9h0.8v0.8h-0.8zM284.7 478.0h0.8v0.8h-0.8zM288.6 489.3h0.8v0.8h-0.8zM281.3 477.4h0.8v0.8h-0.8zM283.9 496.9h0.8v0.8h-0.8zM281.6 491.5h0.8v0.8h-0.8zM287.3 478.0h0.8v0.8h-0.8zM280.9 487.5h0.8v0.8h-0.8zM285.7 487.1h0.8v0.8h-0.8zM284.7 465.8h0.8v0.8h-0.8zM289.7 495.0h0.8v0.8h-0.8zM285.2 479.4h0.8v0.8h-0.8zM290.0 490.5h0.8v0.8h-0.8zM283.6 473.7h0.8v0.8h-0.8zM282.3 484.9h0.8v0.8h-0.8zM285.3 482.5h0.8v0.8h-0.8zM278.4 490.8h0.8v0.8h-0.8zM281.9 480.0h0.8v0.8h-0.8zM288.3 474.2h0.8v0.8h-0.8zM287.6 479.6h0.8v0.8h-0.8zM284.7 471.6h0.8v0.8h-0.8zM284.6 500.4h0.8v0.8h-0.8zM285.6 481.7h0.8v0.8h-0.8zM284.3 495.7h0.8v0.8h-0.8zM281.1 485.9h0.8v0.8h-0.8zM285.3 497.2h0.8v0.8h-0.8zM282.3 485.4h0.8v0.8h-0.8zM288.5 477.1h0.8v0.8h-0.8zM281.9 479.0h0.8v0.8h-0.8zM291.3 483.6h0.8v0.8h-0.8zM283.5 474.7h0.8v0.8h-0.8zM279.5 489.4h0.8v0.8h-0.8zM282.9 472.2h0.8v0.8h-0.8zM285.1 485.1h0.8v0.8h-0.8zM284.7 486.8h0.8v0.8h-0.8zM281.5 498.3h0.8v0.8h-0.8zM286.3 483.8h0.8v0.8h-0.8zM288.0 495.5h0.8v0.8h-0.8zM284.3 485.7h0.8v0.8h-0.8zM286.0 488.6h0.8v0.8h-0.8zM285.6 494.2h0.8v0.8h-0.8zM286.4 486.7h0.8v0.8h-0.8zM279.3 498.4h0.8v0.8h-0.8zM287.0 495.6h0.8v0.8h-0.8zM284.2 483.0h0.8v0.8h-0.8zM283.9 491.4h0.8v0.8h-0.8zM287.9 476.4h0.8v0.8h-0.8zM277.6 478.9h0.8v0.8h-0.8zM285.3 495.3h0.8v0.8h-0.8zM285.5 480.3h0.8v0.8h-0.8zM287.1 497.2h0.8v0.8h-0.8zM285.9 476.6h0.8v0.8h-0.8zM288.1 485.3h0.8v0.8h-0.8zM287.6 477.3h0.8v0.8h-0.8zM280.1 491.1h0.8v0.8h-0.8zM283.5 489.8h0.8v0.8h-0.8zM282.6 480.8h0.8v0.8h-0.8zM284.8 476.6h0.8v0.8h-0.8zM281.0 497.6h0.8v0.8h-0.8zM279.1 489.8h0.8v0.8h-0.8zM283.4 488.2h0.8v0.8h-0.8zM282.6 490.7h0.8v0.8h-0.8zM285.8 466.3h0.8v0.8h-0.8zM288.8 474.1h0.8v0.8h-0.8zM282.3 494.5h0.8v0.8h-0.8zM283.8 481.8h0.8v0.8h-0.8zM287.0 491.6h0.8v0.8h-0.8zM285.6 495.9h0.8v0.8h-0.8zM279.4 497.7h0.8v0.8h-0.8zM282.8 500.2h0.8v0.8h-0.8zM279.3 495.6h0.8v0.8h-0.8zM282.1 480.3h0.8v0.8h-0.8zM281.9 492.5h0.8v0.8h-0.8zM282.9 491.1h0.8v0.8h-0.8zM283.2 483.5h0.8v0.8h-0.8zM283.7 493.8h0.8v0.8h-0.8zM284.9 484.0h0.8v0.8h-0.8zM288.6 476.7h0.8v0.8h-0.8zM285.9 487.8h0.8v0.8h-0.8zM282.4 475.2h0.8v0.8h-0.8zM286.0 497.6h0.8v0.8h-0.8zM285.6 473.8h0.8v0.8h-0.8zM281.1 480.6h0.8v0.8h-0.8zM281.3 482.7h0.8v0.8h-0.8zM285.0 474.6h0.8v0.8h-0.8zM284.3 483.4h0.8v0.8h-0.8zM284.9 484.6h0.8v0.8h-0.8zM282.8 468.8h0.8v0.8h-0.8zM284.3 473.0h0.8v0.8h-0.8zM289.8 485.8h0.8v0.8h-0.8zM279.5 480.6h0.8v0.8h-0.8zM279.5 494.3h0.8v0.8h-0.8zM285.1 470.4h0.8v0.8h-0.8zM283.6 497.0h0.8v0.8h-0.8zM283.5 474.7h0.8v0.8h-0.8zM285.3 471.2h0.8v0.8h-0.8zM283.4 486.0h0.8v0.8h-0.8zM280.8 496.6h0.8v0.8h-0.8zM283.3 488.3h0.8v0.8h-0.8zM283.8 477.4h0.8v0.8h-0.8zM284.5 487.8h0.8v0.8h-0.8zM285.7 486.0h0.8v0.8h-0.8zM283.3 471.3h0.8v0.8h-0.8zM283.3 486.9h0.8v0.8h-0.8zM280.2 493.1h0.8v0.8h-0.8zM282.1 492.4h0.8v0.8h-0.8zM284.5 481.4h0.8v0.8h-0.8zM286.2 480.4h0.8v0.8h-0.8zM281.7 483.6h0.8v0.8h-0.8zM285.4 487.0h0.8v0.8h-0.8zM284.7 472.9h0.8v0.8h-0.8zM284.0 476.4h0.8v0.8h-0.8zM284.2 475.1h0.8v0.8h-0.8zM281.6 489.1h0.8v0.8h-0.8zM284.5 488.3h0.8v0.8h-0.8zM279.8 495.8h0.8v0.8h-0.8zM285.6 479.6h0.8v0.8h-0.8zM282.6 482.2h0.8v0.8h-0.8zM284.8 500.9h0.8v0.8h-0.8zM282.8 481.2h0.8v0.8h-0.8zM284.3 488.9h0.8v0.8h-0.8zM286.4 477.2h0.8v0.8h-0.8zM285.3 492.4h0.8v0.8h-0.8zM288.3 474.9h0.8v0.8h-0.8zM287.5 493.6h0.8v0.8h-0.8zM283.8 481.6h0.8v0.8h-0.8zM282.0 489.9h0.8v0.8h-0.8zM287.4 491.3h0.8v0.8h-0.8zM285.7 478.7h0.8v0.8h-0.8zM284.2 479.9h0.8v0.8h-0.8zM285.2 470.1h0.8v0.8h-0.8zM286.6 483.8h0.8v0.8h-0.8zM286.4 483.6h0.8v0.8h-0.8zM277.5 487.5h0.8v0.8h-0.8zM283.1 475.3h0.8v0.8h-0.8zM283.1 479.6h0.8v0.8h-0.8zM281.5 481.5h0.8v0.8h-0.8zM286.9 489.4h0.8v0.8h-0.8zM287.9 480.5h0.8v0.8h-0.8zM283.1 491.4h0.8v0.8h-0.8zM288.1 486.2h0.8v0.8h-0.8zM282.6 491.7h0.8v0.8h-0.8zM287.4 491.8h0.8v0.8h-0.8zM286.9 479.1h0.8v0.8h-0.8zM284.1 492.6h0.8v0.8h-0.8zM286.0 483.3h0.8v0.8h-0.8zM282.2 493.6h0.8v0.8h-0.8zM287.5 486.4h0.8v0.8h-0.8zM282.6 493.2h0.8v0.8h-0.8zM285.9 486.6h0.8v0.8h-0.8zM283.6 473.7h0.8v0.8h-0.8zM282.2 485.3h0.8v0.8h-0.8zM285.7 472.1h0.8v0.8h-0.8zM284.2 492.5h0.8v0.8h-0.8zM287.0 494.2h0.8v0.8h-0.8zM285.0 473.1h0.8v0.8h-0.8zM284.8 492.0h0.8v0.8h-0.8zM285.6 484.7h0.8v0.8h-0.8zM290.0 489.5h0.8v0.8h-0.8zM284.5 489.3h0.8v0.8h-0.8zM281.9 480.2h0.8v0.8h-0.8zM279.7 493.7h0.8v0.8h-0.8zM284.9 467.6h0.8v0.8h-0.8zM283.0 500.6h0.8v0.8h-0.8zM281.0 484.0h0.8v0.8h-0.8zM280.4 497.5h0.8v0.8h-0.8zM282.4 477.7h0.8v0.8h-0.8zM283.1 495.0h0.8v0.8h-0.8zM286.2 479.4h0.8v0.8h-0.8zM281.2 494.9h0.8v0.8h-0.8zM280.9 491.6h0.8v0.8h-0.8zM286.1 496.0h0.8v0.8h-0.8zM288.6 490.0h0.8v0.8h-0.8zM286.1 474.4h0.8v0.8h-0.8zM283.7 473.2h0.8v0.8h-0.8zM281.6 489.9h0.8v0.8h-0.8zM285.1 492.3h0.8v0.8h-0.8zM278.5 494.6h0.8v0.8h-0.8zM278.5 490.2h0.8v0.8h-0.8zM284.5 499.0h0.8v0.8h-0.8zM280.2 480.5h0.8v0.8h-0.8zM281.9 481.7h0.8v0.8h-0.8zM288.8 471.7h0.8v0.8h-0.8zM281.6 494.4h0.8v0.8h-0.8zM287.9 479.0h0.8v0.8h-0.8zM282.3 490.9h0.8v0.8h-0.8zM280.0 489.4h0.8v0.8h-0.8zM284.4 491.4h0.8v0.8h-0.8zM283.3 486.1h0.8v0.8h-0.8zM286.6 473.5h0.8v0.8h-0.8zM279.2 495.0h0.8v0.8h-0.8zM283.8 498.4h0.8v0.8h-0.8zM285.3 474.2h0.8v0.8h-0.8zM284.1 499.9h0.8v0.8h-0.8zM284.2 488.8h0.8v0.8h-0.8zM280.5 493.5h0.8v0.8h-0.8zM286.2 495.9h0.8v0.8h-0.8zM285.6 493.2h0.8v0.8h-0.8zM286.6 484.5h0.8v0.8h-0.8zM285.2 490.1h0.8v0.8h-0.8zM285.7 471.6h0.8v0.8h-0.8zM282.5 482.8h0.8v0.8h-0.8zM278.9 484.3h0.8v0.8h-0.8zM283.2 466.3h0.8v0.8h-0.8zM282.7 493.3h0.8v0.8h-0.8zM277.0 492.7h0.8v0.8h-0.8zM282.1 484.5h0.8v0.8h-0.8zM286.7 480.0h0.8v0.8h-0.8zM282.9 473.4h0.8v0.8h-0.8zM286.4 499.0h0.8v0.8h-0.8zM281.1 474.4h0.8v0.8h-0.8zM286.2 471.2h0.8v0.8h-0.8zM278.7 481.9h0.8v0.8h-0.8zM283.5 498.1h0.8v0.8h-0.8zM287.9 470.7h0.8v0.8h-0.8zM284.3 472.4h0.8v0.8h-0.8zM280.8 480.4h0.8v0.8h-0.8zM280.6 484.2h0.8v0.8h-0.8zM284.9 491.8h0.8v0.8h-0.8zM286.6 479.4h0.8v0.8h-0.8zM285.1 483.2h0.8v0.8h-0.8zM281.6 493.6h0.8v0.8h-0.8zM281.5 478.6h0.8v0.8h-0.8zM282.2 478.7h0.8v0.8h-0.8zM280.2 494.0h0.8v0.8h-0.8zM278.5 491.2h0.8v0.8h-0.8zM285.0 498.3h0.8v0.8h-0.8zM286.3 493.8h0.8v0.8h-0.8zM287.1 490.0h0.8v0.8h-0.8zM288.3 472.6h0.8v0.8h-0.8zM283.3 474.0h0.8v0.8h-0.8zM279.3 479.1h0.8v0.8h-0.8zM283.6 492.5h0.8v0.8h-0.8zM283.2 481.6h0.8v0.8h-0.8zM282.8 471.5h0.8v0.8h-0.8zM283.3 499.8h0.8v0.8h-0.8zM282.6 482.7h0.8v0.8h-0.8zM286.1 471.0h0.8v0.8h-0.8zM284.1 492.3h0.8v0.8h-0.8zM280.5 491.0h0.8v0.8h-0.8zM284.0 480.8h0.8v0.8h-0.8zM283.4 474.7h0.8v0.8h-0.8zM283.9 491.7h0.8v0.8h-0.8zM284.7 472.0h0.8v0.8h-0.8zM280.1 491.4h0.8v0.8h-0.8zM284.6 486.1h0.8v0.8h-0.8zM282.1 496.7h0.8v0.8h-0.8zM283.4 481.9h0.8v0.8h-0.8zM283.0 495.4h0.8v0.8h-0.8zM289.7 488.3h0.8v0.8h-0.8zM285.0 481.2h0.8v0.8h-0.8zM282.4 489.9h0.8v0.8h-0.8zM282.0 482.9h0.8v0.8h-0.8zM279.1 482.6h0.8v0.8h-0.8zM284.2 478.5h0.8v0.8h-0.8zM283.3 487.3h0.8v0.8h-0.8zM282.1 483.9h0.8v0.8h-0.8zM285.9 482.6h0.8v0.8h-0.8zM285.6 470.1h0.8v0.8h-0.8zM284.3 496.4h0.8v0.8h-0.8zM283.5 479.8h0.8v0.8h-0.8zM285.3 499.6h0.8v0.8h-0.8zM285.8 478.1h0.8v0.8h-0.8zM284.2 466.0h0.8v0.8h-0.8zM282.6 499.3h0.8v0.8h-0.8zM286.1 489.7h0.8v0.8h-0.8zM281.2 492.4h0.8v0.8h-0.8zM287.4 483.4h0.8v0.8h-0.8zM284.5 462.9h0.8v0.8h-0.8zM278.0 492.7h0.8v0.8h-0.8zM284.5 496.9h0.8v0.8h-0.8zM282.3 484.2h0.8v0.8h-0.8zM284.9 473.4h0.8v0.8h-0.8zM283.7 481.1h0.8v0.8h-0.8zM285.1 497.8h0.8v0.8h-0.8zM285.0 466.9h0.8v0.8h-0.8zM286.3 482.7h0.8v0.8h-0.8zM282.5 476.4h0.8v0.8h-0.8zM283.2 491.9h0.8v0.8h-0.8zM281.3 493.2h0.8v0.8h-0.8zM283.5 485.8h0.8v0.8h-0.8zM289.3 491.1h0.8v0.8h-0.8zM281.2 499.5h0.8v0.8h-0.8zM285.2 480.5h0.8v0.8h-0.8zM282.4 486.6h0.8v0.8h-0.8zM283.9 494.7h0.8v0.8h-0.8zM283.0 473.5h0.8v0.8h-0.8zM281.4 492.4h0.8v0.8h-0.8zM279.4 480.4h0.8v0.8h-0.8zM287.5 478.9h0.8v0.8h-0.8zM284.6 475.9h0.8v0.8h-0.8zM284.3 485.0h0.8v0.8h-0.8zM279.3 488.5h0.8v0.8h-0.8zM288.2 480.5h0.8v0.8h-0.8zM286.6 486.5h0.8v0.8h-0.8zM283.7 475.2h0.8v0.8h-0.8zM284.0 488.7h0.8v0.8h-0.8zM282.8 484.8h0.8v0.8h-0.8zM286.7 472.7h0.8v0.8h-0.8zM277.1 486.6h0.8v0.8h-0.8zM283.7 488.6h0.8v0.8h-0.8zM284.6 482.2h0.8v0.8h-0.8zM285.9 486.1h0.8v0.8h-0.8zM280.4 487.0h0.8v0.8h-0.8zM281.5 485.0h0.8v0.8h-0.8zM282.4 474.0h0.8v0.8h-0.8zM286.5 469.8h0.8v0.8h-0.8zM285.1 482.4h0.8v0.8h-0.8zM286.3 489.8h0.8v0.8h-0.8zM285.1 493.7h0.8v0.8h-0.8zM285.5 486.2h0.8v0.8h-0.8zM280.3 485.7h0.8v0.8h-0.8zM282.6 490.3h0.8v0.8h-0.8zM287.9 481.1h0.8v0.8h-0.8zM283.7 497.0h0.8v0.8h-0.8zM281.0 485.4h0.8v0.8h-0.8zM281.9 481.4h0.8v0.8h-0.8zM281.9 496.6h0.8v0.8h-0.8zM283.7 480.1h0.8v0.8h-0.8zM283.9 488.2h0.8v0.8h-0.8zM284.3 481.7h0.8v0.8h-0.8zM283.9 497.6h0.8v0.8h-0.8zM286.5 489.6h0.8v0.8h-0.8zM286.2 471.1h0.8v0.8h-0.8zM280.4 491.2h0.8v0.8h-0.8zM289.8 477.7h0.8v0.8h-0.8zM283.1 487.2h0.8v0.8h-0.8zM281.5 489.5h0.8v0.8h-0.8zM286.6 490.5h0.8v0.8h-0.8zM287.1 492.7h0.8v0.8h-0.8zM285.2 486.9h0.8v0.8h-0.8zM287.2 490.6h0.8v0.8h-0.8zM285.0 468.5h0.8v0.8h-0.8zM283.4 487.6h0.8v0.8h-0.8zM280.4 488.8h0.8v0.8h-0.8zM285.6 496.3h0.8v0.8h-0.8zM284.8 483.4h0.8v0.8h-0.8zM288.5 473.4h0.8v0.8h-0.8zM283.0 487.4h0.8v0.8h-0.8zM287.5 483.6h0.8v0.8h-0.8zM284.2 487.3h0.8v0.8h-0.8zM288.4 471.6h0.8v0.8h-0.8zM285.3 473.2h0.8v0.8h-0.8zM288.1 487.5h0.8v0.8h-0.8zM280.8 491.4h0.8v0.8h-0.8zM282.7 488.5h0.8v0.8h-0.8zM283.2 481.0h0.8v0.8h-0.8zM286.9 488.8h0.8v0.8h-0.8zM278.1 495.1h0.8v0.8h-0.8zM280.4 494.2h0.8v0.8h-0.8zM284.0 494.3h0.8v0.8h-0.8zM284.0 485.6h0.8v0.8h-0.8zM283.0 498.0h0.8v0.8h-0.8zM285.7 482.1h0.8v0.8h-0.8zM282.6 500.6h0.8v0.8h-0.8zM286.6 475.4h0.8v0.8h-0.8zM287.6 471.6h0.8v0.8h-0.8zM282.7 477.0h0.8v0.8h-0.8zM287.5 488.3h0.8v0.8h-0.8zM281.3 495.2h0.8v0.8h-0.8zM281.9 476.2h0.8v0.8h-0.8zM283.7 486.7h0.8v0.8h-0.8zM285.0 469.7h0.8v0.8h-0.8zM285.0 483.2h0.8v0.8h-0.8zM280.2 492.0h0.8v0.8h-0.8zM283.0 492.7h0.8v0.8h-0.8zM281.7 492.3h0.8v0.8h-0.8zM286.8 486.9h0.8v0.8h-0.8zM285.2 470.4h0.8v0.8h-0.8zM281.6 490.2h0.8v0.8h-0.8zM280.4 491.9h0.8v0.8h-0.8zM284.1 482.8h0.8v0.8h-0.8zM286.2 499.5h0.8v0.8h-0.8zM278.4 491.3h0.8v0.8h-0.8zM281.7 487.1h0.8v0.8h-0.8zM287.3 471.3h0.8v0.8h-0.8zM286.7 468.9h0.8v0.8h-0.8zM283.2 486.1h0.8v0.8h-0.8zM283.4 486.5h0.8v0.8h-0.8zM282.2 488.6h0.8v0.8h-0.8zM280.8 489.3h0.8v0.8h-0.8zM282.4 493.8h0.8v0.8h-0.8zM284.9 489.9h0.8v0.8h-0.8zM285.5 478.7h0.8v0.8h-0.8zM280.2 481.7h0.8v0.8h-0.8zM283.5 483.2h0.8v0.8h-0.8zM282.6 481.1h0.8v0.8h-0.8zM285.8 497.3h0.8v0.8h-0.8zM281.5 476.6h0.8v0.8h-0.8zM281.8 477.7h0.8v0.8h-0.8zM279.7 488.0h0.8v0.8h-0.8zM294.0 479.6h0.8v0.8h-0.8zM289.2 481.3h0.8v0.8h-0.8zM283.2 486.6h0.8v0.8h-0.8zM285.9 493.3h0.8v0.8h-0.8zM278.8 494.3h0.8v0.8h-0.8zM283.2 486.3h0.8v0.8h-0.8zM288.9 495.5h0.8v0.8h-0.8zM283.8 482.6h0.8v0.8h-0.8zM281.6 476.6h0.8v0.8h-0.8zM282.0 487.0h0.8v0.8h-0.8zM281.7 492.8h0.8v0.8h-0.8zM285.0 467.9h0.8v0.8h-0.8zM283.3 487.1h0.8v0.8h-0.8zM283.8 475.5h0.8v0.8h-0.8zM279.0 490.1h0.8v0.8h-0.8zM282.8 499.6h0.8v0.8h-0.8zM283.2 493.1h0.8v0.8h-0.8zM278.8 491.3h0.8v0.8h-0.8zM285.2 488.8h0.8v0.8h-0.8zM282.7 494.7h0.8v0.8h-0.8zM288.4 490.9h0.8v0.8h-0.8zM285.3 485.7h0.8v0.8h-0.8zM282.5 482.1h0.8v0.8h-0.8zM282.1 480.2h0.8v0.8h-0.8zM288.2 492.5h0.8v0.8h-0.8zM287.5 473.2h0.8v0.8h-0.8zM285.6 484.9h0.8v0.8h-0.8zM286.8 481.6h0.8v0.8h-0.8zM280.1 485.5h0.8v0.8h-0.8zM287.5 484.2h0.8v0.8h-0.8zM284.2 480.0h0.8v0.8h-0.8zM284.8 476.9h0.8v0.8h-0.8zM285.6 497.1h0.8v0.8h-0.8zM286.3 475.9h0.8v0.8h-0.8zM280.3 481.5h0.8v0.8h-0.8zM286.6 475.2h0.8v0.8h-0.8zM284.4 477.9h0.8v0.8h-0.8zM287.5 486.8h0.8v0.8h-0.8zM285.3 479.9h0.8v0.8h-0.8zM286.5 476.3h0.8v0.8h-0.8zM281.0 493.2h0.8v0.8h-0.8zM282.1 484.4h0.8v0.8h-0.8zM280.6 489.5h0.8v0.8h-0.8zM285.1 487.2h0.8v0.8h-0.8zM282.2 482.1h0.8v0.8h-0.8zM282.7 494.8h0.8v0.8h-0.8zM289.3 470.8h0.8v0.8h-0.8zM287.3 484.5h0.8v0.8h-0.8zM290.0 471.1h0.8v0.8h-0.8zM282.2 492.3h0.8v0.8h-0.8zM282.1 487.9h0.8v0.8h-0.8zM283.1 491.0h0.8v0.8h-0.8zM285.4 497.0h0.8v0.8h-0.8zM281.9 498.5h0.8v0.8h-0.8zM288.9 496.0h0.8v0.8h-0.8zM281.9 491.5h0.8v0.8h-0.8zM287.4 495.8h0.8v0.8h-0.8zM281.5 493.7h0.8v0.8h-0.8zM282.0 491.3h0.8v0.8h-0.8zM286.3 481.8h0.8v0.8h-0.8zM284.6 487.2h0.8v0.8h-0.8zM284.0 484.1h0.8v0.8h-0.8zM282.9 491.1h0.8v0.8h-0.8zM284.8 493.0h0.8v0.8h-0.8zM283.7 480.1h0.8v0.8h-0.8zM290.2 483.0h0.8v0.8h-0.8zM286.8 486.9h0.8v0.8h-0.8zM286.5 470.5h0.8v0.8h-0.8zM281.2 490.7h0.8v0.8h-0.8zM292.4 477.2h0.8v0.8h-0.8zM286.0 479.1h0.8v0.8h-0.8zM282.5 486.3h0.8v0.8h-0.8zM281.3 490.4h0.8v0.8h-0.8zM277.9 481.0h0.8v0.8h-0.8zM282.3 487.0h0.8v0.8h-0.8zM279.6 478.7h0.8v0.8h-0.8zM281.9 474.4h0.8v0.8h-0.8zM288.1 484.5h0.8v0.8h-0.8zM283.4 482.6h0.8v0.8h-0.8zM281.1 490.7h0.8v0.8h-0.8zM288.4 471.8h0.8v0.8h-0.8zM283.4 475.4h0.8v0.8h-0.8zM289.8 475.6h0.8v0.8h-0.8zM283.0 487.1h0.8v0.8h-0.8zM285.0 487.3h0.8v0.8h-0.8zM282.2 500.0h0.8v0.8h-0.8zM283.0 480.5h0.8v0.8h-0.8zM284.0 492.1h0.8v0.8h-0.8zM287.2 492.7h0.8v0.8h-0.8zM283.8 491.6h0.8v0.8h-0.8zM281.9 480.1h0.8v0.8h-0.8zM278.6 493.3h0.8v0.8h-0.8zM286.8 492.4h0.8v0.8h-0.8zM281.5 491.0h0.8v0.8h-0.8zM281.0 485.1h0.8v0.8h-0.8zM285.1 489.3h0.8v0.8h-0.8zM285.4 486.5h0.8v0.8h-0.8zM284.8 495.0h0.8v0.8h-0.8zM281.9 502.3h0.8v0.8h-0.8zM279.3 480.7h0.8v0.8h-0.8zM284.7 495.5h0.8v0.8h-0.8zM284.8 476.7h0.8v0.8h-0.8zM285.0 473.3h0.8v0.8h-0.8zM280.9 491.4h0.8v0.8h-0.8zM286.2 478.5h0.8v0.8h-0.8zM285.3 472.5h0.8v0.8h-0.8zM285.5 478.8h0.8v0.8h-0.8zM284.3 502.0h0.8v0.8h-0.8zM284.4 475.8h0.8v0.8h-0.8zM283.3 483.5h0.8v0.8h-0.8zM282.3 500.4h0.8v0.8h-0.8zM282.3 470.9h0.8v0.8h-0.8zM282.2 496.1h0.8v0.8h-0.8zM287.2 477.3h0.8v0.8h-0.8zM285.8 490.2h0.8v0.8h-0.8zM284.3 469.0h0.8v0.8h-0.8zM283.6 466.9h0.8v0.8h-0.8zM285.6 480.9h0.8v0.8h-0.8zM284.7 478.1h0.8v0.8h-0.8zM284.6 483.1h0.8v0.8h-0.8zM288.1 485.7h0.8v0.8h-0.8zM284.6 472.0h0.8v0.8h-0.8zM286.8 488.6h0.8v0.8h-0.8zM283.5 498.5h0.8v0.8h-0.8zM285.7 491.7h0.8v0.8h-0.8zM281.3 489.7h0.8v0.8h-0.8zM283.4 487.8h0.8v0.8h-0.8zM285.5 476.3h0.8v0.8h-0.8zM283.8 482.0h0.8v0.8h-0.8zM283.7 488.7h0.8v0.8h-0.8zM283.5 481.4h0.8v0.8h-0.8zM289.2 482.8h0.8v0.8h-0.8zM277.9 482.1h0.8v0.8h-0.8zM285.5 491.9h0.8v0.8h-0.8zM283.9 488.2h0.8v0.8h-0.8zM282.0 476.2h0.8v0.8h-0.8zM281.5 492.4h0.8v0.8h-0.8zM279.6 485.1h0.8v0.8h-0.8zM286.2 477.6h0.8v0.8h-0.8zM285.9 486.6h0.8v0.8h-0.8zM284.3 493.9h0.8v0.8h-0.8zM288.5 487.3h0.8v0.8h-0.8zM279.3 483.3h0.8v0.8h-0.8zM282.6 471.5h0.8v0.8h-0.8zM282.7 484.7h0.8v0.8h-0.8zM284.7 496.9h0.8v0.8h-0.8zM286.0 474.1h0.8v0.8h-0.8zM280.3 495.6h0.8v0.8h-0.8zM284.5 480.4h0.8v0.8h-0.8zM285.5 491.4h0.8v0.8h-0.8zM279.2 494.5h0.8v0.8h-0.8zM284.5 494.4h0.8v0.8h-0.8zM286.1 489.8h0.8v0.8h-0.8zM286.7 488.0h0.8v0.8h-0.8zM287.0 483.8h0.8v0.8h-0.8zM282.3 490.4h0.8v0.8h-0.8zM277.1 488.6h0.8v0.8h-0.8zM279.2 489.3h0.8v0.8h-0.8zM281.9 479.8h0.8v0.8h-0.8zM284.6 470.9h0.8v0.8h-0.8zM286.4 471.3h0.8v0.8h-0.8zM285.0 472.0h0.8v0.8h-0.8zM285.0 481.9h0.8v0.8h-0.8zM287.7 486.9h0.8v0.8h-0.8zM278.6 491.7h0.8v0.8h-0.8zM284.9 481.2h0.8v0.8h-0.8zM284.5 496.0h0.8v0.8h-0.8zM287.9 478.7h0.8v0.8h-0.8zM288.6 495.3h0.8v0.8h-0.8zM286.4 490.6h0.8v0.8h-0.8zM281.8 478.1h0.8v0.8h-0.8zM286.0 479.5h0.8v0.8h-0.8zM281.9 480.9h0.8v0.8h-0.8zM285.6 479.4h0.8v0.8h-0.8zM281.4 497.4h0.8v0.8h-0.8zM283.3 477.0h0.8v0.8h-0.8zM284.7 484.9h0.8v0.8h-0.8zM282.8 479.1h0.8v0.8h-0.8zM283.6 489.7h0.8v0.8h-0.8zM283.0 492.8h0.8v0.8h-0.8zM285.0 489.4h0.8v0.8h-0.8zM282.0 486.0h0.8v0.8h-0.8zM282.0 475.8h0.8v0.8h-0.8zM278.8 484.4h0.8v0.8h-0.8zM285.9 475.7h0.8v0.8h-0.8zM285.5 487.1h0.8v0.8h-0.8zM280.3 488.7h0.8v0.8h-0.8zM278.1 487.7h0.8v0.8h-0.8zM286.0 483.7h0.8v0.8h-0.8zM283.6 488.2h0.8v0.8h-0.8zM286.7 474.7h0.8v0.8h-0.8zM284.6 479.6h0.8v0.8h-0.8zM285.1 499.4h0.8v0.8h-0.8zM285.7 476.8h0.8v0.8h-0.8zM285.1 469.0h0.8v0.8h-0.8zM286.4 488.8h0.8v0.8h-0.8zM280.1 489.0h0.8v0.8h-0.8zM284.4 479.0h0.8v0.8h-0.8zM284.0 487.4h0.8v0.8h-0.8zM282.2 499.8h0.8v0.8h-0.8zM283.9 494.6h0.8v0.8h-0.8zM283.3 480.0h0.8v0.8h-0.8zM278.4 490.8h0.8v0.8h-0.8zM289.4 487.7h0.8v0.8h-0.8zM284.1 482.4h0.8v0.8h-0.8zM282.5 490.8h0.8v0.8h-0.8zM281.2 476.8h0.8v0.8h-0.8zM284.6 478.8h0.8v0.8h-0.8zM283.7 481.6h0.8v0.8h-0.8zM279.3 493.3h0.8v0.8h-0.8zM287.6 480.8h0.8v0.8h-0.8zM287.0 476.2h0.8v0.8h-0.8zM278.1 492.3h0.8v0.8h-0.8zM286.7 476.1h0.8v0.8h-0.8zM282.6 479.0h0.8v0.8h-0.8zM284.9 496.4h0.8v0.8h-0.8zM285.3 487.4h0.8v0.8h-0.8zM287.0 471.6h0.8v0.8h-0.8zM285.2 489.0h0.8v0.8h-0.8zM288.3 484.5h0.8v0.8h-0.8zM283.3 482.9h0.8v0.8h-0.8zM283.4 482.0h0.8v0.8h-0.8zM282.4 492.8h0.8v0.8h-0.8zM283.5 478.6h0.8v0.8h-0.8zM286.3 500.3h0.8v0.8h-0.8zM284.0 491.2h0.8v0.8h-0.8zM287.9 474.3h0.8v0.8h-0.8zM284.0 493.9h0.8v0.8h-0.8zM283.2 491.5h0.8v0.8h-0.8zM287.0 483.1h0.8v0.8h-0.8zM282.5 483.2h0.8v0.8h-0.8zM283.4 503.1h0.8v0.8h-0.8zM287.6 487.5h0.8v0.8h-0.8zM284.7 482.5h0.8v0.8h-0.8zM283.6 495.9h0.8v0.8h-0.8zM282.5 489.4h0.8v0.8h-0.8zM286.0 486.3h0.8v0.8h-0.8zM286.1 492.3h0.8v0.8h-0.8zM287.5 476.3h0.8v0.8h-0.8zM284.4 472.5h0.8v0.8h-0.8zM284.1 486.5h0.8v0.8h-0.8zM281.1 494.5h0.8v0.8h-0.8zM285.7 480.2h0.8v0.8h-0.8zM286.6 477.4h0.8v0.8h-0.8zM285.0 479.8h0.8v0.8h-0.8zM284.9 474.0h0.8v0.8h-0.8zM285.7 480.4h0.8v0.8h-0.8zM283.9 495.7h0.8v0.8h-0.8zM284.2 497.0h0.8v0.8h-0.8zM281.9 486.5h0.8v0.8h-0.8zM282.5 478.5h0.8v0.8h-0.8zM282.7 484.4h0.8v0.8h-0.8zM280.9 497.2h0.8v0.8h-0.8zM283.9 495.4h0.8v0.8h-0.8zM289.0 491.6h0.8v0.8h-0.8zM284.6 481.3h0.8v0.8h-0.8zM278.6 489.9h0.8v0.8h-0.8zM282.0 482.5h0.8v0.8h-0.8zM281.2 484.4h0.8v0.8h-0.8zM285.3 486.3h0.8v0.8h-0.8zM283.6 496.1h0.8v0.8h-0.8zM289.1 482.8h0.8v0.8h-0.8zM283.9 488.3h0.8v0.8h-0.8zM282.9 492.4h0.8v0.8h-0.8zM287.9 477.8h0.8v0.8h-0.8zM281.2 485.0h0.8v0.8h-0.8zM284.8 476.1h0.8v0.8h-0.8zM286.8 490.4h0.8v0.8h-0.8zM285.5 467.1h0.8v0.8h-0.8zM284.8 488.5h0.8v0.8h-0.8zM280.9 497.9h0.8v0.8h-0.8zM281.4 474.9h0.8v0.8h-0.8zM284.5 472.0h0.8v0.8h-0.8zM286.5 488.4h0.8v0.8h-0.8zM282.8 481.9h0.8v0.8h-0.8zM281.9 478.2h0.8v0.8h-0.8zM280.0 481.8h0.8v0.8h-0.8zM288.5 492.2h0.8v0.8h-0.8zM279.2 487.2h0.8v0.8h-0.8zM281.8 500.0h0.8v0.8h-0.8zM280.2 488.2h0.8v0.8h-0.8zM285.8 486.2h0.8v0.8h-0.8zM280.1 479.0h0.8v0.8h-0.8zM279.9 485.0h0.8v0.8h-0.8zM285.2 476.9h0.8v0.8h-0.8zM279.0 487.6h0.8v0.8h-0.8zM286.0 478.2h0.8v0.8h-0.8zM286.3 493.6h0.8v0.8h-0.8zM284.9 478.7h0.8v0.8h-0.8zM280.0 472.6h0.8v0.8h-0.8zM281.5 498.5h0.8v0.8h-0.8zM283.5 482.9h0.8v0.8h-0.8zM287.7 486.4h0.8v0.8h-0.8zM288.7 480.2h0.8v0.8h-0.8zM285.2 497.9h0.8v0.8h-0.8zM283.6 490.9h0.8v0.8h-0.8zM284.9 468.8h0.8v0.8h-0.8zM284.9 472.3h0.8v0.8h-0.8zM282.1 485.9h0.8v0.8h-0.8zM282.1 491.2h0.8v0.8h-0.8zM282.1 486.7h0.8v0.8h-0.8zM283.4 490.0h0.8v0.8h-0.8zM287.8 482.9h0.8v0.8h-0.8zM280.2 484.6h0.8v0.8h-0.8zM289.6 479.4h0.8v0.8h-0.8zM285.6 486.7h0.8v0.8h-0.8zM286.7 484.1h0.8v0.8h-0.8zM284.8 475.4h0.8v0.8h-0.8zM283.6 487.7h0.8v0.8h-0.8zM287.0 490.7h0.8v0.8h-0.8zM284.2 474.0h0.8v0.8h-0.8zM283.1 473.5h0.8v0.8h-0.8zM285.1 469.8h0.8v0.8h-0.8zM281.8 490.5h0.8v0.8h-0.8zM287.0 493.0h0.8v0.8h-0.8zM285.3 474.5h0.8v0.8h-0.8zM284.2 497.9h0.8v0.8h-0.8zM283.4 494.6h0.8v0.8h-0.8zM284.5 481.4h0.8v0.8h-0.8zM286.9 490.8h0.8v0.8h-0.8zM285.2 483.4h0.8v0.8h-0.8zM287.3 467.2h0.8v0.8h-0.8zM279.4 481.8h0.8v0.8h-0.8zM285.8 481.3h0.8v0.8h-0.8zM287.2 480.0h0.8v0.8h-0.8zM283.9 485.9h0.8v0.8h-0.8zM279.1 484.6h0.8v0.8h-0.8zM284.2 484.3h0.8v0.8h-0.8zM283.1 487.2h0.8v0.8h-0.8zM287.8 487.1h0.8v0.8h-0.8zM287.5 472.2h0.8v0.8h-0.8zM286.1 494.5h0.8v0.8h-0.8zM284.8 487.0h0.8v0.8h-0.8zM286.0 473.6h0.8v0.8h-0.8zM285.8 474.0h0.8v0.8h-0.8zM286.5 493.8h0.8v0.8h-0.8zM283.9 491.9h0.8v0.8h-0.8zM286.4 484.5h0.8v0.8h-0.8zM286.1 493.6h0.8v0.8h-0.8zM285.1 476.4h0.8v0.8h-0.8zM283.2 501.8h0.8v0.8h-0.8zM283.0 482.7h0.8v0.8h-0.8zM280.8 490.4h0.8v0.8h-0.8zM282.6 487.0h0.8v0.8h-0.8zM281.8 492.5h0.8v0.8h-0.8zM280.4 482.7h0.8v0.8h-0.8zM285.4 479.5h0.8v0.8h-0.8zM287.3 476.6h0.8v0.8h-0.8zM287.1 485.2h0.8v0.8h-0.8zM288.9 484.6h0.8v0.8h-0.8zM284.1 482.2h0.8v0.8h-0.8zM290.5 490.9h0.8v0.8h-0.8zM282.6 497.7h0.8v0.8h-0.8zM285.7 477.6h0.8v0.8h-0.8zM288.4 474.7h0.8v0.8h-0.8zM279.2 490.0h0.8v0.8h-0.8zM284.2 498.1h0.8v0.8h-0.8zM284.9 492.1h0.8v0.8h-0.8zM290.4 476.1h0.8v0.8h-0.8zM283.7 477.0h0.8v0.8h-0.8zM284.9 485.8h0.8v0.8h-0.8zM282.0 468.2h0.8v0.8h-0.8zM284.9 481.1h0.8v0.8h-0.8zM280.4 482.1h0.8v0.8h-0.8zM280.2 491.5h0.8v0.8h-0.8zM286.1 486.0h0.8v0.8h-0.8zM282.0 489.3h0.8v0.8h-0.8zM280.9 481.9h0.8v0.8h-0.8zM286.6 483.5h0.8v0.8h-0.8zM285.6 474.2h0.8v0.8h-0.8zM282.4 493.8h0.8v0.8h-0.8zM280.5 480.2h0.8v0.8h-0.8zM282.8 479.7h0.8v0.8h-0.8zM280.0 496.6h0.8v0.8h-0.8zM283.1 487.3h0.8v0.8h-0.8zM282.3 496.0h0.8v0.8h-0.8zM284.5 477.1h0.8v0.8h-0.8zM281.5 492.8h0.8v0.8h-0.8zM284.6 471.8h0.8v0.8h-0.8zM285.7 493.9h0.8v0.8h-0.8zM283.6 476.7h0.8v0.8h-0.8zM286.4 486.8h0.8v0.8h-0.8zM285.7 490.9h0.8v0.8h-0.8zM286.2 485.3h0.8v0.8h-0.8zM278.5 493.4h0.8v0.8h-0.8zM285.9 489.2h0.8v0.8h-0.8zM284.1 488.1h0.8v0.8h-0.8zM284.0 497.7h0.8v0.8h-0.8zM283.0 486.8h0.8v0.8h-0.8zM282.3 499.3h0.8v0.8h-0.8zM280.8 499.6h0.8v0.8h-0.8zM279.9 489.2h0.8v0.8h-0.8zM285.0 483.0h0.8v0.8h-0.8zM280.7 493.2h0.8v0.8h-0.8zM281.9 491.1h0.8v0.8h-0.8zM285.4 495.3h0.8v0.8h-0.8zM287.4 488.9h0.8v0.8h-0.8zM282.6 496.8h0.8v0.8h-0.8zM277.9 487.2h0.8v0.8h-0.8zM283.8 496.5h0.8v0.8h-0.8zM286.6 485.0h0.8v0.8h-0.8zM284.7 480.4h0.8v0.8h-0.8zM282.3 493.1h0.8v0.8h-0.8zM283.1 471.1h0.8v0.8h-0.8zM285.1 479.2h0.8v0.8h-0.8zM290.8 493.2h0.8v0.8h-0.8zM284.6 497.2h0.8v0.8h-0.8zM283.2 484.5h0.8v0.8h-0.8zM280.9 490.7h0.8v0.8h-0.8zM285.4 484.8h0.8v0.8h-0.8zM280.5 482.5h0.8v0.8h-0.8zM282.0 493.1h0.8v0.8h-0.8zM284.3 476.4h0.8v0.8h-0.8zM283.0 487.8h0.8v0.8h-0.8zM284.6 492.7h0.8v0.8h-0.8zM284.3 481.8h0.8v0.8h-0.8zM280.2 495.8h0.8v0.8h-0.8zM278.7 480.6h0.8v0.8h-0.8zM284.6 483.0h0.8v0.8h-0.8zM278.6 476.0h0.8v0.8h-0.8zM280.5 481.4h0.8v0.8h-0.8zM288.5 494.9h0.8v0.8h-0.8zM281.9 485.5h0.8v0.8h-0.8zM288.2 485.2h0.8v0.8h-0.8zM281.8 487.9h0.8v0.8h-0.8zM285.2 483.4h0.8v0.8h-0.8zM285.7 488.3h0.8v0.8h-0.8zM286.9 490.3h0.8v0.8h-0.8zM284.0 477.8h0.8v0.8h-0.8zM280.7 485.2h0.8v0.8h-0.8zM284.6 478.7h0.8v0.8h-0.8zM283.0 468.2h0.8v0.8h-0.8zM279.0 490.2h0.8v0.8h-0.8zM285.0 498.5h0.8v0.8h-0.8zM280.9 494.1h0.8v0.8h-0.8zM287.5 485.1h0.8v0.8h-0.8zM287.7 478.2h0.8v0.8h-0.8zM281.1 497.7h0.8v0.8h-0.8zM282.6 487.2h0.8v0.8h-0.8zM282.6 495.4h0.8v0.8h-0.8zM287.3 481.5h0.8v0.8h-0.8zM283.7 489.6h0.8v0.8h-0.8zM286.8 492.6h0.8v0.8h-0.8zM283.6 491.2h0.8v0.8h-0.8zM287.8 481.7h0.8v0.8h-0.8zM282.8 498.2h0.8v0.8h-0.8zM287.6 491.1h0.8v0.8h-0.8zM287.2 478.5h0.8v0.8h-0.8zM288.5 477.6h0.8v0.8h-0.8zM286.6 491.7h0.8v0.8h-0.8zM280.8 478.1h0.8v0.8h-0.8zM290.1 479.7h0.8v0.8h-0.8zM284.7 486.1h0.8v0.8h-0.8zM281.3 478.7h0.8v0.8h-0.8zM283.7 477.1h0.8v0.8h-0.8zM282.1 482.2h0.8v0.8h-0.8zM286.6 481.0h0.8v0.8h-0.8zM283.8 481.2h0.8v0.8h-0.8zM283.7 492.4h0.8v0.8h-0.8zM287.3 472.8h0.8v0.8h-0.8zM280.1 484.4h0.8v0.8h-0.8zM279.5 491.7h0.8v0.8h-0.8zM284.7 486.9h0.8v0.8h-0.8zM282.9 469.4h0.8v0.8h-0.8zM286.7 469.7h0.8v0.8h-0.8zM280.3 492.9h0.8v0.8h-0.8zM280.8 489.9h0.8v0.8h-0.8zM286.2 488.5h0.8v0.8h-0.8zM288.9 481.5h0.8v0.8h-0.8zM284.4 481.8h0.8v0.8h-0.8zM283.0 483.5h0.8v0.8h-0.8zM280.5 482.1h0.8v0.8h-0.8zM282.5 491.5h0.8v0.8h-0.8zM283.5 478.7h0.8v0.8h-0.8zM281.0 483.9h0.8v0.8h-0.8zM282.1 490.4h0.8v0.8h-0.8zM286.4 486.9h0.8v0.8h-0.8zM284.9 480.1h0.8v0.8h-0.8zM279.3 474.6h0.8v0.8h-0.8zM288.5 489.1h0.8v0.8h-0.8zM284.8 499.9h0.8v0.8h-0.8zM279.8 490.7h0.8v0.8h-0.8zM285.1 499.5h0.8v0.8h-0.8zM280.0 490.5h0.8v0.8h-0.8zM285.0 492.1h0.8v0.8h-0.8zM283.5 496.2h0.8v0.8h-0.8zM280.8 496.6h0.8v0.8h-0.8zM284.5 491.2h0.8v0.8h-0.8zM283.5 495.3h0.8v0.8h-0.8zM284.4 487.0h0.8v0.8h-0.8zM282.6 472.4h0.8v0.8h-0.8zM286.7 474.2h0.8v0.8h-0.8zM283.3 485.5h0.8v0.8h-0.8zM287.8 471.9h0.8v0.8h-0.8zM286.4 467.2h0.8v0.8h-0.8zM286.2 483.8h0.8v0.8h-0.8zM281.9 478.9h0.8v0.8h-0.8zM288.8 470.9h0.8v0.8h-0.8zM284.2 494.5h0.8v0.8h-0.8zM284.0 485.7h0.8v0.8h-0.8zM281.8 498.6h0.8v0.8h-0.8zM283.1 496.6h0.8v0.8h-0.8zM287.3 484.8h0.8v0.8h-0.8zM279.2 479.4h0.8v0.8h-0.8zM285.8 481.8h0.8v0.8h-0.8zM280.3 498.2h0.8v0.8h-0.8zM280.9 492.0h0.8v0.8h-0.8zM285.4 485.1h0.8v0.8h-0.8zM284.9 492.1h0.8v0.8h-0.8zM282.7 492.3h0.8v0.8h-0.8zM285.1 485.6h0.8v0.8h-0.8zM288.5 475.9h0.8v0.8h-0.8zM283.4 496.8h0.8v0.8h-0.8zM280.9 486.1h0.8v0.8h-0.8zM282.6 491.0h0.8v0.8h-0.8zM284.0 476.9h0.8v0.8h-0.8zM288.2 485.7h0.8v0.8h-0.8zM283.5 481.0h0.8v0.8h-0.8zM280.8 476.7h0.8v0.8h-0.8zM280.8 500.6h0.8v0.8h-0.8zM287.8 475.5h0.8v0.8h-0.8zM284.7 493.1h0.8v0.8h-0.8zM281.2 482.7h0.8v0.8h-0.8zM280.1 498.6h0.8v0.8h-0.8zM285.8 490.2h0.8v0.8h-0.8zM281.8 476.7h0.8v0.8h-0.8zM283.9 479.9h0.8v0.8h-0.8zM286.6 482.2h0.8v0.8h-0.8zM285.0 493.7h0.8v0.8h-0.8zM281.6 482.3h0.8v0.8h-0.8zM284.4 496.0h0.8v0.8h-0.8zM280.5 478.2h0.8v0.8h-0.8zM284.0 491.8h0.8v0.8h-0.8zM284.0 471.0h0.8v0.8h-0.8zM277.7 489.8h0.8v0.8h-0.8zM287.5 486.2h0.8v0.8h-0.8zM282.4 499.0h0.8v0.8h-0.8zM285.7 477.5h0.8v0.8h-0.8zM283.1 480.8h0.8v0.8h-0.8zM291.2 492.1h0.8v0.8h-0.8zM287.8 470.3h0.8v0.8h-0.8zM284.2 476.9h0.8v0.8h-0.8zM288.2 495.2h0.8v0.8h-0.8zM286.0 491.7h0.8v0.8h-0.8zM288.6 486.2h0.8v0.8h-0.8zM277.4 489.4h0.8v0.8h-0.8zM285.2 481.3h0.8v0.8h-0.8zM281.7 479.1h0.8v0.8h-0.8zM284.8 471.8h0.8v0.8h-0.8zM282.1 502.4h0.8v0.8h-0.8zM284.9 483.2h0.8v0.8h-0.8zM277.4 490.3h0.8v0.8h-0.8zM282.3 491.2h0.8v0.8h-0.8zM279.2 492.6h0.8v0.8h-0.8zM287.3 480.6h0.8v0.8h-0.8zM283.9 493.0h0.8v0.8h-0.8zM286.0 482.6h0.8v0.8h-0.8zM286.8 485.6h0.8v0.8h-0.8zM285.7 490.2h0.8v0.8h-0.8zM281.7 499.9h0.8v0.8h-0.8zM284.4 482.8h0.8v0.8h-0.8zM279.1 480.8h0.8v0.8h-0.8zM282.0 491.1h0.8v0.8h-0.8zM284.5 469.2h0.8v0.8h-0.8zM283.2 484.5h0.8v0.8h-0.8zM283.3 500.1h0.8v0.8h-0.8zM283.7 487.1h0.8v0.8h-0.8zM289.0 476.7h0.8v0.8h-0.8zM287.0 481.8h0.8v0.8h-0.8zM284.8 478.6h0.8v0.8h-0.8zM282.6 490.7h0.8v0.8h-0.8zM281.8 495.1h0.8v0.8h-0.8zM287.8 480.9h0.8v0.8h-0.8zM281.3 498.1h0.8v0.8h-0.8zM286.8 483.9h0.8v0.8h-0.8zM282.1 476.7h0.8v0.8h-0.8zM283.1 491.1h0.8v0.8h-0.8zM281.4 477.8h0.8v0.8h-0.8zM284.3 495.2h0.8v0.8h-0.8zM283.9 492.5h0.8v0.8h-0.8zM282.0 489.9h0.8v0.8h-0.8zM278.8 491.6h0.8v0.8h-0.8zM276.2 484.6h0.8v0.8h-0.8zM281.7 495.7h0.8v0.8h-0.8zM286.1 492.2h0.8v0.8h-0.8zM281.1 485.4h0.8v0.8h-0.8zM285.0 480.6h0.8v0.8h-0.8zM282.2 478.2h0.8v0.8h-0.8zM285.3 489.5h0.8v0.8h-0.8zM280.7 494.6h0.8v0.8h-0.8zM287.8 481.9h0.8v0.8h-0.8zM281.5 483.0h0.8v0.8h-0.8zM283.9 478.0h0.8v0.8h-0.8zM288.8 475.3h0.8v0.8h-0.8zM285.2 480.4h0.8v0.8h-0.8zM283.7 491.0h0.8v0.8h-0.8zM283.7 484.0h0.8v0.8h-0.8zM285.3 483.5h0.8v0.8h-0.8zM280.6 492.9h0.8v0.8h-0.8zM280.5 487.5h0.8v0.8h-0.8zM287.5 492.4h0.8v0.8h-0.8zM283.0 497.6h0.8v0.8h-0.8zM284.1 490.6h0.8v0.8h-0.8zM283.9 485.9h0.8v0.8h-0.8zM285.4 471.1h0.8v0.8h-0.8zM287.5 472.9h0.8v0.8h-0.8zM283.9 492.6h0.8v0.8h-0.8zM284.9 472.8h0.8v0.8h-0.8zM282.0 487.4h0.8v0.8h-0.8zM285.3 476.5h0.8v0.8h-0.8zM286.3 494.3h0.8v0.8h-0.8zM282.0 490.7h0.8v0.8h-0.8zM283.5 479.9h0.8v0.8h-0.8zM286.8 492.3h0.8v0.8h-0.8zM284.6 486.9h0.8v0.8h-0.8zM287.6 481.5h0.8v0.8h-0.8zM280.9 486.8h0.8v0.8h-0.8zM281.5 498.7h0.8v0.8h-0.8zM282.3 477.3h0.8v0.8h-0.8zM284.4 494.5h0.8v0.8h-0.8zM282.7 470.2h0.8v0.8h-0.8zM286.3 475.2h0.8v0.8h-0.8zM285.0 475.5h0.8v0.8h-0.8zM285.6 485.6h0.8v0.8h-0.8zM284.9 498.3h0.8v0.8h-0.8zM287.4 475.7h0.8v0.8h-0.8zM278.6 478.8h0.8v0.8h-0.8zM285.9 486.8h0.8v0.8h-0.8zM287.8 478.4h0.8v0.8h-0.8zM282.9 487.0h0.8v0.8h-0.8zM286.7 479.8h0.8v0.8h-0.8zM286.0 465.4h0.8v0.8h-0.8zM286.9 480.3h0.8v0.8h-0.8zM283.0 473.2h0.8v0.8h-0.8zM287.1 493.5h0.8v0.8h-0.8zM281.4 479.4h0.8v0.8h-0.8zM286.4 479.7h0.8v0.8h-0.8zM286.4 467.7h0.8v0.8h-0.8zM286.0 486.1h0.8v0.8h-0.8zM286.2 469.6h0.8v0.8h-0.8zM288.8 487.7h0.8v0.8h-0.8zM285.9 492.6h0.8v0.8h-0.8zM285.3 490.4h0.8v0.8h-0.8zM287.0 493.8h0.8v0.8h-0.8zM280.3 487.0h0.8v0.8h-0.8zM284.1 478.3h0.8v0.8h-0.8zM280.6 494.4h0.8v0.8h-0.8zM280.7 486.7h0.8v0.8h-0.8zM284.4 501.2h0.8v0.8h-0.8zM284.1 494.7h0.8v0.8h-0.8zM289.2 481.3h0.8v0.8h-0.8zM285.0 496.8h0.8v0.8h-0.8zM275.7 494.1h0.8v0.8h-0.8zM282.7 492.4h0.8v0.8h-0.8zM282.1 497.8h0.8v0.8h-0.8zM281.6 495.4h0.8v0.8h-0.8zM288.7 490.1h0.8v0.8h-0.8zM281.9 491.1h0.8v0.8h-0.8zM287.4 482.9h0.8v0.8h-0.8zM283.1 494.0h0.8v0.8h-0.8zM283.2 490.6h0.8v0.8h-0.8zM282.6 483.0h0.8v0.8h-0.8zM289.2 483.5h0.8v0.8h-0.8zM283.6 489.3h0.8v0.8h-0.8zM281.4 482.7h0.8v0.8h-0.8zM283.9 491.4h0.8v0.8h-0.8zM280.9 478.7h0.8v0.8h-0.8zM288.1 475.1h0.8v0.8h-0.8zM282.6 473.0h0.8v0.8h-0.8zM281.9 486.4h0.8v0.8h-0.8zM284.9 482.5h0.8v0.8h-0.8zM280.5 491.0h0.8v0.8h-0.8zM288.4 476.1h0.8v0.8h-0.8zM283.1 494.4h0.8v0.8h-0.8zM284.7 482.3h0.8v0.8h-0.8zM283.4 494.8h0.8v0.8h-0.8zM283.0 497.3h0.8v0.8h-0.8zM284.0 489.2h0.8v0.8h-0.8zM288.2 495.3h0.8v0.8h-0.8zM283.1 488.3h0.8v0.8h-0.8zM280.6 492.0h0.8v0.8h-0.8zM285.8 498.1h0.8v0.8h-0.8zM286.7 468.5h0.8v0.8h-0.8zM282.2 491.1h0.8v0.8h-0.8zM282.3 489.1h0.8v0.8h-0.8zM287.3 490.7h0.8v0.8h-0.8zM285.3 476.0h0.8v0.8h-0.8zM285.1 470.6h0.8v0.8h-0.8zM284.2 480.6h0.8v0.8h-0.8zM282.2 484.8h0.8v0.8h-0.8zM286.1 482.4h0.8v0.8h-0.8zM280.5 481.7h0.8v0.8h-0.8zM281.4 479.6h0.8v0.8h-0.8zM278.5 487.2h0.8v0.8h-0.8zM283.1 478.3h0.8v0.8h-0.8zM280.2 495.6h0.8v0.8h-0.8zM283.9 494.6h0.8v0.8h-0.8zM281.2 495.3h0.8v0.8h-0.8zM283.5 484.8h0.8v0.8h-0.8zM286.3 479.9h0.8v0.8h-0.8zM283.7 489.2h0.8v0.8h-0.8zM281.5 498.3h0.8v0.8h-0.8zM282.5 484.6h0.8v0.8h-0.8zM281.2 492.0h0.8v0.8h-0.8zM284.9 477.3h0.8v0.8h-0.8zM285.2 474.3h0.8v0.8h-0.8zM287.9 484.5h0.8v0.8h-0.8zM285.9 488.7h0.8v0.8h-0.8zM284.5 491.2h0.8v0.8h-0.8zM282.6 482.4h0.8v0.8h-0.8zM285.7 477.6h0.8v0.8h-0.8zM280.5 494.6h0.8v0.8h-0.8zM277.8 490.9h0.8v0.8h-0.8zM285.5 484.0h0.8v0.8h-0.8zM286.0 489.9h0.8v0.8h-0.8zM274.8 484.0h0.8v0.8h-0.8zM285.2 497.6h0.8v0.8h-0.8zM278.6 488.2h0.8v0.8h-0.8zM280.2 491.7h0.8v0.8h-0.8zM283.4 500.7h0.8v0.8h-0.8zM282.4 494.8h0.8v0.8h-0.8zM283.1 489.8h0.8v0.8h-0.8zM280.3 487.3h0.8v0.8h-0.8zM286.9 490.7h0.8v0.8h-0.8zM284.0 479.3h0.8v0.8h-0.8zM283.3 483.5h0.8v0.8h-0.8zM288.2 490.4h0.8v0.8h-0.8zM284.3 481.3h0.8v0.8h-0.8zM285.7 483.8h0.8v0.8h-0.8zM285.6 491.6h0.8v0.8h-0.8zM283.5 489.3h0.8v0.8h-0.8zM279.5 489.9h0.8v0.8h-0.8zM286.3 474.5h0.8v0.8h-0.8zM281.9 486.6h0.8v0.8h-0.8zM287.7 472.4h0.8v0.8h-0.8zM287.4 473.3h0.8v0.8h-0.8zM274.4 491.0h0.8v0.8h-0.8zM289.7 488.7h0.8v0.8h-0.8zM280.6 483.1h0.8v0.8h-0.8zM284.7 485.3h0.8v0.8h-0.8zM284.6 492.0h0.8v0.8h-0.8zM285.0 472.7h0.8v0.8h-0.8zM284.9 486.2h0.8v0.8h-0.8zM288.0 484.7h0.8v0.8h-0.8zM285.6 478.3h0.8v0.8h-0.8zM283.1 489.2h0.8v0.8h-0.8zM283.6 493.4h0.8v0.8h-0.8zM284.0 485.0h0.8v0.8h-0.8zM283.0 491.7h0.8v0.8h-0.8zM283.1 494.3h0.8v0.8h-0.8zM282.9 496.0h0.8v0.8h-0.8zM285.2 497.9h0.8v0.8h-0.8zM281.9 489.1h0.8v0.8h-0.8z" fill="#000"/>
<line x1="251.20" y1="503.50" x2="251.20" y2="377.50" stroke="#777" stroke-width="1.0"/>
<path d="M248.0,378.4 L254.2,378.4 L251.2,372.8 Z" fill="#000"/>
<line x1="259.30" y1="510.40" x2="313.00" y2="510.40" stroke="#777" stroke-width="1.0"/>
<path d="M312.3,507.5 L312.3,513.3 L318.0,510.4 Z" fill="#000"/>
<text transform="translate(247.40,435.10) rotate(-90)" font-size="8.4" text-anchor="middle">IFN&#947;</text>
<text x="287.00" y="520.00" font-size="8.0" text-anchor="middle">CD8<tspan dy="-3.0" font-size="5.2">+</tspan><tspan dy="3.0">CD90.1</tspan><tspan dy="-3.0" font-size="5.2">+</tspan></text>
<text transform="translate(329.30,398.90) rotate(90)" font-size="8.1" text-anchor="middle">Pmel-vec</text>
<text transform="translate(329.30,469.70) rotate(90)" font-size="8.1" text-anchor="middle">Pmel-mda-7</text>
<text x="351.00" y="362.20" font-size="12.5" font-weight="bold" fill="#000">H</text>
<line x1="403.50" y1="368.80" x2="403.50" y2="500.50" stroke="#707070" stroke-width="1.0"/>
<line x1="403.00" y1="500.50" x2="478.50" y2="500.50" stroke="#707070" stroke-width="1.0"/>
<line x1="401.50" y1="500.10" x2="403.50" y2="500.10" stroke="#707070" stroke-width="0.9"/>
<text x="396.60" y="503.34" font-size="9.0" text-anchor="end">0</text>
<line x1="401.50" y1="474.00" x2="403.50" y2="474.00" stroke="#707070" stroke-width="0.9"/>
<text x="396.60" y="477.24" font-size="9.0" text-anchor="end">10</text>
<line x1="401.50" y1="447.90" x2="403.50" y2="447.90" stroke="#707070" stroke-width="0.9"/>
<text x="396.60" y="451.14" font-size="9.0" text-anchor="end">20</text>
<line x1="401.50" y1="421.80" x2="403.50" y2="421.80" stroke="#707070" stroke-width="0.9"/>
<text x="396.60" y="425.04" font-size="9.0" text-anchor="end">30</text>
<line x1="401.50" y1="395.70" x2="403.50" y2="395.70" stroke="#707070" stroke-width="0.9"/>
<text x="396.60" y="398.94" font-size="9.0" text-anchor="end">40</text>
<line x1="401.50" y1="369.60" x2="403.50" y2="369.60" stroke="#707070" stroke-width="0.9"/>
<text x="396.60" y="372.84" font-size="9.0" text-anchor="end">50</text>
<text transform="translate(367.40,437.75) rotate(-90)" font-size="10.1" text-anchor="middle">CD90.1<tspan dy="-3.7" font-size="6.5">+</tspan><tspan dy="3.7">CD8</tspan><tspan dy="-3.7" font-size="6.5">+</tspan><tspan dy="3.7">IFN</tspan>&#947;<tspan dy="-3.7" font-size="6.5">+</tspan></text>
<text transform="translate(379.40,435.80) rotate(-90)" font-size="9.26" text-anchor="middle">cells/mg tumor (&#215;10<tspan dy="-3.6" font-size="6.2">5</tspan><tspan dy="3.6">)</tspan></text>
<line x1="428.20" y1="484.20" x2="428.20" y2="474.50" stroke="#666" stroke-width="0.8"/>
<line x1="426.90" y1="474.50" x2="429.50" y2="474.50" stroke="#666" stroke-width="0.8"/>
<rect x="422.00" y="484.20" width="12.40" height="16.30" fill="#000"/>
<line x1="428.20" y1="500.50" x2="428.20" y2="502.10" stroke="#707070" stroke-width="0.9"/>
<line x1="453.40" y1="423.10" x2="453.40" y2="381.00" stroke="#666" stroke-width="0.8"/>
<line x1="452.10" y1="381.00" x2="454.70" y2="381.00" stroke="#666" stroke-width="0.8"/>
<rect x="447.20" y="423.10" width="12.40" height="77.40" fill="#000"/>
<line x1="453.40" y1="500.50" x2="453.40" y2="502.10" stroke="#707070" stroke-width="0.9"/>
<line x1="427.70" y1="372.60" x2="450.60" y2="372.60" stroke="#333" stroke-width="1.0"/>
<text x="439.50" y="371.91" font-size="6.4" text-anchor="middle" fill="#000" font-weight="bold">*</text>
<text transform="translate(432.50,507.90) rotate(-30)" font-size="8.0" text-anchor="end">T-vec</text>
<text transform="translate(457.30,510.10) rotate(-30)" font-size="8.0" text-anchor="end">T-mda-7</text>
</svg>
</body></html>
